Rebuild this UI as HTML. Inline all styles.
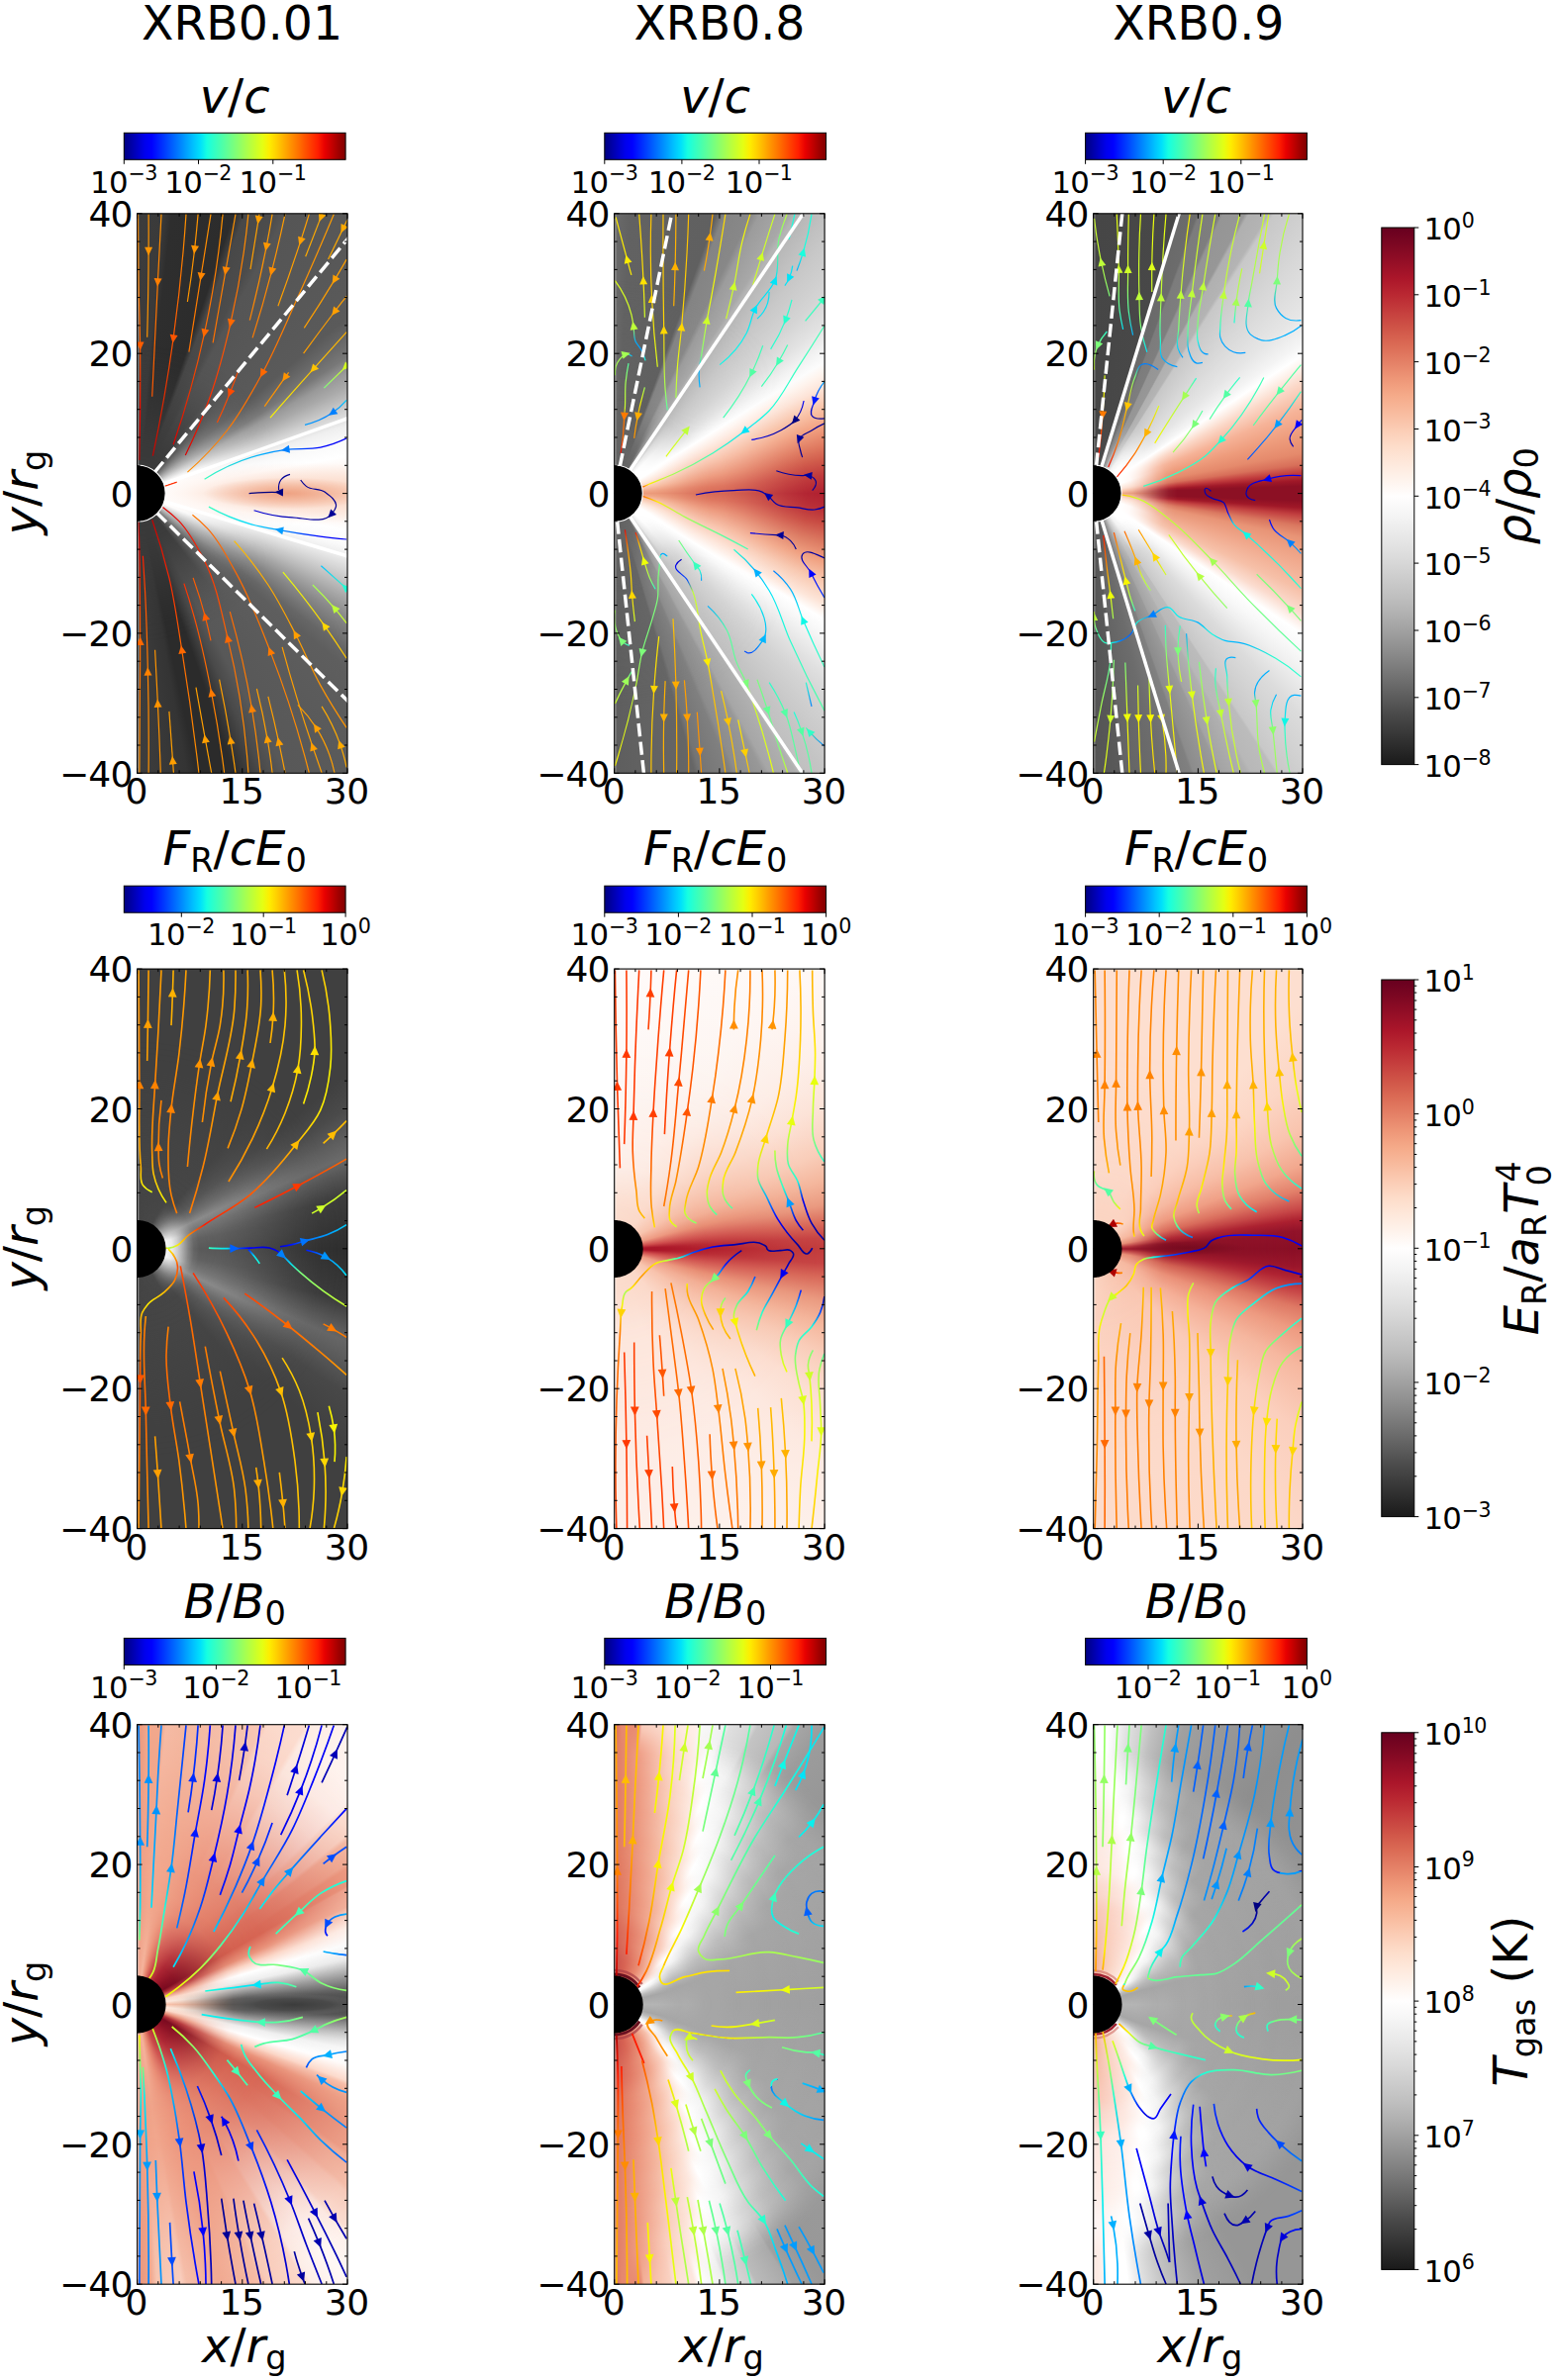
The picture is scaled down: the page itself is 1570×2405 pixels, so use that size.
<!DOCTYPE html>
<html><head><meta charset="utf-8"><title>XRB figure</title>
<style>
html,body{margin:0;padding:0;background:#fff}
#fig{position:relative;width:1570px;height:2405px;overflow:hidden;background:#fff;font-family:"DejaVu Sans","Liberation Sans",sans-serif}
.pb{position:absolute;width:212.4px;height:565.5px;overflow:hidden}
.pb i{position:absolute;left:0;top:0;width:100%;height:100%;display:block}
svg text{font-family:"DejaVu Sans","Liberation Sans",sans-serif;fill:#000}
</style></head><body>
<div id="fig">
<div class="pb" style="left:138.6px;top:215.8px;width:212.4px;background:conic-gradient(from 0deg at 0 50%,#3c3c3c 0deg,#3a3a3a 5deg,#2e2e2e 7deg,#2c2c2c 19deg,#484848 21deg,#4c4c4c 26deg,#555 28deg,#5a5a5a 50deg,#666 53deg,#787878 57deg,#999 60deg,#aaa 63deg,#c0c0c0 66deg,#dedede 70deg,#efefef 72deg,#fafafa 76deg,#fff 80deg,#fdeee6 86deg,#fbe0d2 90deg,#fdeee6 94deg,#fff 100deg,#fafafa 104deg,#ececec 107deg,#d8d8d8 110deg,#bcbcbc 114deg,#a5a5a5 117deg,#888 121deg,#777 124deg,#666 127deg,#5e5e5e 130deg,#5a5a5a 143deg,#585858 152deg,#4a4a4a 156deg,#383838 159deg,#2b2b2b 161deg,#2b2b2b 168deg,#343434 170deg,#383838 174deg,#3e3e3e 180deg)"><i style="background:conic-gradient(from 0deg at 0 50%,#3a3a3a 0deg,#3a3a3a 36deg,#666 44deg,#aaa 54deg,#ddd 62deg,#fff 68deg,#fff 112deg,#ddd 118deg,#aaa 126deg,#666 134deg,#3a3a3a 142deg,#3a3a3a 180deg);-webkit-mask-image:radial-gradient(circle at 0 50%,rgba(0,0,0,1) 30px,rgba(0,0,0,0.93) 50px,rgba(0,0,0,0.74) 70px,rgba(0,0,0,0.5) 90px,rgba(0,0,0,0.26) 110px,rgba(0,0,0,0.07) 130px,rgba(0,0,0,0) 150px);mask-image:radial-gradient(circle at 0 50%,rgba(0,0,0,1) 30px,rgba(0,0,0,0.93) 50px,rgba(0,0,0,0.74) 70px,rgba(0,0,0,0.5) 90px,rgba(0,0,0,0.26) 110px,rgba(0,0,0,0.07) 130px,rgba(0,0,0,0) 150px)"></i><i style="background:radial-gradient(ellipse 86px 16px at 152px 282.5px,rgba(238,160,128,0.95) 0,rgba(238,160,128,0) 100%),radial-gradient(ellipse 155px 31px at 165px 282.5px,rgba(250,200,175,0.65) 0,rgba(250,200,175,0) 100%)"></i></div>
<div class="pb" style="left:620.7px;top:215.8px;width:212.4px;background:conic-gradient(from 0deg at 0 50%,#6a6a6a 0deg,#626262 3deg,#606060 20deg,#848484 21.5deg,#888 26deg,#9c9c9c 27.5deg,#a8a8a8 32deg,#b4b4b4 33deg,#c0c0c0 37deg,#c8c8c8 40deg,#d4d4d4 46deg,#e2e2e2 51deg,#f2f2f2 55deg,#fcfcfc 58deg,#fef4ee 60deg,#fde4d8 63deg,#f8c0a4 68deg,#f2a282 72deg,#e07a60 77deg,#d05a4a 81deg,#c03a3c 85deg,#b02030 90deg,#b82c36 94deg,#c84a42 98deg,#db7860 103deg,#f0a080 108deg,#f8c8b0 113deg,#fde6da 118deg,#fff 121deg,#f8f8f8 124deg,#eee 127deg,#e0e0e0 131deg,#d4d4d4 135deg,#c4c4c4 143deg,#c0c0c0 146deg,#b0b0b0 147deg,#a6a6a6 151deg,#989898 152deg,#8c8c8c 156.5deg,#808080 157.5deg,#747474 163deg,#666 164deg,#626262 173deg,#5e5e5e 180deg)"><i style="background:conic-gradient(from 0deg at 0 50%,#6a6a6a 0deg,#626262 3deg,#606060 20deg,#848484 21.5deg,#888 26deg,#9c9c9c 27.5deg,#a8a8a8 32deg,#b4b4b4 33deg,#c0c0c0 37deg,#c8c8c8 40deg,#d4d4d4 46deg,#e2e2e2 51deg,#f2f2f2 55deg,#fff 58deg,#fde8de 64deg,#f8c6b0 72deg,#ee9e82 80deg,#e07a62 86deg,#d86c58 90deg,#e07a62 94deg,#ee9e82 100deg,#f8c6b0 108deg,#fde8de 116deg,#fff 122deg,#f6f6f6 125deg,#eee 127deg,#e0e0e0 131deg,#d4d4d4 135deg,#c4c4c4 143deg,#c0c0c0 146deg,#b0b0b0 147deg,#a6a6a6 151deg,#989898 152deg,#8c8c8c 156.5deg,#808080 157.5deg,#747474 163deg,#666 164deg,#626262 173deg,#5e5e5e 180deg);-webkit-mask-image:radial-gradient(circle at 0 50%,rgba(0,0,0,1) 90px,rgba(0,0,0,0.93) 110.8px,rgba(0,0,0,0.74) 131.7px,rgba(0,0,0,0.5) 152.5px,rgba(0,0,0,0.26) 173.3px,rgba(0,0,0,0.07) 194.2px,rgba(0,0,0,0) 215px);mask-image:radial-gradient(circle at 0 50%,rgba(0,0,0,1) 90px,rgba(0,0,0,0.93) 110.8px,rgba(0,0,0,0.74) 131.7px,rgba(0,0,0,0.5) 152.5px,rgba(0,0,0,0.26) 173.3px,rgba(0,0,0,0.07) 194.2px,rgba(0,0,0,0) 215px)"></i><i style="background:conic-gradient(from 0deg at 0 50%,#626262 0deg,#666 28deg,#aaa 33deg,#eee 38deg,#fff 44deg,#fff 60deg,#fde8dc 70deg,#f8c4aa 80deg,#f0a888 86deg,#ec9c7c 90deg,#f0a888 94deg,#f8c4aa 100deg,#fde8dc 110deg,#fff 120deg,#fff 136deg,#eee 142deg,#aaa 147deg,#666 152deg,#626262 180deg);-webkit-mask-image:radial-gradient(circle at 0 50%,rgba(0,0,0,1) 30px,rgba(0,0,0,0.93) 41.7px,rgba(0,0,0,0.74) 53.3px,rgba(0,0,0,0.5) 65px,rgba(0,0,0,0.26) 76.7px,rgba(0,0,0,0.07) 88.3px,rgba(0,0,0,0) 100px);mask-image:radial-gradient(circle at 0 50%,rgba(0,0,0,1) 30px,rgba(0,0,0,0.93) 41.7px,rgba(0,0,0,0.74) 53.3px,rgba(0,0,0,0.5) 65px,rgba(0,0,0,0.26) 76.7px,rgba(0,0,0,0.07) 88.3px,rgba(0,0,0,0) 100px)"></i></div>
<div class="pb" style="left:1104.7px;top:215.8px;width:211.3px;background:conic-gradient(from 0deg at 0 50%,#464646 0deg,#484848 16.8deg,#6a6a6a 17.4deg,#6c6c6c 20.3deg,#7c7c7c 20.8deg,#7e7e7e 24.2deg,#959595 24.8deg,#979797 28.4deg,#b0b0b0 29deg,#b4b4b4 32deg,#c8c8c8 32.8deg,#d0d0d0 37deg,#d8d8d8 41deg,#e6e6e6 49deg,#f4f4f4 54deg,#fff 56.5deg,#fdeee6 59deg,#fbd8c8 62deg,#f6b398 68deg,#ee9c7c 74deg,#e58a6c 79deg,#d8705a 82deg,#c03a3c 84.5deg,#a01828 86.5deg,#8c1024 88deg,#8c1024 92deg,#a01828 94deg,#c24040 96deg,#da7860 99deg,#e89476 102deg,#f0a88c 108deg,#f6c0a8 115deg,#fbdccf 120deg,#fff 124deg,#f8f8f8 128deg,#f0f0f0 131deg,#dcdcdc 137deg,#d0d0d0 143deg,#c8c8c8 146.5deg,#bcbcbc 147deg,#b8b8b8 150.5deg,#b0b0b0 151.2deg,#a4a4a4 155.3deg,#9a9a9a 155.8deg,#8c8c8c 160.3deg,#808080 160.8deg,#7c7c7c 162.9deg,#747474 163.4deg,#6c6c6c 167deg,#646464 174deg,#5a5a5a 174.5deg,#545454 180deg)"><i style="background:conic-gradient(from 0deg at 0 50%,#484848 0deg,#4c4c4c 15deg,#888 20deg,#ccc 28deg,#f4f4f4 36deg,#fff 44deg,#fff 70deg,#fde4d8 80deg,#f8c4aa 86deg,#f0a888 90deg,#f8c4aa 94deg,#fde4d8 100deg,#fff 110deg,#fff 136deg,#f4f4f4 144deg,#ccc 152deg,#888 160deg,#5c5c5c 165deg,#585858 180deg);-webkit-mask-image:radial-gradient(circle at 0 50%,rgba(0,0,0,1) 30px,rgba(0,0,0,0.93) 39.2px,rgba(0,0,0,0.74) 48.3px,rgba(0,0,0,0.5) 57.5px,rgba(0,0,0,0.26) 66.7px,rgba(0,0,0,0.07) 75.8px,rgba(0,0,0,0) 85px);mask-image:radial-gradient(circle at 0 50%,rgba(0,0,0,1) 30px,rgba(0,0,0,0.93) 39.2px,rgba(0,0,0,0.74) 48.3px,rgba(0,0,0,0.5) 57.5px,rgba(0,0,0,0.26) 66.7px,rgba(0,0,0,0.07) 75.8px,rgba(0,0,0,0) 85px)"></i></div>
<div class="pb" style="left:138.6px;top:979.1px;width:212.4px;background:conic-gradient(from 0deg at 0 50%,#404040 0deg,#404040 50deg,#4a4a4a 56deg,#5e5e5e 62deg,#6a6a6a 66deg,#555 70deg,#3c3c3c 76deg,#2e2e2e 90deg,#3a3a3a 104deg,#555 110deg,#666 114deg,#5c5c5c 118deg,#484848 125deg,#404040 135deg,#404040 180deg)"><i style="background:conic-gradient(from 0deg at 0 50%,#444 0deg,#464646 40deg,#585858 50deg,#727272 58deg,#8c8c8c 64deg,#787878 70deg,#626262 80deg,#5a5a5a 90deg,#626262 100deg,#787878 110deg,#8c8c8c 116deg,#727272 122deg,#585858 130deg,#464646 140deg,#444 180deg);-webkit-mask-image:radial-gradient(circle at 0 50%,rgba(0,0,0,1) 60px,rgba(0,0,0,0.93) 85px,rgba(0,0,0,0.74) 110px,rgba(0,0,0,0.5) 135px,rgba(0,0,0,0.26) 160px,rgba(0,0,0,0.07) 185px,rgba(0,0,0,0) 210px);mask-image:radial-gradient(circle at 0 50%,rgba(0,0,0,1) 60px,rgba(0,0,0,0.93) 85px,rgba(0,0,0,0.74) 110px,rgba(0,0,0,0.5) 135px,rgba(0,0,0,0.26) 160px,rgba(0,0,0,0.07) 185px,rgba(0,0,0,0) 210px)"></i><i style="background:conic-gradient(from 0deg at 0 50%,#444 0deg,#484848 30deg,#7a7a7a 45deg,#bbb 60deg,#f4f4f4 74deg,#f4f4f4 106deg,#bbb 120deg,#7a7a7a 135deg,#484848 150deg,#444 180deg);-webkit-mask-image:radial-gradient(circle at 0 50%,rgba(0,0,0,1) 30px,rgba(0,0,0,0.93) 35.3px,rgba(0,0,0,0.74) 40.7px,rgba(0,0,0,0.5) 46px,rgba(0,0,0,0.26) 51.3px,rgba(0,0,0,0.07) 56.7px,rgba(0,0,0,0) 62px);mask-image:radial-gradient(circle at 0 50%,rgba(0,0,0,1) 30px,rgba(0,0,0,0.93) 35.3px,rgba(0,0,0,0.74) 40.7px,rgba(0,0,0,0.5) 46px,rgba(0,0,0,0.26) 51.3px,rgba(0,0,0,0.07) 56.7px,rgba(0,0,0,0) 62px)"></i></div>
<div class="pb" style="left:620.7px;top:979.1px;width:212.4px;background:conic-gradient(from 0deg at 0 50%,#fef6f3 0deg,#fdf2ed 30deg,#fdeae2 45deg,#fcdfd2 55deg,#f9cdb9 65deg,#f4b69c 72deg,#ea9a80 78deg,#d96a5a 83deg,#c74444 87deg,#c23c3c 90deg,#c74444 94deg,#d96a5a 98deg,#ea9a80 104deg,#f4b69c 110deg,#f9cdb9 117deg,#fcdfd2 126deg,#fde8df 136deg,#fdece5 150deg,#fdeae2 180deg)"><i style="background:conic-gradient(from 0deg at 0 50%,#fdf0ea 0deg,#fdece5 20deg,#fce4d9 35deg,#f9d0be 50deg,#f6bfa8 60deg,#f2ae94 68deg,#e88e74 75deg,#d05450 82deg,#b82a34 87deg,#b01c2c 90deg,#b82a34 93deg,#d05450 98deg,#e88e74 105deg,#f2ae94 112deg,#f6bfa8 120deg,#f9d0be 130deg,#fce0d4 145deg,#fde6dc 160deg,#fde6dc 180deg);-webkit-mask-image:radial-gradient(circle at 0 50%,rgba(0,0,0,1) 70px,rgba(0,0,0,0.93) 92.5px,rgba(0,0,0,0.74) 115px,rgba(0,0,0,0.5) 137.5px,rgba(0,0,0,0.26) 160px,rgba(0,0,0,0.07) 182.5px,rgba(0,0,0,0) 205px);mask-image:radial-gradient(circle at 0 50%,rgba(0,0,0,1) 70px,rgba(0,0,0,0.93) 92.5px,rgba(0,0,0,0.74) 115px,rgba(0,0,0,0.5) 137.5px,rgba(0,0,0,0.26) 160px,rgba(0,0,0,0.07) 182.5px,rgba(0,0,0,0) 205px)"></i><i style="background:conic-gradient(from 0deg at 0 50%,#fbdccd 0deg,#fbd8c8 40deg,#f8c4ae 60deg,#ee9c84 74deg,#cf4c4c 83deg,#aa1629 88deg,#aa1629 92deg,#cf4c4c 97deg,#ee9c84 106deg,#f8c4ae 120deg,#fbd8c8 140deg,#fbdccd 180deg);-webkit-mask-image:radial-gradient(circle at 0 50%,rgba(0,0,0,1) 30px,rgba(0,0,0,0.93) 40.8px,rgba(0,0,0,0.74) 51.7px,rgba(0,0,0,0.5) 62.5px,rgba(0,0,0,0.26) 73.3px,rgba(0,0,0,0.07) 84.2px,rgba(0,0,0,0) 95px);mask-image:radial-gradient(circle at 0 50%,rgba(0,0,0,1) 30px,rgba(0,0,0,0.93) 40.8px,rgba(0,0,0,0.74) 51.7px,rgba(0,0,0,0.5) 62.5px,rgba(0,0,0,0.26) 73.3px,rgba(0,0,0,0.07) 84.2px,rgba(0,0,0,0) 95px)"></i><i style="background:linear-gradient(to bottom,rgba(255,255,255,.55) 0,rgba(255,255,255,0) 33%,rgba(255,255,255,0) 78%,rgba(255,255,255,.25) 100%)"></i></div>
<div class="pb" style="left:1104.7px;top:979.1px;width:211.3px;background:conic-gradient(from 0deg at 0 50%,#fddfd0 0deg,#fddfd0 40deg,#fcd6c5 50deg,#f9c4ae 60deg,#f2a88e 68deg,#e2806a 74deg,#c84848 79deg,#ac2030 82deg,#92132a 85deg,#8a0f26 90deg,#9a162b 95deg,#b02232 98deg,#c84848 102deg,#de7864 106deg,#ee9c82 112deg,#f6b8a0 120deg,#fbcfbd 132deg,#fcd8c8 145deg,#fcdccc 180deg)"><i style="background:conic-gradient(from 0deg at 0 50%,#fcdaca 0deg,#fcd8c8 30deg,#fbcdba 45deg,#f6b8a0 58deg,#ee9a80 68deg,#d86a5a 76deg,#b02a36 82deg,#8c1226 86deg,#8c1226 92deg,#a82030 96deg,#d06052 102deg,#ea9078 110deg,#f4ae96 120deg,#fac8b4 135deg,#fbd2c0 180deg);-webkit-mask-image:radial-gradient(circle at 0 50%,rgba(0,0,0,1) 70px,rgba(0,0,0,0.93) 92.5px,rgba(0,0,0,0.74) 115px,rgba(0,0,0,0.5) 137.5px,rgba(0,0,0,0.26) 160px,rgba(0,0,0,0.07) 182.5px,rgba(0,0,0,0) 205px);mask-image:radial-gradient(circle at 0 50%,rgba(0,0,0,1) 70px,rgba(0,0,0,0.93) 92.5px,rgba(0,0,0,0.74) 115px,rgba(0,0,0,0.5) 137.5px,rgba(0,0,0,0.26) 160px,rgba(0,0,0,0.07) 182.5px,rgba(0,0,0,0) 205px)"></i><i style="background:conic-gradient(from 0deg at 0 50%,#fbd4c2 0deg,#fbd4c2 50deg,#f6baa2 70deg,#e89078 80deg,#b83a40 86deg,#9a182c 90deg,#c04848 94deg,#e89078 100deg,#f6baa2 115deg,#fbd4c2 180deg);-webkit-mask-image:radial-gradient(circle at 0 50%,rgba(0,0,0,1) 30px,rgba(0,0,0,0.93) 38.3px,rgba(0,0,0,0.74) 46.7px,rgba(0,0,0,0.5) 55px,rgba(0,0,0,0.26) 63.3px,rgba(0,0,0,0.07) 71.7px,rgba(0,0,0,0) 80px);mask-image:radial-gradient(circle at 0 50%,rgba(0,0,0,1) 30px,rgba(0,0,0,0.93) 38.3px,rgba(0,0,0,0.74) 46.7px,rgba(0,0,0,0.5) 55px,rgba(0,0,0,0.26) 63.3px,rgba(0,0,0,0.07) 71.7px,rgba(0,0,0,0) 80px)"></i><i style="background:radial-gradient(ellipse 60px 7px at 95px 282px,rgba(110,8,30,0.75) 0,rgba(110,8,30,0) 100%)"></i></div>
<div class="pb" style="left:138.6px;top:1742.7px;width:212.4px;background:conic-gradient(from 0deg at 0 50%,#e8957a 0deg,#f2a88c 2deg,#f2a88c 5deg,#f6bca6 5.8deg,#f4b8a0 10deg,#f8c8b6 24deg,#fbd8ca 25deg,#fcdccf 31deg,#fdece4 32deg,#fef2ec 37deg,#fff4f0 46deg,#fde4d8 47deg,#fde0d2 51deg,#f8c4ae 52deg,#f6bca4 56deg,#f2a88e 57deg,#f2a88e 60.5deg,#f6bca6 61deg,#f8c4b0 65deg,#fde0d4 66deg,#fff 70deg,#f8f8f8 74deg,#e8e8e8 77.5deg,#bbb 80deg,#888 83deg,#606060 86deg,#444 90deg,#5a5a5a 93deg,#999 95deg,#e4e4e4 98deg,#fff 100deg,#fff 105deg,#fdeae2 108deg,#fde0d4 110deg,#f6bca6 111deg,#f2ac92 115deg,#f2ae96 125deg,#f6bea8 126deg,#f7c4b0 131deg,#f9d0c0 132deg,#fce0d4 137deg,#fef0ea 138deg,#fff8f5 143deg,#fdeee8 148deg,#fbd8ca 149deg,#f9ccba 155deg,#f6bea8 156deg,#f2ac94 163deg,#f2ac94 164deg,#f6c0ac 170deg,#fad0c0 171deg,#f8c8b4 176deg,#f0a48a 177.5deg,#e8957a 180deg)"><i style="background:conic-gradient(from 0deg at 0 50%,#ee9c82 0deg,#f2a88e 6deg,#f0a48a 12deg,#ea9078 25deg,#e27e68 40deg,#d86a58 52deg,#d4604f 60deg,#e89078 66deg,#fbd4c4 70deg,#fff 74deg,#eee 78deg,#999 83deg,#555 87deg,#444 90deg,#555 93deg,#999 97deg,#eee 102deg,#fff 106deg,#fbd4c4 110deg,#e89078 114deg,#d4604f 120deg,#d86a58 130deg,#e27e68 145deg,#ea9078 160deg,#f0a48a 172deg,#ee9c82 180deg);-webkit-mask-image:radial-gradient(circle at 0 50%,rgba(0,0,0,1) 110px,rgba(0,0,0,0.93) 143.3px,rgba(0,0,0,0.74) 176.7px,rgba(0,0,0,0.5) 210px,rgba(0,0,0,0.26) 243.3px,rgba(0,0,0,0.07) 276.7px,rgba(0,0,0,0) 310px);mask-image:radial-gradient(circle at 0 50%,rgba(0,0,0,1) 110px,rgba(0,0,0,0.93) 143.3px,rgba(0,0,0,0.74) 176.7px,rgba(0,0,0,0.5) 210px,rgba(0,0,0,0.26) 243.3px,rgba(0,0,0,0.07) 276.7px,rgba(0,0,0,0) 310px)"></i><i style="background:conic-gradient(from 0deg at 0 50%,#f0a088 0deg,#f4b49c 8deg,#e88870 14deg,#c84848 22deg,#a82030 35deg,#8a1024 50deg,#7a0a20 60deg,#b03038 66deg,#e89078 72deg,#fbd8c8 78deg,#fde8dc 84deg,#f8c0a8 90deg,#fde8dc 96deg,#fbd8c8 102deg,#e89078 108deg,#b03038 114deg,#7a0a20 120deg,#8a1024 130deg,#a82030 145deg,#c84848 158deg,#e88870 166deg,#f4b49c 172deg,#f0a088 180deg);-webkit-mask-image:radial-gradient(circle at 0 50%,rgba(0,0,0,1) 32px,rgba(0,0,0,0.93) 45px,rgba(0,0,0,0.74) 58px,rgba(0,0,0,0.5) 71px,rgba(0,0,0,0.26) 84px,rgba(0,0,0,0.07) 97px,rgba(0,0,0,0) 110px);mask-image:radial-gradient(circle at 0 50%,rgba(0,0,0,1) 32px,rgba(0,0,0,0.93) 45px,rgba(0,0,0,0.74) 58px,rgba(0,0,0,0.5) 71px,rgba(0,0,0,0.26) 84px,rgba(0,0,0,0.07) 97px,rgba(0,0,0,0) 110px)"></i></div>
<div class="pb" style="left:620.7px;top:1742.7px;width:212.4px;background:conic-gradient(from 0deg at 0 50%,#d86a58 0deg,#e88a70 1.5deg,#e88a70 5deg,#fbd4c4 5.6deg,#fcdccf 10deg,#fde4da 11deg,#fff0ea 16.5deg,#f8f8f8 17.5deg,#f0f0f0 21.5deg,#e0e0e0 22.5deg,#d4d4d4 26.5deg,#c4c4c4 27.2deg,#b8b8b8 32deg,#a8a8a8 32.8deg,#9c9c9c 37deg,#979797 45deg,#a0a0a0 90deg,#999 135deg,#989898 143deg,#a0a0a0 147.5deg,#aaa 148deg,#bbb 153deg,#ccc 153.6deg,#ddd 158deg,#eee 158.6deg,#fff 163deg,#fde8e0 164deg,#fde0d4 168deg,#fbd4c4 168.6deg,#f4b49c 174deg,#e88a70 174.6deg,#e88a70 178.5deg,#d86a58 180deg)"><i style="background:conic-gradient(from 0deg at 0 50%,#e07a62 0deg,#ee9c84 5.6deg,#fad0c0 12.4deg,#fdeae2 18deg,#fff 20.3deg,#f4f4f4 25.8deg,#d8d8d8 31.3deg,#bcbcbc 37.9deg,#a6a6a6 46.7deg,#9e9e9e 90deg,#a6a6a6 133.3deg,#bcbcbc 142.1deg,#d8d8d8 148.7deg,#f4f4f4 154.2deg,#fff 159.7deg,#fdeae2 162deg,#fad0c0 167.6deg,#ee9c84 174.4deg,#e07a62 180deg);-webkit-mask-image:radial-gradient(circle at 0 50%,rgba(0,0,0,1) 248px,rgba(0,0,0,0.93) 255.5px,rgba(0,0,0,0.74) 263px,rgba(0,0,0,0.5) 270.5px,rgba(0,0,0,0.26) 278px,rgba(0,0,0,0.07) 285.5px,rgba(0,0,0,0) 293px);mask-image:radial-gradient(circle at 0 50%,rgba(0,0,0,1) 248px,rgba(0,0,0,0.93) 255.5px,rgba(0,0,0,0.74) 263px,rgba(0,0,0,0.5) 270.5px,rgba(0,0,0,0.26) 278px,rgba(0,0,0,0.07) 285.5px,rgba(0,0,0,0) 293px)"></i><i style="background:conic-gradient(from 0deg at 0 50%,#e07961 0deg,#ed9a82 6.4deg,#f9ccb9 14.1deg,#fde9e0 20.5deg,#fff 23.3deg,#f4f4f4 29.2deg,#d8d8d8 35.1deg,#bcbcbc 42.1deg,#a6a6a6 51.5deg,#9f9f9f 90deg,#a6a6a6 128.5deg,#bcbcbc 137.9deg,#d8d8d8 144.9deg,#f4f4f4 150.8deg,#fff 156.7deg,#fde9e0 159.5deg,#f9ccb9 165.9deg,#ed9a82 173.6deg,#e07961 180deg);-webkit-mask-image:radial-gradient(circle at 0 50%,rgba(0,0,0,1) 218px,rgba(0,0,0,0.93) 223px,rgba(0,0,0,0.74) 228px,rgba(0,0,0,0.5) 233px,rgba(0,0,0,0.26) 238px,rgba(0,0,0,0.07) 243px,rgba(0,0,0,0) 248px);mask-image:radial-gradient(circle at 0 50%,rgba(0,0,0,1) 218px,rgba(0,0,0,0.93) 223px,rgba(0,0,0,0.74) 228px,rgba(0,0,0,0.5) 233px,rgba(0,0,0,0.26) 238px,rgba(0,0,0,0.07) 243px,rgba(0,0,0,0) 248px)"></i><i style="background:conic-gradient(from 0deg at 0 50%,#e07860 0deg,#ec9981 7.2deg,#f8c7b2 15.9deg,#fde8df 23.1deg,#fff 26.3deg,#f4f4f4 32.7deg,#d8d8d8 39.1deg,#bcbcbc 46.7deg,#a6a6a6 56.9deg,#a0a0a0 90deg,#a6a6a6 123.1deg,#bcbcbc 133.3deg,#d8d8d8 140.9deg,#f4f4f4 147.3deg,#fff 153.7deg,#fde8df 156.9deg,#f8c7b2 164.1deg,#ec9981 172.8deg,#e07860 180deg);-webkit-mask-image:radial-gradient(circle at 0 50%,rgba(0,0,0,1) 188px,rgba(0,0,0,0.93) 193px,rgba(0,0,0,0.74) 198px,rgba(0,0,0,0.5) 203px,rgba(0,0,0,0.26) 208px,rgba(0,0,0,0.07) 213px,rgba(0,0,0,0) 218px);mask-image:radial-gradient(circle at 0 50%,rgba(0,0,0,1) 188px,rgba(0,0,0,0.93) 193px,rgba(0,0,0,0.74) 198px,rgba(0,0,0,0.5) 203px,rgba(0,0,0,0.26) 208px,rgba(0,0,0,0.07) 213px,rgba(0,0,0,0) 218px)"></i><i style="background:conic-gradient(from 0deg at 0 50%,#df775e 0deg,#eb967e 8.1deg,#f7c2ab 17.9deg,#fde7dd 26deg,#fff 29.7deg,#f4f4f4 36.7deg,#d8d8d8 43.6deg,#bcbcbc 51.9deg,#a6a6a6 63deg,#a1a1a1 90deg,#a6a6a6 117deg,#bcbcbc 128.1deg,#d8d8d8 136.4deg,#f4f4f4 143.3deg,#fff 150.3deg,#fde7dd 154deg,#f7c2ab 162.1deg,#eb967e 171.9deg,#df775e 180deg);-webkit-mask-image:radial-gradient(circle at 0 50%,rgba(0,0,0,1) 158px,rgba(0,0,0,0.93) 163px,rgba(0,0,0,0.74) 168px,rgba(0,0,0,0.5) 173px,rgba(0,0,0,0.26) 178px,rgba(0,0,0,0.07) 183px,rgba(0,0,0,0) 188px);mask-image:radial-gradient(circle at 0 50%,rgba(0,0,0,1) 158px,rgba(0,0,0,0.93) 163px,rgba(0,0,0,0.74) 168px,rgba(0,0,0,0.5) 173px,rgba(0,0,0,0.26) 178px,rgba(0,0,0,0.07) 183px,rgba(0,0,0,0) 188px)"></i><i style="background:conic-gradient(from 0deg at 0 50%,#de735b 0deg,#ea9179 9.2deg,#f6bba4 20.4deg,#fde3d8 29.6deg,#fff 34deg,#f4f4f4 41.5deg,#d8d8d8 49deg,#bcbcbc 58deg,#a6a6a6 70deg,#a3a3a3 90deg,#a6a6a6 110deg,#bcbcbc 122deg,#d8d8d8 131deg,#f4f4f4 138.5deg,#fff 146deg,#fde3d8 150.4deg,#f6bba4 159.7deg,#ea9179 170.8deg,#de735b 180deg);-webkit-mask-image:radial-gradient(circle at 0 50%,rgba(0,0,0,1) 128px,rgba(0,0,0,0.93) 133px,rgba(0,0,0,0.74) 138px,rgba(0,0,0,0.5) 143px,rgba(0,0,0,0.26) 148px,rgba(0,0,0,0.07) 153px,rgba(0,0,0,0) 158px);mask-image:radial-gradient(circle at 0 50%,rgba(0,0,0,1) 128px,rgba(0,0,0,0.93) 133px,rgba(0,0,0,0.74) 138px,rgba(0,0,0,0.5) 143px,rgba(0,0,0,0.26) 148px,rgba(0,0,0,0.07) 153px,rgba(0,0,0,0) 158px)"></i><i style="background:conic-gradient(from 0deg at 0 50%,#dc7058 0deg,#e88c74 10.8deg,#f4b49c 23.7deg,#fde0d4 34.4deg,#fff 40.4deg,#f4f4f4 47deg,#d8d8d8 53.6deg,#bcbcbc 61.5deg,#a6a6a6 72deg,#a6a6a6 90deg,#a6a6a6 108deg,#bcbcbc 118.5deg,#d8d8d8 126.4deg,#f4f4f4 133deg,#fff 139.6deg,#fde0d4 145.6deg,#f4b49c 156.3deg,#e88c74 169.2deg,#dc7058 180deg);-webkit-mask-image:radial-gradient(circle at 0 50%,rgba(0,0,0,1) 98px,rgba(0,0,0,0.93) 103px,rgba(0,0,0,0.74) 108px,rgba(0,0,0,0.5) 113px,rgba(0,0,0,0.26) 118px,rgba(0,0,0,0.07) 123px,rgba(0,0,0,0) 128px);mask-image:radial-gradient(circle at 0 50%,rgba(0,0,0,1) 98px,rgba(0,0,0,0.93) 103px,rgba(0,0,0,0.74) 108px,rgba(0,0,0,0.5) 113px,rgba(0,0,0,0.26) 118px,rgba(0,0,0,0.07) 123px,rgba(0,0,0,0) 128px)"></i><i style="background:conic-gradient(from 0deg at 0 50%,#d26051 0deg,#e07864 12.5deg,#ee9f86 27.5deg,#facebd 40deg,#fff 47.8deg,#f4f4f4 53.3deg,#d8d8d8 58.8deg,#bcbcbc 65.4deg,#a6a6a6 74.2deg,#adadad 90deg,#a6a6a6 105.8deg,#bcbcbc 114.6deg,#d8d8d8 121.2deg,#f4f4f4 126.7deg,#fff 132.2deg,#facebd 140deg,#ee9f86 152.5deg,#e07864 167.5deg,#d26051 180deg);-webkit-mask-image:radial-gradient(circle at 0 50%,rgba(0,0,0,1) 68px,rgba(0,0,0,0.93) 73px,rgba(0,0,0,0.74) 78px,rgba(0,0,0,0.5) 83px,rgba(0,0,0,0.26) 88px,rgba(0,0,0,0.07) 93px,rgba(0,0,0,0) 98px);mask-image:radial-gradient(circle at 0 50%,rgba(0,0,0,1) 68px,rgba(0,0,0,0.93) 73px,rgba(0,0,0,0.74) 78px,rgba(0,0,0,0.5) 83px,rgba(0,0,0,0.26) 88px,rgba(0,0,0,0.07) 93px,rgba(0,0,0,0) 98px)"></i><i style="background:conic-gradient(from 0deg at 0 50%,#c8504a 0deg,#d86454 14.8deg,#e88a70 32.5deg,#f6bca6 47.2deg,#fff 57.4deg,#f4f4f4 61.4deg,#d8d8d8 65.4deg,#bcbcbc 70.2deg,#a6a6a6 76.6deg,#b4b4b4 90deg,#a6a6a6 103.4deg,#bcbcbc 109.8deg,#d8d8d8 114.6deg,#f4f4f4 118.6deg,#fff 122.6deg,#f6bca6 132.8deg,#e88a70 147.6deg,#d86454 165.2deg,#c8504a 180deg);-webkit-mask-image:radial-gradient(circle at 0 50%,rgba(0,0,0,1) 38px,rgba(0,0,0,0.93) 43px,rgba(0,0,0,0.74) 48px,rgba(0,0,0,0.5) 53px,rgba(0,0,0,0.26) 58px,rgba(0,0,0,0.07) 63px,rgba(0,0,0,0) 68px);mask-image:radial-gradient(circle at 0 50%,rgba(0,0,0,1) 38px,rgba(0,0,0,0.93) 43px,rgba(0,0,0,0.74) 48px,rgba(0,0,0,0.5) 53px,rgba(0,0,0,0.26) 58px,rgba(0,0,0,0.07) 63px,rgba(0,0,0,0) 68px)"></i></div>
<div class="pb" style="left:1104.7px;top:1742.7px;width:211.3px;background:conic-gradient(from 0deg at 0 50%,#fff 0deg,#fff 3deg,#f0f0f0 5deg,#e0e0e0 7deg,#d0d0d0 10deg,#c0c0c0 12deg,#b0b0b0 15deg,#a0a0a0 18deg,#989898 25deg,#8e8e8e 37deg,#949494 60deg,#a8a8a8 90deg,#969696 120deg,#969696 150deg,#a0a0a0 158deg,#b0b0b0 162deg,#c4c4c4 166deg,#e0e0e0 170deg,#fff 173deg,#fff 177deg,#fdeee8 178.5deg,#fde8e0 180deg)"><i style="background:conic-gradient(from 0deg at 0 50%,#fef4f2 0deg,#fef6f4 1.6deg,#fefaf8 3.6deg,#ffffff 5.2deg,#fff 5.9deg,#f4f4f4 9.1deg,#d8d8d8 13.3deg,#bcbcbc 18.4deg,#a6a6a6 25.2deg,#9e9e9e 90deg,#a6a6a6 150.5deg,#bcbcbc 157.3deg,#d8d8d8 162.4deg,#f4f4f4 166.6deg,#fff 170.3deg,#ffffff 171.3deg,#fefaf8 174.1deg,#fef6f4 177.3deg,#fef4f2 180deg);-webkit-mask-image:radial-gradient(circle at 0 50%,rgba(0,0,0,1) 218px,rgba(0,0,0,0.93) 225.5px,rgba(0,0,0,0.74) 233px,rgba(0,0,0,0.5) 240.5px,rgba(0,0,0,0.26) 248px,rgba(0,0,0,0.07) 255.5px,rgba(0,0,0,0) 263px);mask-image:radial-gradient(circle at 0 50%,rgba(0,0,0,1) 218px,rgba(0,0,0,0.93) 225.5px,rgba(0,0,0,0.74) 233px,rgba(0,0,0,0.5) 240.5px,rgba(0,0,0,0.26) 248px,rgba(0,0,0,0.07) 255.5px,rgba(0,0,0,0) 263px)"></i><i style="background:conic-gradient(from 0deg at 0 50%,#fdeae4 0deg,#fdeee8 2.5deg,#fef4f0 5.6deg,#ffffff 8.1deg,#fff 9.2deg,#f4f4f4 12.9deg,#d8d8d8 17.4deg,#bcbcbc 22.8deg,#a6a6a6 30deg,#9e9e9e 90deg,#a6a6a6 144.7deg,#bcbcbc 151.8deg,#d8d8d8 157.2deg,#f4f4f4 161.8deg,#fff 166deg,#ffffff 167.6deg,#fef4f0 171.4deg,#fdeee8 176.1deg,#fdeae4 180deg);-webkit-mask-image:radial-gradient(circle at 0 50%,rgba(0,0,0,1) 188px,rgba(0,0,0,0.93) 193px,rgba(0,0,0,0.74) 198px,rgba(0,0,0,0.5) 203px,rgba(0,0,0,0.26) 208px,rgba(0,0,0,0.07) 213px,rgba(0,0,0,0) 218px);mask-image:radial-gradient(circle at 0 50%,rgba(0,0,0,1) 188px,rgba(0,0,0,0.93) 193px,rgba(0,0,0,0.74) 198px,rgba(0,0,0,0.5) 203px,rgba(0,0,0,0.26) 208px,rgba(0,0,0,0.07) 213px,rgba(0,0,0,0) 218px)"></i><i style="background:conic-gradient(from 0deg at 0 50%,#fde7e0 0deg,#fdece6 3.7deg,#fef2ee 8.1deg,#ffffff 11.8deg,#fff 13.2deg,#f4f4f4 18deg,#d8d8d8 23.5deg,#bcbcbc 30.1deg,#a6a6a6 38.9deg,#a0a0a0 90deg,#a6a6a6 136.3deg,#bcbcbc 145.1deg,#d8d8d8 151.7deg,#f4f4f4 157.2deg,#fff 162.5deg,#ffffff 164.4deg,#fef2ee 169.3deg,#fdece6 175.1deg,#fde7e0 180deg);-webkit-mask-image:radial-gradient(circle at 0 50%,rgba(0,0,0,1) 163px,rgba(0,0,0,0.93) 167.2px,rgba(0,0,0,0.74) 171.3px,rgba(0,0,0,0.5) 175.5px,rgba(0,0,0,0.26) 179.7px,rgba(0,0,0,0.07) 183.8px,rgba(0,0,0,0) 188px);mask-image:radial-gradient(circle at 0 50%,rgba(0,0,0,1) 163px,rgba(0,0,0,0.93) 167.2px,rgba(0,0,0,0.74) 171.3px,rgba(0,0,0,0.5) 175.5px,rgba(0,0,0,0.26) 179.7px,rgba(0,0,0,0.07) 183.8px,rgba(0,0,0,0) 188px)"></i><i style="background:conic-gradient(from 0deg at 0 50%,#fde4dc 0deg,#fdeae4 4.8deg,#fef0ec 10.6deg,#ffffff 15.4deg,#fff 17.3deg,#f4f4f4 23.1deg,#d8d8d8 29.6deg,#bcbcbc 37.4deg,#a6a6a6 47.8deg,#a2a2a2 90deg,#a6a6a6 127.3deg,#bcbcbc 137.7deg,#d8d8d8 145.5deg,#f4f4f4 152deg,#fff 158.3deg,#ffffff 160.7deg,#fef0ec 166.8deg,#fdeae4 174deg,#fde4dc 180deg);-webkit-mask-image:radial-gradient(circle at 0 50%,rgba(0,0,0,1) 138px,rgba(0,0,0,0.93) 142.2px,rgba(0,0,0,0.74) 146.3px,rgba(0,0,0,0.5) 150.5px,rgba(0,0,0,0.26) 154.7px,rgba(0,0,0,0.07) 158.8px,rgba(0,0,0,0) 163px);mask-image:radial-gradient(circle at 0 50%,rgba(0,0,0,1) 138px,rgba(0,0,0,0.93) 142.2px,rgba(0,0,0,0.74) 146.3px,rgba(0,0,0,0.5) 150.5px,rgba(0,0,0,0.26) 154.7px,rgba(0,0,0,0.07) 158.8px,rgba(0,0,0,0) 163px)"></i><i style="background:conic-gradient(from 0deg at 0 50%,#fad4c7 0deg,#fbddd3 7.1deg,#fde8e1 15.6deg,#fef7f4 22.8deg,#fff 25.6deg,#f4f4f4 33deg,#d8d8d8 40.5deg,#bcbcbc 49.5deg,#a6a6a6 61.5deg,#a5a5a5 90deg,#a6a6a6 118.4deg,#bcbcbc 130.4deg,#d8d8d8 139.4deg,#f4f4f4 146.9deg,#fff 154.3deg,#fef7f4 157.2deg,#fde8e1 164.3deg,#fbddd3 172.9deg,#fad4c7 180deg);-webkit-mask-image:radial-gradient(circle at 0 50%,rgba(0,0,0,1) 115px,rgba(0,0,0,0.93) 118.8px,rgba(0,0,0,0.74) 122.7px,rgba(0,0,0,0.5) 126.5px,rgba(0,0,0,0.26) 130.3px,rgba(0,0,0,0.07) 134.2px,rgba(0,0,0,0) 138px);mask-image:radial-gradient(circle at 0 50%,rgba(0,0,0,1) 115px,rgba(0,0,0,0.93) 118.8px,rgba(0,0,0,0.74) 122.7px,rgba(0,0,0,0.5) 126.5px,rgba(0,0,0,0.26) 130.3px,rgba(0,0,0,0.07) 134.2px,rgba(0,0,0,0) 138px)"></i><i style="background:conic-gradient(from 0deg at 0 50%,#f8c4b2 0deg,#fad0c2 9.4deg,#fce0d6 20.6deg,#fef0ea 30deg,#fff 34.1deg,#f4f4f4 42.6deg,#d8d8d8 51.1deg,#bcbcbc 61.3deg,#a6a6a6 74.9deg,#a8a8a8 90deg,#a6a6a6 109.8deg,#bcbcbc 123.4deg,#d8d8d8 133.6deg,#f4f4f4 142.1deg,#fff 150.5deg,#fef0ea 153.7deg,#fce0d6 161.9deg,#fad0c2 171.8deg,#f8c4b2 180deg);-webkit-mask-image:radial-gradient(circle at 0 50%,rgba(0,0,0,1) 93px,rgba(0,0,0,0.93) 96.7px,rgba(0,0,0,0.74) 100.3px,rgba(0,0,0,0.5) 104px,rgba(0,0,0,0.26) 107.7px,rgba(0,0,0,0.07) 111.3px,rgba(0,0,0,0) 115px);mask-image:radial-gradient(circle at 0 50%,rgba(0,0,0,1) 93px,rgba(0,0,0,0.93) 96.7px,rgba(0,0,0,0.74) 100.3px,rgba(0,0,0,0.5) 104px,rgba(0,0,0,0.26) 107.7px,rgba(0,0,0,0.07) 111.3px,rgba(0,0,0,0) 115px)"></i><i style="background:conic-gradient(from 0deg at 0 50%,#f4b8a3 0deg,#f9ccbb 11.6deg,#fcded3 25.6deg,#feefe9 37.3deg,#fff 44.1deg,#f4f4f4 50.4deg,#d8d8d8 56.6deg,#bcbcbc 64.2deg,#a6a6a6 74.3deg,#aeaeae 90deg,#a6a6a6 111.5deg,#bcbcbc 121.6deg,#d8d8d8 129.1deg,#f4f4f4 135.4deg,#fff 141.7deg,#feefe9 147.4deg,#fcded3 157.6deg,#f9ccbb 169.8deg,#f4b8a3 180deg);-webkit-mask-image:radial-gradient(circle at 0 50%,rgba(0,0,0,1) 66px,rgba(0,0,0,0.93) 70.5px,rgba(0,0,0,0.74) 75px,rgba(0,0,0,0.5) 79.5px,rgba(0,0,0,0.26) 84px,rgba(0,0,0,0.07) 88.5px,rgba(0,0,0,0) 93px);mask-image:radial-gradient(circle at 0 50%,rgba(0,0,0,1) 66px,rgba(0,0,0,0.93) 70.5px,rgba(0,0,0,0.74) 75px,rgba(0,0,0,0.5) 79.5px,rgba(0,0,0,0.26) 84px,rgba(0,0,0,0.07) 88.5px,rgba(0,0,0,0) 93px)"></i><i style="background:conic-gradient(from 0deg at 0 50%,#f0ac94 0deg,#f8c8b4 14deg,#fbdccf 30.8deg,#fdeee8 44.8deg,#fff 54.4deg,#f4f4f4 58.4deg,#d8d8d8 62.4deg,#bcbcbc 67.2deg,#a6a6a6 73.6deg,#b4b4b4 90deg,#a6a6a6 112.9deg,#bcbcbc 119.3deg,#d8d8d8 124.1deg,#f4f4f4 128.1deg,#fff 132.1deg,#fdeee8 140.4deg,#fbdccf 152.8deg,#f8c8b4 167.6deg,#f0ac94 180deg);-webkit-mask-image:radial-gradient(circle at 0 50%,rgba(0,0,0,1) 38px,rgba(0,0,0,0.93) 42.7px,rgba(0,0,0,0.74) 47.3px,rgba(0,0,0,0.5) 52px,rgba(0,0,0,0.26) 56.7px,rgba(0,0,0,0.07) 61.3px,rgba(0,0,0,0) 66px);mask-image:radial-gradient(circle at 0 50%,rgba(0,0,0,1) 38px,rgba(0,0,0,0.93) 42.7px,rgba(0,0,0,0.74) 47.3px,rgba(0,0,0,0.5) 52px,rgba(0,0,0,0.26) 56.7px,rgba(0,0,0,0.07) 61.3px,rgba(0,0,0,0) 66px)"></i></div>
<svg width="1570" height="2405" viewBox="0 0 1570 2405" style="position:absolute;left:0;top:0">
<defs><linearGradient id="gj" x1="0" y1="0" x2="1" y2="0"><stop offset="0%" stop-color="#000080"/><stop offset="3.1%" stop-color="#0000a4"/><stop offset="6.2%" stop-color="#0000c8"/><stop offset="9.4%" stop-color="#0000ed"/><stop offset="12.5%" stop-color="#0000ff"/><stop offset="15.6%" stop-color="#0020ff"/><stop offset="18.8%" stop-color="#0040ff"/><stop offset="21.9%" stop-color="#0060ff"/><stop offset="25%" stop-color="#0080ff"/><stop offset="28.1%" stop-color="#00a0ff"/><stop offset="31.2%" stop-color="#00c0ff"/><stop offset="34.4%" stop-color="#00e0fb"/><stop offset="37.5%" stop-color="#16ffe1"/><stop offset="40.6%" stop-color="#30ffc7"/><stop offset="43.8%" stop-color="#49ffad"/><stop offset="46.9%" stop-color="#63ff94"/><stop offset="50%" stop-color="#7dff7a"/><stop offset="53.1%" stop-color="#97ff60"/><stop offset="56.2%" stop-color="#b1ff46"/><stop offset="59.4%" stop-color="#caff2c"/><stop offset="62.5%" stop-color="#e4ff13"/><stop offset="65.6%" stop-color="#feed00"/><stop offset="68.8%" stop-color="#ffd000"/><stop offset="71.9%" stop-color="#ffb200"/><stop offset="75%" stop-color="#ff9400"/><stop offset="78.1%" stop-color="#ff7700"/><stop offset="81.2%" stop-color="#ff5900"/><stop offset="84.4%" stop-color="#ff3b00"/><stop offset="87.5%" stop-color="#ff1e00"/><stop offset="90.6%" stop-color="#e80000"/><stop offset="93.8%" stop-color="#c40000"/><stop offset="96.9%" stop-color="#9f0000"/><stop offset="100%" stop-color="#800000"/></linearGradient><linearGradient id="gr" x1="0" y1="1" x2="0" y2="0"><stop offset="0%" stop-color="#1a1a1a"/><stop offset="3.1%" stop-color="#2a2a2a"/><stop offset="6.2%" stop-color="#3a3a3a"/><stop offset="9.4%" stop-color="#4a4a4a"/><stop offset="12.5%" stop-color="#5c5c5c"/><stop offset="15.6%" stop-color="#6e6e6e"/><stop offset="18.8%" stop-color="#808080"/><stop offset="21.9%" stop-color="#919191"/><stop offset="25%" stop-color="#a1a1a1"/><stop offset="28.1%" stop-color="#b1b1b1"/><stop offset="31.2%" stop-color="#bfbfbf"/><stop offset="34.4%" stop-color="#cbcbcb"/><stop offset="37.5%" stop-color="#d7d7d7"/><stop offset="40.6%" stop-color="#e2e2e2"/><stop offset="43.8%" stop-color="#ececec"/><stop offset="46.9%" stop-color="#f6f6f6"/><stop offset="50%" stop-color="#fffefe"/><stop offset="53.1%" stop-color="#fef3ec"/><stop offset="56.2%" stop-color="#fee8db"/><stop offset="59.4%" stop-color="#fddcc9"/><stop offset="62.5%" stop-color="#fbccb4"/><stop offset="65.6%" stop-color="#f8bb9e"/><stop offset="68.8%" stop-color="#f5aa89"/><stop offset="71.9%" stop-color="#ee9677"/><stop offset="75%" stop-color="#e48066"/><stop offset="78.1%" stop-color="#db6b55"/><stop offset="81.2%" stop-color="#d05548"/><stop offset="84.4%" stop-color="#c53e3d"/><stop offset="87.5%" stop-color="#ba2832"/><stop offset="90.6%" stop-color="#ab162a"/><stop offset="93.8%" stop-color="#930e26"/><stop offset="96.9%" stop-color="#7c0722"/><stop offset="100%" stop-color="#67001f"/></linearGradient><linearGradient id="g1" gradientUnits="userSpaceOnUse" x1="0.8" y1="0.6" x2="2.3" y2="249.2"><stop offset="0" stop-color="#ff9400"/><stop offset="0.282" stop-color="#ff8200"/><stop offset="0.535" stop-color="#ff5d00"/><stop offset="0.799" stop-color="#f10800"/><stop offset="1" stop-color="#b60000"/></linearGradient><linearGradient id="g2" gradientUnits="userSpaceOnUse" x1="24.4" y1="0.6" x2="15.1" y2="184.9"><stop offset="0" stop-color="#ff9400"/><stop offset="1" stop-color="#ff5500"/></linearGradient><linearGradient id="g3" gradientUnits="userSpaceOnUse" x1="49.4" y1="0.6" x2="15.8" y2="244.9"><stop offset="0" stop-color="#ff9400"/><stop offset="0.512" stop-color="#ff5500"/><stop offset="1" stop-color="#c40000"/></linearGradient><linearGradient id="g4" gradientUnits="userSpaceOnUse" x1="74.4" y1="0.6" x2="52.3" y2="139.9"><stop offset="0" stop-color="#ff9400"/><stop offset="1" stop-color="#ff6f00"/></linearGradient><linearGradient id="g5" gradientUnits="userSpaceOnUse" x1="86.5" y1="0.6" x2="36.5" y2="233.5"><stop offset="0" stop-color="#ff9400"/><stop offset="0.509" stop-color="#ff6800"/><stop offset="1" stop-color="#da0000"/></linearGradient><linearGradient id="g6" gradientUnits="userSpaceOnUse" x1="99.4" y1="0.6" x2="76.5" y2="130.6"><stop offset="0" stop-color="#ff9400"/><stop offset="1" stop-color="#ff6f00"/></linearGradient><linearGradient id="g7" gradientUnits="userSpaceOnUse" x1="112.3" y1="0.6" x2="48.7" y2="244.2"><stop offset="0" stop-color="#ff9400"/><stop offset="0.441" stop-color="#ff6800"/><stop offset="0.747" stop-color="#ff2d00"/><stop offset="1" stop-color="#da0000"/></linearGradient><linearGradient id="g8" gradientUnits="userSpaceOnUse" x1="136.5" y1="0.6" x2="113.7" y2="107.8"><stop offset="0" stop-color="#ff9f00"/><stop offset="1" stop-color="#ff8200"/></linearGradient><linearGradient id="g9" gradientUnits="userSpaceOnUse" x1="149.4" y1="0.6" x2="116.5" y2="125.6"><stop offset="0" stop-color="#ff9f00"/><stop offset="1" stop-color="#ff7a00"/></linearGradient><linearGradient id="g10" gradientUnits="userSpaceOnUse" x1="198.7" y1="0.6" x2="50.8" y2="261.3"><stop offset="0" stop-color="#ff9f00"/><stop offset="0.315" stop-color="#ff8d00"/><stop offset="0.585" stop-color="#ff6800"/><stop offset="0.812" stop-color="#ff7a00"/><stop offset="1" stop-color="#ff8d00"/></linearGradient><linearGradient id="g11" gradientUnits="userSpaceOnUse" x1="211.5" y1="119.9" x2="134.4" y2="206.3"><stop offset="0" stop-color="#ffb200"/><stop offset="0.432" stop-color="#ffc400"/><stop offset="1" stop-color="#f8f500"/></linearGradient><linearGradient id="g12" gradientUnits="userSpaceOnUse" x1="213" y1="152.8" x2="188.7" y2="176.3"><stop offset="0" stop-color="#deff19"/><stop offset="1" stop-color="#7dff7a"/></linearGradient><linearGradient id="g13" gradientUnits="userSpaceOnUse" x1="211.5" y1="188.5" x2="169.4" y2="213.5"><stop offset="0" stop-color="#00d0ff"/><stop offset="0.385" stop-color="#0080ff"/><stop offset="1" stop-color="#009cff"/></linearGradient><linearGradient id="g14" gradientUnits="userSpaceOnUse" x1="211.5" y1="227.1" x2="68" y2="268.5"><stop offset="0" stop-color="#0000f1"/><stop offset="0.187" stop-color="#0004ff"/><stop offset="0.416" stop-color="#0080ff"/><stop offset="0.586" stop-color="#00b0ff"/><stop offset="1" stop-color="#39ffbe"/></linearGradient><linearGradient id="g15" gradientUnits="userSpaceOnUse" x1="165.1" y1="269.2" x2="118" y2="299.9"><stop offset="0" stop-color="#000096"/><stop offset="0.5" stop-color="#0000ad"/><stop offset="1" stop-color="#0000da"/></linearGradient><linearGradient id="g16" gradientUnits="userSpaceOnUse" x1="211.5" y1="329.2" x2="72.3" y2="296.3"><stop offset="0" stop-color="#0000f1"/><stop offset="0.184" stop-color="#0004ff"/><stop offset="0.476" stop-color="#009cff"/><stop offset="0.691" stop-color="#00dcfe"/><stop offset="1" stop-color="#39ffbe"/></linearGradient><linearGradient id="g17" gradientUnits="userSpaceOnUse" x1="2.3" y1="565.2" x2="1.5" y2="310.9"><stop offset="0" stop-color="#ff9400"/><stop offset="0.522" stop-color="#ff6800"/><stop offset="0.888" stop-color="#f10800"/><stop offset="1" stop-color="#ad0000"/></linearGradient><linearGradient id="g18" gradientUnits="userSpaceOnUse" x1="11.5" y1="565.2" x2="5.8" y2="345.9"><stop offset="0" stop-color="#ff9400"/><stop offset="0.466" stop-color="#ff8200"/><stop offset="0.834" stop-color="#ff4a00"/><stop offset="1" stop-color="#ff1a00"/></linearGradient><linearGradient id="g19" gradientUnits="userSpaceOnUse" x1="62.3" y1="565.2" x2="15.1" y2="309.5"><stop offset="0" stop-color="#ff9400"/><stop offset="0.482" stop-color="#ff6800"/><stop offset="0.767" stop-color="#ff2500"/><stop offset="1" stop-color="#c40000"/></linearGradient><linearGradient id="g20" gradientUnits="userSpaceOnUse" x1="88" y1="565.2" x2="47.3" y2="373.8"><stop offset="0" stop-color="#ff9400"/><stop offset="0.417" stop-color="#ff7a00"/><stop offset="0.84" stop-color="#ff4a00"/><stop offset="1" stop-color="#ff2d00"/></linearGradient><linearGradient id="g21" gradientUnits="userSpaceOnUse" x1="112.3" y1="565.2" x2="25.8" y2="296.6"><stop offset="0" stop-color="#ff9400"/><stop offset="0.48" stop-color="#ff6800"/><stop offset="0.771" stop-color="#ff2d00"/><stop offset="0.934" stop-color="#f10800"/><stop offset="1" stop-color="#da0000"/></linearGradient><linearGradient id="g22" gradientUnits="userSpaceOnUse" x1="124.4" y1="565.2" x2="93.7" y2="402.3"><stop offset="0" stop-color="#ff9400"/><stop offset="1" stop-color="#ff6800"/></linearGradient><linearGradient id="g23" gradientUnits="userSpaceOnUse" x1="173.7" y1="565.2" x2="55.8" y2="304.5"><stop offset="0" stop-color="#ff9400"/><stop offset="0.448" stop-color="#ff7a00"/><stop offset="0.753" stop-color="#ff6800"/><stop offset="0.935" stop-color="#ff6800"/><stop offset="1" stop-color="#ff7a00"/></linearGradient><linearGradient id="g24" gradientUnits="userSpaceOnUse" x1="211.5" y1="519.5" x2="98" y2="330.9"><stop offset="0" stop-color="#ff9400"/><stop offset="0.229" stop-color="#ff9400"/><stop offset="0.487" stop-color="#ff9f00"/><stop offset="0.747" stop-color="#ffab00"/><stop offset="1" stop-color="#ffbd00"/></linearGradient><linearGradient id="g25" gradientUnits="userSpaceOnUse" x1="211.5" y1="449.5" x2="147.3" y2="362.3"><stop offset="0" stop-color="#ffc400"/><stop offset="0.366" stop-color="#ffd700"/><stop offset="1" stop-color="#e7ff0f"/></linearGradient><linearGradient id="g26" gradientUnits="userSpaceOnUse" x1="211.5" y1="413.8" x2="177.3" y2="375.2"><stop offset="0" stop-color="#ceff29"/><stop offset="0.374" stop-color="#beff39"/><stop offset="1" stop-color="#a4ff53"/></linearGradient><linearGradient id="g27" gradientUnits="userSpaceOnUse" x1="213" y1="380.2" x2="185.8" y2="355.9"><stop offset="0" stop-color="#29ffce"/><stop offset="1" stop-color="#00c4ff"/></linearGradient><linearGradient id="g28" gradientUnits="userSpaceOnUse" x1="31.4" y1="148.5" x2="0.7" y2="67.8"><stop offset="0" stop-color="#19ffde"/><stop offset="0.134" stop-color="#009cff"/><stop offset="0.25" stop-color="#00b0ff"/><stop offset="0.429" stop-color="#beff39"/><stop offset="0.561" stop-color="#ceff29"/><stop offset="1" stop-color="#deff19"/></linearGradient><linearGradient id="g29" gradientUnits="userSpaceOnUse" x1="30.7" y1="104.9" x2="25" y2="0.6"><stop offset="0" stop-color="#ceff29"/><stop offset="0.356" stop-color="#ffe200"/><stop offset="1" stop-color="#ffd700"/></linearGradient><linearGradient id="g30" gradientUnits="userSpaceOnUse" x1="43.6" y1="154.9" x2="37.2" y2="0.6"><stop offset="0" stop-color="#deff19"/><stop offset="0.445" stop-color="#ffd700"/><stop offset="1" stop-color="#ffc400"/></linearGradient><linearGradient id="g31" gradientUnits="userSpaceOnUse" x1="53.6" y1="198.5" x2="49.3" y2="0.6"><stop offset="0" stop-color="#53ffa4"/><stop offset="0.105" stop-color="#a4ff53"/><stop offset="0.408" stop-color="#ffd700"/><stop offset="1" stop-color="#ffc400"/></linearGradient><linearGradient id="g32" gradientUnits="userSpaceOnUse" x1="62.2" y1="186.3" x2="75" y2="0.6"><stop offset="0" stop-color="#a4ff53"/><stop offset="0.161" stop-color="#deff19"/><stop offset="0.385" stop-color="#ffd700"/><stop offset="1" stop-color="#ffbd00"/></linearGradient><linearGradient id="g33" gradientUnits="userSpaceOnUse" x1="86.4" y1="175.6" x2="112.2" y2="0.6"><stop offset="0" stop-color="#00b0ff"/><stop offset="0.107" stop-color="#00b0ff"/><stop offset="0.181" stop-color="#7dff7a"/><stop offset="0.385" stop-color="#ceff29"/><stop offset="0.517" stop-color="#eeff09"/><stop offset="1" stop-color="#ffd700"/></linearGradient><linearGradient id="g34" gradientUnits="userSpaceOnUse" x1="112.9" y1="106.3" x2="137.2" y2="0.6"><stop offset="0" stop-color="#ceff29"/><stop offset="0.311" stop-color="#ceff29"/><stop offset="0.74" stop-color="#eeff09"/><stop offset="1" stop-color="#ffe200"/></linearGradient><linearGradient id="g35" gradientUnits="userSpaceOnUse" x1="106.4" y1="152.8" x2="174.3" y2="0.6"><stop offset="0" stop-color="#0ff8e7"/><stop offset="0.243" stop-color="#09f0ee"/><stop offset="0.397" stop-color="#00e4f8"/><stop offset="0.602" stop-color="#00e4f8"/><stop offset="0.848" stop-color="#7dff7a"/><stop offset="1" stop-color="#beff39"/></linearGradient><linearGradient id="g36" gradientUnits="userSpaceOnUse" x1="184.3" y1="57.8" x2="199.3" y2="0.6"><stop offset="0" stop-color="#00b0ff"/><stop offset="0.332" stop-color="#19ffde"/><stop offset="1" stop-color="#19ffde"/></linearGradient><linearGradient id="g37" gradientUnits="userSpaceOnUse" x1="212.2" y1="113.5" x2="28.6" y2="276.3"><stop offset="0" stop-color="#43ffb4"/><stop offset="0.199" stop-color="#39ffbe"/><stop offset="0.402" stop-color="#19ffde"/><stop offset="0.534" stop-color="#00e4f8"/><stop offset="0.692" stop-color="#39ffbe"/><stop offset="0.872" stop-color="#a4ff53"/><stop offset="0.973" stop-color="#feed00"/><stop offset="1" stop-color="#ff6800"/></linearGradient><linearGradient id="g38" gradientUnits="userSpaceOnUse" x1="150" y1="133.5" x2="110" y2="206.3"><stop offset="0" stop-color="#39ffbe"/><stop offset="0.36" stop-color="#53ffa4"/><stop offset="1" stop-color="#43ffb4"/></linearGradient><linearGradient id="g39" gradientUnits="userSpaceOnUse" x1="52.2" y1="245.6" x2="74.3" y2="217.1"><stop offset="0" stop-color="#deff19"/><stop offset="1" stop-color="#beff39"/></linearGradient><linearGradient id="g40" gradientUnits="userSpaceOnUse" x1="212.2" y1="169.9" x2="212.2" y2="207.1"><stop offset="0" stop-color="#00b0ff"/><stop offset="0.519" stop-color="#0018ff"/><stop offset="0.942" stop-color="#0000b6"/><stop offset="1" stop-color="#000096"/></linearGradient><linearGradient id="g41" gradientUnits="userSpaceOnUse" x1="191.4" y1="189.2" x2="138.6" y2="228.5"><stop offset="0" stop-color="#0000ff"/><stop offset="0.294" stop-color="#000080"/><stop offset="0.559" stop-color="#00009f"/><stop offset="1" stop-color="#0000f1"/></linearGradient><linearGradient id="g42" gradientUnits="userSpaceOnUse" x1="137.2" y1="322.8" x2="183.6" y2="339.2"><stop offset="0" stop-color="#0000f1"/><stop offset="0.5" stop-color="#000096"/><stop offset="1" stop-color="#000096"/></linearGradient><linearGradient id="g43" gradientUnits="userSpaceOnUse" x1="135" y1="339.2" x2="28.6" y2="285.6"><stop offset="0" stop-color="#43ffb4"/><stop offset="0.204" stop-color="#53ffa4"/><stop offset="0.606" stop-color="#a4ff53"/><stop offset="0.866" stop-color="#feed00"/><stop offset="1" stop-color="#ff6800"/></linearGradient><linearGradient id="g44" gradientUnits="userSpaceOnUse" x1="14.3" y1="151.3" x2="6.4" y2="242.1"><stop offset="0" stop-color="#53ffa4"/><stop offset="0.214" stop-color="#a4ff53"/><stop offset="0.496" stop-color="#ceff29"/><stop offset="0.59" stop-color="#ff7a00"/><stop offset="0.826" stop-color="#ff6800"/><stop offset="1" stop-color="#f10800"/></linearGradient><linearGradient id="g45" gradientUnits="userSpaceOnUse" x1="30.7" y1="175.6" x2="20" y2="227.1"><stop offset="0" stop-color="#a4ff53"/><stop offset="0.323" stop-color="#f8f500"/><stop offset="0.573" stop-color="#ffab00"/><stop offset="1" stop-color="#ff9400"/></linearGradient><linearGradient id="g46" gradientUnits="userSpaceOnUse" x1="0.7" y1="163.5" x2="17.9" y2="144.2"><stop offset="0" stop-color="#a4ff53"/><stop offset="0.566" stop-color="#a4ff53"/><stop offset="0.933" stop-color="#a4ff53"/><stop offset="1" stop-color="#00b0ff"/></linearGradient><linearGradient id="g47" gradientUnits="userSpaceOnUse" x1="212.2" y1="502.3" x2="120.7" y2="339.5"><stop offset="0" stop-color="#53ffa4"/><stop offset="0.417" stop-color="#29ffce"/><stop offset="0.713" stop-color="#00e4f8"/><stop offset="0.833" stop-color="#00b0ff"/><stop offset="1" stop-color="#29ffce"/></linearGradient><linearGradient id="g48" gradientUnits="userSpaceOnUse" x1="212.2" y1="458.1" x2="160.7" y2="360.9"><stop offset="0" stop-color="#39ffbe"/><stop offset="0.47" stop-color="#0ff8e7"/><stop offset="0.778" stop-color="#00b0ff"/><stop offset="1" stop-color="#0080ff"/></linearGradient><linearGradient id="g49" gradientUnits="userSpaceOnUse" x1="87.9" y1="370.9" x2="65" y2="330.2"><stop offset="0" stop-color="#009cff"/><stop offset="0.202" stop-color="#29ffce"/><stop offset="0.353" stop-color="#39ffbe"/><stop offset="1" stop-color="#7dff7a"/></linearGradient><linearGradient id="g50" gradientUnits="userSpaceOnUse" x1="67.9" y1="349.5" x2="112.2" y2="565.2"><stop offset="0" stop-color="#0000b6"/><stop offset="0.0202" stop-color="#0000f1"/><stop offset="0.0974" stop-color="#004cff"/><stop offset="0.157" stop-color="#beff39"/><stop offset="0.342" stop-color="#e7ff0f"/><stop offset="0.488" stop-color="#feed00"/><stop offset="0.62" stop-color="#ffc400"/><stop offset="1" stop-color="#ffb200"/></linearGradient><linearGradient id="g51" gradientUnits="userSpaceOnUse" x1="53.6" y1="346.6" x2="0.7" y2="558.1"><stop offset="0" stop-color="#00b0ff"/><stop offset="0" stop-color="#29ffce"/><stop offset="0.0731" stop-color="#7dff7a"/><stop offset="0.202" stop-color="#7dff7a"/><stop offset="0.304" stop-color="#7dff7a"/><stop offset="0.461" stop-color="#7dff7a"/><stop offset="0.607" stop-color="#beff39"/><stop offset="1" stop-color="#f8f500"/></linearGradient><linearGradient id="g52" gradientUnits="userSpaceOnUse" x1="41.4" y1="379.5" x2="21.4" y2="322.3"><stop offset="0" stop-color="#29ffce"/><stop offset="0.209" stop-color="#a4ff53"/><stop offset="0.508" stop-color="#eeff09"/><stop offset="0.802" stop-color="#ffc400"/><stop offset="1" stop-color="#ff1a00"/></linearGradient><linearGradient id="g53" gradientUnits="userSpaceOnUse" x1="20.7" y1="412.3" x2="10.7" y2="319.5"><stop offset="0" stop-color="#ceff29"/><stop offset="0.292" stop-color="#ffd700"/><stop offset="0.537" stop-color="#ffd700"/><stop offset="0.784" stop-color="#ff9400"/><stop offset="1" stop-color="#f10800"/></linearGradient><linearGradient id="g54" gradientUnits="userSpaceOnUse" x1="0.7" y1="400.9" x2="15" y2="436.6"><stop offset="0" stop-color="#a4ff53"/><stop offset="0.614" stop-color="#8dff6a"/><stop offset="0.828" stop-color="#7dff7a"/><stop offset="1" stop-color="#29ffce"/></linearGradient><linearGradient id="g55" gradientUnits="userSpaceOnUse" x1="0.7" y1="495.2" x2="17.9" y2="462.3"><stop offset="0" stop-color="#ceff29"/><stop offset="0.689" stop-color="#a4ff53"/><stop offset="1" stop-color="#53ffa4"/></linearGradient><linearGradient id="g56" gradientUnits="userSpaceOnUse" x1="45" y1="427.3" x2="37.2" y2="565.2"><stop offset="0" stop-color="#feed00"/><stop offset="0.389" stop-color="#ffd700"/><stop offset="1" stop-color="#ffc400"/></linearGradient><linearGradient id="g57" gradientUnits="userSpaceOnUse" x1="59.3" y1="409.5" x2="62.9" y2="565.2"><stop offset="0" stop-color="#ffc400"/><stop offset="0.431" stop-color="#ffab00"/><stop offset="1" stop-color="#ffb200"/></linearGradient><linearGradient id="g58" gradientUnits="userSpaceOnUse" x1="107.9" y1="482.3" x2="123.6" y2="565.2"><stop offset="0" stop-color="#ffd700"/><stop offset="0.382" stop-color="#ffc400"/><stop offset="1" stop-color="#ffc400"/></linearGradient><linearGradient id="g59" gradientUnits="userSpaceOnUse" x1="125" y1="511.6" x2="136.4" y2="565.2"><stop offset="0" stop-color="#feed00"/><stop offset="0.627" stop-color="#ffd000"/><stop offset="1" stop-color="#ffc400"/></linearGradient><linearGradient id="g60" gradientUnits="userSpaceOnUse" x1="94.3" y1="396.6" x2="160.7" y2="565.2"><stop offset="0" stop-color="#00b0ff"/><stop offset="0.164" stop-color="#53ffa4"/><stop offset="0.353" stop-color="#63ff94"/><stop offset="0.483" stop-color="#7dff7a"/><stop offset="0.591" stop-color="#ceff29"/><stop offset="1" stop-color="#e7ff0f"/></linearGradient><linearGradient id="g61" gradientUnits="userSpaceOnUse" x1="144.3" y1="470.9" x2="175" y2="565.2"><stop offset="0" stop-color="#7dff7a"/><stop offset="0.335" stop-color="#63ff94"/><stop offset="0.727" stop-color="#7dff7a"/><stop offset="1" stop-color="#ceff29"/></linearGradient><linearGradient id="g62" gradientUnits="userSpaceOnUse" x1="156.4" y1="473.8" x2="187.9" y2="565.2"><stop offset="0" stop-color="#29ffce"/><stop offset="0.363" stop-color="#53ffa4"/><stop offset="0.79" stop-color="#5aff9d"/><stop offset="1" stop-color="#63ff94"/></linearGradient><linearGradient id="g63" gradientUnits="userSpaceOnUse" x1="181.4" y1="503.8" x2="199.3" y2="565.2"><stop offset="0" stop-color="#19ffde"/><stop offset="0.334" stop-color="#53ffa4"/><stop offset="1" stop-color="#5aff9d"/></linearGradient><linearGradient id="g64" gradientUnits="userSpaceOnUse" x1="212.2" y1="538.1" x2="193.6" y2="519.5"><stop offset="0" stop-color="#0080ff"/><stop offset="1" stop-color="#53ffa4"/></linearGradient><linearGradient id="g65" gradientUnits="userSpaceOnUse" x1="131.4" y1="442.3" x2="138.6" y2="384.5"><stop offset="0" stop-color="#004cff"/><stop offset="0" stop-color="#0060ff"/><stop offset="0.208" stop-color="#00b0ff"/><stop offset="1" stop-color="#0ff8e7"/></linearGradient><linearGradient id="g66" gradientUnits="userSpaceOnUse" x1="193.6" y1="473.8" x2="199.3" y2="498.1"><stop offset="0" stop-color="#29ffce"/><stop offset="1" stop-color="#0080ff"/></linearGradient><linearGradient id="g67" gradientUnits="userSpaceOnUse" x1="212.2" y1="388.1" x2="212.2" y2="348.1"><stop offset="0" stop-color="#0038ff"/><stop offset="0.625" stop-color="#0000ff"/><stop offset="1" stop-color="#0000b6"/><stop offset="1" stop-color="#00009f"/></linearGradient><linearGradient id="g68" gradientUnits="userSpaceOnUse" x1="16.5" y1="83.5" x2="0.8" y2="4.9"><stop offset="0" stop-color="#7dff7a"/><stop offset="0.441" stop-color="#beff39"/><stop offset="1" stop-color="#ceff29"/></linearGradient><linearGradient id="g69" gradientUnits="userSpaceOnUse" x1="13.7" y1="119.2" x2="0.8" y2="157.8"><stop offset="0" stop-color="#29ffce"/><stop offset="0.406" stop-color="#7dff7a"/><stop offset="1" stop-color="#ceff29"/></linearGradient><linearGradient id="g70" gradientUnits="userSpaceOnUse" x1="30.1" y1="117.1" x2="23.7" y2="0.6"><stop offset="0" stop-color="#00e4f8"/><stop offset="0.167" stop-color="#53ffa4"/><stop offset="0.522" stop-color="#ceff29"/><stop offset="1" stop-color="#e7ff0f"/></linearGradient><linearGradient id="g71" gradientUnits="userSpaceOnUse" x1="40.1" y1="122.8" x2="35.8" y2="0.6"><stop offset="0" stop-color="#00b0ff"/><stop offset="0.194" stop-color="#53ffa4"/><stop offset="0.545" stop-color="#ceff29"/><stop offset="1" stop-color="#e7ff0f"/></linearGradient><linearGradient id="g72" gradientUnits="userSpaceOnUse" x1="54.4" y1="139.9" x2="48" y2="0.6"><stop offset="0" stop-color="#00e4f8"/><stop offset="0.191" stop-color="#7dff7a"/><stop offset="0.407" stop-color="#beff39"/><stop offset="1" stop-color="#e7ff0f"/></linearGradient><linearGradient id="g73" gradientUnits="userSpaceOnUse" x1="59.4" y1="79.2" x2="61.5" y2="0.6"><stop offset="0" stop-color="#ceff29"/><stop offset="0.327" stop-color="#deff19"/><stop offset="1" stop-color="#eeff09"/></linearGradient><linearGradient id="g74" gradientUnits="userSpaceOnUse" x1="85.1" y1="154.9" x2="73.7" y2="0.6"><stop offset="0" stop-color="#009cff"/><stop offset="0.0624" stop-color="#00b0ff"/><stop offset="0.183" stop-color="#29ffce"/><stop offset="0.459" stop-color="#beff39"/><stop offset="1" stop-color="#eeff09"/></linearGradient><linearGradient id="g75" gradientUnits="userSpaceOnUse" x1="90.8" y1="145.6" x2="98" y2="0.6"><stop offset="0" stop-color="#009cff"/><stop offset="0.0622" stop-color="#00d0ff"/><stop offset="0.2" stop-color="#7dff7a"/><stop offset="0.437" stop-color="#beff39"/><stop offset="1" stop-color="#feed00"/></linearGradient><linearGradient id="g76" gradientUnits="userSpaceOnUse" x1="110.8" y1="150.6" x2="110.8" y2="0.6"><stop offset="0" stop-color="#009cff"/><stop offset="0" stop-color="#009cff"/><stop offset="0.0857" stop-color="#00b0ff"/><stop offset="0.19" stop-color="#53ffa4"/><stop offset="0.467" stop-color="#beff39"/><stop offset="1" stop-color="#deff19"/></linearGradient><linearGradient id="g77" gradientUnits="userSpaceOnUse" x1="116.5" y1="142.1" x2="123.7" y2="0.6"><stop offset="0" stop-color="#009cff"/><stop offset="0.00351" stop-color="#009cff"/><stop offset="0.0969" stop-color="#19ffde"/><stop offset="0.198" stop-color="#7dff7a"/><stop offset="0.482" stop-color="#beff39"/><stop offset="1" stop-color="#deff19"/></linearGradient><linearGradient id="g78" gradientUnits="userSpaceOnUse" x1="154.4" y1="140.6" x2="148.7" y2="0.6"><stop offset="0" stop-color="#009cff"/><stop offset="0.00863" stop-color="#009cff"/><stop offset="0.12" stop-color="#00b0ff"/><stop offset="0.181" stop-color="#29ffce"/><stop offset="0.424" stop-color="#beff39"/><stop offset="1" stop-color="#ceff29"/></linearGradient><linearGradient id="g79" gradientUnits="userSpaceOnUse" x1="143" y1="110.6" x2="150.8" y2="55.6"><stop offset="0" stop-color="#19ffde"/><stop offset="0.387" stop-color="#a4ff53"/><stop offset="1" stop-color="#beff39"/></linearGradient><linearGradient id="g80" gradientUnits="userSpaceOnUse" x1="210.8" y1="113.5" x2="173.7" y2="0.6"><stop offset="0" stop-color="#00b0ff"/><stop offset="0" stop-color="#00b0ff"/><stop offset="0" stop-color="#009cff"/><stop offset="0.0668" stop-color="#00b0ff"/><stop offset="0.324" stop-color="#53ffa4"/><stop offset="0.474" stop-color="#a4ff53"/><stop offset="1" stop-color="#ceff29"/></linearGradient><linearGradient id="g81" gradientUnits="userSpaceOnUse" x1="210.8" y1="107.8" x2="198.7" y2="0.6"><stop offset="0" stop-color="#00b0ff"/><stop offset="0.0362" stop-color="#00b0ff"/><stop offset="0.138" stop-color="#00b0ff"/><stop offset="0.394" stop-color="#7dff7a"/><stop offset="0.564" stop-color="#a4ff53"/><stop offset="1" stop-color="#beff39"/></linearGradient><linearGradient id="g82" gradientUnits="userSpaceOnUse" x1="65.8" y1="157.8" x2="15.1" y2="256.3"><stop offset="0" stop-color="#0080ff"/><stop offset="0.0306" stop-color="#0080ff"/><stop offset="0.155" stop-color="#7dff7a"/><stop offset="0.428" stop-color="#ffc400"/><stop offset="0.752" stop-color="#ff7a00"/><stop offset="1" stop-color="#f10800"/></linearGradient><linearGradient id="g83" gradientUnits="userSpaceOnUse" x1="11.5" y1="163.5" x2="5.1" y2="246.3"><stop offset="0" stop-color="#deff19"/><stop offset="0.344" stop-color="#feed00"/><stop offset="0.482" stop-color="#ff7a00"/><stop offset="0.775" stop-color="#ff3800"/><stop offset="1" stop-color="#f10800"/></linearGradient><linearGradient id="g84" gradientUnits="userSpaceOnUse" x1="66.5" y1="194.2" x2="23.7" y2="266.3"><stop offset="0" stop-color="#deff19"/><stop offset="0.364" stop-color="#ffb200"/><stop offset="0.638" stop-color="#ff7a00"/><stop offset="1" stop-color="#ff1a00"/></linearGradient><linearGradient id="g85" gradientUnits="userSpaceOnUse" x1="104.4" y1="166.3" x2="62.3" y2="232.1"><stop offset="0" stop-color="#29ffce"/><stop offset="0.284" stop-color="#a4ff53"/><stop offset="1" stop-color="#f8f500"/></linearGradient><linearGradient id="g86" gradientUnits="userSpaceOnUse" x1="110.8" y1="199.2" x2="80.8" y2="241.3"><stop offset="0" stop-color="#53ffa4"/><stop offset="0.321" stop-color="#7dff7a"/><stop offset="1" stop-color="#a4ff53"/></linearGradient><linearGradient id="g87" gradientUnits="userSpaceOnUse" x1="148.7" y1="165.6" x2="118" y2="207.8"><stop offset="0" stop-color="#29ffce"/><stop offset="0.438" stop-color="#53ffa4"/><stop offset="1" stop-color="#53ffa4"/></linearGradient><linearGradient id="g88" gradientUnits="userSpaceOnUse" x1="173" y1="165.6" x2="50.8" y2="275.6"><stop offset="0" stop-color="#43ffb4"/><stop offset="0.456" stop-color="#29ffce"/><stop offset="0.591" stop-color="#29ffce"/><stop offset="0.79" stop-color="#39ffbe"/><stop offset="1" stop-color="#39ffbe"/></linearGradient><linearGradient id="g89" gradientUnits="userSpaceOnUse" x1="210.8" y1="179.9" x2="156.5" y2="248.5"><stop offset="0" stop-color="#39ffbe"/><stop offset="0.473" stop-color="#009cff"/><stop offset="1" stop-color="#004cff"/></linearGradient><linearGradient id="g90" gradientUnits="userSpaceOnUse" x1="211.5" y1="208.5" x2="203" y2="235.6"><stop offset="0" stop-color="#0018ff"/><stop offset="0.268" stop-color="#0000ff"/><stop offset="0.775" stop-color="#0000b6"/><stop offset="1" stop-color="#0000b6"/></linearGradient><linearGradient id="g91" gradientUnits="userSpaceOnUse" x1="210.8" y1="264.9" x2="164.4" y2="289.9"><stop offset="0" stop-color="#0000f1"/><stop offset="0.605" stop-color="#0000f1"/><stop offset="1" stop-color="#0000da"/><stop offset="1" stop-color="#0000b6"/><stop offset="1" stop-color="#0000b6"/></linearGradient><linearGradient id="g92" gradientUnits="userSpaceOnUse" x1="210.8" y1="378.8" x2="119.4" y2="280.6"><stop offset="0" stop-color="#29ffce"/><stop offset="0.581" stop-color="#0ff8e7"/><stop offset="0.705" stop-color="#00e4f8"/><stop offset="0.796" stop-color="#0000f1"/><stop offset="0.872" stop-color="#0000b6"/><stop offset="0.954" stop-color="#0000b6"/><stop offset="1" stop-color="#0000b6"/><stop offset="1" stop-color="#0000b6"/><stop offset="1" stop-color="#0000b6"/></linearGradient><linearGradient id="g93" gradientUnits="userSpaceOnUse" x1="210.8" y1="343.5" x2="178.7" y2="309.2"><stop offset="0" stop-color="#009cff"/><stop offset="0.344" stop-color="#0080ff"/><stop offset="0.815" stop-color="#0018ff"/><stop offset="1" stop-color="#0000f1"/></linearGradient><linearGradient id="g94" gradientUnits="userSpaceOnUse" x1="210.8" y1="442.3" x2="28" y2="284.1"><stop offset="0" stop-color="#53ffa4"/><stop offset="0.313" stop-color="#7dff7a"/><stop offset="0.529" stop-color="#a4ff53"/><stop offset="0.767" stop-color="#beff39"/><stop offset="0.936" stop-color="#ceff29"/><stop offset="1" stop-color="#ffc400"/></linearGradient><linearGradient id="g95" gradientUnits="userSpaceOnUse" x1="135.8" y1="398.8" x2="76.5" y2="324.5"><stop offset="0" stop-color="#8dff6a"/><stop offset="0.458" stop-color="#b4ff43"/><stop offset="1" stop-color="#ceff29"/></linearGradient><linearGradient id="g96" gradientUnits="userSpaceOnUse" x1="73.7" y1="365.2" x2="45.8" y2="319.5"><stop offset="0" stop-color="#ceff29"/><stop offset="0.407" stop-color="#ffd700"/><stop offset="1" stop-color="#ff9400"/></linearGradient><linearGradient id="g97" gradientUnits="userSpaceOnUse" x1="58" y1="380.9" x2="31.5" y2="320.9"><stop offset="0" stop-color="#a4ff53"/><stop offset="0.252" stop-color="#ceff29"/><stop offset="0.507" stop-color="#ffb200"/><stop offset="0.834" stop-color="#ff8d00"/><stop offset="1" stop-color="#ff6800"/></linearGradient><linearGradient id="g98" gradientUnits="userSpaceOnUse" x1="42.3" y1="401.6" x2="20.8" y2="322.3"><stop offset="0" stop-color="#29ffce"/><stop offset="0.156" stop-color="#a4ff53"/><stop offset="0.391" stop-color="#f8f500"/><stop offset="0.606" stop-color="#ffd700"/><stop offset="1" stop-color="#ff5500"/></linearGradient><linearGradient id="g99" gradientUnits="userSpaceOnUse" x1="20.1" y1="409.5" x2="10.1" y2="325.2"><stop offset="0" stop-color="#a4ff53"/><stop offset="0.288" stop-color="#eeff09"/><stop offset="0.611" stop-color="#ff9400"/><stop offset="1" stop-color="#ff1a00"/></linearGradient><linearGradient id="g100" gradientUnits="userSpaceOnUse" x1="210.8" y1="468.1" x2="0.8" y2="402.3"><stop offset="0" stop-color="#29ffce"/><stop offset="0.137" stop-color="#29ffce"/><stop offset="0.313" stop-color="#00b0ff"/><stop offset="0.384" stop-color="#00c4ff"/><stop offset="0.449" stop-color="#19ffde"/><stop offset="0.53" stop-color="#00b0ff"/><stop offset="0.621" stop-color="#09f0ee"/><stop offset="0.677" stop-color="#09f0ee"/><stop offset="0.741" stop-color="#0080ff"/><stop offset="0.799" stop-color="#19ffde"/><stop offset="0.805" stop-color="#0060ff"/><stop offset="0.843" stop-color="#0080ff"/><stop offset="0.883" stop-color="#19ffde"/><stop offset="0.908" stop-color="#29ffce"/><stop offset="0.96" stop-color="#53ffa4"/><stop offset="1" stop-color="#ceff29"/></linearGradient><linearGradient id="g101" gradientUnits="userSpaceOnUse" x1="18" y1="433.8" x2="0.8" y2="533.8"><stop offset="0" stop-color="#29ffce"/><stop offset="0.168" stop-color="#53ffa4"/><stop offset="0.627" stop-color="#a4ff53"/><stop offset="1" stop-color="#ceff29"/></linearGradient><linearGradient id="g102" gradientUnits="userSpaceOnUse" x1="20.8" y1="450.9" x2="10.8" y2="565.2"><stop offset="0" stop-color="#7dff7a"/><stop offset="0.274" stop-color="#a4ff53"/><stop offset="0.524" stop-color="#ceff29"/><stop offset="1" stop-color="#e7ff0f"/></linearGradient><linearGradient id="g103" gradientUnits="userSpaceOnUse" x1="32.3" y1="453.8" x2="36.5" y2="565.2"><stop offset="0" stop-color="#7dff7a"/><stop offset="0.5" stop-color="#eeff09"/><stop offset="1" stop-color="#feed00"/></linearGradient><linearGradient id="g104" gradientUnits="userSpaceOnUse" x1="45.1" y1="476.6" x2="48" y2="565.2"><stop offset="0" stop-color="#ceff29"/><stop offset="0.379" stop-color="#f8f500"/><stop offset="1" stop-color="#feed00"/></linearGradient><linearGradient id="g105" gradientUnits="userSpaceOnUse" x1="56.5" y1="468.1" x2="62.3" y2="565.2"><stop offset="0" stop-color="#beff39"/><stop offset="0.433" stop-color="#f8f500"/><stop offset="1" stop-color="#ffd700"/></linearGradient><linearGradient id="g106" gradientUnits="userSpaceOnUse" x1="66.5" y1="496.6" x2="73.7" y2="565.2"><stop offset="0" stop-color="#deff19"/><stop offset="0.2" stop-color="#f8f500"/><stop offset="1" stop-color="#ffe200"/></linearGradient><linearGradient id="g107" gradientUnits="userSpaceOnUse" x1="73" y1="415.9" x2="85.1" y2="565.2"><stop offset="0" stop-color="#29ffce"/><stop offset="0.157" stop-color="#7dff7a"/><stop offset="0.435" stop-color="#e7ff0f"/><stop offset="1" stop-color="#ffe200"/></linearGradient><linearGradient id="g108" gradientUnits="userSpaceOnUse" x1="88" y1="416.6" x2="89.4" y2="473.1"><stop offset="0" stop-color="#39ffbe"/><stop offset="0.454" stop-color="#7dff7a"/><stop offset="0.784" stop-color="#beff39"/><stop offset="1" stop-color="#ceff29"/></linearGradient><linearGradient id="g109" gradientUnits="userSpaceOnUse" x1="94.4" y1="424.5" x2="112.3" y2="565.2"><stop offset="0" stop-color="#00b0ff"/><stop offset="0.207" stop-color="#7dff7a"/><stop offset="0.44" stop-color="#deff19"/><stop offset="1" stop-color="#f8f500"/></linearGradient><linearGradient id="g110" gradientUnits="userSpaceOnUse" x1="107.3" y1="453.1" x2="125.1" y2="565.2"><stop offset="0" stop-color="#7dff7a"/><stop offset="0.526" stop-color="#ceff29"/><stop offset="1" stop-color="#eeff09"/></linearGradient><linearGradient id="g111" gradientUnits="userSpaceOnUse" x1="124.4" y1="459.5" x2="142.3" y2="565.2"><stop offset="0" stop-color="#29ffce"/><stop offset="0.104" stop-color="#39ffbe"/><stop offset="0.428" stop-color="#beff39"/><stop offset="1" stop-color="#deff19"/></linearGradient><linearGradient id="g112" gradientUnits="userSpaceOnUse" x1="144.4" y1="448.8" x2="149.4" y2="565.2"><stop offset="0" stop-color="#00b0ff"/><stop offset="0.000781" stop-color="#00b0ff"/><stop offset="0.162" stop-color="#29ffce"/><stop offset="0.383" stop-color="#beff39"/><stop offset="1" stop-color="#ceff29"/></linearGradient><linearGradient id="g113" gradientUnits="userSpaceOnUse" x1="178.7" y1="461.6" x2="173.7" y2="565.2"><stop offset="0" stop-color="#00b0ff"/><stop offset="0.22" stop-color="#00b0ff"/><stop offset="0.33" stop-color="#8dff6a"/><stop offset="0.755" stop-color="#a4ff53"/><stop offset="1" stop-color="#b4ff43"/></linearGradient><linearGradient id="g114" gradientUnits="userSpaceOnUse" x1="185.8" y1="485.9" x2="186.5" y2="565.2"><stop offset="0" stop-color="#00b0ff"/><stop offset="0.198" stop-color="#09f0ee"/><stop offset="0.459" stop-color="#8dff6a"/><stop offset="1" stop-color="#a4ff53"/></linearGradient><linearGradient id="g115" gradientUnits="userSpaceOnUse" x1="210.8" y1="487.3" x2="199.4" y2="565.2"><stop offset="0" stop-color="#00b0ff"/><stop offset="0.0042" stop-color="#00b0ff"/><stop offset="0.363" stop-color="#0ff8e7"/><stop offset="0.47" stop-color="#29ffce"/><stop offset="1" stop-color="#7dff7a"/></linearGradient><linearGradient id="g116" gradientUnits="userSpaceOnUse" x1="15.1" y1="225.6" x2="1.5" y2="1.3"><stop offset="0" stop-color="#e7ff0f"/><stop offset="0.0342" stop-color="#feed00"/><stop offset="0.117" stop-color="#ffb200"/><stop offset="0.486" stop-color="#ff8200"/><stop offset="1" stop-color="#ff9f00"/></linearGradient><linearGradient id="g117" gradientUnits="userSpaceOnUse" x1="29.4" y1="236.3" x2="24.4" y2="1.3"><stop offset="0" stop-color="#f8f500"/><stop offset="0.126" stop-color="#ffc400"/><stop offset="0.217" stop-color="#ff9400"/><stop offset="0.508" stop-color="#ff8200"/><stop offset="0.703" stop-color="#ff9400"/><stop offset="1" stop-color="#ff9f00"/></linearGradient><linearGradient id="g118" gradientUnits="userSpaceOnUse" x1="40.1" y1="247" x2="49.4" y2="1.3"><stop offset="0" stop-color="#ff7a00"/><stop offset="0.0746" stop-color="#ff8200"/><stop offset="0.277" stop-color="#ff8200"/><stop offset="0.429" stop-color="#ff8200"/><stop offset="0.656" stop-color="#ff9400"/><stop offset="1" stop-color="#ff9f00"/></linearGradient><linearGradient id="g119" gradientUnits="userSpaceOnUse" x1="50.8" y1="199.9" x2="73.7" y2="1.3"><stop offset="0" stop-color="#ff8200"/><stop offset="0.215" stop-color="#ff8d00"/><stop offset="0.525" stop-color="#ff9400"/><stop offset="0.721" stop-color="#ff9f00"/><stop offset="1" stop-color="#ffab00"/></linearGradient><linearGradient id="g120" gradientUnits="userSpaceOnUse" x1="65.8" y1="154.9" x2="87.3" y2="1.3"><stop offset="0" stop-color="#ff8d00"/><stop offset="0.396" stop-color="#ff9400"/><stop offset="0.641" stop-color="#ff9f00"/><stop offset="1" stop-color="#ffab00"/></linearGradient><linearGradient id="g121" gradientUnits="userSpaceOnUse" x1="53" y1="247" x2="99.4" y2="1.3"><stop offset="0" stop-color="#ff7a00"/><stop offset="0.195" stop-color="#ff8200"/><stop offset="0.487" stop-color="#ff9f00"/><stop offset="0.836" stop-color="#ffab00"/><stop offset="1" stop-color="#ffab00"/></linearGradient><linearGradient id="g122" gradientUnits="userSpaceOnUse" x1="91.5" y1="181.3" x2="124.4" y2="1.3"><stop offset="0" stop-color="#ff9400"/><stop offset="0.221" stop-color="#ff9f00"/><stop offset="0.485" stop-color="#ffab00"/><stop offset="0.816" stop-color="#ffb200"/><stop offset="1" stop-color="#ffb200"/></linearGradient><linearGradient id="g123" gradientUnits="userSpaceOnUse" x1="92.3" y1="214.9" x2="148.7" y2="1.3"><stop offset="0" stop-color="#ff8d00"/><stop offset="0.219" stop-color="#ff9f00"/><stop offset="0.467" stop-color="#ffbd00"/><stop offset="0.757" stop-color="#ffc400"/><stop offset="1" stop-color="#ffc400"/></linearGradient><linearGradient id="g124" gradientUnits="userSpaceOnUse" x1="130.8" y1="182" x2="161.5" y2="1.3"><stop offset="0" stop-color="#ffb200"/><stop offset="0.213" stop-color="#ffc400"/><stop offset="0.463" stop-color="#ffd700"/><stop offset="0.704" stop-color="#ffd700"/><stop offset="1" stop-color="#ffd000"/></linearGradient><linearGradient id="g125" gradientUnits="userSpaceOnUse" x1="168" y1="136.3" x2="168" y2="1.3"><stop offset="0" stop-color="#feed00"/><stop offset="0.206" stop-color="#feed00"/><stop offset="0.397" stop-color="#ffe200"/><stop offset="0.587" stop-color="#ffd700"/><stop offset="1" stop-color="#ffd000"/></linearGradient><linearGradient id="g126" gradientUnits="userSpaceOnUse" x1="28.7" y1="282" x2="186.5" y2="1.3"><stop offset="0" stop-color="#feed00"/><stop offset="0.00544" stop-color="#a4ff53"/><stop offset="0.0262" stop-color="#feed00"/><stop offset="0.0666" stop-color="#ff9400"/><stop offset="0.124" stop-color="#ff1a00"/><stop offset="0.274" stop-color="#ff5500"/><stop offset="0.485" stop-color="#ffbd00"/><stop offset="0.615" stop-color="#feed00"/><stop offset="0.746" stop-color="#f8f500"/><stop offset="0.862" stop-color="#ffe200"/><stop offset="1" stop-color="#ffd000"/></linearGradient><linearGradient id="g127" gradientUnits="userSpaceOnUse" x1="118.7" y1="241.3" x2="211.5" y2="192"><stop offset="0" stop-color="#ff1a00"/><stop offset="0.465" stop-color="#ff3800"/><stop offset="1" stop-color="#ff6800"/></linearGradient><linearGradient id="g128" gradientUnits="userSpaceOnUse" x1="72.3" y1="282" x2="211.5" y2="340.9"><stop offset="0" stop-color="#39ffbe"/><stop offset="0.114" stop-color="#00e4f8"/><stop offset="0.158" stop-color="#0060ff"/><stop offset="0.252" stop-color="#0000ff"/><stop offset="0.374" stop-color="#0000da"/><stop offset="0.436" stop-color="#0000ff"/><stop offset="0.471" stop-color="#0080ff"/><stop offset="0.558" stop-color="#09f0ee"/><stop offset="0.63" stop-color="#7dff7a"/><stop offset="1" stop-color="#ceff29"/></linearGradient><linearGradient id="g129" gradientUnits="userSpaceOnUse" x1="112.3" y1="283.5" x2="123.7" y2="297.8"><stop offset="0" stop-color="#0018ff"/><stop offset="0.47" stop-color="#00e4f8"/><stop offset="1" stop-color="#19ffde"/></linearGradient><linearGradient id="g130" gradientUnits="userSpaceOnUse" x1="144.4" y1="280.6" x2="211.5" y2="258.5"><stop offset="0" stop-color="#0000da"/><stop offset="0.173" stop-color="#0018ff"/><stop offset="0.361" stop-color="#0074ff"/><stop offset="0.697" stop-color="#009cff"/><stop offset="1" stop-color="#00d0ff"/></linearGradient><linearGradient id="g131" gradientUnits="userSpaceOnUse" x1="170.8" y1="284.2" x2="211.5" y2="309.9"><stop offset="0" stop-color="#0018ff"/><stop offset="0.43" stop-color="#0094ff"/><stop offset="1" stop-color="#00e4f8"/></linearGradient><linearGradient id="g132" gradientUnits="userSpaceOnUse" x1="31.5" y1="283" x2="1.5" y2="565.9"><stop offset="0" stop-color="#feed00"/><stop offset="0.0565" stop-color="#ff4a00"/><stop offset="0.107" stop-color="#ff7a00"/><stop offset="0.157" stop-color="#ffc400"/><stop offset="0.202" stop-color="#feed00"/><stop offset="0.235" stop-color="#ffc400"/><stop offset="0.31" stop-color="#ff8d00"/><stop offset="0.47" stop-color="#ff5500"/><stop offset="1" stop-color="#ff9400"/></linearGradient><linearGradient id="g133" gradientUnits="userSpaceOnUse" x1="8.7" y1="350.9" x2="11.5" y2="565.9"><stop offset="0" stop-color="#ff9400"/><stop offset="0.083" stop-color="#ff7a00"/><stop offset="0.445" stop-color="#ff6800"/><stop offset="1" stop-color="#ff9400"/></linearGradient><linearGradient id="g134" gradientUnits="userSpaceOnUse" x1="31.5" y1="361.6" x2="49.4" y2="565.9"><stop offset="0" stop-color="#ff8200"/><stop offset="0.138" stop-color="#ff6f00"/><stop offset="0.39" stop-color="#ff6800"/><stop offset="0.664" stop-color="#ff8d00"/><stop offset="1" stop-color="#ff9f00"/></linearGradient><linearGradient id="g135" gradientUnits="userSpaceOnUse" x1="43" y1="437.3" x2="62.3" y2="565.9"><stop offset="0" stop-color="#ff7a00"/><stop offset="0.447" stop-color="#ff8200"/><stop offset="0.804" stop-color="#ff9400"/><stop offset="1" stop-color="#ff9f00"/></linearGradient><linearGradient id="g136" gradientUnits="userSpaceOnUse" x1="43.7" y1="300.2" x2="86.5" y2="565.9"><stop offset="0" stop-color="#ff3f00"/><stop offset="0.205" stop-color="#ff6800"/><stop offset="0.447" stop-color="#ff7a00"/><stop offset="0.688" stop-color="#ff8d00"/><stop offset="1" stop-color="#ff9f00"/></linearGradient><linearGradient id="g137" gradientUnits="userSpaceOnUse" x1="68.7" y1="381.6" x2="100.1" y2="565.9"><stop offset="0" stop-color="#ff7a00"/><stop offset="0.405" stop-color="#ff8d00"/><stop offset="0.787" stop-color="#ff9f00"/><stop offset="1" stop-color="#ff9f00"/></linearGradient><linearGradient id="g138" gradientUnits="userSpaceOnUse" x1="83.7" y1="406.6" x2="112.3" y2="565.9"><stop offset="0" stop-color="#ff8200"/><stop offset="0.393" stop-color="#ff9400"/><stop offset="0.754" stop-color="#ff9f00"/><stop offset="1" stop-color="#ffab00"/></linearGradient><linearGradient id="g139" gradientUnits="userSpaceOnUse" x1="56.5" y1="307.3" x2="137.3" y2="565.9"><stop offset="0" stop-color="#ff2d00"/><stop offset="0.254" stop-color="#ff6800"/><stop offset="0.481" stop-color="#ff8200"/><stop offset="0.748" stop-color="#ff9f00"/><stop offset="1" stop-color="#ffab00"/></linearGradient><linearGradient id="g140" gradientUnits="userSpaceOnUse" x1="87.3" y1="332.3" x2="163.7" y2="565.9"><stop offset="0" stop-color="#ff3f00"/><stop offset="0.211" stop-color="#ff7a00"/><stop offset="0.441" stop-color="#ffbd00"/><stop offset="0.729" stop-color="#ffc400"/><stop offset="1" stop-color="#ffc400"/></linearGradient><linearGradient id="g141" gradientUnits="userSpaceOnUse" x1="146.5" y1="393" x2="174.4" y2="565.9"><stop offset="0" stop-color="#ffc400"/><stop offset="0.201" stop-color="#ffd000"/><stop offset="0.478" stop-color="#ffd000"/><stop offset="0.778" stop-color="#ffd000"/><stop offset="1" stop-color="#ffc400"/></linearGradient><linearGradient id="g142" gradientUnits="userSpaceOnUse" x1="182.3" y1="448" x2="188.7" y2="565.9"><stop offset="0" stop-color="#feed00"/><stop offset="0.432" stop-color="#ffd700"/><stop offset="1" stop-color="#ffd000"/></linearGradient><linearGradient id="g143" gradientUnits="userSpaceOnUse" x1="211.5" y1="493" x2="198.7" y2="565.9"><stop offset="0" stop-color="#feed00"/><stop offset="0.476" stop-color="#ffd700"/><stop offset="1" stop-color="#ffd000"/></linearGradient><linearGradient id="g144" gradientUnits="userSpaceOnUse" x1="108.7" y1="328" x2="211.5" y2="410.2"><stop offset="0" stop-color="#ff3f00"/><stop offset="0.419" stop-color="#ff6800"/><stop offset="0.735" stop-color="#ff8200"/><stop offset="1" stop-color="#ff9f00"/></linearGradient><linearGradient id="g145" gradientUnits="userSpaceOnUse" x1="30.7" y1="252" x2="25" y2="1.3"><stop offset="0" stop-color="#ffc400"/><stop offset="0.0261" stop-color="#ffb200"/><stop offset="0.112" stop-color="#ff9400"/><stop offset="0.266" stop-color="#ff5500"/><stop offset="0.414" stop-color="#ff3800"/><stop offset="0.607" stop-color="#ff3800"/><stop offset="1" stop-color="#ff3800"/></linearGradient><linearGradient id="g146" gradientUnits="userSpaceOnUse" x1="40.7" y1="261.3" x2="50" y2="1.3"><stop offset="0" stop-color="#ffe200"/><stop offset="0.0764" stop-color="#ff9400"/><stop offset="0.235" stop-color="#ff6800"/><stop offset="0.444" stop-color="#ff3f00"/><stop offset="0.62" stop-color="#ff3f00"/><stop offset="1" stop-color="#ff3f00"/></linearGradient><linearGradient id="g147" gradientUnits="userSpaceOnUse" x1="50" y1="239.9" x2="75" y2="1.3"><stop offset="0" stop-color="#ff7a00"/><stop offset="0.169" stop-color="#ff6800"/><stop offset="0.528" stop-color="#ff4a00"/><stop offset="1" stop-color="#ff4a00"/></linearGradient><linearGradient id="g148" gradientUnits="userSpaceOnUse" x1="62.9" y1="260.6" x2="87.2" y2="1.3"><stop offset="0" stop-color="#ceff29"/><stop offset="0.0223" stop-color="#f8f500"/><stop offset="0.0657" stop-color="#ffc400"/><stop offset="0.177" stop-color="#ff8d00"/><stop offset="0.449" stop-color="#ff5500"/><stop offset="0.62" stop-color="#ff5500"/><stop offset="1" stop-color="#ff5500"/></linearGradient><linearGradient id="g149" gradientUnits="userSpaceOnUse" x1="82.9" y1="257" x2="112.2" y2="1.3"><stop offset="0" stop-color="#8dff6a"/><stop offset="0.0335" stop-color="#ceff29"/><stop offset="0.078" stop-color="#ffc400"/><stop offset="0.222" stop-color="#ff9400"/><stop offset="0.492" stop-color="#ff7a00"/><stop offset="0.672" stop-color="#ff6f00"/><stop offset="1" stop-color="#ff6800"/></linearGradient><linearGradient id="g150" gradientUnits="userSpaceOnUse" x1="103.6" y1="248.5" x2="137.2" y2="1.3"><stop offset="0" stop-color="#53ffa4"/><stop offset="0.0302" stop-color="#8dff6a"/><stop offset="0.0854" stop-color="#ceff29"/><stop offset="0.144" stop-color="#ffd700"/><stop offset="0.252" stop-color="#ffab00"/><stop offset="0.435" stop-color="#ff8d00"/><stop offset="0.72" stop-color="#ff8200"/><stop offset="1" stop-color="#ff7a00"/></linearGradient><linearGradient id="g151" gradientUnits="userSpaceOnUse" x1="119.3" y1="242" x2="149.3" y2="1.3"><stop offset="0" stop-color="#53ffa4"/><stop offset="0.0508" stop-color="#a4ff53"/><stop offset="0.109" stop-color="#f8f500"/><stop offset="0.232" stop-color="#ffb200"/><stop offset="0.463" stop-color="#ff9400"/><stop offset="0.713" stop-color="#ff8d00"/><stop offset="1" stop-color="#ff8200"/></linearGradient><linearGradient id="g152" gradientUnits="userSpaceOnUse" x1="200" y1="282" x2="175" y2="1.3"><stop offset="0" stop-color="#00009f"/><stop offset="0" stop-color="#00009f"/><stop offset="0.0173" stop-color="#00009f"/><stop offset="0.115" stop-color="#0000ff"/><stop offset="0.199" stop-color="#00b0ff"/><stop offset="0.267" stop-color="#7dff7a"/><stop offset="0.308" stop-color="#ceff29"/><stop offset="0.406" stop-color="#ffd700"/><stop offset="0.554" stop-color="#ffb200"/><stop offset="0.753" stop-color="#ff9f00"/><stop offset="1" stop-color="#ff9400"/></linearGradient><linearGradient id="g153" gradientUnits="userSpaceOnUse" x1="212.2" y1="274.2" x2="187.2" y2="1.3"><stop offset="0" stop-color="#00009f"/><stop offset="0.0666" stop-color="#0000b6"/><stop offset="0.153" stop-color="#0000f1"/><stop offset="0.227" stop-color="#19ffde"/><stop offset="0.292" stop-color="#53ffa4"/><stop offset="0.36" stop-color="#a4ff53"/><stop offset="0.45" stop-color="#e7ff0f"/><stop offset="0.539" stop-color="#feed00"/><stop offset="0.745" stop-color="#ffc400"/><stop offset="1" stop-color="#ffab00"/></linearGradient><linearGradient id="g154" gradientUnits="userSpaceOnUse" x1="212.2" y1="194.9" x2="200" y2="1.3"><stop offset="0" stop-color="#29ffce"/><stop offset="0.117" stop-color="#7dff7a"/><stop offset="0.272" stop-color="#beff39"/><stop offset="0.426" stop-color="#e7ff0f"/><stop offset="0.565" stop-color="#feed00"/><stop offset="0.787" stop-color="#ffc400"/><stop offset="1" stop-color="#ffb200"/></linearGradient><linearGradient id="g155" gradientUnits="userSpaceOnUse" x1="190.7" y1="264.2" x2="162.2" y2="183.5"><stop offset="0" stop-color="#0000b6"/><stop offset="0.138" stop-color="#0000da"/><stop offset="0.37" stop-color="#009cff"/><stop offset="0.55" stop-color="#29ffce"/><stop offset="0.814" stop-color="#7dff7a"/><stop offset="1" stop-color="#beff39"/></linearGradient><linearGradient id="g156" gradientUnits="userSpaceOnUse" x1="99.3" y1="280.9" x2="2.2" y2="565.9"><stop offset="0" stop-color="#0000f1"/><stop offset="0.0394" stop-color="#004cff"/><stop offset="0.0689" stop-color="#19ffde"/><stop offset="0.0916" stop-color="#beff39"/><stop offset="0.113" stop-color="#feed00"/><stop offset="0.169" stop-color="#ff9400"/><stop offset="0.221" stop-color="#feed00"/><stop offset="0.238" stop-color="#a4ff53"/><stop offset="0.284" stop-color="#f8f500"/><stop offset="0.376" stop-color="#ff7a00"/><stop offset="1" stop-color="#ff3800"/></linearGradient><linearGradient id="g157" gradientUnits="userSpaceOnUse" x1="99.3" y1="280.9" x2="143.6" y2="365.2"><stop offset="0" stop-color="#0000f1"/><stop offset="0.0848" stop-color="#0000ad"/><stop offset="0.231" stop-color="#00009f"/><stop offset="0.265" stop-color="#00009f"/><stop offset="0.289" stop-color="#00009f"/><stop offset="0.368" stop-color="#00009f"/><stop offset="0.417" stop-color="#00009f"/><stop offset="0.458" stop-color="#00009f"/><stop offset="0.53" stop-color="#0000b6"/><stop offset="0.604" stop-color="#0000f1"/><stop offset="0.738" stop-color="#0080ff"/><stop offset="0.862" stop-color="#29ffce"/><stop offset="1" stop-color="#8dff6a"/></linearGradient><linearGradient id="g158" gradientUnits="userSpaceOnUse" x1="128.6" y1="284.5" x2="100" y2="364.5"><stop offset="0" stop-color="#00009f"/><stop offset="0.223" stop-color="#0018ff"/><stop offset="0.363" stop-color="#00b0ff"/><stop offset="0.427" stop-color="#7dff7a"/><stop offset="0.577" stop-color="#beff39"/><stop offset="0.715" stop-color="#f8f500"/><stop offset="0.873" stop-color="#ffb200"/><stop offset="1" stop-color="#ff9f00"/></linearGradient><linearGradient id="g159" gradientUnits="userSpaceOnUse" x1="142.2" y1="310.9" x2="142.2" y2="411.6"><stop offset="0" stop-color="#004cff"/><stop offset="0.149" stop-color="#00e4f8"/><stop offset="0.291" stop-color="#7dff7a"/><stop offset="0.404" stop-color="#ceff29"/><stop offset="0.461" stop-color="#f8f500"/><stop offset="0.56" stop-color="#ffd700"/><stop offset="1" stop-color="#ffb200"/></linearGradient><linearGradient id="g160" gradientUnits="userSpaceOnUse" x1="112.2" y1="332.3" x2="117.2" y2="373.8"><stop offset="0" stop-color="#7dff7a"/><stop offset="0.175" stop-color="#beff39"/><stop offset="0.343" stop-color="#ffd700"/><stop offset="1" stop-color="#ffb200"/></linearGradient><linearGradient id="g161" gradientUnits="userSpaceOnUse" x1="73.6" y1="318" x2="119.3" y2="565.9"><stop offset="0" stop-color="#f8f500"/><stop offset="0.0307" stop-color="#ffab00"/><stop offset="0.15" stop-color="#ff9400"/><stop offset="0.356" stop-color="#ff8d00"/><stop offset="0.516" stop-color="#ff8200"/><stop offset="0.783" stop-color="#ff7a00"/><stop offset="1" stop-color="#ff6800"/></linearGradient><linearGradient id="g162" gradientUnits="userSpaceOnUse" x1="57.2" y1="317.3" x2="87.9" y2="565.9"><stop offset="0" stop-color="#ff7a00"/><stop offset="0.209" stop-color="#ff6f00"/><stop offset="0.44" stop-color="#ff6800"/><stop offset="0.727" stop-color="#ff5d00"/><stop offset="1" stop-color="#ff5500"/></linearGradient><linearGradient id="g163" gradientUnits="userSpaceOnUse" x1="51.4" y1="323" x2="75" y2="565.9"><stop offset="0" stop-color="#ff7a00"/><stop offset="0.248" stop-color="#ff6800"/><stop offset="0.437" stop-color="#ff6800"/><stop offset="0.719" stop-color="#ff5500"/><stop offset="1" stop-color="#ff4a00"/></linearGradient><linearGradient id="g164" gradientUnits="userSpaceOnUse" x1="37.9" y1="325.9" x2="50" y2="565.9"><stop offset="0" stop-color="#ff6800"/><stop offset="0.297" stop-color="#ff5500"/><stop offset="0.518" stop-color="#ff4a00"/><stop offset="0.833" stop-color="#ff3f00"/><stop offset="1" stop-color="#ff3f00"/></linearGradient><linearGradient id="g165" gradientUnits="userSpaceOnUse" x1="109.3" y1="403.8" x2="125" y2="565.9"><stop offset="0" stop-color="#ff9400"/><stop offset="0.315" stop-color="#ff8d00"/><stop offset="0.482" stop-color="#ff8200"/><stop offset="1" stop-color="#ff6f00"/></linearGradient><linearGradient id="g166" gradientUnits="userSpaceOnUse" x1="122.2" y1="403.8" x2="137.2" y2="565.9"><stop offset="0" stop-color="#ffab00"/><stop offset="0.316" stop-color="#ff9f00"/><stop offset="0.492" stop-color="#ff9400"/><stop offset="1" stop-color="#ff8200"/></linearGradient><linearGradient id="g167" gradientUnits="userSpaceOnUse" x1="145" y1="443.8" x2="149.3" y2="565.9"><stop offset="0" stop-color="#ffb200"/><stop offset="0.474" stop-color="#ff9f00"/><stop offset="1" stop-color="#ff8d00"/></linearGradient><linearGradient id="g168" gradientUnits="userSpaceOnUse" x1="157.9" y1="443" x2="162.2" y2="565.9"><stop offset="0" stop-color="#ffbd00"/><stop offset="0.547" stop-color="#ffab00"/><stop offset="1" stop-color="#ff9400"/></linearGradient><linearGradient id="g169" gradientUnits="userSpaceOnUse" x1="168.6" y1="433.8" x2="174.3" y2="565.9"><stop offset="0" stop-color="#ffc400"/><stop offset="0.428" stop-color="#ffb200"/><stop offset="1" stop-color="#ff9f00"/></linearGradient><linearGradient id="g170" gradientUnits="userSpaceOnUse" x1="188.6" y1="324.5" x2="174.3" y2="407.3"><stop offset="0" stop-color="#0018ff"/><stop offset="0.194" stop-color="#00b0ff"/><stop offset="0.429" stop-color="#39ffbe"/><stop offset="0.628" stop-color="#7dff7a"/><stop offset="0.811" stop-color="#beff39"/><stop offset="1" stop-color="#eeff09"/></linearGradient><linearGradient id="g171" gradientUnits="userSpaceOnUse" x1="212.2" y1="330.9" x2="186.4" y2="565.9"><stop offset="0" stop-color="#0000b6"/><stop offset="0.0711" stop-color="#004cff"/><stop offset="0.135" stop-color="#19ffde"/><stop offset="0.201" stop-color="#39ffbe"/><stop offset="0.263" stop-color="#7dff7a"/><stop offset="0.381" stop-color="#beff39"/><stop offset="0.451" stop-color="#deff19"/><stop offset="0.589" stop-color="#f8f500"/><stop offset="0.831" stop-color="#ffd700"/><stop offset="1" stop-color="#ffc400"/></linearGradient><linearGradient id="g172" gradientUnits="userSpaceOnUse" x1="200.7" y1="385.2" x2="199.3" y2="477.3"><stop offset="0" stop-color="#7dff7a"/><stop offset="0.164" stop-color="#a4ff53"/><stop offset="0.287" stop-color="#ceff29"/><stop offset="0.597" stop-color="#eeff09"/><stop offset="1" stop-color="#f8f500"/></linearGradient><linearGradient id="g173" gradientUnits="userSpaceOnUse" x1="212.2" y1="388.8" x2="199.3" y2="565.9"><stop offset="0" stop-color="#53ffa4"/><stop offset="0.0903" stop-color="#a4ff53"/><stop offset="0.291" stop-color="#ceff29"/><stop offset="0.443" stop-color="#deff19"/><stop offset="0.693" stop-color="#feed00"/><stop offset="1" stop-color="#ffc400"/></linearGradient><linearGradient id="g174" gradientUnits="userSpaceOnUse" x1="15.8" y1="206.3" x2="11.5" y2="1.3"><stop offset="0" stop-color="#ffb200"/><stop offset="0.171" stop-color="#ff9400"/><stop offset="0.436" stop-color="#ff8200"/><stop offset="1" stop-color="#ff8200"/></linearGradient><linearGradient id="g175" gradientUnits="userSpaceOnUse" x1="27.3" y1="198.5" x2="23.7" y2="1.3"><stop offset="0" stop-color="#ff9f00"/><stop offset="0.174" stop-color="#ff8d00"/><stop offset="0.421" stop-color="#ff8200"/><stop offset="1" stop-color="#ff8200"/></linearGradient><linearGradient id="g176" gradientUnits="userSpaceOnUse" x1="41.5" y1="270.6" x2="36.5" y2="1.3"><stop offset="0" stop-color="#feed00"/><stop offset="0.0186" stop-color="#ff9f00"/><stop offset="0.103" stop-color="#ff9400"/><stop offset="0.263" stop-color="#ff8d00"/><stop offset="0.488" stop-color="#ff8200"/><stop offset="0.634" stop-color="#ff8200"/><stop offset="1" stop-color="#ff8200"/></linearGradient><linearGradient id="g177" gradientUnits="userSpaceOnUse" x1="51.5" y1="269.9" x2="48.7" y2="1.3"><stop offset="0" stop-color="#deff19"/><stop offset="0.0214" stop-color="#f8f500"/><stop offset="0.101" stop-color="#ff9400"/><stop offset="0.261" stop-color="#ff8d00"/><stop offset="0.49" stop-color="#ff8200"/><stop offset="0.633" stop-color="#ff8200"/><stop offset="1" stop-color="#ff8200"/></linearGradient><linearGradient id="g178" gradientUnits="userSpaceOnUse" x1="58.7" y1="209.9" x2="61.5" y2="1.3"><stop offset="0" stop-color="#ff9400"/><stop offset="0.185" stop-color="#ff8d00"/><stop offset="0.493" stop-color="#ff8200"/><stop offset="1" stop-color="#ff8200"/></linearGradient><linearGradient id="g179" gradientUnits="userSpaceOnUse" x1="73.7" y1="274.2" x2="73.7" y2="1.3"><stop offset="0" stop-color="#00b0ff"/><stop offset="0.0209" stop-color="#53ffa4"/><stop offset="0.0471" stop-color="#f8f500"/><stop offset="0.0733" stop-color="#ffc400"/><stop offset="0.168" stop-color="#ffab00"/><stop offset="0.325" stop-color="#ff9400"/><stop offset="0.482" stop-color="#ff8d00"/><stop offset="0.639" stop-color="#ff8d00"/><stop offset="1" stop-color="#ff8200"/></linearGradient><linearGradient id="g180" gradientUnits="userSpaceOnUse" x1="100.8" y1="271.3" x2="99.4" y2="1.3"><stop offset="0" stop-color="#0080ff"/><stop offset="0.0426" stop-color="#53ffa4"/><stop offset="0.0797" stop-color="#ceff29"/><stop offset="0.133" stop-color="#ffc400"/><stop offset="0.265" stop-color="#ffab00"/><stop offset="0.397" stop-color="#ff9f00"/><stop offset="0.635" stop-color="#ff9400"/><stop offset="1" stop-color="#ff8d00"/></linearGradient><linearGradient id="g181" gradientUnits="userSpaceOnUse" x1="107.3" y1="247" x2="124.4" y2="1.3"><stop offset="0" stop-color="#a4ff53"/><stop offset="0.0283" stop-color="#ceff29"/><stop offset="0.099" stop-color="#f8f500"/><stop offset="0.252" stop-color="#ffb200"/><stop offset="0.414" stop-color="#ff9f00"/><stop offset="0.6" stop-color="#ff9400"/><stop offset="1" stop-color="#ff9400"/></linearGradient><linearGradient id="g182" gradientUnits="userSpaceOnUse" x1="140.1" y1="242.8" x2="136.5" y2="1.3"><stop offset="0" stop-color="#43ffb4"/><stop offset="0.0359" stop-color="#7dff7a"/><stop offset="0.107" stop-color="#ceff29"/><stop offset="0.178" stop-color="#feed00"/><stop offset="0.296" stop-color="#ffc400"/><stop offset="0.521" stop-color="#ffab00"/><stop offset="1" stop-color="#ff9f00"/></linearGradient><linearGradient id="g183" gradientUnits="userSpaceOnUse" x1="165.8" y1="245.6" x2="148.7" y2="1.3"><stop offset="0" stop-color="#00e4f8"/><stop offset="0.0749" stop-color="#53ffa4"/><stop offset="0.163" stop-color="#a4ff53"/><stop offset="0.25" stop-color="#feed00"/><stop offset="0.407" stop-color="#ffb200"/><stop offset="0.599" stop-color="#ffab00"/><stop offset="1" stop-color="#ff9f00"/></linearGradient><linearGradient id="g184" gradientUnits="userSpaceOnUse" x1="198.7" y1="234.9" x2="161.5" y2="1.3"><stop offset="0" stop-color="#00b0ff"/><stop offset="0.0902" stop-color="#53ffa4"/><stop offset="0.197" stop-color="#beff39"/><stop offset="0.348" stop-color="#f8f500"/><stop offset="0.516" stop-color="#ffb200"/><stop offset="0.709" stop-color="#ffab00"/><stop offset="1" stop-color="#ffab00"/></linearGradient><linearGradient id="g185" gradientUnits="userSpaceOnUse" x1="211.5" y1="222" x2="173.7" y2="1.3"><stop offset="0" stop-color="#0ff8e7"/><stop offset="0.101" stop-color="#7dff7a"/><stop offset="0.215" stop-color="#beff39"/><stop offset="0.391" stop-color="#ffd700"/><stop offset="0.629" stop-color="#ffb200"/><stop offset="1" stop-color="#ffab00"/></linearGradient><linearGradient id="g186" gradientUnits="userSpaceOnUse" x1="211.5" y1="189.2" x2="185.8" y2="1.3"><stop offset="0" stop-color="#53ffa4"/><stop offset="0.124" stop-color="#adff49"/><stop offset="0.294" stop-color="#f8f500"/><stop offset="0.46" stop-color="#ffc400"/><stop offset="0.709" stop-color="#ffb200"/><stop offset="1" stop-color="#ffb200"/></linearGradient><linearGradient id="g187" gradientUnits="userSpaceOnUse" x1="211.5" y1="144.9" x2="198.7" y2="1.3"><stop offset="0" stop-color="#ceff29"/><stop offset="0.166" stop-color="#eeff09"/><stop offset="0.391" stop-color="#ffc400"/><stop offset="0.615" stop-color="#ffbd00"/><stop offset="1" stop-color="#ffb200"/></linearGradient><linearGradient id="g188" gradientUnits="userSpaceOnUse" x1="27.3" y1="242.8" x2="0.8" y2="204.2"><stop offset="0" stop-color="#f8f500"/><stop offset="0.204" stop-color="#a4ff53"/><stop offset="0.462" stop-color="#53ffa4"/><stop offset="0.713" stop-color="#53ffa4"/><stop offset="1" stop-color="#ceff29"/></linearGradient><linearGradient id="g189" gradientUnits="userSpaceOnUse" x1="30.1" y1="257.8" x2="17.7" y2="259.2"><stop offset="0" stop-color="#ff9400"/><stop offset="0.504" stop-color="#ff3800"/><stop offset="1" stop-color="#960000"/></linearGradient><linearGradient id="g190" gradientUnits="userSpaceOnUse" x1="29.4" y1="307" x2="17.7" y2="305.6"><stop offset="0" stop-color="#ff9400"/><stop offset="0.481" stop-color="#ff3800"/><stop offset="1" stop-color="#960000"/></linearGradient><linearGradient id="g191" gradientUnits="userSpaceOnUse" x1="211.5" y1="279.9" x2="18" y2="334.2"><stop offset="0" stop-color="#0000f1"/><stop offset="0.0809" stop-color="#0000ff"/><stop offset="0.215" stop-color="#0018ff"/><stop offset="0.389" stop-color="#0000ff"/><stop offset="0.435" stop-color="#0000b6"/><stop offset="0.471" stop-color="#0000b6"/><stop offset="0.545" stop-color="#0000f1"/><stop offset="0.674" stop-color="#0060ff"/><stop offset="0.737" stop-color="#19ffde"/><stop offset="0.788" stop-color="#ceff29"/><stop offset="0.829" stop-color="#feed00"/><stop offset="0.856" stop-color="#feed00"/><stop offset="0.906" stop-color="#ffc400"/><stop offset="0.965" stop-color="#f8f500"/><stop offset="1" stop-color="#ceff29"/></linearGradient><linearGradient id="g192" gradientUnits="userSpaceOnUse" x1="23.7" y1="328" x2="1.5" y2="565.9"><stop offset="0" stop-color="#f8f500"/><stop offset="0.0201" stop-color="#ceff29"/><stop offset="0.0854" stop-color="#ceff29"/><stop offset="0.147" stop-color="#f8f500"/><stop offset="0.296" stop-color="#ffab00"/><stop offset="0.654" stop-color="#ff8d00"/><stop offset="1" stop-color="#ff7a00"/></linearGradient><linearGradient id="g193" gradientUnits="userSpaceOnUse" x1="28" y1="358" x2="23.7" y2="565.9"><stop offset="0" stop-color="#ffb200"/><stop offset="0.189" stop-color="#ff8d00"/><stop offset="0.427" stop-color="#ff7a00"/><stop offset="1" stop-color="#ff7a00"/></linearGradient><linearGradient id="g194" gradientUnits="userSpaceOnUse" x1="37.3" y1="368" x2="35.8" y2="565.9"><stop offset="0" stop-color="#ff9f00"/><stop offset="0.22" stop-color="#ff8200"/><stop offset="0.412" stop-color="#ff7a00"/><stop offset="1" stop-color="#ff7a00"/></linearGradient><linearGradient id="g195" gradientUnits="userSpaceOnUse" x1="50.8" y1="321.6" x2="48.7" y2="565.9"><stop offset="0" stop-color="#ffc400"/><stop offset="0.193" stop-color="#ff9400"/><stop offset="0.415" stop-color="#ff8200"/><stop offset="0.661" stop-color="#ff7a00"/><stop offset="1" stop-color="#ff7a00"/></linearGradient><linearGradient id="g196" gradientUnits="userSpaceOnUse" x1="58.7" y1="321.6" x2="59.4" y2="565.9"><stop offset="0" stop-color="#ffc400"/><stop offset="0.31" stop-color="#ff8d00"/><stop offset="0.482" stop-color="#ff8200"/><stop offset="1" stop-color="#ff7a00"/></linearGradient><linearGradient id="g197" gradientUnits="userSpaceOnUse" x1="68" y1="322.3" x2="74.4" y2="565.9"><stop offset="0" stop-color="#ffc400"/><stop offset="0.191" stop-color="#ff9400"/><stop offset="0.408" stop-color="#ff8d00"/><stop offset="0.66" stop-color="#ff8200"/><stop offset="1" stop-color="#ff7a00"/></linearGradient><linearGradient id="g198" gradientUnits="userSpaceOnUse" x1="80.1" y1="345.9" x2="85.1" y2="565.9"><stop offset="0" stop-color="#ffab00"/><stop offset="0.299" stop-color="#ff8d00"/><stop offset="0.468" stop-color="#ff8200"/><stop offset="1" stop-color="#ff8200"/></linearGradient><linearGradient id="g199" gradientUnits="userSpaceOnUse" x1="101.5" y1="317.3" x2="98" y2="565.9"><stop offset="0" stop-color="#beff39"/><stop offset="0.0463" stop-color="#deff19"/><stop offset="0.121" stop-color="#f8f500"/><stop offset="0.207" stop-color="#ffc400"/><stop offset="0.466" stop-color="#ff9f00"/><stop offset="0.724" stop-color="#ff8d00"/><stop offset="1" stop-color="#ff8200"/></linearGradient><linearGradient id="g200" gradientUnits="userSpaceOnUse" x1="105.8" y1="368" x2="112.3" y2="565.9"><stop offset="0" stop-color="#ffb200"/><stop offset="0.292" stop-color="#ff9f00"/><stop offset="0.509" stop-color="#ff9400"/><stop offset="1" stop-color="#ff8d00"/></linearGradient><linearGradient id="g201" gradientUnits="userSpaceOnUse" x1="211.5" y1="308.8" x2="125.1" y2="565.9"><stop offset="0" stop-color="#0000f1"/><stop offset="0.00432" stop-color="#0000b6"/><stop offset="0.00948" stop-color="#0000f1"/><stop offset="0.0846" stop-color="#004cff"/><stop offset="0.126" stop-color="#0ff8e7"/><stop offset="0.203" stop-color="#7dff7a"/><stop offset="0.268" stop-color="#ceff29"/><stop offset="0.386" stop-color="#ffd000"/><stop offset="0.666" stop-color="#ffb200"/><stop offset="1" stop-color="#ffab00"/></linearGradient><linearGradient id="g202" gradientUnits="userSpaceOnUse" x1="211.5" y1="318" x2="136.5" y2="565.9"><stop offset="0" stop-color="#0080ff"/><stop offset="0.048" stop-color="#00b0ff"/><stop offset="0.125" stop-color="#19ffde"/><stop offset="0.209" stop-color="#53ffa4"/><stop offset="0.295" stop-color="#ceff29"/><stop offset="0.448" stop-color="#ffd000"/><stop offset="0.695" stop-color="#ffbd00"/><stop offset="1" stop-color="#ffb200"/></linearGradient><linearGradient id="g203" gradientUnits="userSpaceOnUse" x1="146.5" y1="395.2" x2="148.7" y2="565.9"><stop offset="0" stop-color="#ffc400"/><stop offset="0.263" stop-color="#ffb200"/><stop offset="0.502" stop-color="#ffab00"/><stop offset="1" stop-color="#ff9f00"/></linearGradient><linearGradient id="g204" gradientUnits="userSpaceOnUse" x1="211.5" y1="353" x2="160.8" y2="565.9"><stop offset="0" stop-color="#19ffde"/><stop offset="0.0903" stop-color="#53ffa4"/><stop offset="0.185" stop-color="#a4ff53"/><stop offset="0.307" stop-color="#ceff29"/><stop offset="0.467" stop-color="#ffd700"/><stop offset="0.696" stop-color="#ffc400"/><stop offset="1" stop-color="#ffc400"/></linearGradient><linearGradient id="g205" gradientUnits="userSpaceOnUse" x1="211.5" y1="381.6" x2="174.4" y2="565.9"><stop offset="0" stop-color="#53ffa4"/><stop offset="0.102" stop-color="#a4ff53"/><stop offset="0.263" stop-color="#ceff29"/><stop offset="0.436" stop-color="#ffe200"/><stop offset="0.718" stop-color="#ffd000"/><stop offset="1" stop-color="#ffc400"/></linearGradient><linearGradient id="g206" gradientUnits="userSpaceOnUse" x1="186.5" y1="454.5" x2="186.5" y2="565.9"><stop offset="0" stop-color="#ffe200"/><stop offset="0.276" stop-color="#ffd000"/><stop offset="1" stop-color="#ffc400"/></linearGradient><linearGradient id="g207" gradientUnits="userSpaceOnUse" x1="211.5" y1="437.3" x2="198.7" y2="565.9"><stop offset="0" stop-color="#ceff29"/><stop offset="0.192" stop-color="#f8f500"/><stop offset="0.392" stop-color="#ffd700"/><stop offset="0.691" stop-color="#ffc400"/><stop offset="1" stop-color="#ffc400"/></linearGradient><radialGradient id="dk20"><stop offset="0" stop-color="#3c3c3c"/><stop offset=".55" stop-color="#4a4a4a" stop-opacity=".85"/><stop offset="1" stop-color="#777" stop-opacity="0"/></radialGradient><linearGradient id="g208" gradientUnits="userSpaceOnUse" x1="2.3" y1="217.9" x2="1.5" y2="0.7"><stop offset="0" stop-color="#7dff7a"/><stop offset="0.151" stop-color="#00e4f8"/><stop offset="0.461" stop-color="#0094ff"/><stop offset="1" stop-color="#0080ff"/></linearGradient><linearGradient id="g209" gradientUnits="userSpaceOnUse" x1="14.4" y1="185" x2="24.4" y2="0.7"><stop offset="0" stop-color="#00e4f8"/><stop offset="0.233" stop-color="#00b0ff"/><stop offset="0.535" stop-color="#0094ff"/><stop offset="0.698" stop-color="#0088ff"/><stop offset="1" stop-color="#0080ff"/></linearGradient><linearGradient id="g210" gradientUnits="userSpaceOnUse" x1="12.3" y1="256.4" x2="49.4" y2="0.7"><stop offset="0" stop-color="#e7ff0f"/><stop offset="0.0239" stop-color="#ceff29"/><stop offset="0.114" stop-color="#7dff7a"/><stop offset="0.282" stop-color="#19ffde"/><stop offset="0.439" stop-color="#009cff"/><stop offset="0.672" stop-color="#0060ff"/><stop offset="1" stop-color="#0038ff"/></linearGradient><linearGradient id="g211" gradientUnits="userSpaceOnUse" x1="40.1" y1="205.7" x2="73.7" y2="0.7"><stop offset="0" stop-color="#0080ff"/><stop offset="0.172" stop-color="#004cff"/><stop offset="0.473" stop-color="#0018ff"/><stop offset="0.731" stop-color="#0004ff"/><stop offset="1" stop-color="#0000ff"/></linearGradient><linearGradient id="g212" gradientUnits="userSpaceOnUse" x1="36.5" y1="245" x2="99.4" y2="0.7"><stop offset="0" stop-color="#00e4f8"/><stop offset="0.106" stop-color="#00b0ff"/><stop offset="0.257" stop-color="#004cff"/><stop offset="0.465" stop-color="#0004ff"/><stop offset="0.723" stop-color="#0000f1"/><stop offset="1" stop-color="#0000da"/></linearGradient><linearGradient id="g213" gradientUnits="userSpaceOnUse" x1="83.7" y1="172.2" x2="124.4" y2="0.7"><stop offset="0" stop-color="#0018ff"/><stop offset="0.179" stop-color="#0004ff"/><stop offset="0.392" stop-color="#0000ff"/><stop offset="0.639" stop-color="#0000f1"/><stop offset="1" stop-color="#0000da"/></linearGradient><linearGradient id="g214" gradientUnits="userSpaceOnUse" x1="77.3" y1="209.3" x2="148.7" y2="0.7"><stop offset="0" stop-color="#00d0ff"/><stop offset="0.229" stop-color="#0060ff"/><stop offset="0.431" stop-color="#0038ff"/><stop offset="0.741" stop-color="#0000ff"/><stop offset="1" stop-color="#0000f1"/></linearGradient><linearGradient id="g215" gradientUnits="userSpaceOnUse" x1="105.8" y1="170" x2="136.5" y2="99.3"><stop offset="0" stop-color="#0060ff"/><stop offset="0.464" stop-color="#004cff"/><stop offset="1" stop-color="#0018ff"/></linearGradient><linearGradient id="g216" gradientUnits="userSpaceOnUse" x1="28.7" y1="275" x2="198.7" y2="0.7"><stop offset="0" stop-color="#eeff09"/><stop offset="0.0485" stop-color="#eeff09"/><stop offset="0.132" stop-color="#beff39"/><stop offset="0.231" stop-color="#53ffa4"/><stop offset="0.345" stop-color="#00e4f8"/><stop offset="0.468" stop-color="#0080ff"/><stop offset="0.653" stop-color="#0018ff"/><stop offset="0.819" stop-color="#0000ff"/><stop offset="1" stop-color="#0000f1"/></linearGradient><linearGradient id="g217" gradientUnits="userSpaceOnUse" x1="123.7" y1="186.4" x2="211.5" y2="85"><stop offset="0" stop-color="#09f0ee"/><stop offset="0.144" stop-color="#00e4f8"/><stop offset="0.367" stop-color="#0094ff"/><stop offset="0.71" stop-color="#0038ff"/><stop offset="1" stop-color="#0000ff"/></linearGradient><linearGradient id="g218" gradientUnits="userSpaceOnUse" x1="211.5" y1="157.9" x2="140.1" y2="211.4"><stop offset="0" stop-color="#19ffde"/><stop offset="0.323" stop-color="#29ffce"/><stop offset="0.651" stop-color="#43ffb4"/><stop offset="1" stop-color="#39ffbe"/></linearGradient><linearGradient id="g219" gradientUnits="userSpaceOnUse" x1="211.5" y1="191.4" x2="192.3" y2="213.6"><stop offset="0" stop-color="#00b0ff"/><stop offset="0.722" stop-color="#004cff"/><stop offset="0.938" stop-color="#0018ff"/><stop offset="1" stop-color="#0018ff"/></linearGradient><linearGradient id="g220" gradientUnits="userSpaceOnUse" x1="211.5" y1="232.9" x2="188" y2="229.3"><stop offset="0" stop-color="#0060ff"/><stop offset="0.513" stop-color="#009cff"/><stop offset="1" stop-color="#00b0ff"/></linearGradient><linearGradient id="g221" gradientUnits="userSpaceOnUse" x1="211.5" y1="268.6" x2="114.4" y2="224.3"><stop offset="0" stop-color="#8dff6a"/><stop offset="0.256" stop-color="#7dff7a"/><stop offset="0.449" stop-color="#53ffa4"/><stop offset="0.69" stop-color="#7dff7a"/><stop offset="0.923" stop-color="#53ffa4"/><stop offset="0.976" stop-color="#39ffbe"/><stop offset="1" stop-color="#29ffce"/></linearGradient><linearGradient id="g222" gradientUnits="userSpaceOnUse" x1="160.8" y1="265" x2="68.7" y2="269.3"><stop offset="0" stop-color="#53ffa4"/><stop offset="0.199" stop-color="#39ffbe"/><stop offset="0.432" stop-color="#00e4f8"/><stop offset="0.743" stop-color="#09f0ee"/><stop offset="1" stop-color="#19ffde"/></linearGradient><linearGradient id="g223" gradientUnits="userSpaceOnUse" x1="167.3" y1="295.7" x2="65.1" y2="292.9"><stop offset="0" stop-color="#7dff7a"/><stop offset="0.243" stop-color="#5aff9d"/><stop offset="0.411" stop-color="#43ffb4"/><stop offset="0.733" stop-color="#09f0ee"/><stop offset="1" stop-color="#09f0ee"/></linearGradient><linearGradient id="g224" gradientUnits="userSpaceOnUse" x1="211.5" y1="295.7" x2="118.7" y2="325.7"><stop offset="0" stop-color="#a4ff53"/><stop offset="0.208" stop-color="#7dff7a"/><stop offset="0.37" stop-color="#53ffa4"/><stop offset="0.606" stop-color="#53ffa4"/><stop offset="0.898" stop-color="#53ffa4"/><stop offset="1" stop-color="#53ffa4"/></linearGradient><linearGradient id="g225" gradientUnits="userSpaceOnUse" x1="2.3" y1="313.9" x2="2.3" y2="565.3"><stop offset="0" stop-color="#f8f500"/><stop offset="0.119" stop-color="#7dff7a"/><stop offset="0.216" stop-color="#19ffde"/><stop offset="0.398" stop-color="#00b0ff"/><stop offset="1" stop-color="#0060ff"/></linearGradient><linearGradient id="g226" gradientUnits="userSpaceOnUse" x1="5.8" y1="346" x2="11.5" y2="565.3"><stop offset="0" stop-color="#7dff7a"/><stop offset="0.134" stop-color="#09f0ee"/><stop offset="0.456" stop-color="#009cff"/><stop offset="1" stop-color="#0080ff"/></linearGradient><linearGradient id="g227" gradientUnits="userSpaceOnUse" x1="15.1" y1="306" x2="62.3" y2="565.3"><stop offset="0" stop-color="#e7ff0f"/><stop offset="0.0768" stop-color="#7dff7a"/><stop offset="0.167" stop-color="#09f0ee"/><stop offset="0.328" stop-color="#009cff"/><stop offset="0.454" stop-color="#004cff"/><stop offset="0.682" stop-color="#0020ff"/><stop offset="1" stop-color="#0004ff"/></linearGradient><linearGradient id="g228" gradientUnits="userSpaceOnUse" x1="33.7" y1="327.4" x2="75.1" y2="565.3"><stop offset="0" stop-color="#09f0ee"/><stop offset="0.177" stop-color="#0080ff"/><stop offset="0.433" stop-color="#0000da"/><stop offset="0.659" stop-color="#0000c4"/><stop offset="1" stop-color="#0000b6"/></linearGradient><linearGradient id="g229" gradientUnits="userSpaceOnUse" x1="60.8" y1="365.3" x2="85.1" y2="435.3"><stop offset="0" stop-color="#0018ff"/><stop offset="0.488" stop-color="#0000da"/><stop offset="1" stop-color="#0000c4"/></linearGradient><linearGradient id="g230" gradientUnits="userSpaceOnUse" x1="35.1" y1="305.3" x2="153.7" y2="565.3"><stop offset="0" stop-color="#ceff29"/><stop offset="0.0948" stop-color="#8dff6a"/><stop offset="0.217" stop-color="#19ffde"/><stop offset="0.306" stop-color="#009cff"/><stop offset="0.503" stop-color="#0038ff"/><stop offset="0.709" stop-color="#0000f1"/><stop offset="1" stop-color="#0000c4"/></linearGradient><linearGradient id="g231" gradientUnits="userSpaceOnUse" x1="120.8" y1="409.6" x2="186.5" y2="565.3"><stop offset="0" stop-color="#002cff"/><stop offset="0.467" stop-color="#0000da"/><stop offset="0.746" stop-color="#0000c4"/><stop offset="1" stop-color="#0000b6"/></linearGradient><linearGradient id="g232" gradientUnits="userSpaceOnUse" x1="151.5" y1="439.6" x2="211.5" y2="558.2"><stop offset="0" stop-color="#0000f1"/><stop offset="0.462" stop-color="#0000c4"/><stop offset="0.786" stop-color="#0000b6"/><stop offset="1" stop-color="#0000ad"/></linearGradient><linearGradient id="g233" gradientUnits="userSpaceOnUse" x1="105.1" y1="323.2" x2="211.5" y2="442.4"><stop offset="0" stop-color="#29ffce"/><stop offset="0.0552" stop-color="#29ffce"/><stop offset="0.195" stop-color="#39ffbe"/><stop offset="0.398" stop-color="#39ffbe"/><stop offset="0.587" stop-color="#00e4f8"/><stop offset="0.783" stop-color="#009cff"/><stop offset="1" stop-color="#0060ff"/></linearGradient><linearGradient id="g234" gradientUnits="userSpaceOnUse" x1="165.1" y1="370.3" x2="211.5" y2="407.4"><stop offset="0" stop-color="#00e4f8"/><stop offset="0.469" stop-color="#009cff"/><stop offset="1" stop-color="#0080ff"/></linearGradient><linearGradient id="g235" gradientUnits="userSpaceOnUse" x1="211.5" y1="371.7" x2="181.5" y2="353.9"><stop offset="0" stop-color="#0094ff"/><stop offset="0.832" stop-color="#0094ff"/><stop offset="1" stop-color="#0080ff"/></linearGradient><linearGradient id="g236" gradientUnits="userSpaceOnUse" x1="211.5" y1="330.3" x2="170.8" y2="346.7"><stop offset="0" stop-color="#0080ff"/><stop offset="0.438" stop-color="#00b0ff"/><stop offset="0.806" stop-color="#0080ff"/><stop offset="1" stop-color="#004cff"/></linearGradient><linearGradient id="g237" gradientUnits="userSpaceOnUse" x1="2.2" y1="256.4" x2="1.4" y2="0.7"><stop offset="0" stop-color="#b60000"/><stop offset="0.168" stop-color="#ff1a00"/><stop offset="0.425" stop-color="#ff8200"/><stop offset="1" stop-color="#ffb200"/></linearGradient><linearGradient id="g238" gradientUnits="userSpaceOnUse" x1="12.2" y1="232.2" x2="24.3" y2="0.7"><stop offset="0" stop-color="#ff1a00"/><stop offset="0.204" stop-color="#ff6800"/><stop offset="0.5" stop-color="#ffb200"/><stop offset="0.698" stop-color="#ffbd00"/><stop offset="1" stop-color="#ffc400"/></linearGradient><linearGradient id="g239" gradientUnits="userSpaceOnUse" x1="24.3" y1="243.6" x2="61.4" y2="0.7"><stop offset="0" stop-color="#ff3800"/><stop offset="0.185" stop-color="#ff9400"/><stop offset="0.426" stop-color="#feed00"/><stop offset="0.715" stop-color="#eeff09"/><stop offset="1" stop-color="#deff19"/></linearGradient><linearGradient id="g240" gradientUnits="userSpaceOnUse" x1="22.9" y1="265" x2="86.4" y2="0.7"><stop offset="0" stop-color="#ff1a00"/><stop offset="0.0642" stop-color="#ff7a00"/><stop offset="0.23" stop-color="#ffc400"/><stop offset="0.393" stop-color="#eeff09"/><stop offset="0.53" stop-color="#ceff29"/><stop offset="0.743" stop-color="#beff39"/><stop offset="1" stop-color="#adff49"/></linearGradient><linearGradient id="g241" gradientUnits="userSpaceOnUse" x1="89.3" y1="107.9" x2="112.2" y2="0.7"><stop offset="0" stop-color="#7dff7a"/><stop offset="0.56" stop-color="#63ff94"/><stop offset="1" stop-color="#53ffa4"/></linearGradient><linearGradient id="g242" gradientUnits="userSpaceOnUse" x1="116.4" y1="248.6" x2="137.2" y2="0.7"><stop offset="0" stop-color="#ffe200"/><stop offset="0" stop-color="#ffc400"/><stop offset="0" stop-color="#ffab00"/><stop offset="0" stop-color="#ffc400"/><stop offset="0" stop-color="#ceff29"/><stop offset="0" stop-color="#ffc400"/><stop offset="0.153" stop-color="#f8f500"/><stop offset="0.325" stop-color="#a4ff53"/><stop offset="0.538" stop-color="#7dff7a"/><stop offset="0.773" stop-color="#63ff94"/><stop offset="1" stop-color="#53ffa4"/></linearGradient><linearGradient id="g243" gradientUnits="userSpaceOnUse" x1="121.4" y1="112.2" x2="161.4" y2="0.7"><stop offset="0" stop-color="#53ffa4"/><stop offset="0.411" stop-color="#43ffb4"/><stop offset="1" stop-color="#29ffce"/></linearGradient><linearGradient id="g244" gradientUnits="userSpaceOnUse" x1="117.9" y1="137.2" x2="173.6" y2="0.7"><stop offset="0" stop-color="#53ffa4"/><stop offset="0.45" stop-color="#43ffb4"/><stop offset="1" stop-color="#19ffde"/></linearGradient><linearGradient id="g245" gradientUnits="userSpaceOnUse" x1="211.4" y1="240.7" x2="212.2" y2="2.2"><stop offset="0" stop-color="#94ff63"/><stop offset="0.0236" stop-color="#a4ff53"/><stop offset="0.0442" stop-color="#adff49"/><stop offset="0.0442" stop-color="#b4ff43"/><stop offset="0.0442" stop-color="#a4ff53"/><stop offset="0.0463" stop-color="#a4ff53"/><stop offset="0.112" stop-color="#94ff63"/><stop offset="0.22" stop-color="#8dff6a"/><stop offset="0.532" stop-color="#43ffb4"/><stop offset="0.718" stop-color="#19ffde"/><stop offset="1" stop-color="#00e4f8"/></linearGradient><linearGradient id="g246" gradientUnits="userSpaceOnUse" x1="111.4" y1="214.3" x2="162.2" y2="132.2"><stop offset="0" stop-color="#7dff7a"/><stop offset="0.106" stop-color="#7dff7a"/><stop offset="0.366" stop-color="#7dff7a"/><stop offset="1" stop-color="#53ffa4"/></linearGradient><linearGradient id="g247" gradientUnits="userSpaceOnUse" x1="186.4" y1="211.4" x2="211.4" y2="123.6"><stop offset="0" stop-color="#29ffce"/><stop offset="0.0356" stop-color="#0ff8e7"/><stop offset="0.0959" stop-color="#09f0ee"/><stop offset="0.324" stop-color="#39ffbe"/><stop offset="0.444" stop-color="#29ffce"/><stop offset="0.725" stop-color="#1fffd7"/><stop offset="1" stop-color="#19ffde"/></linearGradient><linearGradient id="g248" gradientUnits="userSpaceOnUse" x1="211.4" y1="203.6" x2="211.4" y2="168.6"><stop offset="0" stop-color="#00e4f8"/><stop offset="0.122" stop-color="#00b0ff"/><stop offset="0.408" stop-color="#0060ff"/><stop offset="0.694" stop-color="#0060ff"/><stop offset="0.939" stop-color="#0074ff"/><stop offset="1" stop-color="#0080ff"/></linearGradient><linearGradient id="g249" gradientUnits="userSpaceOnUse" x1="211.4" y1="265.7" x2="122.9" y2="270.7"><stop offset="0" stop-color="#ceff29"/><stop offset="0.435" stop-color="#eeff09"/><stop offset="1" stop-color="#feed00"/></linearGradient><linearGradient id="g250" gradientUnits="userSpaceOnUse" x1="162.2" y1="298.6" x2="97.9" y2="304.3"><stop offset="0" stop-color="#ceff29"/><stop offset="0.314" stop-color="#deff19"/><stop offset="0.759" stop-color="#f8f500"/><stop offset="1" stop-color="#feed00"/></linearGradient><linearGradient id="g251" gradientUnits="userSpaceOnUse" x1="2.2" y1="313.9" x2="2.2" y2="565.3"><stop offset="0" stop-color="#ad0000"/><stop offset="0.159" stop-color="#ff1a00"/><stop offset="0.398" stop-color="#ff7a00"/><stop offset="1" stop-color="#ffc400"/></linearGradient><linearGradient id="g252" gradientUnits="userSpaceOnUse" x1="7.2" y1="345.3" x2="12.9" y2="565.3"><stop offset="0" stop-color="#ff1a00"/><stop offset="0.234" stop-color="#ff6800"/><stop offset="0.458" stop-color="#ff8d00"/><stop offset="1" stop-color="#ffc400"/></linearGradient><linearGradient id="g253" gradientUnits="userSpaceOnUse" x1="27.9" y1="339.6" x2="62.2" y2="565.3"><stop offset="0" stop-color="#ff5500"/><stop offset="0.192" stop-color="#ff9400"/><stop offset="0.363" stop-color="#ffd700"/><stop offset="0.635" stop-color="#f8f500"/><stop offset="1" stop-color="#deff19"/></linearGradient><linearGradient id="g254" gradientUnits="userSpaceOnUse" x1="54.3" y1="358.9" x2="75" y2="431"><stop offset="0" stop-color="#ffd700"/><stop offset="0.349" stop-color="#deff19"/><stop offset="0.626" stop-color="#beff39"/><stop offset="1" stop-color="#adff49"/></linearGradient><linearGradient id="g255" gradientUnits="userSpaceOnUse" x1="57.2" y1="448.2" x2="75" y2="565.3"><stop offset="0" stop-color="#eeff09"/><stop offset="0.292" stop-color="#beff39"/><stop offset="0.536" stop-color="#b4ff43"/><stop offset="1" stop-color="#adff49"/></linearGradient><linearGradient id="g256" gradientUnits="userSpaceOnUse" x1="72.2" y1="383.9" x2="87.2" y2="431"><stop offset="0" stop-color="#ceff29"/><stop offset="0.575" stop-color="#b4ff43"/><stop offset="1" stop-color="#a4ff53"/></linearGradient><linearGradient id="g257" gradientUnits="userSpaceOnUse" x1="87.9" y1="398.2" x2="112.2" y2="463.9"><stop offset="0" stop-color="#a4ff53"/><stop offset="0.381" stop-color="#7dff7a"/><stop offset="1" stop-color="#6aff8d"/></linearGradient><linearGradient id="g258" gradientUnits="userSpaceOnUse" x1="211.4" y1="311" x2="175" y2="565.3"><stop offset="0" stop-color="#53ffa4"/><stop offset="0.0339" stop-color="#7dff7a"/><stop offset="0.0496" stop-color="#a4ff53"/><stop offset="0.076" stop-color="#feed00"/><stop offset="0.0765" stop-color="#ffc400"/><stop offset="0.0785" stop-color="#ceff29"/><stop offset="0.102" stop-color="#beff39"/><stop offset="0.164" stop-color="#f8f500"/><stop offset="0.25" stop-color="#ceff29"/><stop offset="0.369" stop-color="#a4ff53"/><stop offset="0.549" stop-color="#7dff7a"/><stop offset="0.703" stop-color="#53ffa4"/><stop offset="0.766" stop-color="#29ffce"/><stop offset="0.88" stop-color="#00d0ff"/><stop offset="1" stop-color="#00b0ff"/></linearGradient><linearGradient id="g259" gradientUnits="userSpaceOnUse" x1="101.4" y1="368.2" x2="172.9" y2="481"><stop offset="0" stop-color="#ceff29"/><stop offset="0.184" stop-color="#adff49"/><stop offset="0.426" stop-color="#7dff7a"/><stop offset="0.689" stop-color="#53ffa4"/><stop offset="1" stop-color="#19ffde"/></linearGradient><linearGradient id="g260" gradientUnits="userSpaceOnUse" x1="107.2" y1="349.6" x2="211.4" y2="476.7"><stop offset="0" stop-color="#ceff29"/><stop offset="0.16" stop-color="#beff39"/><stop offset="0.357" stop-color="#94ff63"/><stop offset="0.499" stop-color="#7dff7a"/><stop offset="0.696" stop-color="#53ffa4"/><stop offset="0.906" stop-color="#29ffce"/><stop offset="1" stop-color="#19ffde"/></linearGradient><linearGradient id="g261" gradientUnits="userSpaceOnUse" x1="137.2" y1="348.9" x2="159.3" y2="387.4"><stop offset="0" stop-color="#39ffbe"/><stop offset="0.0495" stop-color="#53ffa4"/><stop offset="0.241" stop-color="#7dff7a"/><stop offset="1" stop-color="#7dff7a"/></linearGradient><linearGradient id="g262" gradientUnits="userSpaceOnUse" x1="165" y1="358.2" x2="211.4" y2="399.6"><stop offset="0" stop-color="#19ffde"/><stop offset="0" stop-color="#0060ff"/><stop offset="0.0146" stop-color="#0080ff"/><stop offset="0.362" stop-color="#0ff8e7"/><stop offset="0.723" stop-color="#00c4ff"/><stop offset="1" stop-color="#0094ff"/></linearGradient><linearGradient id="g263" gradientUnits="userSpaceOnUse" x1="190" y1="362.4" x2="212.9" y2="371"><stop offset="0" stop-color="#00c4ff"/><stop offset="0.527" stop-color="#00b0ff"/><stop offset="1" stop-color="#00b0ff"/></linearGradient><linearGradient id="g264" gradientUnits="userSpaceOnUse" x1="212.9" y1="334.2" x2="169.3" y2="326"><stop offset="0" stop-color="#29ffce"/><stop offset="0.216" stop-color="#53ffa4"/><stop offset="0.472" stop-color="#6aff8d"/><stop offset="1" stop-color="#7dff7a"/></linearGradient><linearGradient id="g265" gradientUnits="userSpaceOnUse" x1="83.6" y1="318.2" x2="79.3" y2="339.6"><stop offset="0" stop-color="#e7ff0f"/><stop offset="0.0192" stop-color="#a4ff53"/><stop offset="0.417" stop-color="#beff39"/><stop offset="1" stop-color="#ceff29"/></linearGradient><linearGradient id="g266" gradientUnits="userSpaceOnUse" x1="2.3" y1="249.3" x2="0.8" y2="0.7"><stop offset="0" stop-color="#ff9400"/><stop offset="0.144" stop-color="#ffc400"/><stop offset="0.408" stop-color="#b4ff43"/><stop offset="1" stop-color="#8dff6a"/></linearGradient><linearGradient id="g267" gradientUnits="userSpaceOnUse" x1="9.4" y1="247.9" x2="24.4" y2="0.7"><stop offset="0" stop-color="#ffab00"/><stop offset="0.0812" stop-color="#feed00"/><stop offset="0.255" stop-color="#ceff29"/><stop offset="0.532" stop-color="#adff49"/><stop offset="0.717" stop-color="#9dff5a"/><stop offset="1" stop-color="#8dff6a"/></linearGradient><linearGradient id="g268" gradientUnits="userSpaceOnUse" x1="28.7" y1="203.6" x2="48.7" y2="0.7"><stop offset="0" stop-color="#beff39"/><stop offset="0.162" stop-color="#b4ff43"/><stop offset="0.444" stop-color="#94ff63"/><stop offset="0.655" stop-color="#7dff7a"/><stop offset="1" stop-color="#7dff7a"/></linearGradient><linearGradient id="g269" gradientUnits="userSpaceOnUse" x1="22.3" y1="262.2" x2="73.7" y2="0.7"><stop offset="0" stop-color="#ffc400"/><stop offset="0.0693" stop-color="#f8f500"/><stop offset="0.192" stop-color="#b4ff43"/><stop offset="0.366" stop-color="#7dff7a"/><stop offset="0.517" stop-color="#53ffa4"/><stop offset="0.734" stop-color="#19ffde"/><stop offset="1" stop-color="#29ffce"/></linearGradient><linearGradient id="g270" gradientUnits="userSpaceOnUse" x1="45.1" y1="265.7" x2="99.4" y2="0.7"><stop offset="0" stop-color="#ffc400"/><stop offset="0" stop-color="#f8f500"/><stop offset="0" stop-color="#29ffce"/><stop offset="0.00857" stop-color="#a4ff53"/><stop offset="0.112" stop-color="#7dff7a"/><stop offset="0.251" stop-color="#19ffde"/><stop offset="0.419" stop-color="#00b0ff"/><stop offset="0.576" stop-color="#009cff"/><stop offset="0.791" stop-color="#0094ff"/><stop offset="1" stop-color="#0094ff"/></linearGradient><linearGradient id="g271" gradientUnits="userSpaceOnUse" x1="211.5" y1="182.2" x2="123.7" y2="0.7"><stop offset="0" stop-color="#63ff94"/><stop offset="0" stop-color="#7dff7a"/><stop offset="0" stop-color="#7dff7a"/><stop offset="0" stop-color="#53ffa4"/><stop offset="0" stop-color="#a4ff53"/><stop offset="0" stop-color="#e7ff0f"/><stop offset="0" stop-color="#ceff29"/><stop offset="0.005" stop-color="#7dff7a"/><stop offset="0.029" stop-color="#53ffa4"/><stop offset="0.0999" stop-color="#09f0ee"/><stop offset="0.119" stop-color="#00e4f8"/><stop offset="0.229" stop-color="#009cff"/><stop offset="0.421" stop-color="#0080ff"/><stop offset="0.709" stop-color="#0060ff"/><stop offset="1" stop-color="#0060ff"/></linearGradient><linearGradient id="g272" gradientUnits="userSpaceOnUse" x1="112.3" y1="177.9" x2="148.7" y2="0.7"><stop offset="0" stop-color="#0094ff"/><stop offset="0.205" stop-color="#0080ff"/><stop offset="0.436" stop-color="#0060ff"/><stop offset="0.691" stop-color="#0060ff"/><stop offset="1" stop-color="#0060ff"/></linearGradient><linearGradient id="g273" gradientUnits="userSpaceOnUse" x1="88" y1="245" x2="173.7" y2="0.7"><stop offset="0" stop-color="#39ffbe"/><stop offset="0.0331" stop-color="#43ffb4"/><stop offset="0.0875" stop-color="#43ffb4"/><stop offset="0.209" stop-color="#19ffde"/><stop offset="0.331" stop-color="#00b0ff"/><stop offset="0.49" stop-color="#0094ff"/><stop offset="0.732" stop-color="#0094ff"/><stop offset="1" stop-color="#0094ff"/></linearGradient><linearGradient id="g274" gradientUnits="userSpaceOnUse" x1="211.5" y1="147.9" x2="198.7" y2="0.7"><stop offset="0" stop-color="#009cff"/><stop offset="0" stop-color="#0018ff"/><stop offset="0.0269" stop-color="#0018ff"/><stop offset="0.116" stop-color="#004cff"/><stop offset="0.346" stop-color="#009cff"/><stop offset="0.726" stop-color="#009cff"/><stop offset="1" stop-color="#009cff"/></linearGradient><linearGradient id="g275" gradientUnits="userSpaceOnUse" x1="211.5" y1="131.4" x2="212.3" y2="15"><stop offset="0" stop-color="#0080ff"/><stop offset="0.128" stop-color="#0088ff"/><stop offset="0.214" stop-color="#0094ff"/><stop offset="0.367" stop-color="#009cff"/><stop offset="1" stop-color="#009cff"/></linearGradient><linearGradient id="g276" gradientUnits="userSpaceOnUse" x1="178.7" y1="168.6" x2="151.5" y2="209.3"><stop offset="0" stop-color="#0000b6"/><stop offset="0.287" stop-color="#000096"/><stop offset="0.401" stop-color="#000080"/><stop offset="0.522" stop-color="#000096"/><stop offset="1" stop-color="#0018ff"/></linearGradient><linearGradient id="g277" gradientUnits="userSpaceOnUse" x1="211.5" y1="216.4" x2="211.5" y2="256.4"><stop offset="0" stop-color="#b4ff43"/><stop offset="0.357" stop-color="#7dff7a"/><stop offset="0.643" stop-color="#8dff6a"/><stop offset="1" stop-color="#b4ff43"/></linearGradient><linearGradient id="g278" gradientUnits="userSpaceOnUse" x1="195.1" y1="268.6" x2="178.7" y2="251.4"><stop offset="0" stop-color="#a4ff53"/><stop offset="0.00452" stop-color="#beff39"/><stop offset="0.219" stop-color="#ceff29"/><stop offset="1" stop-color="#ceff29"/></linearGradient><linearGradient id="g279" gradientUnits="userSpaceOnUse" x1="153" y1="265" x2="170.1" y2="265.9"><stop offset="0" stop-color="#009cff"/><stop offset="0.455" stop-color="#00e4f8"/><stop offset="1" stop-color="#39ffbe"/></linearGradient><linearGradient id="g280" gradientUnits="userSpaceOnUse" x1="100.8" y1="291.4" x2="211.5" y2="338.6"><stop offset="0" stop-color="#beff39"/><stop offset="0.000705" stop-color="#beff39"/><stop offset="0.113" stop-color="#beff39"/><stop offset="0.41" stop-color="#ceff29"/><stop offset="0.686" stop-color="#e7ff0f"/><stop offset="1" stop-color="#eeff09"/></linearGradient><linearGradient id="g281" gradientUnits="userSpaceOnUse" x1="128.7" y1="310" x2="140.8" y2="294.3"><stop offset="0" stop-color="#29ffce"/><stop offset="0.159" stop-color="#39ffbe"/><stop offset="0.418" stop-color="#7dff7a"/><stop offset="0.752" stop-color="#8dff6a"/><stop offset="1" stop-color="#ffc400"/></linearGradient><linearGradient id="g282" gradientUnits="userSpaceOnUse" x1="153" y1="316.4" x2="164.4" y2="291.4"><stop offset="0" stop-color="#29ffce"/><stop offset="0.117" stop-color="#39ffbe"/><stop offset="0.375" stop-color="#7dff7a"/><stop offset="0.685" stop-color="#adff49"/><stop offset="1" stop-color="#ffb200"/></linearGradient><linearGradient id="g283" gradientUnits="userSpaceOnUse" x1="177.3" y1="310" x2="212.3" y2="298.6"><stop offset="0" stop-color="#29ffce"/><stop offset="0.0358" stop-color="#39ffbe"/><stop offset="0.293" stop-color="#7dff7a"/><stop offset="0.748" stop-color="#7dff7a"/><stop offset="1" stop-color="#6aff8d"/></linearGradient><linearGradient id="g284" gradientUnits="userSpaceOnUse" x1="25.8" y1="302.2" x2="113.7" y2="338.9"><stop offset="0" stop-color="#ffab00"/><stop offset="0.125" stop-color="#f8f500"/><stop offset="0.276" stop-color="#7dff7a"/><stop offset="0.435" stop-color="#53ffa4"/><stop offset="0.696" stop-color="#39ffbe"/><stop offset="1" stop-color="#29ffce"/></linearGradient><linearGradient id="g285" gradientUnits="userSpaceOnUse" x1="2.3" y1="311" x2="11.5" y2="565.3"><stop offset="0" stop-color="#ffb200"/><stop offset="0.14" stop-color="#ceff29"/><stop offset="0.281" stop-color="#53ffa4"/><stop offset="0.41" stop-color="#39ffbe"/><stop offset="0.674" stop-color="#09f0ee"/><stop offset="1" stop-color="#00b0ff"/></linearGradient><linearGradient id="g286" gradientUnits="userSpaceOnUse" x1="9.4" y1="309.6" x2="48" y2="565.3"><stop offset="0" stop-color="#ffc400"/><stop offset="0.118" stop-color="#b4ff43"/><stop offset="0.258" stop-color="#29ffce"/><stop offset="0.448" stop-color="#00b0ff"/><stop offset="0.731" stop-color="#0094ff"/><stop offset="1" stop-color="#0080ff"/></linearGradient><linearGradient id="g287" gradientUnits="userSpaceOnUse" x1="19.4" y1="319.6" x2="78.7" y2="373.2"><stop offset="0" stop-color="#e7ff0f"/><stop offset="0.234" stop-color="#7dff7a"/><stop offset="0.431" stop-color="#19ffde"/><stop offset="0.567" stop-color="#00b0ff"/><stop offset="0.815" stop-color="#0018ff"/><stop offset="0.992" stop-color="#0000da"/><stop offset="1" stop-color="#0000da"/><stop offset="1" stop-color="#0000f1"/><stop offset="1" stop-color="#0000ff"/></linearGradient><linearGradient id="g288" gradientUnits="userSpaceOnUse" x1="43.7" y1="428.2" x2="77.3" y2="543.2"><stop offset="0" stop-color="#0000ff"/><stop offset="0.408" stop-color="#0000f1"/><stop offset="0.729" stop-color="#0000c4"/><stop offset="0.906" stop-color="#0000b6"/><stop offset="1" stop-color="#0000ad"/></linearGradient><linearGradient id="g289" gradientUnits="userSpaceOnUse" x1="112.3" y1="565.3" x2="88.7" y2="416"><stop offset="0" stop-color="#0000da"/><stop offset="0.272" stop-color="#0000f1"/><stop offset="0.475" stop-color="#0000ff"/><stop offset="0.847" stop-color="#000cff"/><stop offset="1" stop-color="#0018ff"/></linearGradient><linearGradient id="g290" gradientUnits="userSpaceOnUse" x1="85.1" y1="565.3" x2="211.5" y2="349.6"><stop offset="0" stop-color="#0000b6"/><stop offset="0.225" stop-color="#0000c4"/><stop offset="0.321" stop-color="#0000da"/><stop offset="0.422" stop-color="#0000ff"/><stop offset="0.527" stop-color="#0018ff"/><stop offset="0.637" stop-color="#0060ff"/><stop offset="0.734" stop-color="#009cff"/><stop offset="0.779" stop-color="#19ffde"/><stop offset="0.862" stop-color="#53ffa4"/><stop offset="0.923" stop-color="#6aff8d"/><stop offset="1" stop-color="#7dff7a"/></linearGradient><linearGradient id="g291" gradientUnits="userSpaceOnUse" x1="149.4" y1="565.3" x2="101.5" y2="383.9"><stop offset="0" stop-color="#0000b6"/><stop offset="0.15" stop-color="#0000c4"/><stop offset="0.319" stop-color="#0000cd"/><stop offset="0.489" stop-color="#0000da"/><stop offset="0.561" stop-color="#0000f1"/><stop offset="0.789" stop-color="#0004ff"/><stop offset="1" stop-color="#0018ff"/></linearGradient><linearGradient id="g292" gradientUnits="userSpaceOnUse" x1="211.5" y1="471.7" x2="122.3" y2="383.2"><stop offset="0" stop-color="#004cff"/><stop offset="0.217" stop-color="#0018ff"/><stop offset="0.459" stop-color="#0000da"/><stop offset="0.683" stop-color="#0000ff"/><stop offset="0.86" stop-color="#0018ff"/><stop offset="1" stop-color="#0038ff"/></linearGradient><linearGradient id="g293" gradientUnits="userSpaceOnUse" x1="211.5" y1="441" x2="165.8" y2="388.2"><stop offset="0" stop-color="#0080ff"/><stop offset="0.407" stop-color="#004cff"/><stop offset="0.623" stop-color="#0038ff"/><stop offset="0.894" stop-color="#0018ff"/><stop offset="1" stop-color="#0018ff"/></linearGradient><linearGradient id="g294" gradientUnits="userSpaceOnUse" x1="211.5" y1="491" x2="160.8" y2="565.3"><stop offset="0" stop-color="#004cff"/><stop offset="0.138" stop-color="#0038ff"/><stop offset="0.306" stop-color="#0000ff"/><stop offset="0.383" stop-color="#0000c4"/><stop offset="0.57" stop-color="#0000b6"/><stop offset="1" stop-color="#0000ad"/></linearGradient><linearGradient id="g295" gradientUnits="userSpaceOnUse" x1="211.5" y1="509.6" x2="186.5" y2="565.3"><stop offset="0" stop-color="#0018ff"/><stop offset="0.257" stop-color="#0000da"/><stop offset="0.5" stop-color="#0000cd"/><stop offset="1" stop-color="#0000c4"/></linearGradient></defs>
<text x="244.5" y="39.6" font-size="47.3" text-anchor="middle">XRB0.01</text>
<text x="726.9" y="39.6" font-size="47.3" text-anchor="middle">XRB0.8</text>
<text x="1210.8" y="39.6" font-size="47.3" text-anchor="middle">XRB0.9</text>
<text x="237.2" y="114" font-size="48" text-anchor="middle"><tspan font-style="oblique">v</tspan><tspan>/</tspan><tspan font-style="oblique">c</tspan></text>
<text x="722.7" y="114" font-size="48" text-anchor="middle"><tspan font-style="oblique">v</tspan><tspan>/</tspan><tspan font-style="oblique">c</tspan></text>
<text x="1208.5" y="114" font-size="48" text-anchor="middle"><tspan font-style="oblique">v</tspan><tspan>/</tspan><tspan font-style="oblique">c</tspan></text>
<text x="237.2" y="873.6" font-size="48" text-anchor="middle"><tspan font-style="oblique">F</tspan><tspan dy="7.7" font-size="33.6">R</tspan><tspan dy="-7.7">/</tspan><tspan font-style="oblique">c</tspan><tspan font-style="oblique">E</tspan><tspan dy="7.7" font-size="33.6">0</tspan></text>
<text x="722.7" y="873.6" font-size="48" text-anchor="middle"><tspan font-style="oblique">F</tspan><tspan dy="7.7" font-size="33.6">R</tspan><tspan dy="-7.7">/</tspan><tspan font-style="oblique">c</tspan><tspan font-style="oblique">E</tspan><tspan dy="7.7" font-size="33.6">0</tspan></text>
<text x="1208.5" y="873.6" font-size="48" text-anchor="middle"><tspan font-style="oblique">F</tspan><tspan dy="7.7" font-size="33.6">R</tspan><tspan dy="-7.7">/</tspan><tspan font-style="oblique">c</tspan><tspan font-style="oblique">E</tspan><tspan dy="7.7" font-size="33.6">0</tspan></text>
<text x="237.2" y="1634.5" font-size="48" text-anchor="middle"><tspan font-style="oblique">B</tspan><tspan>/</tspan><tspan font-style="oblique">B</tspan><tspan dy="7.7" font-size="33.6">0</tspan></text>
<text x="722.7" y="1634.5" font-size="48" text-anchor="middle"><tspan font-style="oblique">B</tspan><tspan>/</tspan><tspan font-style="oblique">B</tspan><tspan dy="7.7" font-size="33.6">0</tspan></text>
<text x="1208.5" y="1634.5" font-size="48" text-anchor="middle"><tspan font-style="oblique">B</tspan><tspan>/</tspan><tspan font-style="oblique">B</tspan><tspan dy="7.7" font-size="33.6">0</tspan></text>
<rect x="125.3" y="134.3" width="223.8" height="27" fill="url(#gj)" stroke="#000" stroke-width="1"/>
<path d="M125.3 161.3v4.5" stroke="#000" stroke-width="1"/>
<text x="124.9" y="194.5" font-size="30.8" text-anchor="middle"><tspan letter-spacing="-0.7">10</tspan><tspan dy="-12.3" font-size="20.6" dx="0.6" letter-spacing="-0.6">−3</tspan></text>
<path d="M200.5 161.3v4.5" stroke="#000" stroke-width="1"/>
<text x="200.1" y="194.5" font-size="30.8" text-anchor="middle"><tspan letter-spacing="-0.7">10</tspan><tspan dy="-12.3" font-size="20.6" dx="0.6" letter-spacing="-0.6">−2</tspan></text>
<path d="M275.8 161.3v4.5" stroke="#000" stroke-width="1"/>
<text x="275.4" y="194.5" font-size="30.8" text-anchor="middle"><tspan letter-spacing="-0.7">10</tspan><tspan dy="-12.3" font-size="20.6" dx="0.6" letter-spacing="-0.6">−1</tspan></text>
<rect x="610.8" y="134.3" width="223.8" height="27" fill="url(#gj)" stroke="#000" stroke-width="1"/>
<path d="M610.8 161.3v4.5" stroke="#000" stroke-width="1"/>
<text x="610.4" y="194.5" font-size="30.8" text-anchor="middle"><tspan letter-spacing="-0.7">10</tspan><tspan dy="-12.3" font-size="20.6" dx="0.6" letter-spacing="-0.6">−3</tspan></text>
<path d="M688.9 161.3v4.5" stroke="#000" stroke-width="1"/>
<text x="688.5" y="194.5" font-size="30.8" text-anchor="middle"><tspan letter-spacing="-0.7">10</tspan><tspan dy="-12.3" font-size="20.6" dx="0.6" letter-spacing="-0.6">−2</tspan></text>
<path d="M767 161.3v4.5" stroke="#000" stroke-width="1"/>
<text x="766.6" y="194.5" font-size="30.8" text-anchor="middle"><tspan letter-spacing="-0.7">10</tspan><tspan dy="-12.3" font-size="20.6" dx="0.6" letter-spacing="-0.6">−1</tspan></text>
<rect x="1096.6" y="134.3" width="223.8" height="27" fill="url(#gj)" stroke="#000" stroke-width="1"/>
<path d="M1096.6 161.3v4.5" stroke="#000" stroke-width="1"/>
<text x="1096.2" y="194.5" font-size="30.8" text-anchor="middle"><tspan letter-spacing="-0.7">10</tspan><tspan dy="-12.3" font-size="20.6" dx="0.6" letter-spacing="-0.6">−3</tspan></text>
<path d="M1175.2 161.3v4.5" stroke="#000" stroke-width="1"/>
<text x="1174.8" y="194.5" font-size="30.8" text-anchor="middle"><tspan letter-spacing="-0.7">10</tspan><tspan dy="-12.3" font-size="20.6" dx="0.6" letter-spacing="-0.6">−2</tspan></text>
<path d="M1253.8 161.3v4.5" stroke="#000" stroke-width="1"/>
<text x="1253.4" y="194.5" font-size="30.8" text-anchor="middle"><tspan letter-spacing="-0.7">10</tspan><tspan dy="-12.3" font-size="20.6" dx="0.6" letter-spacing="-0.6">−1</tspan></text>
<rect x="125.3" y="895.2" width="223.8" height="27" fill="url(#gj)" stroke="#000" stroke-width="1"/>
<path d="M183.3 922.2v4.5" stroke="#000" stroke-width="1"/>
<text x="182.9" y="955.4" font-size="30.8" text-anchor="middle"><tspan letter-spacing="-0.7">10</tspan><tspan dy="-12.3" font-size="20.6" dx="0.6" letter-spacing="-0.6">−2</tspan></text>
<path d="M266.2 922.2v4.5" stroke="#000" stroke-width="1"/>
<text x="265.8" y="955.4" font-size="30.8" text-anchor="middle"><tspan letter-spacing="-0.7">10</tspan><tspan dy="-12.3" font-size="20.6" dx="0.6" letter-spacing="-0.6">−1</tspan></text>
<path d="M349.1 922.2v4.5" stroke="#000" stroke-width="1"/>
<text x="348.7" y="955.4" font-size="30.8" text-anchor="middle"><tspan letter-spacing="-0.7">10</tspan><tspan dy="-12.3" font-size="20.6" dx="0.6" letter-spacing="-0.6">0</tspan></text>
<rect x="610.8" y="895.2" width="223.8" height="27" fill="url(#gj)" stroke="#000" stroke-width="1"/>
<path d="M610.8 922.2v4.5" stroke="#000" stroke-width="1"/>
<text x="610.4" y="955.4" font-size="30.8" text-anchor="middle"><tspan letter-spacing="-0.7">10</tspan><tspan dy="-12.3" font-size="20.6" dx="0.6" letter-spacing="-0.6">−3</tspan></text>
<path d="M685.4 922.2v4.5" stroke="#000" stroke-width="1"/>
<text x="685" y="955.4" font-size="30.8" text-anchor="middle"><tspan letter-spacing="-0.7">10</tspan><tspan dy="-12.3" font-size="20.6" dx="0.6" letter-spacing="-0.6">−2</tspan></text>
<path d="M760 922.2v4.5" stroke="#000" stroke-width="1"/>
<text x="759.6" y="955.4" font-size="30.8" text-anchor="middle"><tspan letter-spacing="-0.7">10</tspan><tspan dy="-12.3" font-size="20.6" dx="0.6" letter-spacing="-0.6">−1</tspan></text>
<path d="M834.6 922.2v4.5" stroke="#000" stroke-width="1"/>
<text x="834.2" y="955.4" font-size="30.8" text-anchor="middle"><tspan letter-spacing="-0.7">10</tspan><tspan dy="-12.3" font-size="20.6" dx="0.6" letter-spacing="-0.6">0</tspan></text>
<rect x="1096.6" y="895.2" width="223.8" height="27" fill="url(#gj)" stroke="#000" stroke-width="1"/>
<path d="M1096.6 922.2v4.5" stroke="#000" stroke-width="1"/>
<text x="1096.2" y="955.4" font-size="30.8" text-anchor="middle"><tspan letter-spacing="-0.7">10</tspan><tspan dy="-12.3" font-size="20.6" dx="0.6" letter-spacing="-0.6">−3</tspan></text>
<path d="M1171.2 922.2v4.5" stroke="#000" stroke-width="1"/>
<text x="1170.8" y="955.4" font-size="30.8" text-anchor="middle"><tspan letter-spacing="-0.7">10</tspan><tspan dy="-12.3" font-size="20.6" dx="0.6" letter-spacing="-0.6">−2</tspan></text>
<path d="M1245.8 922.2v4.5" stroke="#000" stroke-width="1"/>
<text x="1245.4" y="955.4" font-size="30.8" text-anchor="middle"><tspan letter-spacing="-0.7">10</tspan><tspan dy="-12.3" font-size="20.6" dx="0.6" letter-spacing="-0.6">−1</tspan></text>
<path d="M1320.4 922.2v4.5" stroke="#000" stroke-width="1"/>
<text x="1320" y="955.4" font-size="30.8" text-anchor="middle"><tspan letter-spacing="-0.7">10</tspan><tspan dy="-12.3" font-size="20.6" dx="0.6" letter-spacing="-0.6">0</tspan></text>
<rect x="125.3" y="1655.4" width="223.8" height="27" fill="url(#gj)" stroke="#000" stroke-width="1"/>
<path d="M125.3 1682.4v4.5" stroke="#000" stroke-width="1"/>
<text x="124.9" y="1715.6" font-size="30.8" text-anchor="middle"><tspan letter-spacing="-0.7">10</tspan><tspan dy="-12.3" font-size="20.6" dx="0.6" letter-spacing="-0.6">−3</tspan></text>
<path d="M218.4 1682.4v4.5" stroke="#000" stroke-width="1"/>
<text x="218" y="1715.6" font-size="30.8" text-anchor="middle"><tspan letter-spacing="-0.7">10</tspan><tspan dy="-12.3" font-size="20.6" dx="0.6" letter-spacing="-0.6">−2</tspan></text>
<path d="M311.5 1682.4v4.5" stroke="#000" stroke-width="1"/>
<text x="311.1" y="1715.6" font-size="30.8" text-anchor="middle"><tspan letter-spacing="-0.7">10</tspan><tspan dy="-12.3" font-size="20.6" dx="0.6" letter-spacing="-0.6">−1</tspan></text>
<rect x="610.8" y="1655.4" width="223.8" height="27" fill="url(#gj)" stroke="#000" stroke-width="1"/>
<path d="M610.8 1682.4v4.5" stroke="#000" stroke-width="1"/>
<text x="610.4" y="1715.6" font-size="30.8" text-anchor="middle"><tspan letter-spacing="-0.7">10</tspan><tspan dy="-12.3" font-size="20.6" dx="0.6" letter-spacing="-0.6">−3</tspan></text>
<path d="M694.7 1682.4v4.5" stroke="#000" stroke-width="1"/>
<text x="694.3" y="1715.6" font-size="30.8" text-anchor="middle"><tspan letter-spacing="-0.7">10</tspan><tspan dy="-12.3" font-size="20.6" dx="0.6" letter-spacing="-0.6">−2</tspan></text>
<path d="M778.5 1682.4v4.5" stroke="#000" stroke-width="1"/>
<text x="778.1" y="1715.6" font-size="30.8" text-anchor="middle"><tspan letter-spacing="-0.7">10</tspan><tspan dy="-12.3" font-size="20.6" dx="0.6" letter-spacing="-0.6">−1</tspan></text>
<rect x="1096.6" y="1655.4" width="223.8" height="27" fill="url(#gj)" stroke="#000" stroke-width="1"/>
<path d="M1160 1682.4v4.5" stroke="#000" stroke-width="1"/>
<text x="1159.6" y="1715.6" font-size="30.8" text-anchor="middle"><tspan letter-spacing="-0.7">10</tspan><tspan dy="-12.3" font-size="20.6" dx="0.6" letter-spacing="-0.6">−2</tspan></text>
<path d="M1240.2 1682.4v4.5" stroke="#000" stroke-width="1"/>
<text x="1239.8" y="1715.6" font-size="30.8" text-anchor="middle"><tspan letter-spacing="-0.7">10</tspan><tspan dy="-12.3" font-size="20.6" dx="0.6" letter-spacing="-0.6">−1</tspan></text>
<path d="M1320.4 1682.4v4.5" stroke="#000" stroke-width="1"/>
<text x="1320" y="1715.6" font-size="30.8" text-anchor="middle"><tspan letter-spacing="-0.7">10</tspan><tspan dy="-12.3" font-size="20.6" dx="0.6" letter-spacing="-0.6">0</tspan></text>
<rect x="1395.8" y="230" width="33" height="542.6" fill="url(#gr)" stroke="#000" stroke-width="1"/>
<text x="1438.4" y="784.8" font-size="30.8" text-anchor="start"><tspan letter-spacing="-0.7">10</tspan><tspan dy="-12.3" font-size="20.6" dx="0.6" letter-spacing="-0.6">−8</tspan></text>
<text x="1438.4" y="717" font-size="30.8" text-anchor="start"><tspan letter-spacing="-0.7">10</tspan><tspan dy="-12.3" font-size="20.6" dx="0.6" letter-spacing="-0.6">−7</tspan></text>
<text x="1438.4" y="649.2" font-size="30.8" text-anchor="start"><tspan letter-spacing="-0.7">10</tspan><tspan dy="-12.3" font-size="20.6" dx="0.6" letter-spacing="-0.6">−6</tspan></text>
<text x="1438.4" y="581.3" font-size="30.8" text-anchor="start"><tspan letter-spacing="-0.7">10</tspan><tspan dy="-12.3" font-size="20.6" dx="0.6" letter-spacing="-0.6">−5</tspan></text>
<text x="1438.4" y="513.5" font-size="30.8" text-anchor="start"><tspan letter-spacing="-0.7">10</tspan><tspan dy="-12.3" font-size="20.6" dx="0.6" letter-spacing="-0.6">−4</tspan></text>
<text x="1438.4" y="445.7" font-size="30.8" text-anchor="start"><tspan letter-spacing="-0.7">10</tspan><tspan dy="-12.3" font-size="20.6" dx="0.6" letter-spacing="-0.6">−3</tspan></text>
<text x="1438.4" y="377.8" font-size="30.8" text-anchor="start"><tspan letter-spacing="-0.7">10</tspan><tspan dy="-12.3" font-size="20.6" dx="0.6" letter-spacing="-0.6">−2</tspan></text>
<text x="1438.4" y="310" font-size="30.8" text-anchor="start"><tspan letter-spacing="-0.7">10</tspan><tspan dy="-12.3" font-size="20.6" dx="0.6" letter-spacing="-0.6">−1</tspan></text>
<text x="1438.4" y="242.2" font-size="30.8" text-anchor="start"><tspan letter-spacing="-0.7">10</tspan><tspan dy="-12.3" font-size="20.6" dx="0.6" letter-spacing="-0.6">0</tspan></text>
<path d="M1428.8 772.6h4.5M1428.8 704.8h4.5M1428.8 637h4.5M1428.8 569.1h4.5M1428.8 501.3h4.5M1428.8 433.5h4.5M1428.8 365.6h4.5M1428.8 297.8h4.5M1428.8 230h4.5" stroke="#000" stroke-width="1" fill="none"/>
<text x="0" y="0" transform="translate(1545.8 501.3) rotate(-90)" font-size="48" text-anchor="middle"><tspan font-style="oblique">ρ</tspan><tspan>/</tspan><tspan font-style="oblique">ρ</tspan><tspan dy="7.7" font-size="33.6">0</tspan></text>
<rect x="1395.8" y="990" width="33" height="542.6" fill="url(#gr)" stroke="#000" stroke-width="1"/>
<text x="1438.4" y="1544.8" font-size="30.8" text-anchor="start"><tspan letter-spacing="-0.7">10</tspan><tspan dy="-12.3" font-size="20.6" dx="0.6" letter-spacing="-0.6">−3</tspan></text>
<text x="1438.4" y="1409.1" font-size="30.8" text-anchor="start"><tspan letter-spacing="-0.7">10</tspan><tspan dy="-12.3" font-size="20.6" dx="0.6" letter-spacing="-0.6">−2</tspan></text>
<text x="1438.4" y="1273.5" font-size="30.8" text-anchor="start"><tspan letter-spacing="-0.7">10</tspan><tspan dy="-12.3" font-size="20.6" dx="0.6" letter-spacing="-0.6">−1</tspan></text>
<text x="1438.4" y="1137.8" font-size="30.8" text-anchor="start"><tspan letter-spacing="-0.7">10</tspan><tspan dy="-12.3" font-size="20.6" dx="0.6" letter-spacing="-0.6">0</tspan></text>
<text x="1438.4" y="1002.2" font-size="30.8" text-anchor="start"><tspan letter-spacing="-0.7">10</tspan><tspan dy="-12.3" font-size="20.6" dx="0.6" letter-spacing="-0.6">1</tspan></text>
<path d="M1428.8 1532.6h4.5M1428.8 1491.8h2.5M1428.8 1467.9h2.5M1428.8 1450.9h2.5M1428.8 1437.8h2.5M1428.8 1427h2.5M1428.8 1418h2.5M1428.8 1410.1h2.5M1428.8 1403.2h2.5M1428.8 1396.9h4.5M1428.8 1356.1h2.5M1428.8 1332.2h2.5M1428.8 1315.3h2.5M1428.8 1302.1h2.5M1428.8 1291.4h2.5M1428.8 1282.3h2.5M1428.8 1274.4h2.5M1428.8 1267.5h2.5M1428.8 1261.3h4.5M1428.8 1220.5h2.5M1428.8 1196.6h2.5M1428.8 1179.6h2.5M1428.8 1166.5h2.5M1428.8 1155.7h2.5M1428.8 1146.7h2.5M1428.8 1138.8h2.5M1428.8 1131.9h2.5M1428.8 1125.6h4.5M1428.8 1084.8h2.5M1428.8 1060.9h2.5M1428.8 1044h2.5M1428.8 1030.8h2.5M1428.8 1020.1h2.5M1428.8 1011h2.5M1428.8 1003.1h2.5M1428.8 996.2h2.5M1428.8 990h4.5" stroke="#000" stroke-width="1" fill="none"/>
<text x="0" y="0" transform="translate(1553.8 1261.3) rotate(-90)" font-size="48" text-anchor="middle"><tspan font-style="oblique">E</tspan><tspan dy="7.7" font-size="33.6">R</tspan><tspan dy="-7.7">/</tspan><tspan font-style="oblique">a</tspan><tspan dy="7.7" font-size="33.6">R</tspan><tspan dy="-7.7" font-style="oblique">T</tspan><tspan dy="-18" font-size="33.6" dx="2.7">4</tspan><tspan dy="30.7" font-size="33.6" dx="-25.3">0</tspan></text>
<rect x="1395.8" y="1750.8" width="33" height="542.6" fill="url(#gr)" stroke="#000" stroke-width="1"/>
<text x="1438.4" y="2305.6" font-size="30.8" text-anchor="start"><tspan letter-spacing="-0.7">10</tspan><tspan dy="-12.3" font-size="20.6" dx="0.6" letter-spacing="-0.6">6</tspan></text>
<text x="1438.4" y="2169.9" font-size="30.8" text-anchor="start"><tspan letter-spacing="-0.7">10</tspan><tspan dy="-12.3" font-size="20.6" dx="0.6" letter-spacing="-0.6">7</tspan></text>
<text x="1438.4" y="2034.3" font-size="30.8" text-anchor="start"><tspan letter-spacing="-0.7">10</tspan><tspan dy="-12.3" font-size="20.6" dx="0.6" letter-spacing="-0.6">8</tspan></text>
<text x="1438.4" y="1898.7" font-size="30.8" text-anchor="start"><tspan letter-spacing="-0.7">10</tspan><tspan dy="-12.3" font-size="20.6" dx="0.6" letter-spacing="-0.6">9</tspan></text>
<text x="1438.4" y="1763" font-size="30.8" text-anchor="start"><tspan letter-spacing="-0.7">10</tspan><tspan dy="-12.3" font-size="20.6" dx="0.6" letter-spacing="-0.6">10</tspan></text>
<path d="M1428.8 2293.4h4.5M1428.8 2252.6h2.5M1428.8 2228.7h2.5M1428.8 2211.7h2.5M1428.8 2198.6h2.5M1428.8 2187.8h2.5M1428.8 2178.8h2.5M1428.8 2170.9h2.5M1428.8 2164h2.5M1428.8 2157.8h4.5M1428.8 2116.9h2.5M1428.8 2093h2.5M1428.8 2076.1h2.5M1428.8 2062.9h2.5M1428.8 2052.2h2.5M1428.8 2043.1h2.5M1428.8 2035.2h2.5M1428.8 2028.3h2.5M1428.8 2022.1h4.5M1428.8 1981.3h2.5M1428.8 1957.4h2.5M1428.8 1940.4h2.5M1428.8 1927.3h2.5M1428.8 1916.5h2.5M1428.8 1907.5h2.5M1428.8 1899.6h2.5M1428.8 1892.7h2.5M1428.8 1886.5h4.5M1428.8 1845.6h2.5M1428.8 1821.7h2.5M1428.8 1804.8h2.5M1428.8 1791.6h2.5M1428.8 1780.9h2.5M1428.8 1771.8h2.5M1428.8 1763.9h2.5M1428.8 1757h2.5M1428.8 1750.8h4.5" stroke="#000" stroke-width="1" fill="none"/>
<text x="0" y="0" transform="translate(1543 2022.1) rotate(-90)" font-size="48" text-anchor="middle"><tspan font-style="oblique">T</tspan><tspan dy="7.7" font-size="33.6">gas</tspan><tspan dy="-7.7"> (K)</tspan></text>
<text x="0" y="0" transform="translate(38.3 497.6) rotate(-90)" font-size="48" text-anchor="middle"><tspan font-style="oblique">y</tspan><tspan>/</tspan><tspan font-style="oblique">r</tspan><tspan dy="7.7" font-size="33.6">g</tspan></text>
<text x="0" y="0" transform="translate(38.3 1260.8) rotate(-90)" font-size="48" text-anchor="middle"><tspan font-style="oblique">y</tspan><tspan>/</tspan><tspan font-style="oblique">r</tspan><tspan dy="7.7" font-size="33.6">g</tspan></text>
<text x="0" y="0" transform="translate(38.3 2024.5) rotate(-90)" font-size="48" text-anchor="middle"><tspan font-style="oblique">y</tspan><tspan>/</tspan><tspan font-style="oblique">r</tspan><tspan dy="7.7" font-size="33.6">g</tspan></text>
<text x="246.8" y="2386.5" font-size="48" text-anchor="middle"><tspan font-style="oblique">x</tspan><tspan>/</tspan><tspan font-style="oblique">r</tspan><tspan dy="7.7" font-size="33.6">g</tspan></text>
<text x="728.9" y="2386.5" font-size="48" text-anchor="middle"><tspan font-style="oblique">x</tspan><tspan>/</tspan><tspan font-style="oblique">r</tspan><tspan dy="7.7" font-size="33.6">g</tspan></text>
<text x="1212.4" y="2386.5" font-size="48" text-anchor="middle"><tspan font-style="oblique">x</tspan><tspan>/</tspan><tspan font-style="oblique">r</tspan><tspan dy="7.7" font-size="33.6">g</tspan></text>
<svg x="138.6" y="215.8" width="212.4" height="565.5" viewBox="0 0 212.4 565.5" preserveAspectRatio="none"><path d="M1.1 0V565.5" stroke="#fff" stroke-opacity=".55" stroke-width="1"/><g fill="none" stroke-width="1.2" stroke-linecap="butt"><path d="M0.8 0.6C0.9 24 1.2 47.3 1.5 70.6C1.9 91.6 2.7 112.5 3 133.5C3.2 155.4 3.1 177.3 3 199.2C2.8 215.9 2.6 232.5 2.3 249.2" stroke="url(#g1)"/><path d="M4.6 0L-3.8 -4V4Z" fill="#ff5d00" stroke="none" transform="translate(3 133.5) rotate(89.3)"/><path d="M11.5 0.6C11.6 13 11.6 25.4 11.5 37.8C11.4 66.8 10.9 95.9 10.1 124.9" stroke="#ff9400"/><path d="M4.6 0L-3.8 -4V4Z" fill="#ff9400" stroke="none" transform="translate(11.5 37.8) rotate(90.3)"/><path d="M24.4 0.6C23.2 23.5 22 46.3 20.8 69.2C18.9 107.8 17 146.3 15.1 184.9" stroke="url(#g2)"/><path d="M4.6 0L-3.8 -4V4Z" fill="#ff7e00" stroke="none" transform="translate(20.8 69.2) rotate(92.9)"/><path d="M49.4 0.6C46.6 42.7 42.3 84.6 36.5 126.3C31 166.1 24.1 205.7 15.8 244.9" stroke="url(#g3)"/><path d="M4.6 0L-3.8 -4V4Z" fill="#ff5500" stroke="none" transform="translate(36.5 126.3) rotate(97.9)"/><path d="M61.5 0.6C60.5 12.5 59.3 24.5 58 36.3C56 54 53.6 71.6 50.8 89.2" stroke="#ff9400"/><path d="M4.6 0L-3.8 -4V4Z" fill="#ff9400" stroke="none" transform="translate(58 36.3) rotate(96.5)"/><path d="M74.4 0.6C71.1 21.6 67.7 42.5 64.4 63.5C60.3 89 56.3 114.4 52.3 139.9" stroke="url(#g4)"/><path d="M4.6 0L-3.8 -4V4Z" fill="#ff8600" stroke="none" transform="translate(64.4 63.5) rotate(99)"/><path d="M86.5 0.6C82.7 40.9 76.6 81.1 68 120.6C59.7 158.8 49.2 196.5 36.5 233.5" stroke="url(#g5)"/><path d="M4.6 0L-3.8 -4V4Z" fill="#ff6800" stroke="none" transform="translate(68 120.6) rotate(102.2)"/><path d="M99.4 0.6C96.1 19.7 92.7 38.7 89.4 57.8C85.1 82.1 80.8 106.3 76.5 130.6" stroke="url(#g6)"/><path d="M4.6 0L-3.8 -4V4Z" fill="#ff8600" stroke="none" transform="translate(89.4 57.8) rotate(100)"/><path d="M112.3 0.6C108.7 37.6 102.7 74.4 94.4 110.6C88.6 135.7 82.3 160.7 73.7 184.9C66.5 205.1 58.1 224.9 48.7 244.2" stroke="url(#g7)"/><path d="M4.6 0L-3.8 -4V4Z" fill="#ff6800" stroke="none" transform="translate(94.4 110.6) rotate(103)"/><path d="M123.4 0.6L114.4 56.3" stroke="#ff9f00"/><path d="M4.6 0L-3.8 -4V4Z" fill="#ff9f00" stroke="none" transform="translate(122.5 6.2) rotate(99.2)"/><path d="M136.5 0.6C134.7 11.6 132.7 22.6 130.5 33.5C125.7 58.4 120 83.2 113.7 107.8" stroke="url(#g8)"/><path d="M4.6 0L-3.8 -4V4Z" fill="#ff9800" stroke="none" transform="translate(130.5 33.5) rotate(101.1)"/><path d="M149.4 0.6C145.3 20 140.8 39.3 135.8 58.5C130 81 123.6 103.4 116.5 125.6" stroke="url(#g9)"/><path d="M4.6 0L-3.8 -4V4Z" fill="#ff8d00" stroke="none" transform="translate(135.8 58.5) rotate(104.5)"/><path d="M173.7 0.6C170.9 9.7 168 18.7 165.1 27.8C157.9 49.8 150.3 71.7 142.3 93.5" stroke="#ff9f00"/><path d="M4.6 0L-3.8 -4V4Z" fill="#ff9f00" stroke="none" transform="translate(165.1 27.8) rotate(108)"/><path d="M186.8 0.6L170.1 43.5" stroke="#ffab00"/><path d="M4.6 0L-3.8 -4V4Z" fill="#ffab00" stroke="none" transform="translate(185.6 3.8) rotate(111.3)"/><path d="M198.7 0.6C186.5 29.9 173.9 58.9 160.8 87.8C149.7 112.4 139.5 137.6 126.5 161.3C115.7 181.2 104.8 201.4 90.8 219.2C78.9 234.4 65.4 248.6 50.8 261.3" stroke="url(#g10)"/><path d="M4.6 0L-3.8 -4V4Z" fill="#ff6800" stroke="none" transform="translate(126.5 161.3) rotate(118.6)"/><path d="M101.5 160.6C99 167.6 96.4 174.5 93.7 181.3C89.7 191.4 85.4 201.5 80.8 211.3" stroke="#ff4a00"/><path d="M4.6 0L-3.8 -4V4Z" fill="#ff4a00" stroke="none" transform="translate(93.7 181.3) rotate(111.8)"/><path d="M153 160.6L128.7 194.9" stroke="#ff9400"/><path d="M4.6 0L-3.8 -4V4Z" fill="#ff9400" stroke="none" transform="translate(149.3 165.8) rotate(125.3)"/><path d="M211.5 119.9C200.3 132.2 189.1 144.6 178 157.1C163.3 173.4 148.8 189.8 134.4 206.3" stroke="url(#g11)"/><path d="M4.6 0L-3.8 -4V4Z" fill="#ffc400" stroke="none" transform="translate(178 157.1) rotate(131.8)"/><path d="M211.5 83.5C207.5 88.7 203.4 93.9 199.4 99.2C188.8 113.1 178.3 127.2 168 141.3" stroke="#ff9f00"/><path d="M4.6 0L-3.8 -4V4Z" fill="#ff9f00" stroke="none" transform="translate(199.4 99.2) rotate(127.4)"/><path d="M211.5 46.3C207.6 53.3 203.5 60.2 199.4 67.1C189.5 83.5 179.3 99.7 168.7 115.6" stroke="#ff9f00"/><path d="M4.6 0L-3.8 -4V4Z" fill="#ff9f00" stroke="none" transform="translate(199.4 67.1) rotate(120.9)"/><path d="M212.3 6.3L193 46.3" stroke="#ffab00"/><path d="M4.6 0L-3.8 -4V4Z" fill="#ffab00" stroke="none" transform="translate(207.9 15.3) rotate(115.7)"/><path d="M213 152.8L188.7 176.3" stroke="url(#g12)"/><path d="M4.6 0L-3.8 -4V4Z" fill="#d4ff23" stroke="none" transform="translate(210.5 155.1) rotate(135.9)"/><path d="M211.5 188.5C207.3 193.3 202.5 197.7 197.3 201.3C188.9 207.1 179.3 211.2 169.4 213.5" stroke="url(#g13)"/><path d="M4.6 0L-3.8 -4V4Z" fill="#0080ff" stroke="none" transform="translate(197.3 201.3) rotate(145.1)"/><path d="M211.5 227.1C203.2 231.2 194.2 234.3 185.1 236.3C173.7 238.8 161.7 236.9 150.1 238.5C141.7 239.7 133.3 241.3 125.1 243.5C105 248.8 85.6 257.4 68 268.5" stroke="url(#g14)"/><path d="M4.6 0L-3.8 -4V4Z" fill="#0080ff" stroke="none" transform="translate(150.1 238.5) rotate(172)"/><path d="M154.4 263.5C150.9 264.4 147.2 266.2 145.1 269.2C143.2 272 142.7 275.8 143 279.2" stroke="#000096"/><path d="M113 282.8C118 282.3 123 281.9 128 281.8C133.4 281.6 138.9 281.6 144.4 281.8" stroke="#000080"/><path d="M4.6 0L-3.8 -4V4Z" fill="#000080" stroke="none" transform="translate(143.6 281.7) rotate(181.8)"/><path d="M165.1 269.2C166.7 271.6 168.6 273.8 170.8 275.6C175.9 279.7 184.1 277.6 189.4 281.3C194.5 285 202.1 290.2 200.8 296.3C200.3 299.1 198.3 301.3 196.5 303.5C188 313.8 169.9 307.7 156.5 307.1C143.5 306.4 130.4 303.9 118 299.9" stroke="url(#g15)"/><path d="M4.6 0L-3.8 -4V4Z" fill="#000096" stroke="none" transform="translate(195.9 304.2) rotate(133.3)"/><path d="M211.5 329.2C202.7 328.4 193.9 327.5 185.1 326.3C171.2 324.6 157.4 322.5 143.7 319.9C133.6 318 123.5 316.4 113.7 313.5C99.3 309.3 85.4 303.5 72.3 296.3" stroke="url(#g16)"/><path d="M4.6 0L-3.8 -4V4Z" fill="#009cff" stroke="none" transform="translate(143.7 319.9) rotate(-169.3)"/><path d="M27.3 275.6L40.1 271.3" stroke="#ff2d00"/><path d="M2.3 565.2C2.8 520.9 3.1 476.6 3 432.3C2.9 401.4 2.9 370.4 2.3 339.5C2.1 330 1.8 320.4 1.5 310.9" stroke="url(#g17)"/><path d="M4.6 0L-3.8 -4V4Z" fill="#ff6800" stroke="none" transform="translate(3 432.3) rotate(-90.1)"/><path d="M11.5 565.2C11.8 531.2 11.6 497.1 10.8 463.1C10.2 436.1 9.4 409.2 8 382.3C7.3 370.2 6.6 358.1 5.8 345.9" stroke="url(#g18)"/><path d="M4.6 0L-3.8 -4V4Z" fill="#ff8200" stroke="none" transform="translate(10.8 463.1) rotate(-91.3)"/><path d="M23.7 565.2C22.9 541.9 21.9 518.5 20.8 495.2C20 477.1 19 459 18 440.9" stroke="#ff9400"/><path d="M4.6 0L-3.8 -4V4Z" fill="#ff9400" stroke="none" transform="translate(20.8 495.2) rotate(-92.7)"/><path d="M36.8 565.2L32.3 503.1" stroke="#ff9f00"/><path d="M4.6 0L-3.8 -4V4Z" fill="#ff9f00" stroke="none" transform="translate(35.9 552.8) rotate(-94.2)"/><path d="M62.3 565.2C57.5 523.6 51.8 482.2 45.1 440.9C41.2 416.6 38 392 32.3 368.1C27.5 348.3 21.8 328.7 15.1 309.5" stroke="url(#g19)"/><path d="M4.6 0L-3.8 -4V4Z" fill="#ff6800" stroke="none" transform="translate(45.1 440.9) rotate(-99.2)"/><path d="M75.1 565.2C72.9 553.8 70.8 542.4 68.7 530.9C65.5 513.6 62.4 496.2 59.4 478.8" stroke="#ff9f00"/><path d="M4.6 0L-3.8 -4V4Z" fill="#ff9f00" stroke="none" transform="translate(68.7 530.9) rotate(-100.4)"/><path d="M88 565.2C84.6 538.2 80.3 511.2 75.1 484.5C69.9 457.4 64.2 430.3 56.5 403.8C53.7 393.7 50.6 383.7 47.3 373.8" stroke="url(#g20)"/><path d="M4.6 0L-3.8 -4V4Z" fill="#ff7a00" stroke="none" transform="translate(75.1 484.5) rotate(-101)"/><path d="M99.4 565.2C97.9 554.2 96.2 543.3 94.4 532.3C91 511.8 87.2 491.3 83 470.9" stroke="#ff9f00"/><path d="M4.6 0L-3.8 -4V4Z" fill="#ff9f00" stroke="none" transform="translate(94.4 532.3) rotate(-99.3)"/><path d="M112.3 565.2C109.3 519.5 102.4 473.9 91.5 429.5C85.1 402.9 80.3 375.3 68 350.9C60.8 336.8 53.2 322.3 42.3 310.9C37.2 305.7 31.7 300.9 25.8 296.6" stroke="url(#g21)"/><path d="M4.6 0L-3.8 -4V4Z" fill="#ff6800" stroke="none" transform="translate(91.5 429.5) rotate(-103.7)"/><path d="M74.4 431.6C72.7 423.5 70.8 415.4 68.7 407.3C65.2 394.1 61.1 381 56.5 368.1" stroke="#ff5d00"/><path d="M4.6 0L-3.8 -4V4Z" fill="#ff5d00" stroke="none" transform="translate(68.7 407.3) rotate(-104.7)"/><path d="M124.4 565.2C122.3 543.4 119.5 521.7 115.8 500.2C110.3 467.2 102.8 434.5 93.7 402.3" stroke="url(#g22)"/><path d="M4.6 0L-3.8 -4V4Z" fill="#ff8200" stroke="none" transform="translate(115.8 500.2) rotate(-99.6)"/><path d="M136.5 565.2C135.2 553.7 133.5 542.3 131.5 530.9C128.6 513.9 125 497 120.8 480.2" stroke="#ff9f00"/><path d="M4.6 0L-3.8 -4V4Z" fill="#ff9f00" stroke="none" transform="translate(131.5 530.9) rotate(-99.8)"/><path d="M149.4 565.2C147.4 554.7 145.2 544.2 143 533.8C139.7 518.5 136.1 503.2 132.3 488.1" stroke="#ff9f00"/><path d="M4.6 0L-3.8 -4V4Z" fill="#ff9f00" stroke="none" transform="translate(143 533.8) rotate(-102.2)"/><path d="M173.7 565.2C163.1 523.5 150 482.4 134.4 442.3C123.9 415.2 113.7 387.7 99.4 362.3C90.8 347 83 330.8 70.8 318.1C66.2 313.2 61.1 308.6 55.8 304.5" stroke="url(#g23)"/><path d="M4.6 0L-3.8 -4V4Z" fill="#ff7a00" stroke="none" transform="translate(134.4 442.3) rotate(-111.2)"/><path d="M186.5 565.2C183.4 556.4 180.3 547.6 177.3 538.8C165.9 505.6 155.7 471.9 146.5 438.1" stroke="#ff9f00"/><path d="M4.6 0L-3.8 -4V4Z" fill="#ff9f00" stroke="none" transform="translate(177.3 538.8) rotate(-108.9)"/><path d="M211.5 519.5C202.1 505.6 193.2 491.3 185.1 476.6C175.9 460 168.9 442.1 160.1 425.2C151.3 408.3 142.8 391.1 132.3 375.2C122 359.6 110.5 344.8 98 330.9" stroke="url(#g24)"/><path d="M4.6 0L-3.8 -4V4Z" fill="#ff9f00" stroke="none" transform="translate(160.1 425.2) rotate(-117.5)"/><path d="M199.4 565.2C196 549.1 189.7 533.3 180.8 519.5C175.5 511.2 169.2 503.5 162.3 496.6" stroke="#ff9f00"/><path d="M4.6 0L-3.8 -4V4Z" fill="#ff9f00" stroke="none" transform="translate(180.8 519.5) rotate(-122.8)"/><path d="M211.5 559.5C209.9 551.7 207.7 544.1 205.1 536.6C200.4 523.2 194.1 510.2 186.5 498.1" stroke="#ffab00"/><path d="M4.6 0L-3.8 -4V4Z" fill="#ffab00" stroke="none" transform="translate(205.1 536.6) rotate(-109.3)"/><path d="M211.5 449.5C204.4 438.4 197 427.4 189.4 416.6C176.1 398 162.1 379.8 147.3 362.3" stroke="url(#g25)"/><path d="M4.6 0L-3.8 -4V4Z" fill="#ffd700" stroke="none" transform="translate(189.4 416.6) rotate(-125.4)"/><path d="M211.5 413.8C207.6 408.7 203.6 403.7 199.4 398.8C192.4 390.6 185 382.7 177.3 375.2" stroke="url(#g26)"/><path d="M4.6 0L-3.8 -4V4Z" fill="#beff39" stroke="none" transform="translate(199.4 398.8) rotate(-130.6)"/><path d="M213 380.2L185.8 355.9" stroke="url(#g27)"/><path d="M4.6 0L-3.8 -4V4Z" fill="#23ffd4" stroke="none" transform="translate(210.3 377.8) rotate(-138.2)"/></g><path d="M17.8 261.2L267.7 -40.9" stroke="#fff" stroke-width="3.5" stroke-dasharray="13.3 5.4" fill="none"/><path d="M19.9 302.4L299.1 577.7" stroke="#fff" stroke-width="3.5" stroke-dasharray="13.3 5.4" fill="none"/><path d="M26.4 273.4L395.7 141.9" stroke="#fff" stroke-width="3.5" fill="none"/><path d="M26.8 290.7L402.5 402.7" stroke="#fff" stroke-width="3.5" fill="none"/><circle cx="0" cy="282.8" r="28.6" fill="#000" stroke="#fff" stroke-width="1.2"/></svg>
<path d="M138.6 215.8v5M138.6 781.3v-5M159.8 215.8v3M159.8 781.3v-3M181.1 215.8v3M181.1 781.3v-3M202.3 215.8v3M202.3 781.3v-3M223.6 215.8v3M223.6 781.3v-3M244.8 215.8v5M244.8 781.3v-5M266 215.8v3M266 781.3v-3M287.3 215.8v3M287.3 781.3v-3M308.5 215.8v3M308.5 781.3v-3M329.8 215.8v3M329.8 781.3v-3M351 215.8v5M351 781.3v-5M138.6 781.3h5M351 781.3h-5M138.6 753h3M351 753h-3M138.6 724.8h3M351 724.8h-3M138.6 696.5h3M351 696.5h-3M138.6 668.2h3M351 668.2h-3M138.6 639.9h5M351 639.9h-5M138.6 611.6h3M351 611.6h-3M138.6 583.4h3M351 583.4h-3M138.6 555.1h3M351 555.1h-3M138.6 526.8h3M351 526.8h-3M138.6 498.6h5M351 498.6h-5M138.6 470.3h3M351 470.3h-3M138.6 442h3M351 442h-3M138.6 413.7h3M351 413.7h-3M138.6 385.4h3M351 385.4h-3M138.6 357.2h5M351 357.2h-5M138.6 328.9h3M351 328.9h-3M138.6 300.6h3M351 300.6h-3M138.6 272.4h3M351 272.4h-3M138.6 244.1h3M351 244.1h-3M138.6 215.8h5M351 215.8h-5" stroke="#000" stroke-width="1" fill="none"/>
<rect x="138.6" y="215.8" width="212.4" height="565.5" fill="none" stroke="#000" stroke-width="1.1"/>
<text x="137.8" y="812.4" font-size="36" letter-spacing="-0.4" text-anchor="middle">0</text>
<text x="244" y="812.4" font-size="36" letter-spacing="-0.4" text-anchor="middle">15</text>
<text x="350.2" y="812.4" font-size="36" letter-spacing="-0.4" text-anchor="middle">30</text>
<text x="133.4" y="229" font-size="36" letter-spacing="-0.9" text-anchor="end">40</text>
<text x="133.4" y="370.4" font-size="36" letter-spacing="-0.9" text-anchor="end">20</text>
<text x="133.4" y="511.8" font-size="36" letter-spacing="-0.9" text-anchor="end">0</text>
<text x="133.4" y="653.1" font-size="36" letter-spacing="-0.9" text-anchor="end">−20</text>
<text x="133.4" y="794.5" font-size="36" letter-spacing="-0.9" text-anchor="end">−40</text>
<svg x="620.7" y="215.8" width="212.4" height="565.5" viewBox="0 0 212.4 565.5" preserveAspectRatio="none"><path d="M1.1 0V565.5" stroke="#fff" stroke-opacity=".55" stroke-width="1"/><g fill="none" stroke-width="1.2" stroke-linecap="butt"><path d="M17.2 62.1C15.7 56.8 14.3 51.6 12.9 46.3C9 32.1 5.2 17.8 1.4 3.5" stroke="#feed00"/><path d="M4.6 0L-3.8 -4V4Z" fill="#feed00" stroke="none" transform="translate(12.9 46.3) rotate(-105.2)"/><path d="M31.4 148.5C30.4 144.8 29 141.2 27.2 137.8C25.5 134.7 22.8 132.3 21.4 129.2C19.3 124.4 20.2 118.7 19.3 113.5C18.7 109.7 18.1 105.8 17.2 102.1C14.1 89.8 8.3 78 0.7 67.8" stroke="url(#g28)"/><path d="M4.6 0L-3.8 -4V4Z" fill="#beff39" stroke="none" transform="translate(19.3 113.5) rotate(-99.4)"/><path d="M30.7 104.9C30.4 92.5 29.9 80.1 29.3 67.8C28.2 45.4 26.8 23 25 0.6" stroke="url(#g29)"/><path d="M4.6 0L-3.8 -4V4Z" fill="#ffe200" stroke="none" transform="translate(29.3 67.8) rotate(-92.7)"/><path d="M43.6 154.9C40.9 132.1 39 109.3 37.9 86.3C36.4 57.8 36.2 29.2 37.2 0.6" stroke="url(#g30)"/><path d="M4.6 0L-3.8 -4V4Z" fill="#ffd700" stroke="none" transform="translate(37.9 86.3) rotate(-92.9)"/><path d="M53.6 198.5C52.7 191.6 52 184.7 51.4 177.8C49.8 157.8 50.4 137.8 50 117.8C49.3 78.7 49.1 39.7 49.3 0.6" stroke="url(#g31)"/><path d="M4.6 0L-3.8 -4V4Z" fill="#ffd700" stroke="none" transform="translate(50 117.8) rotate(-91)"/><path d="M60 93.5C60.6 80.2 61.1 66.8 61.4 53.5C61.9 35.9 62.1 18.2 62.2 0.6" stroke="#ffb200"/><path d="M4.6 0L-3.8 -4V4Z" fill="#ffb200" stroke="none" transform="translate(61.4 53.5) rotate(-88.5)"/><path d="M62.2 186.3C62.4 176.3 62.9 166.3 63.6 156.3C64.6 142.5 66.6 128.7 67.9 114.9C71.4 76.9 73.8 38.8 75 0.6" stroke="url(#g32)"/><path d="M4.6 0L-3.8 -4V4Z" fill="#ffd700" stroke="none" transform="translate(67.9 114.9) rotate(-84.7)"/><path d="M90.7 57.8C92.9 46.4 94.8 35 96.4 23.5C97.5 15.9 98.5 8.3 99.3 0.6" stroke="#ffab00"/><path d="M4.6 0L-3.8 -4V4Z" fill="#ffab00" stroke="none" transform="translate(96.4 23.5) rotate(-81.9)"/><path d="M86.4 175.6C85.5 169.3 85.2 162.8 85.7 156.3C86.1 152 87.2 147.8 87.9 143.5C89.8 131.6 91.5 119.6 93.6 107.8C94.9 100.1 96.5 92.5 97.9 84.9C103 56.9 107.8 28.8 112.2 0.6" stroke="url(#g33)"/><path d="M4.6 0L-3.8 -4V4Z" fill="#ceff29" stroke="none" transform="translate(93.6 107.8) rotate(-80)"/><path d="M112.9 106.3C115.7 95.4 118.3 84.5 120.7 73.5C124 58.3 125.5 42.8 129.3 27.8C131.6 18.6 134.2 9.6 137.2 0.6" stroke="url(#g34)"/><path d="M4.6 0L-3.8 -4V4Z" fill="#ceff29" stroke="none" transform="translate(120.7 73.5) rotate(-77.7)"/><path d="M140 72.1C142.8 62.5 145.7 53 148.6 43.5C153 29.2 157.5 14.9 162.2 0.6" stroke="#ceff29"/><path d="M4.6 0L-3.8 -4V4Z" fill="#ceff29" stroke="none" transform="translate(148.6 43.5) rotate(-73)"/><path d="M106.4 152.8C117.5 144.2 127.2 133.1 133.6 120.6C137.5 113 138.4 104.1 142.2 96.3C147.3 85.9 157.8 78.6 162.2 67.8C167.5 54.5 163.1 38.9 166.4 24.9C168.4 16.6 171.1 8.5 174.3 0.6" stroke="url(#g35)"/><path d="M4.6 0L-3.8 -4V4Z" fill="#00e4f8" stroke="none" transform="translate(142.2 96.3) rotate(-64)"/><path d="M4.6 0L-3.8 -4V4Z" fill="#00e4f8" stroke="none" transform="translate(162.2 67.8) rotate(-68.1)"/><path d="M176.4 26.3L182.2 0.6" stroke="#19ffde"/><path d="M184.3 57.8C186.7 51.7 188.8 45.5 190.7 39.2C194.6 26.6 197.4 13.7 199.3 0.6" stroke="url(#g36)"/><path d="M4.6 0L-3.8 -4V4Z" fill="#19ffde" stroke="none" transform="translate(190.7 39.2) rotate(-73.1)"/><path d="M180 52.8C179.5 57.2 178.3 61.6 176.4 65.6C175.3 68.1 173.8 70.5 172.2 72.8" stroke="#00e4f8"/><path d="M4.6 0L-3.8 -4V4Z" fill="#00e4f8" stroke="none" transform="translate(176.4 65.6) rotate(115)"/><path d="M144.3 106.3C146.7 104.3 148.9 101.9 150.7 99.2C154.6 93.4 156.4 86.1 156.4 79.2" stroke="#00e4f8"/><path d="M179.3 87.1C177.6 94.1 175.5 101 172.9 107.8C168.9 118 163.8 127.9 157.9 137.1" stroke="#29ffce"/><path d="M4.6 0L-3.8 -4V4Z" fill="#29ffce" stroke="none" transform="translate(172.9 107.8) rotate(111.2)"/><path d="M192.9 108.5L212.9 84.2" stroke="#39ffbe"/><path d="M4.6 0L-3.8 -4V4Z" fill="#39ffbe" stroke="none" transform="translate(210.9 86.6) rotate(-50.5)"/><path d="M212.2 113.5C203.3 127.9 194.2 142.2 185 156.3C175.7 170.7 168.4 186.8 156.4 199.2C148.9 207 140 213.4 131.4 219.9C121.1 227.8 110.4 235.2 99.3 242.1C86.4 250 73.1 257.2 59.3 263.5C51.3 267.1 43 270 35 273.5C32.9 274.4 30.7 275.4 28.6 276.3" stroke="url(#g37)"/><path d="M4.6 0L-3.8 -4V4Z" fill="#00e4f8" stroke="none" transform="translate(131.4 219.9) rotate(142.7)"/><path d="M150 133.5C146.8 143 143 152.3 138.6 161.3C130.8 177.3 121.1 192.5 110 206.3" stroke="url(#g38)"/><path d="M4.6 0L-3.8 -4V4Z" fill="#53ffa4" stroke="none" transform="translate(138.6 161.3) rotate(116)"/><path d="M175 132.8C172.2 138.6 169.1 144.3 165.7 149.9C160.6 158.6 154.8 167 148.6 174.9" stroke="#43ffb4"/><path d="M4.6 0L-3.8 -4V4Z" fill="#43ffb4" stroke="none" transform="translate(165.7 149.9) rotate(120.8)"/><path d="M52.2 245.6C55.9 240.6 59.7 235.6 63.6 230.6C67.1 226.1 70.7 221.6 74.3 217.1" stroke="url(#g39)"/><path d="M4.6 0L-3.8 -4V4Z" fill="#beff39" stroke="none" transform="translate(73.2 218.4) rotate(-51.3)"/><path d="M212.2 169.9C207.7 175.6 204.2 182.2 202.2 189.2C200.7 194.3 196.4 201 200 204.9C202.8 207.9 208.1 207.6 212.2 207.1" stroke="url(#g40)"/><path d="M4.6 0L-3.8 -4V4Z" fill="#0018ff" stroke="none" transform="translate(202.2 189.2) rotate(106)"/><path d="M191.4 189.2C190.1 196.4 187.1 203.7 182.2 209.2C178.3 213.5 173 216.4 167.9 219.2C158.9 224.1 148.7 227.2 138.6 228.5" stroke="url(#g41)"/><path d="M4.6 0L-3.8 -4V4Z" fill="#000080" stroke="none" transform="translate(182.2 209.2) rotate(131.8)"/><path d="M212.2 212.1C207.7 214.2 203.4 216.6 199.3 219.2C194.8 222 188 223.4 186.4 228.5C185.4 231.9 187.1 235.7 187.9 239.2C188.4 241.6 189.1 244 190 246.3" stroke="#000096"/><path d="M4.6 0L-3.8 -4V4Z" fill="#000096" stroke="none" transform="translate(186.6 228.1) rotate(110.2)"/><path d="M163.6 259.9C171.8 262.8 180.6 264.5 189.3 264.9C191.9 265 194.7 264 197.2 264.9C199.9 265.9 202.8 267.9 203.6 270.6C204.5 273.8 202.2 277.4 200 279.9" stroke="#00009f"/><path d="M4.6 0L-3.8 -4V4Z" fill="#00009f" stroke="none" transform="translate(195.8 264.6) rotate(187.1)"/><path d="M82.2 284.2C94.8 281.6 107.8 280.1 120.7 279.9C130.3 279.7 140.8 277 149.3 281.3C151.6 282.5 153.7 284 155.7 285.6C158.6 287.9 160.5 291.5 163.6 293.5C169.6 297.4 177.8 296 185 297.1C190.7 297.9 196.4 299.9 202.2 299.2C205.6 298.8 209 297.8 212.2 296.3" stroke="#0000ad"/><path d="M4.6 0L-3.8 -4V4Z" fill="#0000ad" stroke="none" transform="translate(155 285) rotate(217.5)"/><path d="M137.2 322.8C146 323.7 154.8 324.4 163.6 324.9C165.3 325 167 324.9 168.6 325.2C172.1 325.9 175.3 328.2 177.9 330.6C180.4 333 182.3 336 183.6 339.2" stroke="url(#g42)"/><path d="M4.6 0L-3.8 -4V4Z" fill="#000096" stroke="none" transform="translate(167.1 325) rotate(183.8)"/><path d="M135 339.2C127.9 335.3 120.8 331.5 113.6 327.8C99.4 320.4 84.8 313.8 70.7 306.3C61.6 301.5 53.1 295.5 43.6 291.3C38.7 289.2 33.7 287.3 28.6 285.6" stroke="url(#g43)"/><path d="M14.3 151.3C13 157.7 12.1 164.2 11.4 170.6C10.6 179.2 11.3 187.8 10.7 196.3C10.5 199.2 10.2 202.1 10 204.9C9.5 212.1 9.3 219.2 8.6 226.3C8 231.6 7.3 236.8 6.4 242.1" stroke="url(#g44)"/><path d="M4.6 0L-3.8 -4V4Z" fill="#ff7a00" stroke="none" transform="translate(10 204.9) rotate(94.5)"/><path d="M30.7 175.6C29.2 181.1 27.8 186.6 26.4 192.1C25.4 196.3 24.4 200.6 23.6 204.9C22.1 212.2 20.9 219.6 20 227.1" stroke="url(#g45)"/><path d="M4.6 0L-3.8 -4V4Z" fill="#ffab00" stroke="none" transform="translate(23.6 204.9) rotate(101.3)"/><path d="M0.7 163.5C0.4 158.1 1.5 151.9 5 147.8C7.1 145.3 9.6 141.9 12.9 142.1C14.7 142.1 16.4 143.1 17.9 144.2" stroke="url(#g46)"/><path d="M4.6 0L-3.8 -4V4Z" fill="#a4ff53" stroke="none" transform="translate(11.5 142.2) rotate(-14.9)"/><path d="M212.2 502.3C199.9 479.4 188.5 456.1 177.9 432.3C170.3 415.4 166.1 396.8 156.4 380.9C152.5 374.5 148.3 368.2 143.6 362.3C136.8 354 129.1 346.3 120.7 339.5" stroke="url(#g47)"/><path d="M4.6 0L-3.8 -4V4Z" fill="#00b0ff" stroke="none" transform="translate(143.6 362.3) rotate(-128.9)"/><path d="M212.2 458.1C204.7 442.5 197.5 426.8 190.7 410.9C186.3 400.5 184.2 388.9 177.9 379.5C173.2 372.5 167.3 366.2 160.7 360.9" stroke="url(#g48)"/><path d="M4.6 0L-3.8 -4V4Z" fill="#0ff8e7" stroke="none" transform="translate(190.7 410.9) rotate(-113.1)"/><path d="M87.9 370.9C88.3 367.6 87.9 364 86.4 360.9C85.4 358.8 83.6 357.1 82.2 355.2C76.2 347.1 70.4 338.7 65 330.2" stroke="url(#g49)"/><path d="M4.6 0L-3.8 -4V4Z" fill="#39ffbe" stroke="none" transform="translate(82.2 355.2) rotate(-126.4)"/><path d="M67.9 349.5C65.6 350.9 63.2 352.7 62.2 355.2C59.7 361 70.4 364.8 73.6 370.2C75.8 374.1 77.6 378.2 79.3 382.3C84.3 395 84.3 409.1 87.2 422.3C89.4 432.8 92.2 443.2 94.3 453.8C96.2 463.3 97.7 472.8 99.3 482.3C104 509.9 108.3 537.5 112.2 565.2" stroke="url(#g50)"/><path d="M4.6 0L-3.8 -4V4Z" fill="#feed00" stroke="none" transform="translate(94.3 453.8) rotate(78.7)"/><path d="M53.6 346.6C52.5 345.5 51.4 344.4 50 343.8C44.6 341.4 46.2 355.1 45 360.9C43.2 370.3 45.2 380.1 43.6 389.5C42.3 396.8 39.9 403.8 37.9 410.9C34.8 421.9 30.5 432.6 27.9 443.8C25.4 454.1 24.3 464.8 22.2 475.2C16.5 503.2 9.3 530.9 0.7 558.1" stroke="url(#g51)"/><path d="M4.6 0L-3.8 -4V4Z" fill="#7dff7a" stroke="none" transform="translate(27.9 443.8) rotate(103.5)"/><path d="M41.4 379.5C39.3 375.8 37.4 372 35.7 368.1C33.4 362.5 31.8 356.7 30 350.9C28.2 345.2 26.7 339.5 25 333.8C23.9 330 22.7 326.1 21.4 322.3" stroke="url(#g52)"/><path d="M4.6 0L-3.8 -4V4Z" fill="#eeff09" stroke="none" transform="translate(30 350.9) rotate(-107.3)"/><path d="M20.7 412.3C19.6 403.3 18.6 394.3 17.9 385.2C17.2 377.6 17.2 369.9 16.4 362.3C15.7 354.7 14.6 347.1 13.6 339.5C12.7 332.8 11.7 326.1 10.7 319.5" stroke="url(#g53)"/><path d="M4.6 0L-3.8 -4V4Z" fill="#ffd700" stroke="none" transform="translate(17.9 385.2) rotate(-94.7)"/><path d="M0.7 400.9C-0.6 409 0.2 417.8 3.6 425.2C4.8 427.7 5.9 430.4 7.9 432.3C9.8 434.3 12.4 435.8 15 436.6" stroke="url(#g54)"/><path d="M4.6 0L-3.8 -4V4Z" fill="#7dff7a" stroke="none" transform="translate(7.2 431.6) rotate(230.1)"/><path d="M0.7 495.2C4.2 487.4 8.1 479.8 12.2 472.3C14 469 15.9 465.6 17.9 462.3" stroke="url(#g55)"/><path d="M4.6 0L-3.8 -4V4Z" fill="#9dff5a" stroke="none" transform="translate(12.6 471.6) rotate(-61.1)"/><path d="M45 427.3C42.9 445.2 41.3 463 40 480.9C38 509 37.1 537.1 37.2 565.2" stroke="url(#g56)"/><path d="M4.6 0L-3.8 -4V4Z" fill="#ffd700" stroke="none" transform="translate(40 480.9) rotate(94)"/><path d="M59.3 409.5C60.6 431.9 61.5 454.2 62.2 476.6C63 506.1 63.2 535.7 62.9 565.2" stroke="url(#g57)"/><path d="M4.6 0L-3.8 -4V4Z" fill="#ffab00" stroke="none" transform="translate(62.2 476.6) rotate(88.4)"/><path d="M51.4 472.3C50.8 484.7 50.3 497.1 50 509.5C49.6 528.1 49.6 546.6 50 565.2" stroke="#ffb200"/><path d="M4.6 0L-3.8 -4V4Z" fill="#ffb200" stroke="none" transform="translate(50 509.5) rotate(91.3)"/><path d="M70.7 471.6C71.9 484.2 72.9 496.9 73.6 509.5C74.6 528 75.1 546.6 75 565.2" stroke="#ff9f00"/><path d="M4.6 0L-3.8 -4V4Z" fill="#ff9f00" stroke="none" transform="translate(73.6 509.5) rotate(86.8)"/><path d="M83.6 503.8C84.6 517.1 85.5 530.4 86.4 543.8C86.9 550.9 87.4 558.1 87.9 565.2" stroke="#ff9400"/><path d="M4.6 0L-3.8 -4V4Z" fill="#ff9400" stroke="none" transform="translate(86.4 543.8) rotate(86.1)"/><path d="M107.9 482.3C110.5 492.8 112.9 503.2 115 513.8C118.5 530.8 121.3 548 123.6 565.2" stroke="url(#g58)"/><path d="M4.6 0L-3.8 -4V4Z" fill="#ffc400" stroke="none" transform="translate(115 513.8) rotate(78.5)"/><path d="M125 511.6C127.4 522.8 129.8 534 132.2 545.2C133.6 551.9 135 558.5 136.4 565.2" stroke="url(#g59)"/><path d="M4.6 0L-3.8 -4V4Z" fill="#ffd000" stroke="none" transform="translate(132.2 545.2) rotate(77.9)"/><path d="M94.3 396.6C102 403.5 108.7 411.8 113.6 420.9C119 431 119.3 443.1 123.6 453.8C126.5 461.1 130.7 467.9 133.6 475.2C136 481.3 137.9 487.6 140 493.8C147.9 517.3 154.8 541.1 160.7 565.2" stroke="url(#g60)"/><path d="M4.6 0L-3.8 -4V4Z" fill="#7dff7a" stroke="none" transform="translate(133.6 475.2) rotate(68.2)"/><path d="M144.3 470.9C148 481.3 151.6 491.8 155 502.3C159 514.7 162.5 527.2 166.4 539.5C169.2 548.1 172.1 556.7 175 565.2" stroke="url(#g61)"/><path d="M4.6 0L-3.8 -4V4Z" fill="#63ff94" stroke="none" transform="translate(155 502.3) rotate(72)"/><path d="M156.4 473.8C162.9 483.7 168.5 494.2 172.9 505.2C178 518 180.5 531.8 183.6 545.2C185.1 551.8 186.6 558.5 187.9 565.2" stroke="url(#g62)"/><path d="M4.6 0L-3.8 -4V4Z" fill="#53ffa4" stroke="none" transform="translate(172.9 505.2) rotate(68.2)"/><path d="M181.4 503.8C184.4 510.3 187 517 189.3 523.8C193.9 537.2 197.2 551.1 199.3 565.2" stroke="url(#g63)"/><path d="M4.6 0L-3.8 -4V4Z" fill="#53ffa4" stroke="none" transform="translate(189.3 523.8) rotate(71.2)"/><path d="M212.2 538.1C206.8 533.8 201.7 529 197.2 523.8C195.9 522.4 194.7 520.9 193.6 519.5" stroke="url(#g64)"/><path d="M4.6 0L-3.8 -4V4Z" fill="#30ffc7" stroke="none" transform="translate(197.2 523.8) rotate(-131.2)"/><path d="M131.4 442.3C132.3 442.9 133.3 443.4 134.3 443.8C140.3 445.8 145.6 437.4 149.3 432.3C158.9 419.1 148.5 397.5 138.6 384.5" stroke="url(#g65)"/><path d="M4.6 0L-3.8 -4V4Z" fill="#00b8ff" stroke="none" transform="translate(151.1 429.2) rotate(-65)"/><path d="M193.6 473.8L199.3 498.1" stroke="url(#g66)"/><path d="M212.2 388.1C207.3 379.9 202.8 371.6 198.6 363.1C195.6 356.9 186.4 350.3 190 344.5C194 338.2 205.3 345.2 212.2 348.1" stroke="url(#g67)"/><path d="M4.6 0L-3.8 -4V4Z" fill="#0000ff" stroke="none" transform="translate(198.6 363.1) rotate(-116.3)"/></g><path d="M5.6 255.3L84.5 -128.7" stroke="#fff" stroke-width="3.5" stroke-dasharray="13.3 5.4" fill="none"/><path d="M2.9 310.6L43.9 700.4" stroke="#fff" stroke-width="3.5" stroke-dasharray="13.3 5.4" fill="none"/><path d="M15.7 259.5L234.9 -65.4" stroke="#fff" stroke-width="3.5" fill="none"/><path d="M15.6 306.0L234.3 631.4" stroke="#fff" stroke-width="3.5" fill="none"/><circle cx="0" cy="282.8" r="28.6" fill="#000" stroke="#fff" stroke-width="1.2"/></svg>
<path d="M620.7 215.8v5M620.7 781.3v-5M641.9 215.8v3M641.9 781.3v-3M663.2 215.8v3M663.2 781.3v-3M684.4 215.8v3M684.4 781.3v-3M705.7 215.8v3M705.7 781.3v-3M726.9 215.8v5M726.9 781.3v-5M748.1 215.8v3M748.1 781.3v-3M769.4 215.8v3M769.4 781.3v-3M790.6 215.8v3M790.6 781.3v-3M811.9 215.8v3M811.9 781.3v-3M833.1 215.8v5M833.1 781.3v-5M620.7 781.3h5M833.1 781.3h-5M620.7 753h3M833.1 753h-3M620.7 724.8h3M833.1 724.8h-3M620.7 696.5h3M833.1 696.5h-3M620.7 668.2h3M833.1 668.2h-3M620.7 639.9h5M833.1 639.9h-5M620.7 611.6h3M833.1 611.6h-3M620.7 583.4h3M833.1 583.4h-3M620.7 555.1h3M833.1 555.1h-3M620.7 526.8h3M833.1 526.8h-3M620.7 498.6h5M833.1 498.6h-5M620.7 470.3h3M833.1 470.3h-3M620.7 442h3M833.1 442h-3M620.7 413.7h3M833.1 413.7h-3M620.7 385.4h3M833.1 385.4h-3M620.7 357.2h5M833.1 357.2h-5M620.7 328.9h3M833.1 328.9h-3M620.7 300.6h3M833.1 300.6h-3M620.7 272.4h3M833.1 272.4h-3M620.7 244.1h3M833.1 244.1h-3M620.7 215.8h5M833.1 215.8h-5" stroke="#000" stroke-width="1" fill="none"/>
<rect x="620.7" y="215.8" width="212.4" height="565.5" fill="none" stroke="#000" stroke-width="1.1"/>
<text x="619.9" y="812.4" font-size="36" letter-spacing="-0.4" text-anchor="middle">0</text>
<text x="726.1" y="812.4" font-size="36" letter-spacing="-0.4" text-anchor="middle">15</text>
<text x="832.3" y="812.4" font-size="36" letter-spacing="-0.4" text-anchor="middle">30</text>
<text x="615.5" y="229" font-size="36" letter-spacing="-0.9" text-anchor="end">40</text>
<text x="615.5" y="370.4" font-size="36" letter-spacing="-0.9" text-anchor="end">20</text>
<text x="615.5" y="511.8" font-size="36" letter-spacing="-0.9" text-anchor="end">0</text>
<text x="615.5" y="653.1" font-size="36" letter-spacing="-0.9" text-anchor="end">−20</text>
<text x="615.5" y="794.5" font-size="36" letter-spacing="-0.9" text-anchor="end">−40</text>
<svg x="1104.7" y="215.8" width="211.3" height="565.5" viewBox="0 0 212.4 565.5" preserveAspectRatio="none"><path d="M1.1 0V565.5" stroke="#fff" stroke-opacity=".55" stroke-width="1"/><g fill="none" stroke-width="1.2" stroke-linecap="butt"><path d="M16.5 83.5C13.3 72.2 10.4 60.7 8 49.2C4.9 34.6 2.5 19.8 0.8 4.9" stroke="url(#g68)"/><path d="M4.6 0L-3.8 -4V4Z" fill="#beff39" stroke="none" transform="translate(8 49.2) rotate(-101.9)"/><path d="M13.7 119.2C9.9 123.4 6.6 128.3 4.4 133.5C1.2 141 0.1 149.6 0.8 157.8" stroke="url(#g69)"/><path d="M4.6 0L-3.8 -4V4Z" fill="#7dff7a" stroke="none" transform="translate(4.4 133.5) rotate(113)"/><path d="M30.1 117.1C28.6 110.7 27.4 104.3 26.5 97.8C24.8 84.1 26.2 70.1 25.8 56.3C25.3 37.8 24.6 19.2 23.7 0.6" stroke="url(#g70)"/><path d="M4.6 0L-3.8 -4V4Z" fill="#ceff29" stroke="none" transform="translate(25.8 56.3) rotate(-91.5)"/><path d="M40.1 122.8C38.2 115 36.8 107.1 35.8 99.2C34.1 85 35.2 70.6 35.1 56.3C35 37.8 35.3 19.2 35.8 0.6" stroke="url(#g71)"/><path d="M4.6 0L-3.8 -4V4Z" fill="#ceff29" stroke="none" transform="translate(35.1 56.3) rotate(-90.2)"/><path d="M54.4 139.9C51.5 131.3 49.3 122.5 48 113.5C46.5 103.6 46.8 93.5 46.5 83.5C45.7 55.9 46.2 28.2 48 0.6" stroke="url(#g72)"/><path d="M4.6 0L-3.8 -4V4Z" fill="#beff39" stroke="none" transform="translate(46.5 83.5) rotate(-91.7)"/><path d="M59.4 79.2C59.3 70.6 59.3 62.1 59.4 53.5C59.6 35.9 60.3 18.2 61.5 0.6" stroke="url(#g73)"/><path d="M4.6 0L-3.8 -4V4Z" fill="#deff19" stroke="none" transform="translate(59.4 53.5) rotate(-89.2)"/><path d="M85.1 154.9C79.5 153.7 73.4 151.1 70.1 146.3C66.6 141.2 68.4 134 68 127.8C66.9 113.5 68.2 99.2 68.7 84.9C69.6 56.8 71.2 28.7 73.7 0.6" stroke="url(#g74)"/><path d="M4.6 0L-3.8 -4V4Z" fill="#beff39" stroke="none" transform="translate(68.7 84.9) rotate(-88.2)"/><path d="M90.8 145.6C88.7 142.8 86.9 139.7 85.8 136.3C83.8 130 86.2 123 86.5 116.3C87.1 104.9 87.8 93.5 88.7 82.1C90.8 54.8 93.9 27.6 98 0.6" stroke="url(#g75)"/><path d="M4.6 0L-3.8 -4V4Z" fill="#beff39" stroke="none" transform="translate(88.7 82.1) rotate(-85.6)"/><path d="M110.8 150.6C109 151.2 107 151.6 105.1 151.3C99.8 150.5 98.1 142.9 96.5 137.8C95 132.8 95.9 127.3 95.8 122.1C95.8 108.2 98.5 94.4 100.1 80.6C103.2 53.9 106.7 27.2 110.8 0.6" stroke="url(#g76)"/><path d="M4.6 0L-3.8 -4V4Z" fill="#beff39" stroke="none" transform="translate(100.1 80.6) rotate(-83.5)"/><path d="M116.5 142.1C115.1 142.1 113.6 141.9 112.3 141.3C107.6 139.6 106.9 132.7 105.8 127.8C104.8 123.1 105.7 118.2 105.8 113.5C106.3 100 109.5 86.8 111.5 73.5C115.2 49.1 119.3 24.9 123.7 0.6" stroke="url(#g77)"/><path d="M4.6 0L-3.8 -4V4Z" fill="#beff39" stroke="none" transform="translate(111.5 73.5) rotate(-81.4)"/><path d="M154.4 140.6C150.4 141.3 146.1 141.3 142.3 139.9C135.9 137.6 130.1 131.5 128.7 124.9C128.1 122.1 128.6 119.2 128.7 116.3C128.9 104.9 130.7 93.4 132.3 82.1C135.9 54.6 141.4 27.3 148.7 0.6" stroke="url(#g78)"/><path d="M4.6 0L-3.8 -4V4Z" fill="#beff39" stroke="none" transform="translate(132.3 82.1) rotate(-82.5)"/><path d="M143 110.6C143.5 103.5 144.2 96.3 145.1 89.2C146.5 77.9 148.5 66.7 150.8 55.6" stroke="url(#g79)"/><path d="M4.6 0L-3.8 -4V4Z" fill="#a4ff53" stroke="none" transform="translate(145.1 89.2) rotate(-82.8)"/><path d="M210.8 113.5C206 117.3 200.7 120.4 195.1 122.8C187.3 126 178.3 130.1 170.1 127.8C166.2 126.7 162.3 124.8 159.4 122.1C151.8 114.9 156.4 101.1 157.3 90.6C157.8 83.9 159.6 77.3 160.8 70.6C165 47.3 169.3 23.9 173.7 0.6" stroke="url(#g80)"/><path d="M4.6 0L-3.8 -4V4Z" fill="#53ffa4" stroke="none" transform="translate(157.3 90.6) rotate(-85.4)"/><path d="M168.7 60.6C170.1 51.1 171.5 41.6 173 32.1C174.6 21.6 176.3 11.1 178 0.6" stroke="#ceff29"/><path d="M4.6 0L-3.8 -4V4Z" fill="#ceff29" stroke="none" transform="translate(173 32.1) rotate(-81.2)"/><path d="M210.8 107.8C205.6 108.6 199.7 108.2 195.1 105.6C191.1 103.4 188 99.6 185.8 95.6C181.4 87.5 186 77 186.5 67.8C186.9 61.6 187.3 55.4 188 49.2C189.9 32.7 193.5 16.4 198.7 0.6" stroke="url(#g81)"/><path d="M4.6 0L-3.8 -4V4Z" fill="#7dff7a" stroke="none" transform="translate(186.5 67.8) rotate(-86.8)"/><path d="M65.8 157.8C61.1 154.2 53.9 149.9 48.7 152.8C44.7 155 44.1 160.7 42.3 164.9C38.1 174.4 37 184.9 34.4 194.9C31.3 206.8 29 219 25.1 230.6C22.2 239.4 18.9 247.9 15.1 256.3" stroke="url(#g82)"/><path d="M4.6 0L-3.8 -4V4Z" fill="#ffc400" stroke="none" transform="translate(34.4 194.9) rotate(104.6)"/><path d="M11.5 163.5C11.2 173 10.7 182.5 10.1 192.1C9.9 195.9 9.7 199.7 9.4 203.5C8.8 211.6 8.1 219.7 7.3 227.8C6.6 234 5.9 240.2 5.1 246.3" stroke="url(#g83)"/><path d="M4.6 0L-3.8 -4V4Z" fill="#ff7a00" stroke="none" transform="translate(9.4 203.5) rotate(94)"/><path d="M66.5 194.2C62.7 203.7 58.4 213 53.7 222.1C50.1 228.9 46.4 235.6 42.3 242.1C36.7 250.6 30.5 258.7 23.7 266.3" stroke="url(#g84)"/><path d="M4.6 0L-3.8 -4V4Z" fill="#ffb200" stroke="none" transform="translate(53.7 222.1) rotate(117.6)"/><path d="M104.4 166.3C100.3 172.5 96.3 178.7 92.3 184.9C82.1 200.5 72.1 216.3 62.3 232.1" stroke="url(#g85)"/><path d="M4.6 0L-3.8 -4V4Z" fill="#a4ff53" stroke="none" transform="translate(92.3 184.9) rotate(123)"/><path d="M110.8 199.2C108.1 204.1 105.3 208.8 102.3 213.5C95.9 223.3 88.7 232.6 80.8 241.3" stroke="url(#g86)"/><path d="M4.6 0L-3.8 -4V4Z" fill="#7dff7a" stroke="none" transform="translate(102.3 213.5) rotate(123.1)"/><path d="M148.7 165.6C143.7 171.4 139 177.4 134.4 183.5C128.6 191.3 123.1 199.4 118 207.8" stroke="url(#g87)"/><path d="M4.6 0L-3.8 -4V4Z" fill="#53ffa4" stroke="none" transform="translate(134.4 183.5) rotate(126.7)"/><path d="M173 165.6C161.5 188.6 146.8 210.3 129.4 229.2C124.4 234.6 119.4 240.2 113.7 244.9C105.1 252 95.1 257.1 85.1 262.1C74.1 267.5 62.6 272.1 50.8 275.6" stroke="url(#g88)"/><path d="M4.6 0L-3.8 -4V4Z" fill="#29ffce" stroke="none" transform="translate(129.4 229.2) rotate(132.6)"/><path d="M210.8 152.8C203.3 161.7 196 170.8 188.7 179.9C179.7 191.2 170.9 202.6 162.3 214.2" stroke="#53ffa4"/><path d="M4.6 0L-3.8 -4V4Z" fill="#53ffa4" stroke="none" transform="translate(188.7 179.9) rotate(128.5)"/><path d="M210.8 179.9C203.2 191.4 195.1 202.6 186.5 213.5C177.1 225.6 167 237.3 156.5 248.5" stroke="url(#g89)"/><path d="M4.6 0L-3.8 -4V4Z" fill="#009cff" stroke="none" transform="translate(186.5 213.5) rotate(128.1)"/><path d="M211.5 208.5C209.8 210.5 208.1 212.7 206.5 214.9C203.7 218.9 199 222.9 199.4 227.8C199.7 230.6 201.2 233.4 203 235.6" stroke="url(#g90)"/><path d="M4.6 0L-3.8 -4V4Z" fill="#0000ff" stroke="none" transform="translate(207.2 213.9) rotate(125.7)"/><path d="M210.8 264.9C199.4 263.9 187.5 265 176.5 268.5C169.5 270.7 159.5 271.1 156.5 277.8C155.7 279.6 154.8 281.5 155.1 283.5C155.7 287.2 160.7 289.2 164.4 289.9" stroke="url(#g91)"/><path d="M4.6 0L-3.8 -4V4Z" fill="#0000f1" stroke="none" transform="translate(176.5 268.5) rotate(162.5)"/><path d="M210.8 378.8C193.5 359.4 174.8 341.1 155.1 324.2C150.9 320.6 145.6 318 142.3 313.5C139.7 310.1 138.3 305.9 136.5 302.1C135 298.8 134.8 294.6 132.3 292.1C129.4 289.2 124.4 289.7 120.8 287.8C118.3 286.4 114.7 285.5 113.7 282.8C113.1 281.2 112.5 278.9 113.7 277.8C115.2 276.3 117.8 279.2 119.4 280.6" stroke="url(#g92)"/><path d="M4.6 0L-3.8 -4V4Z" fill="#0ff8e7" stroke="none" transform="translate(155.1 324.2) rotate(-139.4)"/><path d="M210.8 343.5C207.2 339.5 203.4 335.7 199.4 332.1C193.9 327 186 324.2 182.3 317.8C180.7 315.1 179.5 312.2 178.7 309.2" stroke="url(#g93)"/><path d="M4.6 0L-3.8 -4V4Z" fill="#0080ff" stroke="none" transform="translate(199.4 332.1) rotate(-137.2)"/><path d="M210.8 442.3C192.2 425.3 174.1 407.6 156.5 389.5C144.4 376.9 133.1 363.4 120.8 350.9C107.4 337.2 94.5 322.7 79.4 310.9C68.6 302.5 58.1 292.6 45.1 288.1C39.6 286.1 33.8 284.8 28 284.1" stroke="url(#g94)"/><path d="M4.6 0L-3.8 -4V4Z" fill="#a4ff53" stroke="none" transform="translate(120.8 350.9) rotate(-134.3)"/><path d="M135.8 398.8C125.9 388.2 116.4 377.2 107.3 365.9C96.4 352.5 86.2 338.7 76.5 324.5" stroke="url(#g95)"/><path d="M4.6 0L-3.8 -4V4Z" fill="#b4ff43" stroke="none" transform="translate(107.3 365.9) rotate(-129)"/><path d="M210.8 411.6C207.1 407.3 203.3 403 199.4 398.8C188.6 387 177.4 375.5 165.8 364.5" stroke="#7dff7a"/><path d="M4.6 0L-3.8 -4V4Z" fill="#7dff7a" stroke="none" transform="translate(199.4 398.8) rotate(-132.4)"/><path d="M73.7 365.2C69.9 359 66 352.8 62.3 346.6C56.7 337.6 51.3 328.6 45.8 319.5" stroke="url(#g96)"/><path d="M4.6 0L-3.8 -4V4Z" fill="#ffd700" stroke="none" transform="translate(62.3 346.6) rotate(-121.4)"/><path d="M58 380.9C54.7 376.4 51.8 371.6 49.4 366.6C47 361.6 45.6 356.1 43.7 350.9C41.2 344.2 38.6 337.5 35.8 330.9C34.4 327.6 33 324.2 31.5 320.9" stroke="url(#g97)"/><path d="M4.6 0L-3.8 -4V4Z" fill="#ffb200" stroke="none" transform="translate(43.7 350.9) rotate(-110.6)"/><path d="M42.3 401.6C40.7 397.6 39.3 393.6 38 389.5C36 383.4 34.6 377.1 33 370.9C31.5 365.2 30.1 359.5 28.7 353.8C26.1 343.3 23.4 332.8 20.8 322.3" stroke="url(#g98)"/><path d="M4.6 0L-3.8 -4V4Z" fill="#f8f500" stroke="none" transform="translate(33 370.9) rotate(-104.5)"/><path d="M20.1 409.5C19.2 401.4 18.3 393.3 17.3 385.2C16.1 376.1 14.8 367.1 13.7 358.1C12.4 347.1 11.2 336.2 10.1 325.2" stroke="url(#g99)"/><path d="M4.6 0L-3.8 -4V4Z" fill="#eeff09" stroke="none" transform="translate(17.3 385.2) rotate(-97.1)"/><path d="M210.8 468.1C202.9 461.1 194.2 454.8 185.1 449.5C173.9 442.9 162.1 436.6 149.4 433.8C144.2 432.6 138.7 433.2 133.7 431.6C129.1 430.2 124.9 427.7 120.8 425.2C115.4 421.8 111.5 416.1 105.8 413.1C99.9 409.9 92.2 410.9 86.5 407.3C82.7 404.9 80.9 399.3 76.5 398.1C70.5 396.4 65.1 403.2 59.4 405.9C54.1 408.4 47.4 409.2 43.7 413.8C41.5 416.4 41.4 420.3 39.4 423.1C36.6 426.9 32.4 429.8 28 431.6C24.8 432.9 21.4 433.5 18 433.8C16.1 433.9 14.1 434.2 12.3 433.8C7.6 432.6 5.7 426.7 3.7 422.3C0.8 416.2 0.1 409 0.8 402.3" stroke="url(#g100)"/><path d="M4.6 0L-3.8 -4V4Z" fill="#0080ff" stroke="none" transform="translate(59.4 405.9) rotate(154.4)"/><path d="M4.6 0L-3.8 -4V4Z" fill="#beff39" stroke="none" transform="translate(0.5 407.4) rotate(-90.3)"/><path d="M18 433.8C18 439.5 17.7 445.2 17.3 450.9C15.9 466.4 11 481.4 8 496.6C5.5 509 3.2 521.4 0.8 533.8" stroke="url(#g101)"/><path d="M20.8 450.9C20.5 461.4 20 471.9 19.4 482.3C18.8 491.9 18.1 501.4 17.3 510.9C15.6 529.1 13.5 547.2 10.8 565.2" stroke="url(#g102)"/><path d="M4.6 0L-3.8 -4V4Z" fill="#ceff29" stroke="none" transform="translate(17.3 510.9) rotate(95.1)"/><path d="M32.3 453.8C33 472.3 33.7 490.9 34.4 509.5C35.1 528.1 35.8 546.6 36.5 565.2" stroke="url(#g103)"/><path d="M4.6 0L-3.8 -4V4Z" fill="#eeff09" stroke="none" transform="translate(34.4 509.5) rotate(87.8)"/><path d="M45.1 476.6C45.3 487.8 45.5 499 45.8 510.2C46.3 528.5 47.1 546.9 48 565.2" stroke="url(#g104)"/><path d="M4.6 0L-3.8 -4V4Z" fill="#f8f500" stroke="none" transform="translate(45.8 510.2) rotate(88.4)"/><path d="M56.5 468.1C56.8 482.1 57.2 496.2 58 510.2C58.9 528.6 60.4 546.9 62.3 565.2" stroke="url(#g105)"/><path d="M4.6 0L-3.8 -4V4Z" fill="#f8f500" stroke="none" transform="translate(58 510.2) rotate(87)"/><path d="M66.5 496.6C67.6 501.1 68.6 505.7 69.4 510.2C72.7 528.3 74.1 546.8 73.7 565.2" stroke="url(#g106)"/><path d="M4.6 0L-3.8 -4V4Z" fill="#f8f500" stroke="none" transform="translate(69.4 510.2) rotate(79.6)"/><path d="M73 415.9C73.1 423.8 73.3 431.6 73.7 439.5C74.4 453.3 76 467.1 77.3 480.9C79.7 509 82.4 537.1 85.1 565.2" stroke="url(#g107)"/><path d="M4.6 0L-3.8 -4V4Z" fill="#e7ff0f" stroke="none" transform="translate(77.3 480.9) rotate(84.9)"/><path d="M88 416.6C86.5 425.1 85.7 433.7 85.8 442.3C85.9 448.6 86.4 454.8 87.3 460.9C87.8 465 88.5 469 89.4 473.1" stroke="url(#g108)"/><path d="M4.6 0L-3.8 -4V4Z" fill="#7dff7a" stroke="none" transform="translate(85.8 442.3) rotate(89.4)"/><path d="M94.4 424.5C95 434.3 95.7 444 96.5 453.8C97.5 464.7 98.8 475.7 100.1 486.6C103.3 512.9 107.4 539.2 112.3 565.2" stroke="url(#g109)"/><path d="M4.6 0L-3.8 -4V4Z" fill="#deff19" stroke="none" transform="translate(100.1 486.6) rotate(83)"/><path d="M107.3 453.1C109.3 472.9 111.9 492.7 115.1 512.3C118 530 121.3 547.7 125.1 565.2" stroke="url(#g110)"/><path d="M4.6 0L-3.8 -4V4Z" fill="#ceff29" stroke="none" transform="translate(115.1 512.3) rotate(80.8)"/><path d="M124.4 459.5C124 463.3 123.7 467.1 123.7 470.9C123.6 482.5 127.3 493.8 129.4 505.2C133.1 525.3 137.4 545.3 142.3 565.2" stroke="url(#g111)"/><path d="M4.6 0L-3.8 -4V4Z" fill="#beff39" stroke="none" transform="translate(129.4 505.2) rotate(79.6)"/><path d="M144.4 448.8C141.8 448.3 138.9 448.1 136.5 449.2C130.8 451.8 135.8 461.8 135.8 468.1C135.8 476.6 136.5 485.2 137.3 493.8C139.3 517.8 143.4 541.8 149.4 565.2" stroke="url(#g112)"/><path d="M4.6 0L-3.8 -4V4Z" fill="#beff39" stroke="none" transform="translate(137.3 493.8) rotate(85.1)"/><path d="M178.7 461.6C171.3 466.7 164.5 474.9 163.7 483.8C163.4 487.6 164.7 491.4 165.1 495.2C166.8 509.9 165.6 524.9 168 539.5C169.4 548.2 171.3 556.8 173.7 565.2" stroke="url(#g113)"/><path d="M4.6 0L-3.8 -4V4Z" fill="#8dff6a" stroke="none" transform="translate(165.1 495.2) rotate(83.6)"/><path d="M185.8 485.9C183 490.7 180.9 496.1 180.1 501.6C179.1 508.5 181.6 515.4 182.3 522.3C183.7 536.6 185.1 550.9 186.5 565.2" stroke="url(#g114)"/><path d="M4.6 0L-3.8 -4V4Z" fill="#8dff6a" stroke="none" transform="translate(182.3 522.3) rotate(84.2)"/><path d="M210.8 487.3C208.5 486.7 206.1 486.3 203.7 486.6C194.2 487.8 195.1 504.2 194.4 513.8C194.2 516.6 194.3 519.5 194.4 522.3C194.7 536.7 196.4 551.1 199.4 565.2" stroke="url(#g115)"/><path d="M4.6 0L-3.8 -4V4Z" fill="#0ff8e7" stroke="none" transform="translate(194.4 513.8) rotate(94.3)"/></g><path d="M2.9 254.9L43.2 -135.0" stroke="#fff" stroke-width="3.5" stroke-dasharray="13.3 5.4" fill="none"/><path d="M2.9 310.6L43.2 700.5" stroke="#fff" stroke-width="3.5" stroke-dasharray="13.3 5.4" fill="none"/><path d="M8.2 256.0L123.5 -118.7" stroke="#fff" stroke-width="3.5" fill="none"/><path d="M8.2 309.5L123.5 684.2" stroke="#fff" stroke-width="3.5" fill="none"/><circle cx="0" cy="282.8" r="28.6" fill="#000" stroke="#fff" stroke-width="1.2"/></svg>
<path d="M1104.7 215.8v5M1104.7 781.3v-5M1125.8 215.8v3M1125.8 781.3v-3M1147 215.8v3M1147 781.3v-3M1168.1 215.8v3M1168.1 781.3v-3M1189.2 215.8v3M1189.2 781.3v-3M1210.4 215.8v5M1210.4 781.3v-5M1231.5 215.8v3M1231.5 781.3v-3M1252.6 215.8v3M1252.6 781.3v-3M1273.7 215.8v3M1273.7 781.3v-3M1294.9 215.8v3M1294.9 781.3v-3M1316 215.8v5M1316 781.3v-5M1104.7 781.3h5M1316 781.3h-5M1104.7 753h3M1316 753h-3M1104.7 724.8h3M1316 724.8h-3M1104.7 696.5h3M1316 696.5h-3M1104.7 668.2h3M1316 668.2h-3M1104.7 639.9h5M1316 639.9h-5M1104.7 611.6h3M1316 611.6h-3M1104.7 583.4h3M1316 583.4h-3M1104.7 555.1h3M1316 555.1h-3M1104.7 526.8h3M1316 526.8h-3M1104.7 498.6h5M1316 498.6h-5M1104.7 470.3h3M1316 470.3h-3M1104.7 442h3M1316 442h-3M1104.7 413.7h3M1316 413.7h-3M1104.7 385.4h3M1316 385.4h-3M1104.7 357.2h5M1316 357.2h-5M1104.7 328.9h3M1316 328.9h-3M1104.7 300.6h3M1316 300.6h-3M1104.7 272.4h3M1316 272.4h-3M1104.7 244.1h3M1316 244.1h-3M1104.7 215.8h5M1316 215.8h-5" stroke="#000" stroke-width="1" fill="none"/>
<rect x="1104.7" y="215.8" width="211.3" height="565.5" fill="none" stroke="#000" stroke-width="1.1"/>
<text x="1103.9" y="812.4" font-size="36" letter-spacing="-0.4" text-anchor="middle">0</text>
<text x="1209.6" y="812.4" font-size="36" letter-spacing="-0.4" text-anchor="middle">15</text>
<text x="1315.2" y="812.4" font-size="36" letter-spacing="-0.4" text-anchor="middle">30</text>
<text x="1099.5" y="229" font-size="36" letter-spacing="-0.9" text-anchor="end">40</text>
<text x="1099.5" y="370.4" font-size="36" letter-spacing="-0.9" text-anchor="end">20</text>
<text x="1099.5" y="511.8" font-size="36" letter-spacing="-0.9" text-anchor="end">0</text>
<text x="1099.5" y="653.1" font-size="36" letter-spacing="-0.9" text-anchor="end">−20</text>
<text x="1099.5" y="794.5" font-size="36" letter-spacing="-0.9" text-anchor="end">−40</text>
<svg x="138.6" y="979.1" width="212.4" height="565.5" viewBox="0 0 212.4 565.5" preserveAspectRatio="none"><path d="M1.1 0V565.5" stroke="#fff" stroke-opacity=".55" stroke-width="1"/><g fill="none" stroke-width="1.6" stroke-linecap="butt"><path d="M15.1 225.6C11.5 224 8.1 221.7 5.8 218.5C2.2 213.4 4.3 206.1 3.7 199.9C1 172.4 2.6 144.7 2.3 117C1.8 78.5 1.5 39.9 1.5 1.3" stroke="url(#g116)"/><path d="M4.6 0L-3.8 -4V4Z" fill="#ff8200" stroke="none" transform="translate(2.3 117) rotate(-90.7) scale(1.1)"/><path d="M10.1 92.8C10.4 80.4 10.6 68 10.8 55.6C11.1 37.5 11.4 19.4 11.5 1.3" stroke="#ff9f00"/><path d="M4.6 0L-3.8 -4V4Z" fill="#ff9f00" stroke="none" transform="translate(10.8 55.6) rotate(-89) scale(1.1)"/><path d="M29.4 236.3C23.3 227.6 18.7 217.5 16.5 207C15.1 200 15.4 192.8 15.1 185.6C14.2 162.8 16.7 139.9 18 117C18.8 101.8 19.9 86.6 20.8 71.3C22.2 48 23.4 24.7 24.4 1.3" stroke="url(#g117)"/><path d="M4.6 0L-3.8 -4V4Z" fill="#ff8200" stroke="none" transform="translate(18 117) rotate(-86.9) scale(1.1)"/><path d="M34.4 57C35 46.1 35.4 35.1 35.8 24.2C36.1 16.6 36.3 8.9 36.5 1.3" stroke="#ffb200"/><path d="M4.6 0L-3.8 -4V4Z" fill="#ffb200" stroke="none" transform="translate(35.8 24.2) rotate(-87.9) scale(1.1)"/><path d="M40.1 247C37.8 241 35.9 234.8 34.4 228.5C30.6 212.2 31.2 195.2 31.5 178.5C31.8 166.1 33.1 153.7 34.4 141.3C36.3 122.7 40.1 104.2 42.3 85.6C45.6 57.6 48 29.5 49.4 1.3" stroke="url(#g118)"/><path d="M4.6 0L-3.8 -4V4Z" fill="#ff8200" stroke="none" transform="translate(34.4 141.3) rotate(-84.2) scale(1.1)"/><path d="M25.8 211.3C24.2 206.7 23 201.9 22.3 197C21.4 191.4 21.6 185.6 21.5 179.9C21.3 164.2 22.3 148.4 24.4 132.8" stroke="#ff8200"/><path d="M4.6 0L-3.8 -4V4Z" fill="#ff8200" stroke="none" transform="translate(21.5 179.9) rotate(-90.8) scale(1.1)"/><path d="M50.8 199.9C52.1 185.6 53.5 171.3 55.1 157C57.4 136.5 59.9 116 63 95.6C64.9 82.7 67.7 70 69.4 57C71.8 38.6 73.2 19.9 73.7 1.3" stroke="url(#g119)"/><path d="M4.6 0L-3.8 -4V4Z" fill="#ff9400" stroke="none" transform="translate(63 95.6) rotate(-81.4) scale(1.1)"/><path d="M65.8 154.9C68 134.5 71.1 114.3 75.1 94.2C77.6 81.7 81.7 69.6 83.7 57C86.7 38.7 87.8 19.9 87.3 1.3" stroke="url(#g120)"/><path d="M4.6 0L-3.8 -4V4Z" fill="#ff9400" stroke="none" transform="translate(75.1 94.2) rotate(-78.7) scale(1.1)"/><path d="M53 247C58 231.5 62.5 215.8 66.5 199.9C72.5 176.4 76.1 152.3 80.8 128.5C86.5 99.9 95.4 71.8 98 42.8C99.2 29 99.6 15.1 99.4 1.3" stroke="url(#g121)"/><path d="M4.6 0L-3.8 -4V4Z" fill="#ff9f00" stroke="none" transform="translate(80.8 128.5) rotate(-78.7) scale(1.1)"/><path d="M94.4 134.2C98.3 118.6 101.6 102.9 104.4 87C107 72.4 109.7 57.6 110.8 42.8C111.9 29 112.1 15.1 111.5 1.3" stroke="#ffab00"/><path d="M4.6 0L-3.8 -4V4Z" fill="#ffab00" stroke="none" transform="translate(104.4 87) rotate(-80) scale(1.1)"/><path d="M91.5 181.3C96.7 168.7 101.3 155.8 105.1 142.8C109.7 127.3 112.7 111.4 115.8 95.6C119.7 75.7 124.3 55.8 125.1 35.6C125.6 24.2 125.3 12.7 124.4 1.3" stroke="url(#g122)"/><path d="M4.6 0L-3.8 -4V4Z" fill="#ffab00" stroke="none" transform="translate(115.8 95.6) rotate(-79) scale(1.1)"/><path d="M134.4 74.9C135.7 66.1 136.7 57.3 137.3 48.5C138.3 32.8 138 17 136.5 1.3" stroke="#ffb200"/><path d="M4.6 0L-3.8 -4V4Z" fill="#ffb200" stroke="none" transform="translate(137.3 48.5) rotate(-86.4) scale(1.1)"/><path d="M92.3 214.9C101.3 200.9 109.4 186.3 116.5 171.3C124.4 154.7 131.2 137.5 136.5 119.9C142.7 99.4 147.5 78.3 149.4 57C151 38.5 150.7 19.8 148.7 1.3" stroke="url(#g123)"/><path d="M4.6 0L-3.8 -4V4Z" fill="#ffbd00" stroke="none" transform="translate(136.5 119.9) rotate(-73.2) scale(1.1)"/><path d="M130.8 182C138.1 170.5 144.3 158.3 149.4 145.6C155.1 131.4 159.5 116.5 162.3 101.3C164.9 86.8 165.7 71.9 165.8 57C166 38.4 164.6 19.7 161.5 1.3" stroke="url(#g124)"/><path d="M4.6 0L-3.8 -4V4Z" fill="#ffd700" stroke="none" transform="translate(162.3 101.3) rotate(-79.7) scale(1.1)"/><path d="M168 136.3C171.2 127.3 173.9 117.9 175.8 108.5C177.6 100 179 91.4 179.4 82.8C179.8 74.2 178.8 65.6 178 57C176.2 38.3 172.8 19.6 168 1.3" stroke="url(#g125)"/><path d="M4.6 0L-3.8 -4V4Z" fill="#ffe200" stroke="none" transform="translate(179.4 82.8) rotate(-87.7) scale(1.1)"/><path d="M28.7 282C29.9 282.1 31.1 282.2 32.3 282C35.3 281.8 38.2 280.6 40.8 279.2C44.8 277 47.3 272.8 50.8 269.9C56.1 265.6 62.2 262.3 68 258.5C83.2 248.4 99.6 240.1 113.7 228.5C131.6 213.7 146.5 195.4 160.8 177C169.5 166 179.3 155.5 185.1 142.8C191.2 129.4 193.5 114.5 195.1 99.9C196.7 85.7 196.1 71.3 195.1 57C193.9 38.3 191 19.6 186.5 1.3" stroke="url(#g126)"/><path d="M4.6 0L-3.8 -4V4Z" fill="#ffbd00" stroke="none" transform="translate(160.8 177) rotate(-52) scale(1.1)"/><path d="M188 176.3C191.4 173.3 194.7 170.2 198 167C202.6 162.6 207.1 158.1 211.5 153.5" stroke="#ffbd00"/><path d="M4.6 0L-3.8 -4V4Z" fill="#ffbd00" stroke="none" transform="translate(198 167) rotate(-43.8) scale(1.1)"/><path d="M118.7 241.3C133.3 234.2 147.8 226.8 162.3 219.2C178.8 210.4 195.3 201.4 211.5 192" stroke="url(#g127)"/><path d="M4.6 0L-3.8 -4V4Z" fill="#ff3800" stroke="none" transform="translate(162.3 219.2) rotate(-27.8) scale(1.1)"/><path d="M176.5 247C179.9 245.2 183.3 243.3 186.5 241.3C195.3 236 203.7 230 211.5 223.5" stroke="#ceff29"/><path d="M4.6 0L-3.8 -4V4Z" fill="#ceff29" stroke="none" transform="translate(186.5 241.3) rotate(-31.3) scale(1.1)"/><path d="M72.3 282C78.4 282.3 84.6 282.4 90.8 282.5C93.2 282.5 95.6 282.5 98 282.5C103.2 282.4 108.4 282.1 113.7 282C120.4 281.9 127.3 280.3 133.7 282C136.7 282.9 139.7 283.9 142.3 285.6C143.8 286.6 145.1 288 146.5 289.2C150.1 292.3 153.1 295.9 156.5 299.2C159.3 301.9 162.2 304.5 165.1 307C179.5 319.7 195.1 331.1 211.5 340.9" stroke="url(#g128)"/><path d="M4.6 0L-3.8 -4V4Z" fill="#0060ff" stroke="none" transform="translate(98 282.5) rotate(-0.5) scale(1.1)"/><path d="M4.6 0L-3.8 -4V4Z" fill="#0080ff" stroke="none" transform="translate(146.5 289.2) rotate(41.3) scale(1.1)"/><path d="M112.3 283.5C114.3 285.5 116.2 287.7 118 289.9C120 292.4 121.9 295 123.7 297.8" stroke="url(#g129)"/><path d="M144.4 280.6C148.5 280.1 152.5 279.4 156.5 278.5C160.9 277.5 165.1 276.1 169.4 274.9C177 272.8 184.9 271.4 192.3 268.5C199 265.8 205.5 262.4 211.5 258.5" stroke="url(#g130)"/><path d="M4.6 0L-3.8 -4V4Z" fill="#0074ff" stroke="none" transform="translate(169.4 274.9) rotate(-15.6) scale(1.1)"/><path d="M170.8 284.2C177.8 285.5 184.7 287.9 190.8 291.3C198.9 295.9 206 302.4 211.5 309.9" stroke="url(#g131)"/><path d="M4.6 0L-3.8 -4V4Z" fill="#0094ff" stroke="none" transform="translate(190.8 291.3) rotate(29.3) scale(1.1)"/><path d="M31.5 283C36.2 287.5 40.2 293.7 40.8 300.2C41.3 305 40 310.1 38 314.5C35.5 319.7 30.8 323.4 26.5 327.3C21.8 331.7 15.1 333.8 10.8 338.8C8.6 341.4 6.5 344.2 5.1 347.3C2.2 353.9 4 361.6 3.7 368.8C2.9 384 3.2 399.2 3 414.5C2.3 464.9 1.8 515.4 1.5 565.9" stroke="url(#g132)"/><path d="M4.6 0L-3.8 -4V4Z" fill="#ff5500" stroke="none" transform="translate(3 414.5) rotate(90.8) scale(1.1)"/><path d="M8.7 350.9C8.1 356.8 7.6 362.8 7.3 368.8C5.7 394.7 8.2 420.7 8.7 446.6C9.5 486.4 10.5 526.1 11.5 565.9" stroke="url(#g133)"/><path d="M4.6 0L-3.8 -4V4Z" fill="#ff6800" stroke="none" transform="translate(8.7 446.6) rotate(88.8) scale(1.1)"/><path d="M31.5 361.6C30.3 371.1 29.6 380.6 29.4 390.2C29.1 407.4 31.7 424.5 33.7 441.6C35.9 460.3 39.8 478.7 42.3 497.3C45.3 520.1 47.6 543 49.4 565.9" stroke="url(#g134)"/><path d="M4.6 0L-3.8 -4V4Z" fill="#ff6800" stroke="none" transform="translate(33.7 441.6) rotate(83.3) scale(1.1)"/><path d="M18 472.3C19 484.9 19.9 497.6 20.8 510.2C22.1 528.7 23.3 547.3 24.4 565.9" stroke="#ff9f00"/><path d="M4.6 0L-3.8 -4V4Z" fill="#ff9f00" stroke="none" transform="translate(20.8 510.2) rotate(85.9) scale(1.1)"/><path d="M43 437.3C46.7 456.3 50.3 475.4 53.7 494.5C56.4 509.7 60.3 524.8 61.5 540.2C62.2 548.7 62.5 557.3 62.3 565.9" stroke="url(#g135)"/><path d="M4.6 0L-3.8 -4V4Z" fill="#ff8200" stroke="none" transform="translate(53.7 494.5) rotate(79.9) scale(1.1)"/><path d="M43.7 300.2C47.2 318.2 50.6 336.3 53.7 354.5C57.3 375.8 60.4 397.3 63.7 418.8C67 440.2 70.4 461.6 73.7 483C78 510.7 82.3 538.3 86.5 565.9" stroke="url(#g136)"/><path d="M4.6 0L-3.8 -4V4Z" fill="#ff7a00" stroke="none" transform="translate(63.7 418.8) rotate(81.2) scale(1.1)"/><path d="M68.7 381.6C73.2 406.4 77.9 431.2 83 455.9C87.7 479.3 95.4 502.2 98 525.9C99.4 539.2 100.1 552.5 100.1 565.9" stroke="url(#g137)"/><path d="M4.6 0L-3.8 -4V4Z" fill="#ff8d00" stroke="none" transform="translate(83 455.9) rotate(78.5) scale(1.1)"/><path d="M83.7 406.6C88.3 427.3 92.8 448 97.3 468.8C101.4 487.8 106.9 506.6 109.4 525.9C111.1 539.2 112 552.5 112.3 565.9" stroke="url(#g138)"/><path d="M4.6 0L-3.8 -4V4Z" fill="#ff9400" stroke="none" transform="translate(97.3 468.8) rotate(77.8) scale(1.1)"/><path d="M56.5 307.3C69.3 327 80.8 347.5 90.8 368.8C99.6 387.3 107.7 406.3 113.7 425.9C120.8 449.1 124 473.4 128 497.3C131.8 520.1 134.9 543 137.3 565.9" stroke="url(#g139)"/><path d="M4.6 0L-3.8 -4V4Z" fill="#ff8200" stroke="none" transform="translate(113.7 425.9) rotate(73) scale(1.1)"/><path d="M120.1 503.8C120.9 509.2 121.6 514.7 122.3 520.2C124 535.4 124.9 550.6 125.1 565.9" stroke="#ffab00"/><path d="M4.6 0L-3.8 -4V4Z" fill="#ffab00" stroke="none" transform="translate(122.3 520.2) rotate(83.6) scale(1.1)"/><path d="M87.3 332.3C99.9 345.6 111.2 360.3 120.8 375.9C130.7 392.1 138.9 409.4 145.1 427.3C152.9 449.8 156.3 473.7 159.4 497.3C162.4 520 163.8 543 163.7 565.9" stroke="url(#g140)"/><path d="M4.6 0L-3.8 -4V4Z" fill="#ffbd00" stroke="none" transform="translate(145.1 427.3) rotate(70.8) scale(1.1)"/><path d="M143.7 508.8C145 519.2 146.2 529.7 147.3 540.2C148.1 548.7 148.8 557.3 149.4 565.9" stroke="#ffb200"/><path d="M4.6 0L-3.8 -4V4Z" fill="#ffb200" stroke="none" transform="translate(147.3 540.2) rotate(84.5) scale(1.1)"/><path d="M146.5 393C153.3 403.4 159.1 414.4 163.7 425.9C169.7 441 173.3 457 175.8 473C178.6 490.5 179.3 508.3 178.7 525.9C178.2 539.3 176.7 552.7 174.4 565.9" stroke="url(#g141)"/><path d="M4.6 0L-3.8 -4V4Z" fill="#ffd000" stroke="none" transform="translate(175.8 473) rotate(81) scale(1.1)"/><path d="M182.3 448C185.7 464.8 188.1 481.7 189.4 498.8C191.1 521.1 190.8 543.6 188.7 565.9" stroke="url(#g142)"/><path d="M4.6 0L-3.8 -4V4Z" fill="#ffd700" stroke="none" transform="translate(189.4 498.8) rotate(85.7) scale(1.1)"/><path d="M193.7 441.6C195.9 449.1 197.6 456.7 198.7 464.5C200.2 475.6 200.4 486.9 199.4 498" stroke="#f8f500"/><path d="M4.6 0L-3.8 -4V4Z" fill="#f8f500" stroke="none" transform="translate(198.7 464.5) rotate(82.2) scale(1.1)"/><path d="M211.5 493C210.7 504.8 209.2 516.5 207.3 528C205.1 540.8 202.2 553.4 198.7 565.9" stroke="url(#g143)"/><path d="M4.6 0L-3.8 -4V4Z" fill="#ffd700" stroke="none" transform="translate(207.3 528) rotate(99.7) scale(1.1)"/><path d="M108.7 328C123.8 338.6 138.5 349.5 153 360.9C163.9 369.5 174.5 378.4 185.1 387.3C194 394.8 202.8 402.5 211.5 410.2" stroke="url(#g144)"/><path d="M4.6 0L-3.8 -4V4Z" fill="#ff6800" stroke="none" transform="translate(153 360.9) rotate(38.2) scale(1.1)"/><path d="M188 358.8C191.1 360.4 194.2 362 197.3 363.8C202.1 366.5 206.9 369.3 211.5 372.3" stroke="#ff7a00"/><path d="M4.6 0L-3.8 -4V4Z" fill="#ff7a00" stroke="none" transform="translate(197.3 363.8) rotate(29.3) scale(1.1)"/></g><circle cx="0" cy="282.8" r="29" fill="#000" stroke="#fff" stroke-width="0"/></svg>
<path d="M138.6 979.1v5M138.6 1544.6v-5M159.8 979.1v3M159.8 1544.6v-3M181.1 979.1v3M181.1 1544.6v-3M202.3 979.1v3M202.3 1544.6v-3M223.6 979.1v3M223.6 1544.6v-3M244.8 979.1v5M244.8 1544.6v-5M266 979.1v3M266 1544.6v-3M287.3 979.1v3M287.3 1544.6v-3M308.5 979.1v3M308.5 1544.6v-3M329.8 979.1v3M329.8 1544.6v-3M351 979.1v5M351 1544.6v-5M138.6 1544.6h5M351 1544.6h-5M138.6 1516.3h3M351 1516.3h-3M138.6 1488h3M351 1488h-3M138.6 1459.8h3M351 1459.8h-3M138.6 1431.5h3M351 1431.5h-3M138.6 1403.2h5M351 1403.2h-5M138.6 1375h3M351 1375h-3M138.6 1346.7h3M351 1346.7h-3M138.6 1318.4h3M351 1318.4h-3M138.6 1290.1h3M351 1290.1h-3M138.6 1261.8h5M351 1261.8h-5M138.6 1233.6h3M351 1233.6h-3M138.6 1205.3h3M351 1205.3h-3M138.6 1177h3M351 1177h-3M138.6 1148.8h3M351 1148.8h-3M138.6 1120.5h5M351 1120.5h-5M138.6 1092.2h3M351 1092.2h-3M138.6 1063.9h3M351 1063.9h-3M138.6 1035.7h3M351 1035.7h-3M138.6 1007.4h3M351 1007.4h-3M138.6 979.1h5M351 979.1h-5" stroke="#000" stroke-width="1" fill="none"/>
<rect x="138.6" y="979.1" width="212.4" height="565.5" fill="none" stroke="#000" stroke-width="1.1"/>
<text x="137.8" y="1575.7" font-size="36" letter-spacing="-0.4" text-anchor="middle">0</text>
<text x="244" y="1575.7" font-size="36" letter-spacing="-0.4" text-anchor="middle">15</text>
<text x="350.2" y="1575.7" font-size="36" letter-spacing="-0.4" text-anchor="middle">30</text>
<text x="133.4" y="992.3" font-size="36" letter-spacing="-0.9" text-anchor="end">40</text>
<text x="133.4" y="1133.7" font-size="36" letter-spacing="-0.9" text-anchor="end">20</text>
<text x="133.4" y="1275" font-size="36" letter-spacing="-0.9" text-anchor="end">0</text>
<text x="133.4" y="1416.4" font-size="36" letter-spacing="-0.9" text-anchor="end">−20</text>
<text x="133.4" y="1557.8" font-size="36" letter-spacing="-0.9" text-anchor="end">−40</text>
<svg x="620.7" y="979.1" width="212.4" height="565.5" viewBox="0 0 212.4 565.5" preserveAspectRatio="none"><path d="M1.1 0V565.5" stroke="#fff" stroke-opacity=".55" stroke-width="1"/><g fill="none" stroke-width="1.6" stroke-linecap="butt"><path d="M5.7 201.3C4.6 173.7 3.6 146.1 2.9 118.5C1.8 79.4 1.1 40.4 0.7 1.3" stroke="#ff3800"/><path d="M4.6 0L-3.8 -4V4Z" fill="#ff3800" stroke="none" transform="translate(2.9 118.5) rotate(-91.6) scale(1.1)"/><path d="M10 177C11.1 146.6 11.8 116.1 12.2 85.6C12.5 57.5 12.5 29.4 12.2 1.3" stroke="#ff3800"/><path d="M4.6 0L-3.8 -4V4Z" fill="#ff3800" stroke="none" transform="translate(12.2 85.6) rotate(-89.4) scale(1.1)"/><path d="M30.7 252C28.8 250.1 27.1 248 25.7 245.6C22.1 239.4 23.2 231.4 22.2 224.2C20.4 211.4 19 198.5 18.6 185.6C18.1 173.2 19 160.9 19.3 148.5C19.7 132.3 20.2 116.1 20.7 99.9C21.8 67 23.3 34.2 25 1.3" stroke="url(#g145)"/><path d="M4.6 0L-3.8 -4V4Z" fill="#ff3800" stroke="none" transform="translate(19.3 148.5) rotate(-88.6) scale(1.1)"/><path d="M34.3 61.3C35.2 49 35.9 36.6 36.4 24.2C36.8 16.6 37 8.9 37.2 1.3" stroke="#ff3f00"/><path d="M4.6 0L-3.8 -4V4Z" fill="#ff3f00" stroke="none" transform="translate(36.4 24.2) rotate(-87.6) scale(1.1)"/><path d="M40.7 261.3C39.4 254.7 38.3 248 37.6 241.3C36.1 227.6 37 213.7 37.2 199.9C37.4 181.8 38.4 163.7 39.3 145.6C40.1 130.4 41.1 115.1 42.2 99.9C44.4 67 47 34.2 50 1.3" stroke="url(#g146)"/><path d="M4.6 0L-3.8 -4V4Z" fill="#ff3f00" stroke="none" transform="translate(39.3 145.6) rotate(-87) scale(1.1)"/><path d="M50.7 167C52 139.4 53.7 111.8 55.7 84.2C57.8 56.5 60.1 28.9 62.9 1.3" stroke="#ff3f00"/><path d="M4.6 0L-3.8 -4V4Z" fill="#ff3f00" stroke="none" transform="translate(55.7 84.2) rotate(-85.8) scale(1.1)"/><path d="M50 239.9C52.4 226.6 54.6 213.3 56.4 199.9C60.5 171.5 62.3 142.8 65 114.2C68.6 76.6 71.9 39 75 1.3" stroke="url(#g147)"/><path d="M4.6 0L-3.8 -4V4Z" fill="#ff4a00" stroke="none" transform="translate(65 114.2) rotate(-84.6) scale(1.1)"/><path d="M62.9 260.6C60.3 259.1 57.8 256.9 56.4 254.2C54.7 250.8 55.7 246.6 55.7 242.8C55.9 233 60.2 223.7 62.2 214.2C66.9 191 70.3 167.6 73.6 144.2C75.7 129.4 77.6 114.7 79.3 99.9C83 67.1 85.6 34.3 87.2 1.3" stroke="url(#g148)"/><path d="M4.6 0L-3.8 -4V4Z" fill="#ff5500" stroke="none" transform="translate(73.6 144.2) rotate(-81.9) scale(1.1)"/><path d="M82.9 257C78.1 255.2 73.1 251.8 71.4 247C70.2 243.4 71.7 239.4 72.2 235.6C73.8 223.1 81.4 212 85 199.9C91.7 177.6 94.8 154.3 98.6 131.3C101.1 116.1 103.2 100.9 105 85.6C108.4 57.6 110.8 29.5 112.2 1.3" stroke="url(#g149)"/><path d="M4.6 0L-3.8 -4V4Z" fill="#ff7a00" stroke="none" transform="translate(98.6 131.3) rotate(-80.7) scale(1.1)"/><path d="M120.7 61.3C120.7 59.4 120.7 57.5 120.7 55.6C120.9 37.5 122.3 19.3 125 1.3" stroke="#ff8d00"/><path d="M4.6 0L-3.8 -4V4Z" fill="#ff8d00" stroke="none" transform="translate(120.7 56.3) rotate(-89.7) scale(1.1)"/><path d="M103.6 248.5C100.7 246.1 98.2 243.2 96.4 239.9C94.2 235.6 93.6 230.5 93.6 225.6C93.6 220.8 95.1 216 96.4 211.3C99 202.3 104.5 194.4 107.9 185.6C113.5 171.2 117.7 156.3 121.4 141.3C127.3 118.4 131 94.9 133.6 71.3C136.2 48.1 137.4 24.7 137.2 1.3" stroke="url(#g150)"/><path d="M4.6 0L-3.8 -4V4Z" fill="#ff8d00" stroke="none" transform="translate(121.4 141.3) rotate(-75.8) scale(1.1)"/><path d="M119.3 242C115.1 238.5 111.5 233.7 110 228.5C108.7 223.9 109.4 218.9 110 214.2C111.3 203.9 118.4 195.3 122.2 185.6C129 167.9 135 149.8 139.3 131.3C143.8 111.6 146.1 91.5 147.9 71.3C149.9 48.1 150.3 24.6 149.3 1.3" stroke="url(#g151)"/><path d="M4.6 0L-3.8 -4V4Z" fill="#ff9400" stroke="none" transform="translate(139.3 131.3) rotate(-77) scale(1.1)"/><path d="M159.3 61.3C159.6 59.4 159.8 57.5 160 55.6C162.1 37.6 162.8 19.4 162.2 1.3" stroke="#ff9400"/><path d="M4.6 0L-3.8 -4V4Z" fill="#ff9400" stroke="none" transform="translate(159.9 56.3) rotate(-83.2) scale(1.1)"/><path d="M200 282C198.9 284.3 197.4 286.9 195 287.8C190.7 289.3 188.2 281.7 185 278.5C177.4 270.7 170.7 262 165 252.8C160.6 245.5 157.3 237.6 153.6 229.9C150.6 223.7 146.1 218.1 145 211.3C144.4 207.6 144.7 203.7 145 199.9C145.7 190 150.2 180.8 152.9 171.3C157 157 162.6 143 165.7 128.5C169.8 109.7 170.6 90.4 172.2 71.3C174 48.1 175 24.7 175 1.3" stroke="url(#g152)"/><path d="M4.6 0L-3.8 -4V4Z" fill="#ffd700" stroke="none" transform="translate(152.9 171.3) rotate(-74.1) scale(1.1)"/><path d="M212.2 274.2C207.2 269.1 202.8 263.3 199.3 257C195.3 249.9 193.3 241.9 190.7 234.2C188.6 227.6 187.7 220.6 185 214.2C182.5 208.2 177.4 203.3 175.7 197C174.1 191.1 174.7 184.7 175 178.5C175.4 170 177.9 161.8 179.3 153.5C180.7 145.1 182.4 136.8 183.6 128.5C186.3 109.6 187.2 90.4 187.9 71.3C188.7 48 188.5 24.6 187.2 1.3" stroke="url(#g153)"/><path d="M4.6 0L-3.8 -4V4Z" fill="#e7ff0f" stroke="none" transform="translate(179.3 153.5) rotate(-80.3) scale(1.1)"/><path d="M212.2 194.9C207.3 188.3 203.5 180.7 201.4 172.8C198.9 163.1 200.6 152.8 200.7 142.8C200.8 132.7 201.8 122.8 202.2 112.8C202.5 103.7 202.9 94.7 202.9 85.6C202.8 71.3 201.2 57.1 200.7 42.8C200.3 29 200 15.1 200 1.3" stroke="url(#g154)"/><path d="M4.6 0L-3.8 -4V4Z" fill="#e7ff0f" stroke="none" transform="translate(202.2 112.8) rotate(-87.9) scale(1.1)"/><path d="M190.7 264.2C188 261.1 185.6 257.7 183.6 254.2C180.3 248.4 178.9 241.8 176.4 235.6C174.6 230.8 172.5 226.1 170.7 221.3C168.1 214.3 165 207.3 163.6 199.9C162.6 194.5 162.1 189 162.2 183.5" stroke="url(#g155)"/><path d="M4.6 0L-3.8 -4V4Z" fill="#009cff" stroke="none" transform="translate(176.4 235.6) rotate(-111.5) scale(1.1)"/><path d="M99.3 280.9C92.5 282.4 85.9 284.3 79.3 286.6C75 288.1 70.8 290.3 66.4 291.6C62.2 292.9 57.9 293.5 53.6 294.5C49.8 295.4 45.7 295.7 42.2 297.3C36.3 300 32.4 305.6 27.9 310.2C23.8 314.3 20.9 319.4 16.4 323C14.8 324.3 12.8 325.1 11.4 326.6C8.3 330.1 8.8 335.6 7.9 340.2C6 349.6 6.4 359.2 5.7 368.8C1.3 434.3 0.1 500.2 2.2 565.9" stroke="url(#g156)"/><path d="M4.6 0L-3.8 -4V4Z" fill="#ffd300" stroke="none" transform="translate(6.8 348) rotate(95.3) scale(1.1)"/><path d="M99.3 280.9C106.4 279.9 113.6 279.2 120.7 278.8C130.7 278.2 142.4 273.3 150.7 278.8C151.7 279.4 153 279.9 153.6 280.9C154 281.5 154 282.4 154.3 283C156.3 287.1 163.3 284.3 167.9 284.5C171.2 284.6 175.1 282.7 177.9 284.5C179 285.2 180.1 286.1 180.7 287.3C182.4 290.5 178 294.1 176.4 297.3C174.5 301.3 172.1 304.9 170 308.8C166.4 315.4 162.9 322.1 159.3 328.8C156 335 152 340.8 149.3 347.3C146.9 353.1 145 359.1 143.6 365.2" stroke="url(#g157)"/><path d="M4.6 0L-3.8 -4V4Z" fill="#0000f1" stroke="none" transform="translate(170 308.8) rotate(118.9) scale(1.1)"/><path d="M128.6 284.5C122.5 288.4 116.9 293.2 112.2 298.8C109.5 301.9 107.7 305.7 105 308.8C103.7 310.3 102.2 311.6 100.7 313C97.4 316.4 92.9 318.9 90.7 323C88.9 326.5 88 330.5 87.9 334.5C87.7 339.9 90.1 345.2 92.2 350.2C94.2 355.2 96.9 360 100 364.5" stroke="url(#g158)"/><path d="M4.6 0L-3.8 -4V4Z" fill="#7dff7a" stroke="none" transform="translate(100.7 313) rotate(135) scale(1.1)"/><path d="M142.2 310.9C140.3 316.1 137.9 321.2 135 325.9C131.8 331.1 126 334.6 123.6 340.2C122 343.8 120.4 347.7 120.7 351.6C120.9 353.6 121.7 355.4 122.2 357.3C123 360.7 124 364 125 367.3C129.6 382.5 135.4 397.3 142.2 411.6" stroke="url(#g159)"/><path d="M4.6 0L-3.8 -4V4Z" fill="#f8f500" stroke="none" transform="translate(122.2 357.3) rotate(75.3) scale(1.1)"/><path d="M112.2 332.3C110.2 334.6 108.7 337.3 107.9 340.2C107.2 342.5 107.2 344.9 107.2 347.3C107.1 356.7 111.2 366.4 117.2 373.8" stroke="url(#g160)"/><path d="M4.6 0L-3.8 -4V4Z" fill="#ffd700" stroke="none" transform="translate(107.2 347.3) rotate(90.4) scale(1.1)"/><path d="M73.6 318C73.4 320.7 73.4 323.3 73.6 325.9C74.4 336.1 81.6 344.8 85 354.5C90.8 370.8 95.8 387.5 99.3 404.5C102 417.7 103.3 431.1 105 444.5C107.9 466.8 109.5 489.3 112.2 511.6C114.3 529.7 116.7 547.8 119.3 565.9" stroke="url(#g161)"/><path d="M4.6 0L-3.8 -4V4Z" fill="#ff8200" stroke="none" transform="translate(105 444.5) rotate(82.6) scale(1.1)"/><path d="M57.2 317.3C61 334.4 64.6 351.6 67.9 368.8C71.5 387.7 75.2 406.8 77.9 425.9C81.2 449.6 83.3 473.5 85 497.3C86.6 520.1 87.6 543 87.9 565.9" stroke="url(#g162)"/><path d="M4.6 0L-3.8 -4V4Z" fill="#ff6800" stroke="none" transform="translate(77.9 425.9) rotate(82) scale(1.1)"/><path d="M51.4 323C54.1 343 56.7 363 59.3 383C61.2 398.3 63.4 413.5 65 428.8C67.5 451.6 69.1 474.5 70.7 497.3C72.4 520.2 73.8 543 75 565.9" stroke="url(#g163)"/><path d="M4.6 0L-3.8 -4V4Z" fill="#ff6800" stroke="none" transform="translate(65 428.8) rotate(83.8) scale(1.1)"/><path d="M37.9 325.9C37.7 349.7 38.2 373.5 39.3 397.3C40.1 415 41.7 432.6 42.9 450.2C44.6 475.4 46.4 500.6 47.9 525.9C48.6 539.2 49.4 552.6 50 565.9" stroke="url(#g164)"/><path d="M4.6 0L-3.8 -4V4Z" fill="#ff4a00" stroke="none" transform="translate(42.9 450.2) rotate(86.2) scale(1.1)"/><path d="M45.7 370.2C46.8 383 47.7 395.9 48.6 408.8C49.1 416.4 49.6 424 50 431.6" stroke="#ff5500"/><path d="M4.6 0L-3.8 -4V4Z" fill="#ff5500" stroke="none" transform="translate(48.6 408.8) rotate(86.2) scale(1.1)"/><path d="M20 377.3C20 400.4 20.2 423.5 20.7 446.6C21.6 486.4 23.3 526.2 25.7 565.9" stroke="#ff3f00"/><path d="M4.6 0L-3.8 -4V4Z" fill="#ff3f00" stroke="none" transform="translate(20.7 446.6) rotate(88.7) scale(1.1)"/><path d="M10 387.3C11 418.3 11.7 449.2 12.2 480.2C12.6 508.8 12.8 537.3 12.9 565.9" stroke="#ff3800"/><path d="M4.6 0L-3.8 -4V4Z" fill="#ff3800" stroke="none" transform="translate(12.2 480.2) rotate(89.1) scale(1.1)"/><path d="M32.9 471.6C33.6 484.5 34.3 497.3 35 510.2C36 528.8 37 547.3 37.9 565.9" stroke="#ff3f00"/><path d="M4.6 0L-3.8 -4V4Z" fill="#ff3f00" stroke="none" transform="translate(35 510.2) rotate(86.9) scale(1.1)"/><path d="M58.6 503C58.9 516.9 59.6 530.7 60.7 544.5C61.3 551.6 62 558.8 62.9 565.9" stroke="#ff3f00"/><path d="M4.6 0L-3.8 -4V4Z" fill="#ff3f00" stroke="none" transform="translate(60.7 544.5) rotate(85.2) scale(1.1)"/><path d="M96.4 470.2C96.8 484 97.6 497.8 98.6 511.6C99.9 529.8 101.9 547.9 104.3 565.9" stroke="#ff6800"/><path d="M4.6 0L-3.8 -4V4Z" fill="#ff6800" stroke="none" transform="translate(98.6 511.6) rotate(85.7) scale(1.1)"/><path d="M109.3 403.8C112.8 420.5 115.7 437.5 117.9 454.5C119 463.5 119.9 472.6 120.7 481.6C123.3 509.6 124.7 537.8 125 565.9" stroke="url(#g165)"/><path d="M4.6 0L-3.8 -4V4Z" fill="#ff8200" stroke="none" transform="translate(120.7 481.6) rotate(84.7) scale(1.1)"/><path d="M122.2 403.8C126.5 420.4 129.9 437.4 132.2 454.5C133.4 464 134.2 473.5 135 483C137.2 510.6 138 538.3 137.2 565.9" stroke="url(#g166)"/><path d="M4.6 0L-3.8 -4V4Z" fill="#ff9400" stroke="none" transform="translate(135 483) rotate(85.4) scale(1.1)"/><path d="M145 443.8C146.7 463 147.9 482.3 148.6 501.6C149.4 523 149.6 544.5 149.3 565.9" stroke="url(#g167)"/><path d="M4.6 0L-3.8 -4V4Z" fill="#ff9f00" stroke="none" transform="translate(148.6 501.6) rotate(87.8) scale(1.1)"/><path d="M157.9 443C159.6 465.4 160.7 487.8 161.4 510.2C162 528.7 162.3 547.3 162.2 565.9" stroke="url(#g168)"/><path d="M4.6 0L-3.8 -4V4Z" fill="#ffab00" stroke="none" transform="translate(161.4 510.2) rotate(88.2) scale(1.1)"/><path d="M168.6 433.8C170.5 452.5 171.9 471.3 172.9 490.2C174.2 515.4 174.6 540.7 174.3 565.9" stroke="url(#g169)"/><path d="M4.6 0L-3.8 -4V4Z" fill="#ffb200" stroke="none" transform="translate(172.9 490.2) rotate(87.1) scale(1.1)"/><path d="M188.6 324.5C187.2 329.8 185.5 335 183.6 340.2C181.2 346.6 177.9 352.6 175 358.8C172.6 364 168.9 368.8 167.9 374.5C166.9 379.6 167.7 385 168.6 390.2C169.6 396.1 171.6 401.9 174.3 407.3" stroke="url(#g170)"/><path d="M4.6 0L-3.8 -4V4Z" fill="#39ffbe" stroke="none" transform="translate(175 358.8) rotate(114.6) scale(1.1)"/><path d="M212.2 330.9C211.5 336.5 210.1 342.1 207.9 347.3C205.7 352.4 202.6 357.1 199.3 361.6C195.5 366.8 189.3 370.1 186.4 375.9C184.3 380.3 183.5 385.3 182.9 390.2C181.7 399.7 184.5 409.3 186.4 418.8C187.6 424.5 189.7 430.1 190.7 435.9C192.6 446.7 192.2 457.8 192.2 468.8C192.2 487.9 188.9 506.8 187.9 525.9C187.2 539.2 186.7 552.6 186.4 565.9" stroke="url(#g171)"/><path d="M4.6 0L-3.8 -4V4Z" fill="#deff19" stroke="none" transform="translate(190.7 435.9) rotate(80) scale(1.1)"/><path d="M200.7 385.2C198 389.7 196.1 394.9 195.7 400.2C195.5 404 196.7 407.8 197.2 411.6C198.2 421.1 198.9 430.6 199.3 440.2C199.8 452.6 199.8 465 199.3 477.3" stroke="url(#g172)"/><path d="M4.6 0L-3.8 -4V4Z" fill="#ceff29" stroke="none" transform="translate(197.2 411.6) rotate(83.7) scale(1.1)"/><path d="M212.2 388.8C210 393.8 208.3 399.1 207.2 404.5C204.7 416.1 207.5 428.3 207.9 440.2C208.2 449.2 209.1 458.3 209 467.3C208.9 482.2 206.4 496.9 205 511.6C203.3 529.7 201.4 547.8 199.3 565.9" stroke="url(#g173)"/><path d="M4.6 0L-3.8 -4V4Z" fill="#deff19" stroke="none" transform="translate(209 467.3) rotate(90.5) scale(1.1)"/></g><circle cx="0" cy="282.8" r="29" fill="#000" stroke="#fff" stroke-width="0"/></svg>
<path d="M620.7 979.1v5M620.7 1544.6v-5M641.9 979.1v3M641.9 1544.6v-3M663.2 979.1v3M663.2 1544.6v-3M684.4 979.1v3M684.4 1544.6v-3M705.7 979.1v3M705.7 1544.6v-3M726.9 979.1v5M726.9 1544.6v-5M748.1 979.1v3M748.1 1544.6v-3M769.4 979.1v3M769.4 1544.6v-3M790.6 979.1v3M790.6 1544.6v-3M811.9 979.1v3M811.9 1544.6v-3M833.1 979.1v5M833.1 1544.6v-5M620.7 1544.6h5M833.1 1544.6h-5M620.7 1516.3h3M833.1 1516.3h-3M620.7 1488h3M833.1 1488h-3M620.7 1459.8h3M833.1 1459.8h-3M620.7 1431.5h3M833.1 1431.5h-3M620.7 1403.2h5M833.1 1403.2h-5M620.7 1375h3M833.1 1375h-3M620.7 1346.7h3M833.1 1346.7h-3M620.7 1318.4h3M833.1 1318.4h-3M620.7 1290.1h3M833.1 1290.1h-3M620.7 1261.8h5M833.1 1261.8h-5M620.7 1233.6h3M833.1 1233.6h-3M620.7 1205.3h3M833.1 1205.3h-3M620.7 1177h3M833.1 1177h-3M620.7 1148.8h3M833.1 1148.8h-3M620.7 1120.5h5M833.1 1120.5h-5M620.7 1092.2h3M833.1 1092.2h-3M620.7 1063.9h3M833.1 1063.9h-3M620.7 1035.7h3M833.1 1035.7h-3M620.7 1007.4h3M833.1 1007.4h-3M620.7 979.1h5M833.1 979.1h-5" stroke="#000" stroke-width="1" fill="none"/>
<rect x="620.7" y="979.1" width="212.4" height="565.5" fill="none" stroke="#000" stroke-width="1.1"/>
<text x="619.9" y="1575.7" font-size="36" letter-spacing="-0.4" text-anchor="middle">0</text>
<text x="726.1" y="1575.7" font-size="36" letter-spacing="-0.4" text-anchor="middle">15</text>
<text x="832.3" y="1575.7" font-size="36" letter-spacing="-0.4" text-anchor="middle">30</text>
<text x="615.5" y="992.3" font-size="36" letter-spacing="-0.9" text-anchor="end">40</text>
<text x="615.5" y="1133.7" font-size="36" letter-spacing="-0.9" text-anchor="end">20</text>
<text x="615.5" y="1275" font-size="36" letter-spacing="-0.9" text-anchor="end">0</text>
<text x="615.5" y="1416.4" font-size="36" letter-spacing="-0.9" text-anchor="end">−20</text>
<text x="615.5" y="1557.8" font-size="36" letter-spacing="-0.9" text-anchor="end">−40</text>
<svg x="1104.7" y="979.1" width="211.3" height="565.5" viewBox="0 0 212.4 565.5" preserveAspectRatio="none"><path d="M1.1 0V565.5" stroke="#fff" stroke-opacity=".55" stroke-width="1"/><g fill="none" stroke-width="1.6" stroke-linecap="butt"><path d="M5.1 154.9C4.5 131.8 3.9 108.7 3.4 85.6C2.7 57.5 2.1 29.4 1.5 1.3" stroke="#ff8200"/><path d="M4.6 0L-3.8 -4V4Z" fill="#ff8200" stroke="none" transform="translate(3.4 85.6) rotate(-91.3) scale(1.1)"/><path d="M15.8 206.3C13.5 194.8 11.8 183.1 10.8 171.3C9.4 153.3 11.4 135.1 11.5 117C11.9 78.5 11.9 39.9 11.5 1.3" stroke="url(#g174)"/><path d="M4.6 0L-3.8 -4V4Z" fill="#ff8200" stroke="none" transform="translate(11.5 117) rotate(-89.5) scale(1.1)"/><path d="M27.3 198.5C25.2 187.1 23.8 175.7 23 164.2C21.8 148 22.9 131.8 23 115.6C23 77.5 23.3 39.4 23.7 1.3" stroke="url(#g175)"/><path d="M4.6 0L-3.8 -4V4Z" fill="#ff8200" stroke="none" transform="translate(23 115.6) rotate(-89.9) scale(1.1)"/><path d="M41.5 270.6C41.3 269 41 267.3 40.8 265.6C40 258 41.7 250.4 41.5 242.8C41.3 228.4 38.4 214.2 37.3 199.9C35.7 179.7 34.8 159.4 34.4 139.2C34.2 126.1 34.3 113 34.4 99.9C34.6 67 35.3 34.2 36.5 1.3" stroke="url(#g176)"/><path d="M4.6 0L-3.8 -4V4Z" fill="#ff8200" stroke="none" transform="translate(34.4 139.2) rotate(-91.1) scale(1.1)"/><path d="M51.5 269.9C50.1 268.2 48.9 266.2 48 264.2C45 257.7 47.9 249.9 48 242.8C48.1 228.5 48.9 214.2 48.7 199.9C48.4 179.4 45.6 159 45.1 138.5C44.8 125.6 45 112.8 45.1 99.9C45.4 67 46.6 34.1 48.7 1.3" stroke="url(#g177)"/><path d="M4.6 0L-3.8 -4V4Z" fill="#ff8200" stroke="none" transform="translate(45.1 138.5) rotate(-91.3) scale(1.1)"/><path d="M58.7 209.9C59.2 197 59.4 184.2 59.4 171.3C59.4 149.9 57.4 128.5 57.3 107C57.1 71.8 58.5 36.5 61.5 1.3" stroke="url(#g178)"/><path d="M4.6 0L-3.8 -4V4Z" fill="#ff8200" stroke="none" transform="translate(57.3 107) rotate(-90.3) scale(1.1)"/><path d="M73.7 274.2C70.6 272.7 67.6 270.8 65.1 268.5C62.9 266.4 60 264.3 59.4 261.3C59 258.9 60.3 256.6 60.8 254.2C62.7 245.5 66 237.2 68 228.5C71.1 214.4 73.1 200 73.7 185.6C74.3 171.3 72 157.1 71.5 142.8C71.1 128.5 70.9 114.2 70.8 99.9C70.7 67 71.7 34.1 73.7 1.3" stroke="url(#g179)"/><path d="M4.6 0L-3.8 -4V4Z" fill="#ff8d00" stroke="none" transform="translate(71.5 142.8) rotate(-91.9) scale(1.1)"/><path d="M83.7 173.5C83.6 143.2 83.9 113 84.4 82.8C84.9 55.6 85.6 28.5 86.5 1.3" stroke="#ff8d00"/><path d="M4.6 0L-3.8 -4V4Z" fill="#ff8d00" stroke="none" transform="translate(84.4 82.8) rotate(-89) scale(1.1)"/><path d="M100.8 271.3C94.7 269.3 88.5 265.4 85.1 259.9C83.3 256.9 81.9 253.4 81.5 249.9C81.1 245 83.9 240.4 85.1 235.6C88.2 223.6 93.1 212.1 95.1 199.9C97.1 188.1 96.8 176.1 97.3 164.2C98 142.8 96.4 121.3 96.5 99.9C96.7 67 97.7 34.2 99.4 1.3" stroke="url(#g180)"/><path d="M4.6 0L-3.8 -4V4Z" fill="#ff9f00" stroke="none" transform="translate(97.3 164.2) rotate(-88) scale(1.1)"/><path d="M107.3 170.6C108.1 148.5 108.8 126.3 109.4 104.2C110.4 69.9 111.1 35.6 111.5 1.3" stroke="#ff9400"/><path d="M4.6 0L-3.8 -4V4Z" fill="#ff9400" stroke="none" transform="translate(109.4 104.2) rotate(-88.4) scale(1.1)"/><path d="M107.3 247C106.2 244.8 105.4 242.4 105.1 239.9C104.3 234.1 108 228.5 109.4 222.8C112.4 210.4 116.2 198.2 118 185.6C119.9 172.4 119.6 159 120.1 145.6C120.7 130.4 120.5 115.1 120.8 99.9C121.6 67 122.7 34.2 124.4 1.3" stroke="url(#g181)"/><path d="M4.6 0L-3.8 -4V4Z" fill="#ff9f00" stroke="none" transform="translate(120.1 145.6) rotate(-87.9) scale(1.1)"/><path d="M140.1 242.8C137.5 240.3 135.3 237.4 133.7 234.2C131.1 229 131.1 222.8 130.8 217C130.6 211.3 131.7 205.6 132.3 199.9C133.1 190.4 134.4 180.9 135.1 171.3C136.4 153.3 135.6 135.1 135.8 117C136.3 78.5 136.5 39.9 136.5 1.3" stroke="url(#g182)"/><path d="M4.6 0L-3.8 -4V4Z" fill="#ffab00" stroke="none" transform="translate(135.8 117) rotate(-89.4) scale(1.1)"/><path d="M165.8 245.6C158.6 241.7 151.8 235.8 148 228.5C144.6 222 144.2 214.3 143.7 207C143.2 199.9 144.8 192.8 145.1 185.6C145.7 172.8 145 159.9 145.1 147C145.2 131.3 145.5 115.6 145.8 99.9C146.5 67 147.4 34.2 148.7 1.3" stroke="url(#g183)"/><path d="M4.6 0L-3.8 -4V4Z" fill="#ffb200" stroke="none" transform="translate(145.1 147) rotate(-89.6) scale(1.1)"/><path d="M198.7 234.9C189.5 231.2 180.8 225.1 175.1 217C170.2 210 168.5 201.1 166.5 192.8C163.8 181.1 164.4 169 163.7 157C162.9 143.7 162.9 130.4 162.3 117C161.5 101.8 159.8 86.6 159.4 71.3C158.8 48 159.5 24.6 161.5 1.3" stroke="url(#g184)"/><path d="M4.6 0L-3.8 -4V4Z" fill="#ffb200" stroke="none" transform="translate(162.3 117) rotate(-92.8) scale(1.1)"/><path d="M211.5 222C203.5 217.1 196.1 210.6 190.8 202.8C185.9 195.5 183.2 186.9 180.8 178.5C177.2 165.8 177.7 152.3 176.5 139.2C175 121.4 174.3 103.5 173.7 85.6C172.8 57.5 172.8 29.4 173.7 1.3" stroke="url(#g185)"/><path d="M4.6 0L-3.8 -4V4Z" fill="#ffd700" stroke="none" transform="translate(176.5 139.2) rotate(-94.9) scale(1.1)"/><path d="M211.5 189.2C206.7 182.3 202.5 174.9 199.4 167C195.4 157.1 194.1 146.2 192.3 135.6C190.5 125.2 189.7 114.7 188.7 104.2C187.1 88.5 185.7 72.8 185.1 57C184.5 38.5 184.7 19.9 185.8 1.3" stroke="url(#g186)"/><path d="M4.6 0L-3.8 -4V4Z" fill="#ffc400" stroke="none" transform="translate(188.7 104.2) rotate(-95.6) scale(1.1)"/><path d="M211.5 144.9C209.6 137.1 208 129.2 206.5 121.3C204.6 110.7 203.4 99.9 202.3 89.2C201.1 78.5 200.1 67.8 199.4 57C198.3 38.5 198 19.9 198.7 1.3" stroke="url(#g187)"/><path d="M4.6 0L-3.8 -4V4Z" fill="#ffc400" stroke="none" transform="translate(202.3 89.2) rotate(-96.3) scale(1.1)"/><path d="M27.3 242.8C24.9 240.6 22.7 238.2 20.8 235.6C18.5 232.3 17.9 227.8 15.1 224.9C12.1 221.7 6.3 221.9 3.7 218.5C0.7 214.6 0.2 209 0.8 204.2" stroke="url(#g188)"/><path d="M4.6 0L-3.8 -4V4Z" fill="#53ffa4" stroke="none" transform="translate(14.4 224.2) rotate(-141.6) scale(1.1)"/><path d="M30.1 257.8C28.1 257.1 25.8 256.8 23.7 257C21.6 257.3 19.5 258.1 17.7 259.2" stroke="url(#g189)"/><path d="M4.6 0L-3.8 -4V4Z" fill="#ad0000" stroke="none" transform="translate(18.7 258.6) rotate(152.5) scale(1.1)"/><path d="M29.4 307C27.5 307.3 25.6 307.3 23.7 307C21.6 306.8 19.6 306.3 17.7 305.6" stroke="url(#g190)"/><path d="M4.6 0L-3.8 -4V4Z" fill="#ad0000" stroke="none" transform="translate(18.7 306) rotate(-162.2) scale(1.1)"/><path d="M211.5 279.9C205.6 276.2 199 273.2 192.3 271.3C183.1 268.8 173.2 269.3 163.7 269.2C151.8 269 139.3 267.5 128 271.3C125 272.3 121.9 273.1 119.4 274.9C117.1 276.6 116 279.6 113.7 281.3C109.7 284.3 104.2 284.4 99.4 285.6C91 287.7 82.3 288.8 73.7 289.9C69.4 290.5 65.1 290.6 60.8 291.3C57.5 291.9 53.9 292.1 50.8 293.5C48.2 294.7 45.4 296.2 43.7 298.5C41.6 301.2 42.2 305.3 40.8 308.5C39.1 312.6 36.6 316.5 33.7 319.9C30.8 323.2 26.9 325.5 23.7 328.5C21.7 330.3 19.8 332.2 18 334.2" stroke="url(#g191)"/><path d="M23.7 328C21.6 329.2 19.7 330.6 18 332.3C14.1 336.3 12.8 342.2 10.8 347.3C9.1 352 7.6 356.8 6.5 361.6C4 373.2 5.5 385.4 5.1 397.3C4.2 425.9 4.3 454.5 3.7 483C3.1 510.7 2.4 538.3 1.5 565.9" stroke="url(#g192)"/><path d="M4.6 0L-3.8 -4V4Z" fill="#ceff29" stroke="none" transform="translate(18 332.3) rotate(134.9) scale(1.1)"/><path d="M10.8 391.6C11.2 421.1 11.4 450.7 11.5 480.2C11.7 508.8 11.7 537.3 11.5 565.9" stroke="#ff6800"/><path d="M4.6 0L-3.8 -4V4Z" fill="#ff6800" stroke="none" transform="translate(11.5 480.2) rotate(89.8) scale(1.1)"/><path d="M28 358C25.7 371 24 384.2 23 397.3C21.7 413.7 22.4 430.2 22.3 446.6C22 486.4 22.5 526.2 23.7 565.9" stroke="url(#g193)"/><path d="M4.6 0L-3.8 -4V4Z" fill="#ff7a00" stroke="none" transform="translate(22.3 446.6) rotate(90.4) scale(1.1)"/><path d="M37.3 368C35.6 382.5 34.4 397.1 33.7 411.6C33.1 424.2 33.1 436.9 33 449.5C32.7 488.3 33.6 527.1 35.8 565.9" stroke="url(#g194)"/><path d="M4.6 0L-3.8 -4V4Z" fill="#ff7a00" stroke="none" transform="translate(33 449.5) rotate(90.5) scale(1.1)"/><path d="M50.8 321.6C50.4 337.3 49.6 353.1 48.7 368.8C47.6 386.9 45 404.9 44.4 423C43.7 443 44.6 463 45.1 483C45.8 510.7 47 538.3 48.7 565.9" stroke="url(#g195)"/><path d="M4.6 0L-3.8 -4V4Z" fill="#ff8200" stroke="none" transform="translate(44.4 423) rotate(92) scale(1.1)"/><path d="M58.7 321.6C58.8 346.9 58.6 372.1 58 397.3C57.6 411.4 56.8 425.4 56.5 439.5C55.7 481.6 56.7 523.8 59.4 565.9" stroke="url(#g196)"/><path d="M4.6 0L-3.8 -4V4Z" fill="#ff8200" stroke="none" transform="translate(56.5 439.5) rotate(91.1) scale(1.1)"/><path d="M68 322.3C69.4 337.8 70.3 353.3 70.8 368.8C71.4 386.4 70.8 404 70.8 421.6C70.8 442.1 70.5 462.6 70.8 483C71.3 510.7 72.5 538.3 74.4 565.9" stroke="url(#g197)"/><path d="M4.6 0L-3.8 -4V4Z" fill="#ff8d00" stroke="none" transform="translate(70.8 421.6) rotate(90) scale(1.1)"/><path d="M80.1 345.9C81.7 367.8 82.6 389.7 83 411.6C83.2 424 82.9 436.4 83 448.8C83.1 487.8 83.9 526.9 85.1 565.9" stroke="url(#g198)"/><path d="M4.6 0L-3.8 -4V4Z" fill="#ff8200" stroke="none" transform="translate(83 448.8) rotate(89.7) scale(1.1)"/><path d="M101.5 317.3C99.4 320.9 97.6 324.7 96.5 328.8C94.9 334.7 95.8 341.1 95.8 347.3C95.9 354.5 96.9 361.6 97.3 368.8C98.3 390.2 97.4 411.6 97.3 433C97.1 454.5 96.4 475.9 96.5 497.3C96.6 520.2 97.1 543.1 98 565.9" stroke="url(#g199)"/><path d="M4.6 0L-3.8 -4V4Z" fill="#ff9f00" stroke="none" transform="translate(97.3 433) rotate(90.3) scale(1.1)"/><path d="M105.8 368C106.4 387.3 106.9 406.6 107.3 425.9C107.5 440.2 107.6 454.5 108 468.8C108.8 501.2 110.2 533.6 112.3 565.9" stroke="url(#g200)"/><path d="M4.6 0L-3.8 -4V4Z" fill="#ff9400" stroke="none" transform="translate(108 468.8) rotate(88.6) scale(1.1)"/><path d="M211.5 308.8C206.1 307.3 200.6 305.9 195.1 304.5C189.4 303 183.8 299.7 178 300.2C169.4 301 164 310.3 156.5 314.5C151.9 317.1 146.8 318.8 142.3 321.6C135.4 325.9 127.6 330.2 123.7 337.3C120.8 342.5 120.4 348.7 119.4 354.5C117.6 365.5 119.1 376.9 119.1 388C119.1 415 120 441.9 120.8 468.8C121.9 501.2 123.3 533.5 125.1 565.9" stroke="url(#g201)"/><path d="M4.6 0L-3.8 -4V4Z" fill="#ffd000" stroke="none" transform="translate(119.1 388) rotate(90) scale(1.1)"/><path d="M211.5 318C202.6 318 193.4 319.6 185.1 323C177.2 326.3 170.4 332 163.7 337.3C157.1 342.5 149.5 347.3 145.1 354.5C141.3 360.9 140.2 368.6 138.7 375.9C135.9 389.2 137.1 403 136.5 416.6C135.6 438.7 135.2 460.9 135.1 483C135 510.7 135.5 538.3 136.5 565.9" stroke="url(#g202)"/><path d="M4.6 0L-3.8 -4V4Z" fill="#ffd000" stroke="none" transform="translate(136.5 416.6) rotate(92.3) scale(1.1)"/><path d="M146.5 395.2C145.8 410.2 145.3 425.2 145.1 440.2C144.9 453.8 144.9 467.3 145.1 480.9C145.5 509.3 146.7 537.6 148.7 565.9" stroke="url(#g203)"/><path d="M4.6 0L-3.8 -4V4Z" fill="#ffab00" stroke="none" transform="translate(145.1 480.9) rotate(89.2) scale(1.1)"/><path d="M211.5 353C204.9 357.9 198.4 363.2 192.3 368.8C186.3 374.2 179.3 379 175.1 385.9C170.5 393.5 169.9 402.9 168 411.6C165.5 423.1 164.2 434.9 163 446.6C161.2 463.4 160.6 480.4 160.1 497.3C159.5 520.2 159.7 543.1 160.8 565.9" stroke="url(#g204)"/><path d="M4.6 0L-3.8 -4V4Z" fill="#ffd700" stroke="none" transform="translate(163 446.6) rotate(96.1) scale(1.1)"/><path d="M211.5 381.6C204.2 385.5 197.3 390.8 192.3 397.3C186 405.4 183.6 416 180.8 425.9C177.9 436.3 177 447.3 175.8 458C173.8 475.8 173.9 493.7 173.7 511.6C173.4 529.7 173.7 547.8 174.4 565.9" stroke="url(#g205)"/><path d="M4.6 0L-3.8 -4V4Z" fill="#ffe200" stroke="none" transform="translate(175.8 458) rotate(96.4) scale(1.1)"/><path d="M186.5 454.5C185.9 464.7 185.4 474.9 185.1 485.2C184.3 512.1 184.8 539 186.5 565.9" stroke="url(#g206)"/><path d="M4.6 0L-3.8 -4V4Z" fill="#ffd000" stroke="none" transform="translate(185.1 485.2) rotate(91.6) scale(1.1)"/><path d="M211.5 437.3C208.8 445.2 206.7 453.4 205.1 461.6C203.5 470.1 203.1 478.7 202.3 487.3C201 500.2 200 513 199.4 525.9C198.8 539.2 198.5 552.6 198.7 565.9" stroke="url(#g207)"/><path d="M4.6 0L-3.8 -4V4Z" fill="#ffd700" stroke="none" transform="translate(202.3 487.3) rotate(95.5) scale(1.1)"/></g><circle cx="0" cy="282.8" r="29" fill="#000" stroke="#fff" stroke-width="0"/></svg>
<path d="M1104.7 979.1v5M1104.7 1544.6v-5M1125.8 979.1v3M1125.8 1544.6v-3M1147 979.1v3M1147 1544.6v-3M1168.1 979.1v3M1168.1 1544.6v-3M1189.2 979.1v3M1189.2 1544.6v-3M1210.4 979.1v5M1210.4 1544.6v-5M1231.5 979.1v3M1231.5 1544.6v-3M1252.6 979.1v3M1252.6 1544.6v-3M1273.7 979.1v3M1273.7 1544.6v-3M1294.9 979.1v3M1294.9 1544.6v-3M1316 979.1v5M1316 1544.6v-5M1104.7 1544.6h5M1316 1544.6h-5M1104.7 1516.3h3M1316 1516.3h-3M1104.7 1488h3M1316 1488h-3M1104.7 1459.8h3M1316 1459.8h-3M1104.7 1431.5h3M1316 1431.5h-3M1104.7 1403.2h5M1316 1403.2h-5M1104.7 1375h3M1316 1375h-3M1104.7 1346.7h3M1316 1346.7h-3M1104.7 1318.4h3M1316 1318.4h-3M1104.7 1290.1h3M1316 1290.1h-3M1104.7 1261.8h5M1316 1261.8h-5M1104.7 1233.6h3M1316 1233.6h-3M1104.7 1205.3h3M1316 1205.3h-3M1104.7 1177h3M1316 1177h-3M1104.7 1148.8h3M1316 1148.8h-3M1104.7 1120.5h5M1316 1120.5h-5M1104.7 1092.2h3M1316 1092.2h-3M1104.7 1063.9h3M1316 1063.9h-3M1104.7 1035.7h3M1316 1035.7h-3M1104.7 1007.4h3M1316 1007.4h-3M1104.7 979.1h5M1316 979.1h-5" stroke="#000" stroke-width="1" fill="none"/>
<rect x="1104.7" y="979.1" width="211.3" height="565.5" fill="none" stroke="#000" stroke-width="1.1"/>
<text x="1103.9" y="1575.7" font-size="36" letter-spacing="-0.4" text-anchor="middle">0</text>
<text x="1209.6" y="1575.7" font-size="36" letter-spacing="-0.4" text-anchor="middle">15</text>
<text x="1315.2" y="1575.7" font-size="36" letter-spacing="-0.4" text-anchor="middle">30</text>
<text x="1099.5" y="992.3" font-size="36" letter-spacing="-0.9" text-anchor="end">40</text>
<text x="1099.5" y="1133.7" font-size="36" letter-spacing="-0.9" text-anchor="end">20</text>
<text x="1099.5" y="1275" font-size="36" letter-spacing="-0.9" text-anchor="end">0</text>
<text x="1099.5" y="1416.4" font-size="36" letter-spacing="-0.9" text-anchor="end">−20</text>
<text x="1099.5" y="1557.8" font-size="36" letter-spacing="-0.9" text-anchor="end">−40</text>
<svg x="138.6" y="1742.7" width="212.4" height="565.5" viewBox="0 0 212.4 565.5" preserveAspectRatio="none"><path d="M1.1 0V565.5" stroke="#fff" stroke-opacity=".55" stroke-width="1"/><ellipse cx="158" cy="283" rx="70" ry="11" fill="url(#dk20)"/><g fill="none" stroke-width="1.7" stroke-linecap="butt"><path d="M2.3 217.9C2.6 206.9 2.8 196 3 185C3.3 162.6 3.1 140.3 3 117.9C2.8 78.8 2.3 39.8 1.5 0.7" stroke="url(#g208)"/><path d="M4.6 0L-3.8 -4V4Z" fill="#0094ff" stroke="none" transform="translate(3 117.9) rotate(-90.3) scale(1.1)"/><path d="M10.1 123.6C10.9 100.7 11.3 77.9 11.5 55C11.7 36.9 11.7 18.8 11.5 0.7" stroke="#0094ff"/><path d="M4.6 0L-3.8 -4V4Z" fill="#0094ff" stroke="none" transform="translate(11.5 55) rotate(-89.5) scale(1.1)"/><path d="M14.4 185C15.1 170.7 15.8 156.4 16.5 142.2C17.5 123.6 18.5 105 19.4 86.4C19.9 76.4 20.3 66.4 20.8 56.4C21.8 37.9 23 19.3 24.4 0.7" stroke="url(#g209)"/><path d="M4.6 0L-3.8 -4V4Z" fill="#0094ff" stroke="none" transform="translate(19.4 86.4) rotate(-87.2) scale(1.1)"/><path d="M12.3 256.4C13.6 254.6 14.8 252.7 15.8 250.7C19.4 243.8 19.3 235.5 20.8 227.9C23.7 213.7 25.6 199.3 28 185C30.2 171.7 32.5 158.4 34.4 145C37.2 125.1 38.7 105 40.8 85C43.8 56.9 46.6 28.8 49.4 0.7" stroke="url(#g210)"/><path d="M4.6 0L-3.8 -4V4Z" fill="#009cff" stroke="none" transform="translate(34.4 145) rotate(-82.1) scale(1.1)"/><path d="M51.5 88.6C53.4 77 55.1 65.3 56.5 53.6C58.7 36 60.4 18.4 61.5 0.7" stroke="#002cff"/><path d="M4.6 0L-3.8 -4V4Z" fill="#002cff" stroke="none" transform="translate(56.5 53.6) rotate(-83) scale(1.1)"/><path d="M40.1 205.7C42.9 194.1 45.6 182.4 48 170.7C52.2 150.4 55.1 129.8 58.7 109.3C61.8 91.7 65.5 74.2 68 56.4C70.6 38 72.5 19.4 73.7 0.7" stroke="url(#g211)"/><path d="M4.6 0L-3.8 -4V4Z" fill="#0018ff" stroke="none" transform="translate(58.7 109.3) rotate(-80.1) scale(1.1)"/><path d="M75.1 86.4C77.3 75.5 79.2 64.6 80.8 53.6C83.4 36.1 85.3 18.4 86.5 0.7" stroke="#0000da"/><path d="M4.6 0L-3.8 -4V4Z" fill="#0000da" stroke="none" transform="translate(80.8 53.6) rotate(-81.6) scale(1.1)"/><path d="M36.5 245C41.2 237.1 45.5 229 49.4 220.7C54.9 209.1 59.5 197.1 63.7 185C69.4 168.5 73.1 151.3 77.3 134.3C82.4 113.2 87.2 92.1 90.8 70.7C94.8 47.6 97.6 24.2 99.4 0.7" stroke="url(#g212)"/><path d="M4.6 0L-3.8 -4V4Z" fill="#0004ff" stroke="none" transform="translate(77.3 134.3) rotate(-76.3) scale(1.1)"/><path d="M103 56.4C105.1 45.1 107 33.6 108.7 22.2C109.7 15 110.7 7.9 111.5 0.7" stroke="#0000c4"/><path d="M4.6 0L-3.8 -4V4Z" fill="#0000c4" stroke="none" transform="translate(108.7 22.2) rotate(-81.7) scale(1.1)"/><path d="M83.7 172.2C87.3 162.3 90.7 152.3 93.7 142.2C97.3 130.1 99.9 117.9 103 105.7C106.5 91.7 110.6 77.7 113.7 63.6C118.3 42.8 121.8 21.8 124.4 0.7" stroke="url(#g213)"/><path d="M4.6 0L-3.8 -4V4Z" fill="#0000ff" stroke="none" transform="translate(103 105.7) rotate(-75.7) scale(1.1)"/><path d="M77.3 209.3C85.2 194.4 92.6 179.1 99.4 163.6C105.3 150 110.9 136.2 115.8 122.2C123.5 100.6 129.2 78.5 135.1 56.4C140 38 144.6 19.4 148.7 0.7" stroke="url(#g214)"/><path d="M4.6 0L-3.8 -4V4Z" fill="#0038ff" stroke="none" transform="translate(115.8 122.2) rotate(-70.4) scale(1.1)"/><path d="M105.8 170C111.5 159.5 116.7 148.8 121.5 137.9C127.1 125.3 132.1 112.4 136.5 99.3" stroke="url(#g215)"/><path d="M4.6 0L-3.8 -4V4Z" fill="#004cff" stroke="none" transform="translate(121.5 137.9) rotate(-66.2) scale(1.1)"/><path d="M151.5 71.4C154.5 62.7 157.3 53.8 160.1 45C164.8 30.3 169.3 15.5 173.7 0.7" stroke="#0000da"/><path d="M4.6 0L-3.8 -4V4Z" fill="#0000da" stroke="none" transform="translate(160.1 45) rotate(-72.4) scale(1.1)"/><path d="M145.1 111.4C152.4 96.7 159.1 81.7 165.1 66.4C173.6 45 180.7 23 186.5 0.7" stroke="#0000f1"/><path d="M4.6 0L-3.8 -4V4Z" fill="#0000f1" stroke="none" transform="translate(165.1 66.4) rotate(-68.5) scale(1.1)"/><path d="M28.7 275C33.3 271.8 37.8 268.5 42.3 265C49.7 259.2 56.9 253.1 63.7 246.4C71.4 238.9 78.4 230.6 85.1 222.2C92.8 212.6 99.9 202.5 106.5 192.2C113.7 181.1 119.9 169.3 126.5 157.9C136.5 140.7 147.7 124.2 156.5 106.4C164.7 90.2 171.2 73.3 178 56.4C185.3 38.1 192.3 19.5 198.7 0.7" stroke="url(#g216)"/><path d="M4.6 0L-3.8 -4V4Z" fill="#0080ff" stroke="none" transform="translate(126.5 157.9) rotate(-59.7) scale(1.1)"/><path d="M186.5 58.6C191.1 48.9 195.7 39.1 200.1 29.3C204.2 20.3 208.3 11.2 212.3 2.2" stroke="#0000b6"/><path d="M4.6 0L-3.8 -4V4Z" fill="#0000b6" stroke="none" transform="translate(200.1 29.3) rotate(-65.5) scale(1.1)"/><path d="M123.7 186.4C127.3 181.1 131.2 175.9 135.1 170.7C141.2 162.8 147.9 155.4 154.4 147.9C164.4 136.3 174.8 124.9 185.1 113.6C193.9 104 202.7 94.5 211.5 85" stroke="url(#g217)"/><path d="M4.6 0L-3.8 -4V4Z" fill="#0094ff" stroke="none" transform="translate(154.4 147.9) rotate(-49.2) scale(1.1)"/><path d="M188 140.7C191 138.3 194.1 135.9 197.3 133.6C201.9 130.1 206.7 126.8 211.5 123.6" stroke="#004cff"/><path d="M4.6 0L-3.8 -4V4Z" fill="#004cff" stroke="none" transform="translate(197.3 133.6) rotate(-36.5) scale(1.1)"/><path d="M211.5 157.9C202.3 161 193.3 165.3 185.1 170.7C177 176.1 170.2 183.5 163 190C155.2 197 147.6 204.2 140.1 211.4" stroke="url(#g218)"/><path d="M4.6 0L-3.8 -4V4Z" fill="#43ffb4" stroke="none" transform="translate(163 190) rotate(137.9) scale(1.1)"/><path d="M211.5 191.4C204 191.9 194.5 195.2 191.5 202.2C190.6 204.4 189.6 206.9 190.1 209.3C190.4 210.9 191.2 212.3 192.3 213.6" stroke="url(#g219)"/><path d="M4.6 0L-3.8 -4V4Z" fill="#004cff" stroke="none" transform="translate(191.8 201.6) rotate(115.7) scale(1.1)"/><path d="M211.5 232.9C207.5 232.5 203.4 232.1 199.4 231.4C195.6 230.9 191.8 230.1 188 229.3" stroke="url(#g220)"/><path d="M211.5 268.6C202.4 267.5 193.3 264.9 185.1 260.7C178.9 257.5 174.3 251.6 168 248.6C160 244.8 150.9 244.4 142.3 242.9C133.7 241.3 122.3 245.8 116.5 239.3C115 237.6 113.6 235.8 113 233.6C112.2 230.6 113 227.1 114.4 224.3" stroke="url(#g221)"/><path d="M4.6 0L-3.8 -4V4Z" fill="#53ffa4" stroke="none" transform="translate(168 248.6) rotate(-154.8) scale(1.1)"/><path d="M160.8 265C154.9 262.7 148.6 261.2 142.3 260.7C135.1 260.2 128 262.1 120.8 262.9C111.3 263.9 101.8 265.3 92.3 266.4C84.4 267.4 76.5 268.4 68.7 269.3" stroke="url(#g222)"/><path d="M4.6 0L-3.8 -4V4Z" fill="#00e4f8" stroke="none" transform="translate(120.8 262.9) rotate(173.7) scale(1.1)"/><path d="M167.3 295.7C159.2 298.3 150.7 300.1 142.3 300.7C136.6 301.2 130.8 300.9 125.1 300.7C114.1 300.3 103.2 298.6 92.3 297.2C83.2 295.9 74.1 294.5 65.1 292.9" stroke="url(#g223)"/><path d="M4.6 0L-3.8 -4V4Z" fill="#43ffb4" stroke="none" transform="translate(125.1 300.7) rotate(-177.9) scale(1.1)"/><path d="M211.5 295.7C205 297.4 198.5 299.5 192.3 302.2C187.4 304.2 182.8 307.1 178 309.3C171 312.5 163.9 315.8 156.5 317.9C147.3 320.5 137.1 319.2 128 322.2C124.8 323.2 121.7 324.4 118.7 325.7" stroke="url(#g224)"/><path d="M4.6 0L-3.8 -4V4Z" fill="#53ffa4" stroke="none" transform="translate(178 309.3) rotate(155.4) scale(1.1)"/><path d="M2.3 313.9C2.5 323.9 2.7 333.9 3 343.9C3.2 352 3.6 360.1 3.7 368.2C3.9 383.4 3.2 398.6 3 413.9C2.3 464.3 2.1 514.8 2.3 565.3" stroke="url(#g225)"/><path d="M4.6 0L-3.8 -4V4Z" fill="#00b0ff" stroke="none" transform="translate(3 413.9) rotate(90.8) scale(1.1)"/><path d="M5.8 346C6.3 355.8 6.8 365.5 7.3 375.3C8.3 398.9 9.4 422.4 10.1 446C11.3 485.8 11.8 525.5 11.5 565.3" stroke="url(#g226)"/><path d="M4.6 0L-3.8 -4V4Z" fill="#009cff" stroke="none" transform="translate(10.1 446) rotate(88.3) scale(1.1)"/><path d="M18.7 440.3C19.1 452.7 19.6 465.1 20.1 477.4C21.3 506.7 22.8 536 24.4 565.3" stroke="#0094ff"/><path d="M4.6 0L-3.8 -4V4Z" fill="#0094ff" stroke="none" transform="translate(20.1 477.4) rotate(87.6) scale(1.1)"/><path d="M33 503.2C33.6 516.3 34.3 529.4 35.1 542.4C35.6 550.1 36 557.7 36.5 565.3" stroke="#004cff"/><path d="M4.6 0L-3.8 -4V4Z" fill="#004cff" stroke="none" transform="translate(35.1 542.4) rotate(86.6) scale(1.1)"/><path d="M15.1 306C17.6 312.4 20 318.8 22.3 325.3C24.8 332.8 27.3 340.5 29.4 348.2C33.1 361.8 35.5 375.7 38 389.6C39.9 400.5 41.5 411.5 43 422.4C45.7 442.4 46.9 462.5 49.4 482.4C52.9 510.2 57.2 537.8 62.3 565.3" stroke="url(#g227)"/><path d="M4.6 0L-3.8 -4V4Z" fill="#004cff" stroke="none" transform="translate(43 422.4) rotate(82.2) scale(1.1)"/><path d="M33.7 327.4C39.5 340.8 44.8 354.4 49.4 368.2C55.9 387.8 61.5 407.8 65.1 428.2C68.3 446.1 69.3 464.3 70.8 482.4C73.1 510 74.6 537.6 75.1 565.3" stroke="url(#g228)"/><path d="M4.6 0L-3.8 -4V4Z" fill="#0000da" stroke="none" transform="translate(65.1 428.2) rotate(79.9) scale(1.1)"/><path d="M57.3 451.7C61.4 471.8 64.5 492.1 66.5 512.4C68.3 530 69.2 547.7 69.4 565.3" stroke="#0000ff"/><path d="M4.6 0L-3.8 -4V4Z" fill="#0000ff" stroke="none" transform="translate(66.5 512.4) rotate(84.3) scale(1.1)"/><path d="M60.8 365.3C65.9 376.3 70.4 387.5 74.4 398.9C78.6 410.8 82.2 423 85.1 435.3" stroke="url(#g229)"/><path d="M4.6 0L-3.8 -4V4Z" fill="#0000da" stroke="none" transform="translate(74.4 398.9) rotate(70.7) scale(1.1)"/><path d="M102.3 441C99.6 427.1 94.7 413.5 88 401C87.1 399.3 86.1 397.7 85.1 396" stroke="#0000f1"/><path d="M4.6 0L-3.8 -4V4Z" fill="#0000f1" stroke="none" transform="translate(87.8 400.6) rotate(-118.7) scale(1.1)"/><path d="M35.1 305.3C42.8 311.4 50 318.1 56.5 325.3C64.6 334.1 71.1 344.1 78 353.9C82.9 360.9 87.9 367.9 92.3 375.3C101.8 391.4 108.1 409.3 115.1 426.7C122.5 445 129.4 463.6 135.1 482.4C143.3 509.5 149.5 537.3 153.7 565.3" stroke="url(#g230)"/><path d="M4.6 0L-3.8 -4V4Z" fill="#0038ff" stroke="none" transform="translate(115.1 426.7) rotate(68.1) scale(1.1)"/><path d="M85.1 478.9C86.9 491.5 88.8 504.1 90.8 516.7C93.5 533 96.3 549.2 99.4 565.3" stroke="#000096"/><path d="M4.6 0L-3.8 -4V4Z" fill="#000096" stroke="none" transform="translate(90.8 516.7) rotate(80.8) scale(1.1)"/><path d="M97.3 478.9C98.9 491.5 100.9 504.1 103 516.7C105.7 533 108.8 549.2 112.3 565.3" stroke="#000096"/><path d="M4.6 0L-3.8 -4V4Z" fill="#000096" stroke="none" transform="translate(103 516.7) rotate(80.4) scale(1.1)"/><path d="M107.3 481C109.5 492.9 111.9 504.8 114.4 516.7C117.8 533 121.4 549.2 125.1 565.3" stroke="#000096"/><path d="M4.6 0L-3.8 -4V4Z" fill="#000096" stroke="none" transform="translate(114.4 516.7) rotate(78.2) scale(1.1)"/><path d="M118 483.9C120.7 494.8 123.3 505.8 125.8 516.7C129.6 532.9 133.1 549.1 136.5 565.3" stroke="#00009f"/><path d="M4.6 0L-3.8 -4V4Z" fill="#00009f" stroke="none" transform="translate(125.8 516.7) rotate(77) scale(1.1)"/><path d="M120.8 409.6C133.3 432.8 144.5 456.6 154.4 481C160.3 495.6 165.2 510.6 170.8 525.3C175.9 538.7 181.2 552 186.5 565.3" stroke="url(#g231)"/><path d="M4.6 0L-3.8 -4V4Z" fill="#0000da" stroke="none" transform="translate(154.4 481) rotate(67.8) scale(1.1)"/><path d="M151.5 439.6C161.3 457.6 170.8 475.7 180.1 493.9C186.7 506.7 193.1 519.5 199.4 532.4C203.5 541 207.6 549.5 211.5 558.2" stroke="url(#g232)"/><path d="M4.6 0L-3.8 -4V4Z" fill="#0000c4" stroke="none" transform="translate(180.1 493.9) rotate(62.9) scale(1.1)"/><path d="M189.4 481C192.7 487 196 492.9 199.4 498.9C203.4 505.8 207.4 512.7 211.5 519.6" stroke="#0000ad"/><path d="M4.6 0L-3.8 -4V4Z" fill="#0000ad" stroke="none" transform="translate(199.4 498.9) rotate(60.2) scale(1.1)"/><path d="M173 498.9C176.7 507.1 180.3 515.5 183.7 523.9C189.2 537.5 194.2 551.3 198.7 565.3" stroke="#0000ad"/><path d="M4.6 0L-3.8 -4V4Z" fill="#0000ad" stroke="none" transform="translate(183.7 523.9) rotate(68.1) scale(1.1)"/><path d="M158.7 532.4C161.1 541.6 164 550.7 167.3 559.6C168 561.5 168.7 563.4 169.4 565.3" stroke="#00009f"/><path d="M4.6 0L-3.8 -4V4Z" fill="#00009f" stroke="none" transform="translate(166.8 558.2) rotate(70.2) scale(1.1)"/><path d="M90.8 338.9C94.2 342.9 97.5 346.9 100.8 351C104.4 355.5 108 360 111.5 364.6" stroke="#43ffb4"/><path d="M4.6 0L-3.8 -4V4Z" fill="#43ffb4" stroke="none" transform="translate(100.8 351) rotate(51.1) scale(1.1)"/><path d="M105.1 323.2C105.8 326.3 106.7 329.4 108 332.4C110.8 339.4 116.2 345 120.8 351C127.4 359.6 134.9 367.4 142.3 375.3C149.2 382.7 156.7 389.5 163.7 396.7C171 404.2 177.6 412.3 185.1 419.6C193.5 427.7 202.3 435.3 211.5 442.4" stroke="url(#g233)"/><path d="M4.6 0L-3.8 -4V4Z" fill="#39ffbe" stroke="none" transform="translate(142.3 375.3) rotate(46.7) scale(1.1)"/><path d="M165.1 370.3C172.2 376.4 179.3 382.3 186.5 388.2C194.7 394.8 203.1 401.2 211.5 407.4" stroke="url(#g234)"/><path d="M4.6 0L-3.8 -4V4Z" fill="#009cff" stroke="none" transform="translate(186.5 388.2) rotate(38.8) scale(1.1)"/><path d="M211.5 371.7C202.2 369.3 193 364.7 185.8 358.2C184.3 356.8 182.9 355.4 181.5 353.9" stroke="url(#g235)"/><path d="M4.6 0L-3.8 -4V4Z" fill="#0094ff" stroke="none" transform="translate(185.8 358.2) rotate(-137.9) scale(1.1)"/><path d="M211.5 330.3C205.1 331.2 198.6 332.4 192.3 333.9C187 335.1 180.7 334.6 176.5 338.2C173.9 340.4 172 343.5 170.8 346.7" stroke="url(#g236)"/><path d="M4.6 0L-3.8 -4V4Z" fill="#00b0ff" stroke="none" transform="translate(192.3 333.9) rotate(166.9) scale(1.1)"/></g><circle cx="0" cy="282.8" r="29" fill="#000" stroke="#fff" stroke-width="0"/></svg>
<path d="M138.6 1742.7v5M138.6 2308.2v-5M159.8 1742.7v3M159.8 2308.2v-3M181.1 1742.7v3M181.1 2308.2v-3M202.3 1742.7v3M202.3 2308.2v-3M223.6 1742.7v3M223.6 2308.2v-3M244.8 1742.7v5M244.8 2308.2v-5M266 1742.7v3M266 2308.2v-3M287.3 1742.7v3M287.3 2308.2v-3M308.5 1742.7v3M308.5 2308.2v-3M329.8 1742.7v3M329.8 2308.2v-3M351 1742.7v5M351 2308.2v-5M138.6 2308.2h5M351 2308.2h-5M138.6 2279.9h3M351 2279.9h-3M138.6 2251.7h3M351 2251.7h-3M138.6 2223.4h3M351 2223.4h-3M138.6 2195.1h3M351 2195.1h-3M138.6 2166.8h5M351 2166.8h-5M138.6 2138.6h3M351 2138.6h-3M138.6 2110.3h3M351 2110.3h-3M138.6 2082h3M351 2082h-3M138.6 2053.7h3M351 2053.7h-3M138.6 2025.5h5M351 2025.5h-5M138.6 1997.2h3M351 1997.2h-3M138.6 1968.9h3M351 1968.9h-3M138.6 1940.6h3M351 1940.6h-3M138.6 1912.3h3M351 1912.3h-3M138.6 1884.1h5M351 1884.1h-5M138.6 1855.8h3M351 1855.8h-3M138.6 1827.5h3M351 1827.5h-3M138.6 1799.2h3M351 1799.2h-3M138.6 1771h3M351 1771h-3M138.6 1742.7h5M351 1742.7h-5" stroke="#000" stroke-width="1" fill="none"/>
<rect x="138.6" y="1742.7" width="212.4" height="565.5" fill="none" stroke="#000" stroke-width="1.1"/>
<text x="137.8" y="2339.3" font-size="36" letter-spacing="-0.4" text-anchor="middle">0</text>
<text x="244" y="2339.3" font-size="36" letter-spacing="-0.4" text-anchor="middle">15</text>
<text x="350.2" y="2339.3" font-size="36" letter-spacing="-0.4" text-anchor="middle">30</text>
<text x="133.4" y="1755.9" font-size="36" letter-spacing="-0.9" text-anchor="end">40</text>
<text x="133.4" y="1897.3" font-size="36" letter-spacing="-0.9" text-anchor="end">20</text>
<text x="133.4" y="2038.7" font-size="36" letter-spacing="-0.9" text-anchor="end">0</text>
<text x="133.4" y="2180" font-size="36" letter-spacing="-0.9" text-anchor="end">−20</text>
<text x="133.4" y="2321.4" font-size="36" letter-spacing="-0.9" text-anchor="end">−40</text>
<svg x="620.7" y="1742.7" width="212.4" height="565.5" viewBox="0 0 212.4 565.5" preserveAspectRatio="none"><path d="M1.1 0V565.5" stroke="#fff" stroke-opacity=".55" stroke-width="1"/><path d="M0.0 252.2A30.6 30.6 0 0 1 25.4 265.6" stroke="#6a1020" stroke-width="3" fill="none"/><path d="M25.4 299.9A30.6 30.6 0 0 1 0.0 313.4" stroke="#6a1020" stroke-width="3" fill="none"/><path d="M0.0 248.2A34.6 34.6 0 0 1 28.0 262.4" stroke="#a83c44" stroke-width="2.5" stroke-opacity="0.7" fill="none"/><path d="M28.0 303.1A34.6 34.6 0 0 1 0.0 317.4" stroke="#a83c44" stroke-width="2.5" stroke-opacity="0.7" fill="none"/><g fill="none" stroke-width="1.7" stroke-linecap="butt"><path d="M2.2 256.4C2.5 242.2 2.7 227.9 2.9 213.6C3.1 191.7 2.9 169.8 2.9 147.9C2.7 98.8 2.2 49.8 1.4 0.7" stroke="url(#g237)"/><path d="M4.6 0L-3.8 -4V4Z" fill="#ff8200" stroke="none" transform="translate(2.9 147.9) rotate(-90.2) scale(1.1)"/><path d="M10 123.6C10.6 100.7 11.1 77.9 11.4 55C11.7 36.9 12 18.8 12.2 0.7" stroke="#ffbd00"/><path d="M4.6 0L-3.8 -4V4Z" fill="#ffbd00" stroke="none" transform="translate(11.4 55) rotate(-89.1) scale(1.1)"/><path d="M12.2 232.2C13.2 216.4 14.1 200.7 15 185C16.3 162.2 17.5 139.3 18.6 116.4C19.3 101.2 20 86 20.7 70.7C21.9 47.4 23.1 24.1 24.3 0.7" stroke="url(#g238)"/><path d="M4.6 0L-3.8 -4V4Z" fill="#ffb200" stroke="none" transform="translate(18.6 116.4) rotate(-87.2) scale(1.1)"/><path d="M40.7 89.3C42.3 76.9 43.8 64.6 45 52.2C46.8 35 48.2 17.9 49.3 0.7" stroke="#f8f500"/><path d="M4.6 0L-3.8 -4V4Z" fill="#f8f500" stroke="none" transform="translate(45 52.2) rotate(-84.2) scale(1.1)"/><path d="M24.3 243.6C28.4 229 32 214.2 35 199.3C39 179.9 41.1 160.2 44.3 140.7C48.2 117.4 53.6 94.2 56.4 70.7C59.3 47.5 60.9 24.1 61.4 0.7" stroke="url(#g239)"/><path d="M4.6 0L-3.8 -4V4Z" fill="#feed00" stroke="none" transform="translate(44.3 140.7) rotate(-80.6) scale(1.1)"/><path d="M65.7 56.4C67.3 45.2 69 34 70.7 22.9C71.9 15.5 73.1 8.1 74.3 0.7" stroke="#ceff29"/><path d="M4.6 0L-3.8 -4V4Z" fill="#ceff29" stroke="none" transform="translate(70.7 22.9) rotate(-81.1) scale(1.1)"/><path d="M22.9 265C26.3 260 29.4 254.7 32.2 249.3C39 235.9 42.1 220.9 46.4 206.4C50.7 192.3 53.7 177.8 57.9 163.6C61.4 151.6 66.1 140 69.3 127.9C74.2 109.2 76.6 89.9 79.3 70.7C82.6 47.5 85 24.1 86.4 0.7" stroke="url(#g240)"/><path d="M4.6 0L-3.8 -4V4Z" fill="#eeff09" stroke="none" transform="translate(57.9 163.6) rotate(-73.5) scale(1.1)"/><path d="M89.3 54.3C91.5 43.1 93.7 31.9 95.7 20.7C97 14.1 98.1 7.4 99.3 0.7" stroke="#a4ff53"/><path d="M4.6 0L-3.8 -4V4Z" fill="#a4ff53" stroke="none" transform="translate(95.7 20.7) rotate(-79.6) scale(1.1)"/><path d="M89.3 107.9C93.6 87.9 97.9 67.9 102.2 47.9C105.5 32.2 108.8 16.4 112.2 0.7" stroke="url(#g241)"/><path d="M4.6 0L-3.8 -4V4Z" fill="#63ff94" stroke="none" transform="translate(102.2 47.9) rotate(-78) scale(1.1)"/><path d="M116.4 248.6C108.8 248.5 101.1 249 93.6 250C85.9 251.1 78.4 253.4 70.7 255C62.9 256.7 50.9 267.1 47.2 260C46.3 258.5 45.9 256.7 45.7 255C45.5 251.5 48 248.3 49.3 245C54.4 231.7 61.9 219.4 67.9 206.4C74.1 192.8 79.9 178.9 85.7 165C92.9 148 100.1 130.9 106.4 113.6C113.3 94.8 119.8 75.8 125 56.4C130 38.1 134 19.5 137.2 0.7" stroke="url(#g242)"/><path d="M4.6 0L-3.8 -4V4Z" fill="#a4ff53" stroke="none" transform="translate(85.7 165) rotate(-67.3) scale(1.1)"/><path d="M121.4 112.2C128.1 97.4 134.3 82.4 140 67.2C148.2 45.4 155.3 23.2 161.4 0.7" stroke="url(#g243)"/><path d="M4.6 0L-3.8 -4V4Z" fill="#43ffb4" stroke="none" transform="translate(140 67.2) rotate(-69.4) scale(1.1)"/><path d="M117.9 137.2C128.3 117.6 137.9 97.6 146.4 77.2C156.9 52.2 166 26.7 173.6 0.7" stroke="url(#g244)"/><path d="M4.6 0L-3.8 -4V4Z" fill="#43ffb4" stroke="none" transform="translate(146.4 77.2) rotate(-67.2) scale(1.1)"/><path d="M162.2 62.2C165 54.8 167.8 47.4 170.7 40C175.9 26.9 181.1 13.8 186.4 0.7" stroke="#0ff8e7"/><path d="M4.6 0L-3.8 -4V4Z" fill="#0ff8e7" stroke="none" transform="translate(170.7 40) rotate(-68.6) scale(1.1)"/><path d="M182.9 66.4C185.9 61.2 188.5 55.7 190.7 50C196.8 34.5 199.6 17.4 199.3 0.7" stroke="#00e4f8"/><path d="M4.6 0L-3.8 -4V4Z" fill="#00e4f8" stroke="none" transform="translate(190.7 50) rotate(-68.6) scale(1.1)"/><path d="M211.4 240.7C202.7 238.7 193.9 236.8 185 235C175.5 233.2 166.1 230.6 156.4 230C139.6 229 123.3 237.2 106.4 237.2C101.2 237.2 95.1 239.4 90.7 236.4C88.2 234.7 86 232.2 85 229.3C83.2 224 88.6 218.7 90.7 213.6C94.4 204.7 99.3 196.4 103.6 187.9C116.2 163 127.9 137.6 142.2 113.6C151.1 98.5 161.3 84.1 170.7 69.3C184.8 47.1 198.6 24.7 212.2 2.2" stroke="url(#g245)"/><path d="M4.6 0L-3.8 -4V4Z" fill="#8dff6a" stroke="none" transform="translate(103.6 187.9) rotate(-63.2) scale(1.1)"/><path d="M111.4 214.3C111.7 210.7 112.4 207 113.6 203.6C116.2 195.6 123.1 189.8 127.9 182.9C139.4 166 150.8 149.1 162.2 132.2" stroke="url(#g246)"/><path d="M4.6 0L-3.8 -4V4Z" fill="#7dff7a" stroke="none" transform="translate(127.9 182.9) rotate(-55.6) scale(1.1)"/><path d="M186.4 113.6C191.4 109 195.9 103.9 200 98.6C204.3 93 208.1 87 211.4 80.7" stroke="#09f0ee"/><path d="M4.6 0L-3.8 -4V4Z" fill="#09f0ee" stroke="none" transform="translate(200 98.6) rotate(-52.5) scale(1.1)"/><path d="M186.4 211.4C180.9 209.6 175.5 206.9 170.7 203.6C167.1 201.1 162.9 198.8 160.7 195C157.1 188.8 159.2 180.4 161.4 173.6C162.6 170 164.5 166.8 166.4 163.6C171.3 155.5 178.1 148.5 185 142.2C192.9 134.9 201.9 128.6 211.4 123.6" stroke="url(#g247)"/><path d="M4.6 0L-3.8 -4V4Z" fill="#39ffbe" stroke="none" transform="translate(161.3 174.1) rotate(-72.1) scale(1.1)"/><path d="M211.4 203.6C207.2 203.5 202.3 202.3 199.3 199.3C196.7 196.7 195.8 192.8 195 189.3C194.2 186 193.5 182.6 194.3 179.3C195.1 176.1 196.7 172.8 199.3 170.7C202.6 168.2 207.4 167.9 211.4 168.6" stroke="url(#g248)"/><path d="M4.6 0L-3.8 -4V4Z" fill="#0060ff" stroke="none" transform="translate(194.8 188.6) rotate(-102.8) scale(1.1)"/><path d="M211.4 265.7C198.6 266.4 185.7 267.1 172.9 267.9C156.2 268.8 139.5 269.8 122.9 270.7" stroke="url(#g249)"/><path d="M4.6 0L-3.8 -4V4Z" fill="#eeff09" stroke="none" transform="translate(172.9 267.9) rotate(176.8) scale(1.1)"/><path d="M162.2 298.6C155.5 299.9 148.8 301.1 142.2 302.2C132.7 303.6 123.2 305.9 113.6 305.7C108.3 305.7 103.1 305.2 97.9 304.3" stroke="url(#g250)"/><path d="M4.6 0L-3.8 -4V4Z" fill="#deff19" stroke="none" transform="translate(142.2 302.2) rotate(171.1) scale(1.1)"/><path d="M48.6 299.3C45.9 298.4 42.8 298 40 298.6C38 299 35.8 299.6 34.3 301C30.1 305 39.4 311.4 42.2 316.4C45.7 322.8 49.5 329 53.6 335" stroke="#ff9400"/><path d="M4.6 0L-3.8 -4V4Z" fill="#ff9400" stroke="none" transform="translate(35.1 300.3) rotate(146.2) scale(1.1)"/><path d="M17.9 312.2L30 342.2" stroke="#ff1a00"/><path d="M2.2 313.9C2.8 327.2 3.3 340.5 3.6 353.9C4 373.9 3.6 393.9 3.6 413.9C3.5 464.3 3 514.8 2.2 565.3" stroke="url(#g251)"/><path d="M4.6 0L-3.8 -4V4Z" fill="#ff7a00" stroke="none" transform="translate(3.6 413.9) rotate(90.2) scale(1.1)"/><path d="M7.2 345.3C7.5 362.4 8 379.6 8.6 396.7C9.2 413.2 10.1 429.6 10.7 446C12.2 485.8 12.9 525.5 12.9 565.3" stroke="url(#g252)"/><path d="M4.6 0L-3.8 -4V4Z" fill="#ff8d00" stroke="none" transform="translate(10.7 446) rotate(87.9) scale(1.1)"/><path d="M19.3 439.6C19.8 452.2 20.2 464.8 20.7 477.4C21.9 506.7 23 536 24.3 565.3" stroke="#ffb200"/><path d="M4.6 0L-3.8 -4V4Z" fill="#ffb200" stroke="none" transform="translate(20.7 477.4) rotate(87.8) scale(1.1)"/><path d="M27.9 339.6C31.7 353.8 35 368.1 37.9 382.4C40.4 395.2 42.3 408.1 44.3 421C47.4 441.4 49.6 462 52.2 482.4C55.6 510 58.9 537.7 62.2 565.3" stroke="url(#g253)"/><path d="M4.6 0L-3.8 -4V4Z" fill="#ffd700" stroke="none" transform="translate(44.3 421) rotate(81.4) scale(1.1)"/><path d="M33.6 503.2C34.3 515.3 35 527.4 35.7 539.6C36.2 548.2 36.7 556.7 37.2 565.3" stroke="#f8f500"/><path d="M4.6 0L-3.8 -4V4Z" fill="#f8f500" stroke="none" transform="translate(35.7 539.6) rotate(86.7) scale(1.1)"/><path d="M54.3 358.9C57 367.2 59.7 375.5 62.2 383.9C64.1 390.5 66 397.2 67.9 403.9C70.4 412.9 72.7 421.9 75 431" stroke="url(#g254)"/><path d="M4.6 0L-3.8 -4V4Z" fill="#deff19" stroke="none" transform="translate(62.2 383.9) rotate(73.4) scale(1.1)"/><path d="M57.2 448.2C58.8 459.6 60.5 471 62.2 482.4C63.6 492 65 501.5 66.4 511C69.2 529.1 72.1 547.2 75 565.3" stroke="url(#g255)"/><path d="M4.6 0L-3.8 -4V4Z" fill="#beff39" stroke="none" transform="translate(62.2 482.4) rotate(81.6) scale(1.1)"/><path d="M72.2 383.9C75 392.9 77.8 402 80.7 411C82.9 417.7 85 424.4 87.2 431" stroke="url(#g256)"/><path d="M4.6 0L-3.8 -4V4Z" fill="#b4ff43" stroke="none" transform="translate(80.7 411) rotate(72.3) scale(1.1)"/><path d="M87.9 398.2C91 406.5 94.1 414.8 97.2 423.2C102.2 436.7 107.2 450.3 112.2 463.9" stroke="url(#g257)"/><path d="M4.6 0L-3.8 -4V4Z" fill="#7dff7a" stroke="none" transform="translate(97.2 423.2) rotate(69.7) scale(1.1)"/><path d="M211.4 311C202.8 313.5 193.9 315.2 185 316C175.5 316.9 166 316 156.4 316C142.2 316.1 127.8 317.7 113.6 316.7C101.6 315.9 89.8 313.2 77.9 311.7C71.7 311 63.5 305 59.3 309.6C57.9 311.2 57 313.2 56.4 315.3C54.9 321.3 60.9 326.9 63.6 332.4C67.7 340.9 73.5 348.4 77.9 356.7C83.4 367.3 87.4 378.6 92.2 389.6C99.4 406.2 105.9 423.2 113.6 439.6C120.3 454.1 125.7 469.5 135 482.4C139.7 489 146.3 494.2 150.7 501C156.9 510.5 159.6 521.9 163.6 532.4C167.7 543.3 171.5 554.2 175 565.3" stroke="url(#g258)"/><path d="M4.6 0L-3.8 -4V4Z" fill="#ceff29" stroke="none" transform="translate(77.9 356.7) rotate(62.6) scale(1.1)"/><path d="M4.6 0L-3.8 -4V4Z" fill="#29ffce" stroke="none" transform="translate(150.7 501) rotate(57.3) scale(1.1)"/><path d="M73.6 477.4C75.9 488.8 78 500.3 80 511.7C83.1 529.5 85.7 547.4 87.9 565.3" stroke="#beff39"/><path d="M4.6 0L-3.8 -4V4Z" fill="#beff39" stroke="none" transform="translate(80 511.7) rotate(80.3) scale(1.1)"/><path d="M84.3 480.3C86.2 490.8 88.1 501.2 90 511.7C93.2 529.6 96.3 547.4 99.3 565.3" stroke="#adff49"/><path d="M4.6 0L-3.8 -4V4Z" fill="#adff49" stroke="none" transform="translate(90 511.7) rotate(79.9) scale(1.1)"/><path d="M95.7 481C98.3 491.2 100.7 501.4 102.9 511.7C106.6 529.5 109.7 547.3 112.2 565.3" stroke="#63ff94"/><path d="M4.6 0L-3.8 -4V4Z" fill="#63ff94" stroke="none" transform="translate(102.9 511.7) rotate(78.1) scale(1.1)"/><path d="M106.4 483.9C109.3 493.1 111.9 502.4 114.3 511.7C118.8 529.4 122.3 547.3 125 565.3" stroke="#53ffa4"/><path d="M4.6 0L-3.8 -4V4Z" fill="#53ffa4" stroke="none" transform="translate(114.3 511.7) rotate(75.8) scale(1.1)"/><path d="M124.3 511C127 521.2 129.6 531.5 132.2 541.7C134.1 549.6 136 557.4 137.9 565.3" stroke="#43ffb4"/><path d="M4.6 0L-3.8 -4V4Z" fill="#43ffb4" stroke="none" transform="translate(132.2 541.7) rotate(76.1) scale(1.1)"/><path d="M101.4 368.2C105.2 375.5 109.2 382.6 113.6 389.6C119.3 398.7 126.4 406.9 132.2 416C138.4 425.9 143.2 436.7 149.3 446.7C156.6 458.5 164.4 470 172.9 481" stroke="url(#g259)"/><path d="M4.6 0L-3.8 -4V4Z" fill="#7dff7a" stroke="none" transform="translate(132.2 416) rotate(57.7) scale(1.1)"/><path d="M107.2 349.6C111 357.6 115.6 365.2 120.7 372.4C127 381.2 135.3 388.4 142.2 396.7C147.1 402.8 151.5 409.2 156.4 415.3C163.3 423.7 170.9 431.3 177.9 439.6C185.3 448.4 190.9 458.8 199.3 466.7C203.1 470.3 207.2 473.7 211.4 476.7" stroke="url(#g260)"/><path d="M4.6 0L-3.8 -4V4Z" fill="#7dff7a" stroke="none" transform="translate(156.4 415.3) rotate(50.8) scale(1.1)"/><path d="M137.2 348.9C135.3 350.1 133.5 351.8 132.9 353.9C132 356.7 134 359.7 135 362.4C139 373.4 148.9 382.4 159.3 387.4" stroke="url(#g261)"/><path d="M4.6 0L-3.8 -4V4Z" fill="#7dff7a" stroke="none" transform="translate(135.3 363.3) rotate(68.5) scale(1.1)"/><path d="M165 358.2C162.9 358.4 160.5 359.2 159.3 361C158.2 362.6 158.5 364.8 158.6 366.7C158.9 374 167.4 378.4 172.9 383.2C178.6 388.1 185.1 392.5 192.2 395.3C198.3 397.7 204.9 399.1 211.4 399.6" stroke="url(#g262)"/><path d="M4.6 0L-3.8 -4V4Z" fill="#0ff8e7" stroke="none" transform="translate(172.9 383.2) rotate(40.8) scale(1.1)"/><path d="M190 362.4C194.1 363.8 198.1 365.2 202.2 366.7C205.8 368.1 209.3 369.5 212.9 371" stroke="url(#g263)"/><path d="M4.6 0L-3.8 -4V4Z" fill="#00b0ff" stroke="none" transform="translate(209.4 369.6) rotate(22.2) scale(1.1)"/><path d="M188.6 423.2C191.7 425.3 194.8 427.4 197.9 429.6C202.4 432.7 206.9 435.8 211.4 438.9" stroke="#09f0ee"/><path d="M4.6 0L-3.8 -4V4Z" fill="#09f0ee" stroke="none" transform="translate(197.9 429.6) rotate(34.6) scale(1.1)"/><path d="M164.3 509.6C167.1 516.3 170 522.9 172.9 529.6C178.1 541.6 183.6 553.5 189.3 565.3" stroke="#009cff"/><path d="M4.6 0L-3.8 -4V4Z" fill="#009cff" stroke="none" transform="translate(172.9 529.6) rotate(66.3) scale(1.1)"/><path d="M172.2 506C175.5 513.1 178.9 520.3 182.2 527.4C188 540 193.7 552.6 199.3 565.3" stroke="#009cff"/><path d="M4.6 0L-3.8 -4V4Z" fill="#009cff" stroke="none" transform="translate(182.2 527.4) rotate(65.2) scale(1.1)"/><path d="M186.4 507.4C191.1 515.5 195.6 523.6 200 531.7C203.9 539 207.7 546.4 211.4 553.9" stroke="#009cff"/><path d="M4.6 0L-3.8 -4V4Z" fill="#009cff" stroke="none" transform="translate(200 531.7) rotate(61.8) scale(1.1)"/><path d="M212.9 334.2C209.9 333.1 206.7 332.3 203.6 331.7C199.8 331.1 195.9 331.4 192.2 331C184.4 330.1 176.7 328.4 169.3 326" stroke="url(#g264)"/><path d="M4.6 0L-3.8 -4V4Z" fill="#53ffa4" stroke="none" transform="translate(203.6 331.7) rotate(-170.4) scale(1.1)"/><path d="M83.6 318.2C80.8 316.7 76.8 314.8 74.3 316.7C72 318.5 72.7 322.4 72.9 325.3C73.1 330.5 75.8 335.7 79.3 339.6" stroke="url(#g265)"/><path d="M4.6 0L-3.8 -4V4Z" fill="#d7ff1f" stroke="none" transform="translate(74.7 316.5) rotate(149.2) scale(1.1)"/></g><circle cx="0" cy="282.8" r="29" fill="#000" stroke="#fff" stroke-width="0"/></svg>
<path d="M620.7 1742.7v5M620.7 2308.2v-5M641.9 1742.7v3M641.9 2308.2v-3M663.2 1742.7v3M663.2 2308.2v-3M684.4 1742.7v3M684.4 2308.2v-3M705.7 1742.7v3M705.7 2308.2v-3M726.9 1742.7v5M726.9 2308.2v-5M748.1 1742.7v3M748.1 2308.2v-3M769.4 1742.7v3M769.4 2308.2v-3M790.6 1742.7v3M790.6 2308.2v-3M811.9 1742.7v3M811.9 2308.2v-3M833.1 1742.7v5M833.1 2308.2v-5M620.7 2308.2h5M833.1 2308.2h-5M620.7 2279.9h3M833.1 2279.9h-3M620.7 2251.7h3M833.1 2251.7h-3M620.7 2223.4h3M833.1 2223.4h-3M620.7 2195.1h3M833.1 2195.1h-3M620.7 2166.8h5M833.1 2166.8h-5M620.7 2138.6h3M833.1 2138.6h-3M620.7 2110.3h3M833.1 2110.3h-3M620.7 2082h3M833.1 2082h-3M620.7 2053.7h3M833.1 2053.7h-3M620.7 2025.5h5M833.1 2025.5h-5M620.7 1997.2h3M833.1 1997.2h-3M620.7 1968.9h3M833.1 1968.9h-3M620.7 1940.6h3M833.1 1940.6h-3M620.7 1912.3h3M833.1 1912.3h-3M620.7 1884.1h5M833.1 1884.1h-5M620.7 1855.8h3M833.1 1855.8h-3M620.7 1827.5h3M833.1 1827.5h-3M620.7 1799.2h3M833.1 1799.2h-3M620.7 1771h3M833.1 1771h-3M620.7 1742.7h5M833.1 1742.7h-5" stroke="#000" stroke-width="1" fill="none"/>
<rect x="620.7" y="1742.7" width="212.4" height="565.5" fill="none" stroke="#000" stroke-width="1.1"/>
<text x="619.9" y="2339.3" font-size="36" letter-spacing="-0.4" text-anchor="middle">0</text>
<text x="726.1" y="2339.3" font-size="36" letter-spacing="-0.4" text-anchor="middle">15</text>
<text x="832.3" y="2339.3" font-size="36" letter-spacing="-0.4" text-anchor="middle">30</text>
<text x="615.5" y="1755.9" font-size="36" letter-spacing="-0.9" text-anchor="end">40</text>
<text x="615.5" y="1897.3" font-size="36" letter-spacing="-0.9" text-anchor="end">20</text>
<text x="615.5" y="2038.7" font-size="36" letter-spacing="-0.9" text-anchor="end">0</text>
<text x="615.5" y="2180" font-size="36" letter-spacing="-0.9" text-anchor="end">−20</text>
<text x="615.5" y="2321.4" font-size="36" letter-spacing="-0.9" text-anchor="end">−40</text>
<svg x="1104.7" y="1742.7" width="211.3" height="565.5" viewBox="0 0 212.4 565.5" preserveAspectRatio="none"><path d="M1.1 0V565.5" stroke="#fff" stroke-opacity=".55" stroke-width="1"/><path d="M0.0 252.3A30.4 30.4 0 0 1 23.3 263.2" stroke="#a02030" stroke-width="2.6" fill="none"/><path d="M23.3 302.3A30.4 30.4 0 0 1 0.0 313.1" stroke="#a02030" stroke-width="2.6" fill="none"/><path d="M0.0 248.6A34.2 34.2 0 0 1 25.4 259.9" stroke="#d06a60" stroke-width="2.2" stroke-opacity="0.6" fill="none"/><path d="M25.4 305.6A34.2 34.2 0 0 1 0.0 316.9" stroke="#d06a60" stroke-width="2.2" stroke-opacity="0.6" fill="none"/><g fill="none" stroke-width="1.7" stroke-linecap="butt"><path d="M2.3 249.3C2.6 237.4 2.8 225.5 3 213.6C3.3 191.7 3.1 169.8 3 147.9C2.8 98.8 2 49.8 0.8 0.7" stroke="url(#g266)"/><path d="M4.6 0L-3.8 -4V4Z" fill="#b4ff43" stroke="none" transform="translate(3 147.9) rotate(-90.3) scale(1.1)"/><path d="M9.4 123.6C10 100.7 10.5 77.9 10.8 55C11.1 36.9 11.4 18.8 11.5 0.7" stroke="#94ff63"/><path d="M4.6 0L-3.8 -4V4Z" fill="#94ff63" stroke="none" transform="translate(10.8 55) rotate(-89.1) scale(1.1)"/><path d="M9.4 247.9C10.2 241.2 10.9 234.5 11.5 227.9C13 213.6 14.1 199.3 15.1 185C16.7 162.2 17.6 139.3 18.7 116.4C19.4 101.2 20.1 86 20.8 70.7C22 47.4 23.2 24.1 24.4 0.7" stroke="url(#g267)"/><path d="M4.6 0L-3.8 -4V4Z" fill="#adff49" stroke="none" transform="translate(18.7 116.4) rotate(-87.2) scale(1.1)"/><path d="M33 60.7C33.6 48.3 34.4 36 35.1 23.6C35.6 16 36.1 8.3 36.5 0.7" stroke="#7dff7a"/><path d="M4.6 0L-3.8 -4V4Z" fill="#7dff7a" stroke="none" transform="translate(35.1 23.6) rotate(-86.5) scale(1.1)"/><path d="M28.7 203.6C29.5 192.6 30.5 181.7 31.5 170.7C33.4 151.6 36 132.6 38 113.6C39.5 99.3 40.9 85 42.3 70.7C44.5 47.4 46.7 24.1 48.7 0.7" stroke="url(#g268)"/><path d="M4.6 0L-3.8 -4V4Z" fill="#94ff63" stroke="none" transform="translate(38 113.6) rotate(-84) scale(1.1)"/><path d="M22.3 262.2C25.4 256.6 28.3 250.9 30.8 245C35.2 234.9 38.1 224.2 40.8 213.6C44.7 198.6 46.4 183.2 48.7 167.9C50.6 154.6 51.9 141.2 53.7 127.9C56.3 108.8 59.3 89.8 62.3 70.7C65.9 47.4 69.7 24 73.7 0.7" stroke="url(#g269)"/><path d="M4.6 0L-3.8 -4V4Z" fill="#7dff7a" stroke="none" transform="translate(48.7 167.9) rotate(-81.7) scale(1.1)"/><path d="M79.4 57.9C80.2 46.4 81.4 35 83 23.6C84 15.9 85.2 8.3 86.5 0.7" stroke="#009cff"/><path d="M4.6 0L-3.8 -4V4Z" fill="#009cff" stroke="none" transform="translate(83 23.6) rotate(-82.3) scale(1.1)"/><path d="M45.1 265.7C42 268.3 37.6 270.2 33.7 269.3C32.4 269 31 268.8 30.1 267.9C28.4 266 31.4 263.1 32.3 260.7C35.5 251.5 42.4 243.9 46.5 235C51.9 223.5 55.8 211.4 59.4 199.3C63.7 184.8 66 169.8 69.4 155C72.6 141.2 76.4 127.5 79.4 113.6C83.4 94.7 86 75.5 89.4 56.4C92.7 37.9 96 19.3 99.4 0.7" stroke="url(#g270)"/><path d="M4.6 0L-3.8 -4V4Z" fill="#00b0ff" stroke="none" transform="translate(69.4 155) rotate(-76.8) scale(1.1)"/><path d="M101.5 67.9C103 58.8 104.5 49.8 105.8 40.7C107.8 27.4 109.8 14.1 111.5 0.7" stroke="#0060ff"/><path d="M4.6 0L-3.8 -4V4Z" fill="#0060ff" stroke="none" transform="translate(105.8 40.7) rotate(-81.4) scale(1.1)"/><path d="M211.5 182.2C198.1 194.2 184.5 206.1 170.8 217.9C161.4 226 152.8 235.4 142.3 242.2C136.8 245.7 131.4 249.7 125.1 251.4C120 252.9 114.6 252.4 109.4 252.9C101.3 253.6 93.2 254.2 85.1 255C76.5 255.9 67.6 260.6 59.4 257.9C58.2 257.5 56.6 257.4 55.8 256.4C54.6 255 56.2 252.6 56.5 250.7C58.1 242.8 63.2 235.9 68 229.3C69.8 226.8 71.9 224.7 73.7 222.2C79.8 213.4 81.6 202.3 85.1 192.2C90.8 175.8 95.2 159 99.4 142.2C105.3 118.6 109.6 94.7 113.7 70.7C117.7 47.5 121 24.1 123.7 0.7" stroke="url(#g271)"/><path d="M4.6 0L-3.8 -4V4Z" fill="#09f0ee" stroke="none" transform="translate(68 229.3) rotate(-54.2) scale(1.1)"/><path d="M111.5 135.7C116.5 113.7 121 91.5 125.1 69.3C129.3 46.5 133.2 23.7 136.5 0.7" stroke="#0060ff"/><path d="M4.6 0L-3.8 -4V4Z" fill="#0060ff" stroke="none" transform="translate(125.1 69.3) rotate(-79.5) scale(1.1)"/><path d="M112.3 177.9C115.8 166 119.1 154.1 122.3 142.2C125.8 128.6 129.1 115 132.3 101.4C135.8 86.5 139.6 71.6 142.3 56.4C145.5 38 147.6 19.4 148.7 0.7" stroke="url(#g272)"/><path d="M4.6 0L-3.8 -4V4Z" fill="#0060ff" stroke="none" transform="translate(132.3 101.4) rotate(-76.8) scale(1.1)"/><path d="M120.1 176.4C121.9 171.5 123.5 166.5 125.1 161.4C128.9 149.4 132.2 137.3 135.1 125" stroke="#0094ff"/><path d="M4.6 0L-3.8 -4V4Z" fill="#0094ff" stroke="none" transform="translate(125.1 161.4) rotate(-72.5) scale(1.1)"/><path d="M152.3 54.3C153.6 43.5 155.3 32.8 157.3 22.2C158.6 15 160 7.8 161.5 0.7" stroke="#0060ff"/><path d="M4.6 0L-3.8 -4V4Z" fill="#0060ff" stroke="none" transform="translate(157.3 22.2) rotate(-79.7) scale(1.1)"/><path d="M88 245C87.9 242.1 88.4 239.1 89.4 236.4C91.2 231.7 96.1 228.8 99.4 225C106.7 216.6 114.7 208.7 120.8 199.3C126.6 190.4 131 180.6 135.1 170.7C140.4 158.1 143.4 144.6 147.3 131.4C153.2 111.3 159.4 91.2 163.7 70.7C168.5 47.7 171.9 24.2 173.7 0.7" stroke="url(#g273)"/><path d="M4.6 0L-3.8 -4V4Z" fill="#0094ff" stroke="none" transform="translate(147.3 131.4) rotate(-73.6) scale(1.1)"/><path d="M147.3 177.9C151.1 168.5 154.4 159 157.3 149.3C161.5 134.8 164.6 120 166.5 105" stroke="#0080ff"/><path d="M4.6 0L-3.8 -4V4Z" fill="#0080ff" stroke="none" transform="translate(157.3 149.3) rotate(-73.7) scale(1.1)"/><path d="M211.5 147.9C206.3 150.2 200.1 151.5 194.4 150.7C190.1 150.2 185.2 149.6 182.3 146.4C179.2 143.2 179.5 138 178.7 133.6C176.6 122.3 179.1 110.7 180.1 99.3C181.8 80.1 185.7 61.1 189.4 42.2C192.1 28.3 195.2 14.5 198.7 0.7" stroke="url(#g274)"/><path d="M4.6 0L-3.8 -4V4Z" fill="#009cff" stroke="none" transform="translate(180.1 99.3) rotate(-85.1) scale(1.1)"/><path d="M211.5 131.4C206.9 127.4 203 122.2 200.8 116.4C199.6 113.2 199.1 109.8 198.7 106.4C198 100.5 199 94.5 199.4 88.6C201 63.7 205.4 38.9 212.3 15" stroke="url(#g275)"/><path d="M4.6 0L-3.8 -4V4Z" fill="#009cff" stroke="none" transform="translate(199.4 88.6) rotate(-86.2) scale(1.1)"/><path d="M178.7 168.6C175.5 172.1 172.4 175.7 169.4 179.3C168.2 180.7 166.5 181.9 165.8 183.6C164.9 185.8 166.2 188.4 165.8 190.7C164.7 198.5 158.3 205.3 151.5 209.3" stroke="url(#g276)"/><path d="M4.6 0L-3.8 -4V4Z" fill="#000080" stroke="none" transform="translate(165.6 184.3) rotate(102.7) scale(1.1)"/><path d="M211.5 216.4C206 219.7 200.9 224.7 198.7 230.7C197.4 234.3 196.5 238.4 197.3 242.2C198.6 248.8 205.3 253.8 211.5 256.4" stroke="url(#g277)"/><path d="M4.6 0L-3.8 -4V4Z" fill="#7dff7a" stroke="none" transform="translate(198.7 230.7) rotate(110.1) scale(1.1)"/><path d="M195.1 268.6C196.6 267.8 198.3 266.7 198.7 265C199.1 263.2 197.5 261.6 196.5 260C193.1 254.4 185.3 251.7 178.7 251.4" stroke="url(#g278)"/><path d="M4.6 0L-3.8 -4V4Z" fill="#ceff29" stroke="none" transform="translate(180.2 251.5) rotate(-174.7) scale(1.1)"/><path d="M153 265C155.5 264.5 158.2 264.2 160.8 264.3C164 264.4 167.1 264.9 170.1 265.9" stroke="url(#g279)"/><path d="M4.6 0L-3.8 -4V4Z" fill="#30ffc7" stroke="none" transform="translate(168.8 265.5) rotate(15.1) scale(1.1)"/><path d="M100.8 291.4C100.2 292.6 99.7 293.8 99.4 295C98.2 300.4 104.5 305 108 309.3C115.5 318.8 126.8 325.1 138 330C148.3 334.5 159.7 336.3 170.8 337.9C184.3 339.7 198 339.9 211.5 338.6" stroke="url(#g280)"/><path d="M4.6 0L-3.8 -4V4Z" fill="#ceff29" stroke="none" transform="translate(138 330) rotate(23.6) scale(1.1)"/><path d="M84.4 313.6C79.8 310.8 75.3 307.9 70.8 305C66.6 302.3 62.4 299.5 58.3 296.7" stroke="#7dff7a"/><path d="M4.6 0L-3.8 -4V4Z" fill="#7dff7a" stroke="none" transform="translate(59.8 297.8) rotate(-146.2) scale(1.1)"/><path d="M128.7 310C126.1 308.3 123.1 305.2 123.7 302.2C124 300.5 125.3 299 126.5 297.9C128.4 296.1 131.2 295.6 133.7 295C136 294.5 138.4 294.2 140.8 294.3" stroke="url(#g281)"/><path d="M4.6 0L-3.8 -4V4Z" fill="#8dff6a" stroke="none" transform="translate(133.7 295) rotate(-13.5) scale(1.1)"/><path d="M153 316.4C149.7 315.2 145.9 312.8 145.1 309.3C144.6 306.9 145.5 304.3 146.5 302.2C147.9 299.4 150.5 297.4 153 295.7C156.3 293.4 160.4 292 164.4 291.4" stroke="url(#g282)"/><path d="M4.6 0L-3.8 -4V4Z" fill="#adff49" stroke="none" transform="translate(153 295.7) rotate(-34.6) scale(1.1)"/><path d="M177.3 310C176.4 308 175.8 305.6 176.5 303.6C177.7 300.6 182.1 300.3 185.1 299.3C190.5 297.5 196.5 297.8 202.3 297.9C205.6 297.9 208.9 298.2 212.3 298.6" stroke="url(#g283)"/><path d="M4.6 0L-3.8 -4V4Z" fill="#7dff7a" stroke="none" transform="translate(202.3 297.9) rotate(180.8) scale(1.1)"/><path d="M25.8 302.2C28.9 305.1 32 307.9 35.1 310.7C38.9 314.1 42.2 318.2 46.5 320.7C50.9 323.3 56 324.2 60.8 325.7C68.8 328.3 77 330.1 85.1 332.2C94.6 334.5 104.1 336.8 113.7 338.9" stroke="url(#g284)"/><path d="M4.6 0L-3.8 -4V4Z" fill="#53ffa4" stroke="none" transform="translate(60.8 325.7) rotate(17.6) scale(1.1)"/><path d="M2.3 311C2.6 322.9 3.1 334.8 3.7 346.7C4.3 358.6 5.2 370.5 5.8 382.4C6.4 393.4 6.8 404.3 7.3 415.3C8.1 437.7 8.7 460.1 9.4 482.4C10.2 510.1 10.9 537.7 11.5 565.3" stroke="url(#g285)"/><path d="M4.6 0L-3.8 -4V4Z" fill="#39ffbe" stroke="none" transform="translate(7.3 415.3) rotate(87.7) scale(1.1)"/><path d="M9.4 309.6C11.4 319.6 13.3 329.6 15.1 339.6C17.2 351.5 19 363.4 20.8 375.3C23.3 391.5 25.8 407.7 28 423.9C31.2 448.1 33.1 472.5 36.5 496.7C39.8 519.7 43.6 542.5 48 565.3" stroke="url(#g286)"/><path d="M4.6 0L-3.8 -4V4Z" fill="#00b0ff" stroke="none" transform="translate(28 423.9) rotate(82.3) scale(1.1)"/><path d="M19.4 319.6C21.9 326.2 24.2 332.9 26.5 339.6C28.5 345.3 30.2 351.1 32.3 356.7C33.6 360.6 34.9 364.4 36.5 368.2C39.3 374.6 42.2 381.2 46.5 386.7C49.5 390.4 52.3 394.8 56.5 396.7C57.9 397.4 59.3 398.1 60.8 398.2C64.9 398.2 65.6 391.5 68 388.2C71.5 383.2 75.1 378.2 78.7 373.2" stroke="url(#g287)"/><path d="M4.6 0L-3.8 -4V4Z" fill="#00b0ff" stroke="none" transform="translate(36.5 368.2) rotate(66.6) scale(1.1)"/><path d="M18 496.7C18.8 500 19.5 503.4 20.1 506.7C23.8 525.9 25.2 545.7 24.4 565.3" stroke="#00b0ff"/><path d="M4.6 0L-3.8 -4V4Z" fill="#00b0ff" stroke="none" transform="translate(20 506) rotate(78.9) scale(1.1)"/><path d="M43.7 428.2C48 443.9 52.3 459.6 56.5 475.3C59.9 487.7 62.6 500.3 66.5 512.4C68.7 519.2 71.4 525.7 73.7 532.4C74.9 536 76.1 539.6 77.3 543.2" stroke="url(#g288)"/><path d="M4.6 0L-3.8 -4V4Z" fill="#0000c4" stroke="none" transform="translate(66.5 512.4) rotate(72) scale(1.1)"/><path d="M77.3 543.2C77 532.4 76.8 521.7 76.5 511C76.3 502 76.1 492.9 75.8 483.9" stroke="#0000b6"/><path d="M47.3 483.9C50.3 494.6 53.4 505.3 56.5 516C58.9 523.9 61 531.8 63.7 539.6C66.7 548.3 70 556.9 73.7 565.3" stroke="#00009f"/><path d="M4.6 0L-3.8 -4V4Z" fill="#00009f" stroke="none" transform="translate(56.5 516) rotate(73.5) scale(1.1)"/><path d="M112.3 565.3C108.8 552 105.5 538.7 102.3 525.3C99.8 515.3 97.1 505.4 95.1 495.3C91.5 476.9 88.3 458.3 88 439.6C87.8 431.7 88.1 423.9 88.7 416" stroke="url(#g289)"/><path d="M4.6 0L-3.8 -4V4Z" fill="#0000ff" stroke="none" transform="translate(95.1 495.3) rotate(-101.2) scale(1.1)"/><path d="M85.1 565.3C82.7 542.5 80.8 519.6 79.4 496.7C78.8 487.2 78 477.7 78 468.2C78 458.6 78.7 449.1 79.4 439.6C80.1 430 80.8 420.5 82.3 411C83.7 401.4 84.6 391.5 88 382.4C90.8 374.9 93.6 366.7 99.4 361C102.3 358.2 105.8 355.8 109.4 353.9C119.1 348.6 131.2 349.1 142.3 348.9C155.2 348.6 167.9 354.1 180.8 353.9C191.2 353.7 201.5 352.2 211.5 349.6" stroke="url(#g290)"/><path d="M4.6 0L-3.8 -4V4Z" fill="#0014ff" stroke="none" transform="translate(81.8 414.6) rotate(-82.5) scale(1.1)"/><path d="M149.4 565.3C145.3 556.7 141 548.1 136.5 539.6C131.5 530 125.4 520.9 120.8 511C116.3 501.3 112.9 491.1 109.4 481C107.9 476.7 106.3 472.5 105.1 468.2C101.2 454.3 100 439.7 99.4 425.3C98.9 411.5 99.6 397.6 101.5 383.9" stroke="url(#g291)"/><path d="M4.6 0L-3.8 -4V4Z" fill="#0000da" stroke="none" transform="translate(109.4 481) rotate(-109.2) scale(1.1)"/><path d="M114.4 446.7C113.6 442 112.9 437.2 112.3 432.4C111.3 425.3 110.8 418.2 110.1 411C109.3 402.7 108.6 394.4 108 386" stroke="#0000ff"/><path d="M4.6 0L-3.8 -4V4Z" fill="#0000ff" stroke="none" transform="translate(112.3 432.4) rotate(-97.4) scale(1.1)"/><path d="M211.5 471.7C202.7 467.7 193.9 463.6 185.1 459.6C175.3 455.1 164.5 452.4 155.8 446C148.3 440.4 141.7 433.2 136.5 425.3C132.2 418.7 129 411.4 126.5 403.9C124.4 397.2 122.9 390.2 122.3 383.2" stroke="url(#g292)"/><path d="M4.6 0L-3.8 -4V4Z" fill="#0000da" stroke="none" transform="translate(155.8 446) rotate(-143.3) scale(1.1)"/><path d="M211.5 441C203.5 435.7 195.8 429.7 188.7 423.2C185 419.7 181.2 416.3 178 412.4C173.9 407.6 169.1 402.8 167.3 396.7C166.4 394 165.9 391.1 165.8 388.2" stroke="url(#g293)"/><path d="M4.6 0L-3.8 -4V4Z" fill="#004cff" stroke="none" transform="translate(188.7 423.2) rotate(-137.4) scale(1.1)"/><path d="M120.8 456.7C121.6 460.3 123 463.8 125.1 466.7C128.3 471.2 133.5 474.1 138.7 476C140.3 476.6 142 477.3 143.7 477.4C148.6 477.8 153.5 474.2 156.5 470.3" stroke="#0000ad"/><path d="M4.6 0L-3.8 -4V4Z" fill="#0000ad" stroke="none" transform="translate(138.7 476) rotate(20.3) scale(1.1)"/><path d="M133 493.9C135.1 499.2 139.4 506.2 145.1 506C148.3 505.9 151 503.5 153.7 501.7C157.8 499.1 161.4 495.6 164.4 491.7" stroke="#0000ad"/><path d="M4.6 0L-3.8 -4V4Z" fill="#0000ad" stroke="none" transform="translate(153.7 501.7) rotate(146.9) scale(1.1)"/><path d="M211.5 491C207.1 493.1 202.6 495 198 496.7C191.9 499 183.2 497.2 179.4 502.4C178 504.3 177.4 506.7 176.5 508.9C174.3 514.2 172.6 519.8 170.8 525.3C166.7 538.4 163.3 551.8 160.8 565.3" stroke="url(#g294)"/><path d="M4.6 0L-3.8 -4V4Z" fill="#0000c4" stroke="none" transform="translate(176.5 508.9) rotate(112.6) scale(1.1)"/><path d="M211.5 509.6C204.5 510 196.5 512.5 192.3 518.2C189.3 522.1 189 527.6 188 532.4C185.6 543.2 185.2 554.4 186.5 565.3" stroke="url(#g295)"/><path d="M4.6 0L-3.8 -4V4Z" fill="#0000da" stroke="none" transform="translate(191.8 518.8) rotate(123.4) scale(1.1)"/></g><circle cx="0" cy="282.8" r="29" fill="#000" stroke="#fff" stroke-width="0"/></svg>
<path d="M1104.7 1742.7v5M1104.7 2308.2v-5M1125.8 1742.7v3M1125.8 2308.2v-3M1147 1742.7v3M1147 2308.2v-3M1168.1 1742.7v3M1168.1 2308.2v-3M1189.2 1742.7v3M1189.2 2308.2v-3M1210.4 1742.7v5M1210.4 2308.2v-5M1231.5 1742.7v3M1231.5 2308.2v-3M1252.6 1742.7v3M1252.6 2308.2v-3M1273.7 1742.7v3M1273.7 2308.2v-3M1294.9 1742.7v3M1294.9 2308.2v-3M1316 1742.7v5M1316 2308.2v-5M1104.7 2308.2h5M1316 2308.2h-5M1104.7 2279.9h3M1316 2279.9h-3M1104.7 2251.7h3M1316 2251.7h-3M1104.7 2223.4h3M1316 2223.4h-3M1104.7 2195.1h3M1316 2195.1h-3M1104.7 2166.8h5M1316 2166.8h-5M1104.7 2138.6h3M1316 2138.6h-3M1104.7 2110.3h3M1316 2110.3h-3M1104.7 2082h3M1316 2082h-3M1104.7 2053.7h3M1316 2053.7h-3M1104.7 2025.5h5M1316 2025.5h-5M1104.7 1997.2h3M1316 1997.2h-3M1104.7 1968.9h3M1316 1968.9h-3M1104.7 1940.6h3M1316 1940.6h-3M1104.7 1912.3h3M1316 1912.3h-3M1104.7 1884.1h5M1316 1884.1h-5M1104.7 1855.8h3M1316 1855.8h-3M1104.7 1827.5h3M1316 1827.5h-3M1104.7 1799.2h3M1316 1799.2h-3M1104.7 1771h3M1316 1771h-3M1104.7 1742.7h5M1316 1742.7h-5" stroke="#000" stroke-width="1" fill="none"/>
<rect x="1104.7" y="1742.7" width="211.3" height="565.5" fill="none" stroke="#000" stroke-width="1.1"/>
<text x="1103.9" y="2339.3" font-size="36" letter-spacing="-0.4" text-anchor="middle">0</text>
<text x="1209.6" y="2339.3" font-size="36" letter-spacing="-0.4" text-anchor="middle">15</text>
<text x="1315.2" y="2339.3" font-size="36" letter-spacing="-0.4" text-anchor="middle">30</text>
<text x="1099.5" y="1755.9" font-size="36" letter-spacing="-0.9" text-anchor="end">40</text>
<text x="1099.5" y="1897.3" font-size="36" letter-spacing="-0.9" text-anchor="end">20</text>
<text x="1099.5" y="2038.7" font-size="36" letter-spacing="-0.9" text-anchor="end">0</text>
<text x="1099.5" y="2180" font-size="36" letter-spacing="-0.9" text-anchor="end">−20</text>
<text x="1099.5" y="2321.4" font-size="36" letter-spacing="-0.9" text-anchor="end">−40</text>
</svg>
</div>
</body></html>
